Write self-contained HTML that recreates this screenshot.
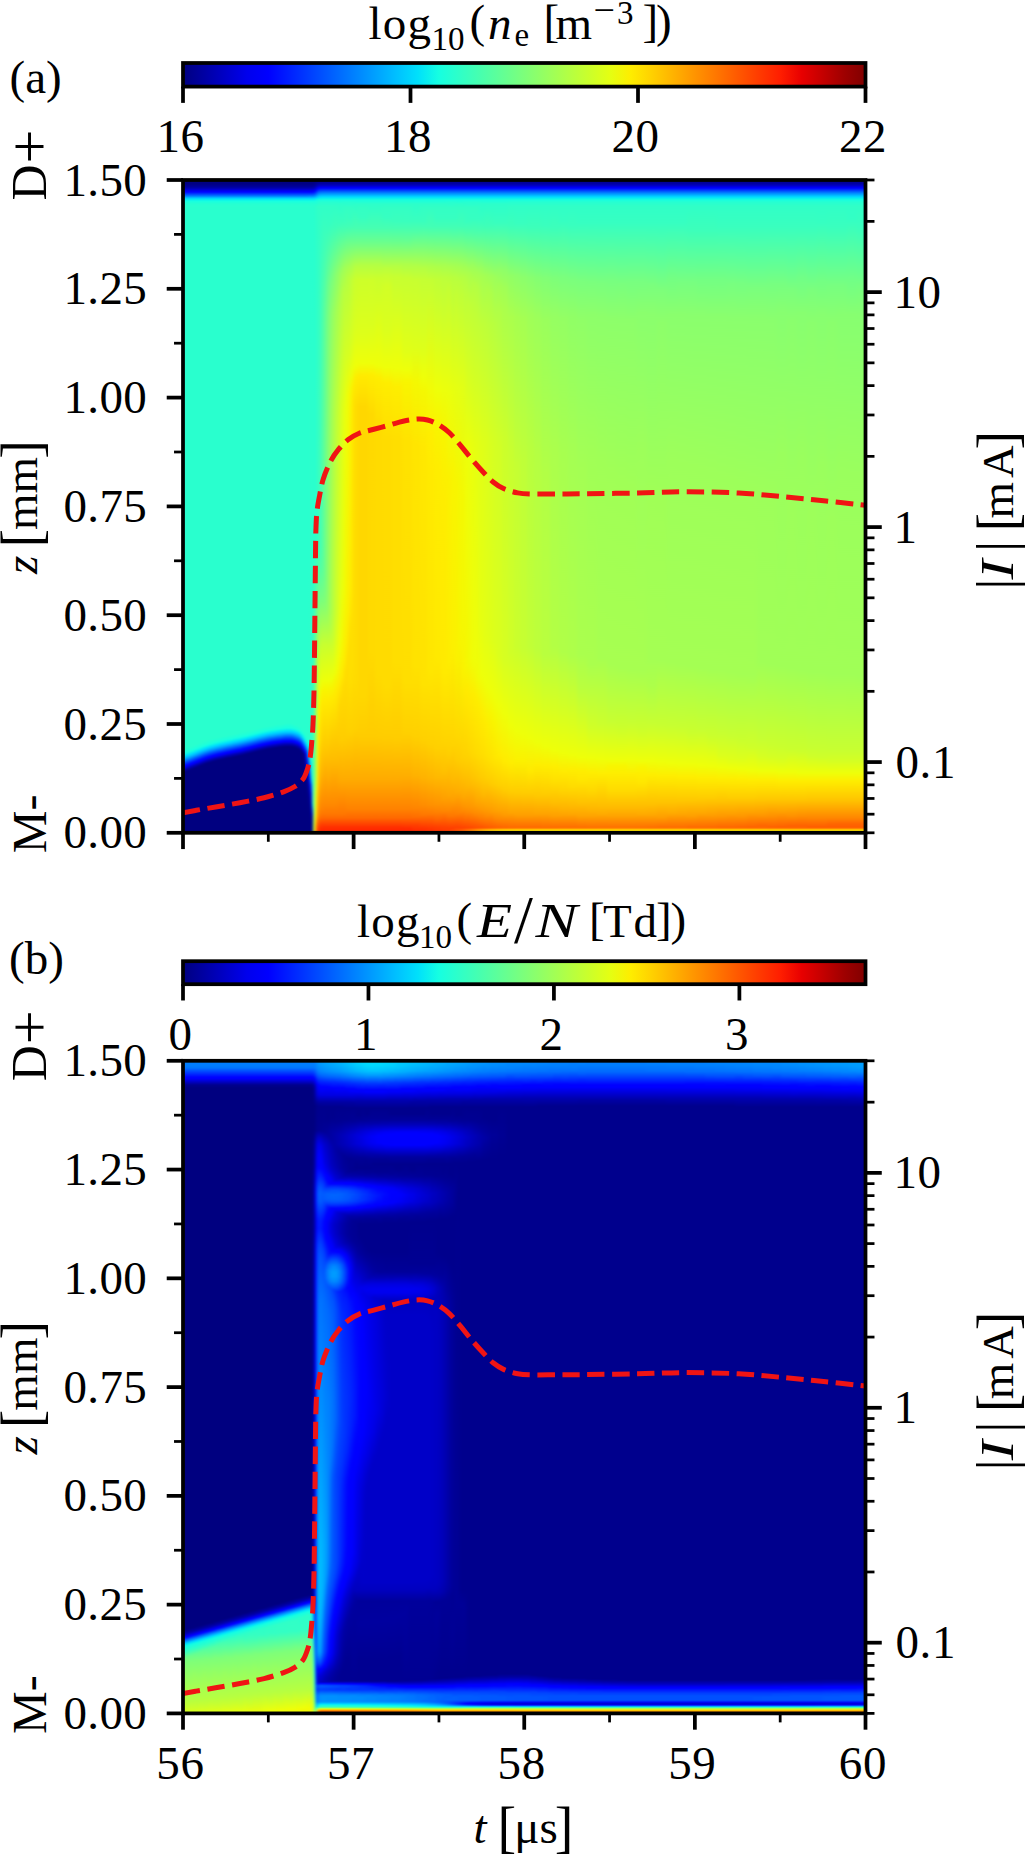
<!DOCTYPE html>
<html lang="en">
<head>
<meta charset="utf-8">
<title>Figure</title>
<style>html,body{margin:0;padding:0;background:#fff}#fig{position:relative;width:1025px;height:1855px;overflow:hidden;background:#fff}.hm{position:absolute;overflow:hidden}.in{position:absolute;left:-8px;right:-8px;top:0;bottom:0;filter:url(#hb)}.in i{position:absolute;top:0;bottom:0;display:block}svg{position:absolute;left:0;top:0;display:block}</style>
</head>
<body>
<div id="fig">
<div class="hm" style="left:183px;top:180px;width:683px;height:653px"><div class="in">
<i style="left:0px;width:10px;background:linear-gradient(#000080 0%,#000084 .61%,#00009f 1.07%,#0000c4 1.38%,#0000f6 1.68%,#0004ff 1.84%,#003cff 2.14%,#007cff 2.45%,#00c8ff 2.76%,#00e4f8 2.91%,#16ffe1 3.22%,#26ffd1 3.68%,#29ffce 4.13%,#29ffce 87.14%,#1cffdb 87.75%,#0cf4eb 88.06%,#00e4f8 88.21%,#00c4ff 88.51%,#0098ff 88.82%,#0018ff 89.59%,#0004ff 89.74%,#0000fa 89.89%,#0000a8 90.35%,#000084 90.66%,#000080 90.81%,#000080 100%)"></i>
<i style="left:9px;width:2px;background:linear-gradient(#000080 0%,#000084 .61%,#00009f 1.07%,#0000c4 1.38%,#0000f6 1.68%,#0004ff 1.84%,#003cff 2.14%,#007cff 2.45%,#00c8ff 2.76%,#00e4f8 2.91%,#16ffe1 3.22%,#26ffd1 3.68%,#29ffce 4.13%,#29ffce 87.14%,#19ffde 87.75%,#09f0ee 88.06%,#00d0ff 88.36%,#00a8ff 88.67%,#0058ff 89.13%,#0000ff 89.74%,#0000f1 89.89%,#00008d 90.51%,#000080 90.66%,#000080 100%)"></i>
<i style="left:10px;width:2px;background:linear-gradient(#000080 0%,#000084 .61%,#00009f 1.07%,#0000c4 1.38%,#0000f6 1.68%,#0004ff 1.84%,#003cff 2.14%,#007cff 2.45%,#00c8ff 2.76%,#00e4f8 2.91%,#16ffe1 3.22%,#26ffd1 3.68%,#29ffce 4.13%,#29ffce 86.98%,#23ffd4 87.44%,#16ffe1 87.75%,#00dcfe 88.21%,#00a0ff 88.67%,#0020ff 89.43%,#0000ff 89.74%,#00009b 90.35%,#000080 90.66%,#000080 100%)"></i>
<i style="left:11px;width:2px;background:linear-gradient(#000080 0%,#000084 .61%,#00009f 1.07%,#0000c4 1.38%,#0000f6 1.68%,#0004ff 1.84%,#003cff 2.14%,#007cff 2.45%,#00c8ff 2.76%,#00e4f8 2.91%,#16ffe1 3.22%,#26ffd1 3.68%,#29ffce 4.13%,#29ffce 86.98%,#1cffdb 87.6%,#0cf4eb 87.9%,#00e4f8 88.06%,#00c4ff 88.36%,#0004ff 89.59%,#0000fa 89.74%,#0000a8 90.2%,#000084 90.51%,#000080 90.66%,#000080 100%)"></i>
<i style="left:12px;width:2px;background:linear-gradient(#000080 0%,#000084 .61%,#00009f 1.07%,#0000c4 1.38%,#0000f6 1.68%,#0004ff 1.84%,#003cff 2.14%,#007cff 2.45%,#00c8ff 2.76%,#00e4f8 2.91%,#16ffe1 3.22%,#26ffd1 3.68%,#29ffce 4.13%,#29ffce 86.98%,#19ffde 87.6%,#09f0ee 87.9%,#00d0ff 88.21%,#00a8ff 88.51%,#0058ff 88.97%,#0000ff 89.59%,#0000f1 89.74%,#00008d 90.35%,#000080 90.51%,#000080 100%)"></i>
<i style="left:13px;width:2px;background:linear-gradient(#000080 0%,#000084 .61%,#00009f 1.07%,#0000c4 1.38%,#0000f6 1.68%,#0004ff 1.84%,#003cff 2.14%,#007cff 2.45%,#00c8ff 2.76%,#00e4f8 2.91%,#16ffe1 3.22%,#26ffd1 3.68%,#29ffce 4.13%,#29ffce 86.83%,#23ffd4 87.29%,#16ffe1 87.6%,#00dcfe 88.06%,#00a0ff 88.51%,#0020ff 89.28%,#0000ff 89.59%,#00009b 90.2%,#000080 90.51%,#000080 100%)"></i>
<i style="left:14px;width:2px;background:linear-gradient(#000080 0%,#000084 .61%,#00009f 1.07%,#0000c4 1.38%,#0000f6 1.68%,#0004ff 1.84%,#003cff 2.14%,#007cff 2.45%,#00c8ff 2.76%,#00e4f8 2.91%,#16ffe1 3.22%,#26ffd1 3.68%,#29ffce 4.13%,#29ffce 86.83%,#19ffde 87.44%,#0cf4eb 87.75%,#00e4f8 87.9%,#00c4ff 88.21%,#0098ff 88.51%,#0018ff 89.28%,#0004ff 89.43%,#0000fa 89.59%,#0000bf 89.89%,#000092 90.2%,#000080 90.51%,#000080 100%)"></i>
<i style="left:15px;width:2px;background:linear-gradient(#000080 0%,#000084 .61%,#00009f 1.07%,#0000c4 1.38%,#0000f6 1.68%,#0004ff 1.84%,#003cff 2.14%,#007cff 2.45%,#00c8ff 2.76%,#00e4f8 2.91%,#16ffe1 3.22%,#26ffd1 3.68%,#29ffce 4.13%,#29ffce 86.83%,#19ffde 87.44%,#00e0fb 87.9%,#00bcff 88.21%,#0010ff 89.28%,#0000ff 89.43%,#0000ed 89.59%,#00009f 90.05%,#000080 90.35%,#000080 100%)"></i>
<i style="left:16px;width:2px;background:linear-gradient(#000080 0%,#000084 .61%,#00009f 1.07%,#0000c4 1.38%,#0000f6 1.68%,#0004ff 1.84%,#003cff 2.14%,#007cff 2.45%,#00c8ff 2.76%,#00e4f8 2.91%,#16ffe1 3.22%,#26ffd1 3.68%,#29ffce 4.13%,#29ffce 86.68%,#23ffd4 87.14%,#16ffe1 87.44%,#02e8f4 87.75%,#00d8ff 87.9%,#00c8ff 88.06%,#0084ff 88.51%,#0034ff 88.97%,#0008ff 89.28%,#0000ff 89.43%,#0000ad 89.89%,#000089 90.2%,#000080 90.35%,#000080 100%)"></i>
<i style="left:17px;width:2px;background:linear-gradient(#000080 0%,#000084 .61%,#00009f 1.07%,#0000c4 1.38%,#0000f6 1.68%,#0004ff 1.84%,#003cff 2.14%,#007cff 2.45%,#00c8ff 2.76%,#00e4f8 2.91%,#16ffe1 3.22%,#26ffd1 3.68%,#29ffce 4.13%,#29ffce 86.68%,#19ffde 87.29%,#13fce4 87.44%,#00e4f8 87.75%,#00d4ff 87.9%,#00acff 88.21%,#005cff 88.67%,#0000ff 89.28%,#0000f6 89.43%,#0000bb 89.74%,#000080 90.2%,#000080 100%)"></i>
<i style="left:18px;width:2px;background:linear-gradient(#000080 0%,#000084 .61%,#00009f 1.07%,#0000c4 1.38%,#0000f6 1.68%,#0004ff 1.84%,#003cff 2.14%,#007cff 2.45%,#00c8ff 2.76%,#00e4f8 2.91%,#16ffe1 3.22%,#26ffd1 3.68%,#29ffce 4.13%,#29ffce 86.52%,#23ffd4 86.98%,#16ffe1 87.29%,#06ecf1 87.6%,#00dcfe 87.75%,#00ccff 87.9%,#00a4ff 88.21%,#006cff 88.51%,#000cff 89.13%,#0000ff 89.28%,#0000ed 89.43%,#0000b2 89.74%,#000089 90.05%,#000080 90.2%,#000080 100%)"></i>
<i style="left:19px;width:2px;background:linear-gradient(#000080 0%,#000084 .61%,#00009f 1.07%,#0000c4 1.38%,#0000f6 1.68%,#0004ff 1.84%,#003cff 2.14%,#007cff 2.45%,#00c8ff 2.76%,#00e4f8 2.91%,#16ffe1 3.22%,#26ffd1 3.68%,#29ffce 4.13%,#29ffce 86.52%,#1cffdb 87.14%,#0cf4eb 87.44%,#00d8ff 87.75%,#00b0ff 88.06%,#0048ff 88.67%,#0004ff 89.13%,#0000fa 89.28%,#0000a8 89.74%,#000084 90.05%,#000080 90.2%,#000080 100%)"></i>
<i style="left:20px;width:2px;background:linear-gradient(#000080 0%,#000084 .61%,#00009f 1.07%,#0000c4 1.38%,#0000f6 1.68%,#0004ff 1.84%,#003cff 2.14%,#007cff 2.45%,#00c8ff 2.76%,#00e4f8 2.91%,#16ffe1 3.22%,#26ffd1 3.68%,#29ffce 4.13%,#29ffce 86.52%,#19ffde 87.14%,#09f0ee 87.44%,#00d0ff 87.75%,#00a8ff 88.06%,#0058ff 88.51%,#0000ff 89.13%,#0000f1 89.28%,#0000b6 89.59%,#000080 90.05%,#000080 100%)"></i>
<i style="left:21px;width:2px;background:linear-gradient(#000080 0%,#000084 .61%,#00009f 1.07%,#0000c4 1.38%,#0000f6 1.68%,#0004ff 1.84%,#003cff 2.14%,#007cff 2.45%,#00c8ff 2.76%,#00e4f8 2.91%,#16ffe1 3.22%,#26ffd1 3.68%,#29ffce 4.13%,#29ffce 86.37%,#23ffd4 86.83%,#16ffe1 87.14%,#02e8f4 87.44%,#00d8ff 87.6%,#00c8ff 87.75%,#00a0ff 88.06%,#0068ff 88.36%,#0008ff 88.97%,#0000ff 89.13%,#0000ad 89.59%,#000089 89.89%,#000080 90.05%,#000080 100%)"></i>
<i style="left:22px;width:2px;background:linear-gradient(#000080 0%,#000084 .61%,#00009f 1.07%,#0000c4 1.38%,#0000f6 1.68%,#0004ff 1.84%,#003cff 2.14%,#007cff 2.45%,#00c8ff 2.76%,#00e4f8 2.91%,#16ffe1 3.22%,#26ffd1 3.68%,#29ffce 4.13%,#29ffce 86.37%,#19ffde 86.98%,#13fce4 87.14%,#00e4f8 87.44%,#00d4ff 87.6%,#00acff 87.9%,#0044ff 88.51%,#0000ff 88.97%,#0000f6 89.13%,#000092 89.74%,#000080 90.05%,#000080 100%)"></i>
<i style="left:23px;width:2px;background:linear-gradient(#000080 0%,#000084 .61%,#00009f 1.07%,#0000c4 1.38%,#0000f6 1.68%,#0004ff 1.84%,#003cff 2.14%,#007cff 2.45%,#00c8ff 2.76%,#00e4f8 2.91%,#16ffe1 3.22%,#26ffd1 3.68%,#29ffce 4.13%,#29ffce 86.22%,#23ffd4 86.68%,#16ffe1 86.98%,#06ecf1 87.29%,#00dcfe 87.44%,#00ccff 87.6%,#00a4ff 87.9%,#0024ff 88.67%,#0000ff 88.97%,#0000ed 89.13%,#0000b2 89.43%,#000089 89.74%,#000080 89.89%,#000080 100%)"></i>
<i style="left:24px;width:2px;background:linear-gradient(#000080 0%,#000084 .61%,#00009f 1.07%,#0000c4 1.38%,#0000f6 1.68%,#0004ff 1.84%,#003cff 2.14%,#007cff 2.45%,#00c8ff 2.76%,#00e4f8 2.91%,#16ffe1 3.22%,#26ffd1 3.68%,#29ffce 4.13%,#29ffce 86.22%,#1cffdb 86.83%,#0cf4eb 87.14%,#00d8ff 87.44%,#00b0ff 87.75%,#0004ff 88.82%,#0000ff 88.97%,#0000c4 89.28%,#000096 89.59%,#000084 89.74%,#000080 89.89%,#000080 100%)"></i>
<i style="left:25px;width:2px;background:linear-gradient(#000080 0%,#000084 .61%,#00009f 1.07%,#0000c4 1.38%,#0000f6 1.68%,#0004ff 1.84%,#003cff 2.14%,#007cff 2.45%,#00c8ff 2.76%,#00e4f8 2.91%,#16ffe1 3.22%,#26ffd1 3.68%,#29ffce 4.13%,#29ffce 86.22%,#19ffde 86.83%,#09f0ee 87.14%,#00d0ff 87.44%,#00a8ff 87.75%,#0058ff 88.21%,#0000ff 88.82%,#0000f1 88.97%,#00008d 89.59%,#000080 89.74%,#000080 100%)"></i>
<i style="left:26px;width:2px;background:linear-gradient(#000080 0%,#000084 .61%,#00009f 1.07%,#0000c4 1.38%,#0000f6 1.68%,#0004ff 1.84%,#003cff 2.14%,#007cff 2.45%,#00c8ff 2.76%,#00e4f8 2.91%,#16ffe1 3.22%,#26ffd1 3.68%,#29ffce 4.13%,#29ffce 86.06%,#23ffd4 86.52%,#16ffe1 86.83%,#00dcfe 87.29%,#00a0ff 87.75%,#0020ff 88.51%,#0000ff 88.82%,#00009b 89.43%,#000080 89.74%,#000080 100%)"></i>
<i style="left:27px;width:2px;background:linear-gradient(#000080 0%,#000084 .61%,#00009f 1.07%,#0000c4 1.38%,#0000f6 1.68%,#0004ff 1.84%,#003cff 2.14%,#007cff 2.45%,#00c8ff 2.76%,#00e4f8 2.91%,#16ffe1 3.22%,#26ffd1 3.68%,#29ffce 4.13%,#29ffce 86.06%,#19ffde 86.68%,#13fce4 86.83%,#00e4f8 87.14%,#00d4ff 87.29%,#0098ff 87.75%,#0060ff 88.06%,#0000ff 88.67%,#0000fa 88.82%,#0000bf 89.13%,#000092 89.43%,#000080 89.74%,#000080 100%)"></i>
<i style="left:28px;width:2px;background:linear-gradient(#000080 0%,#000084 .61%,#00009f 1.07%,#0000c4 1.38%,#0000f6 1.68%,#0004ff 1.84%,#003cff 2.14%,#007cff 2.45%,#00c8ff 2.76%,#00e4f8 2.91%,#16ffe1 3.22%,#26ffd1 3.68%,#29ffce 4.13%,#29ffce 85.91%,#19ffde 86.68%,#00e0fb 87.14%,#00bcff 87.44%,#003cff 88.21%,#0000ff 88.67%,#0000ed 88.82%,#00009f 89.28%,#000080 89.59%,#000080 100%)"></i>
<i style="left:29px;width:2px;background:linear-gradient(#000080 0%,#000084 .61%,#00009f 1.07%,#0000c4 1.38%,#0000f6 1.68%,#0004ff 1.84%,#003cff 2.14%,#007cff 2.45%,#00c8ff 2.76%,#00e4f8 2.91%,#16ffe1 3.22%,#26ffd1 3.68%,#29ffce 4.13%,#29ffce 85.91%,#23ffd4 86.37%,#16ffe1 86.68%,#02e8f4 86.98%,#00d8ff 87.14%,#00c8ff 87.29%,#0084ff 87.75%,#0034ff 88.21%,#0008ff 88.51%,#0000ff 88.67%,#0000ad 89.13%,#000084 89.43%,#000080 89.59%,#000080 100%)"></i>
<i style="left:30px;width:2px;background:linear-gradient(#000080 0%,#000084 .61%,#00009f 1.07%,#0000c4 1.38%,#0000f6 1.68%,#0004ff 1.84%,#003cff 2.14%,#007cff 2.45%,#00c8ff 2.76%,#00e4f8 2.91%,#16ffe1 3.22%,#26ffd1 3.68%,#29ffce 4.13%,#29ffce 85.91%,#19ffde 86.52%,#13fce4 86.68%,#00e4f8 86.98%,#00d4ff 87.14%,#00acff 87.44%,#005cff 87.9%,#0000ff 88.51%,#0000f6 88.67%,#0000bb 88.97%,#000080 89.43%,#000080 100%)"></i>
<i style="left:31px;width:2px;background:linear-gradient(#000080 0%,#000084 .61%,#00009f 1.07%,#0000c4 1.38%,#0000f6 1.68%,#0004ff 1.84%,#003cff 2.14%,#007cff 2.45%,#00c8ff 2.76%,#00e4f8 2.91%,#16ffe1 3.22%,#26ffd1 3.68%,#29ffce 4.13%,#29ffce 85.76%,#1fffd7 86.37%,#16ffe1 86.52%,#06ecf1 86.83%,#00dcfe 86.98%,#00ccff 87.14%,#00a4ff 87.44%,#0024ff 88.21%,#0000ff 88.51%,#0000ed 88.67%,#0000cd 88.82%,#00009f 89.13%,#000080 89.43%,#000080 100%)"></i>
<i style="left:32px;width:2px;background:linear-gradient(#000080 0%,#000084 .61%,#00009f 1.07%,#0000c4 1.38%,#0000f6 1.68%,#0004ff 1.84%,#003cff 2.14%,#007cff 2.45%,#00c8ff 2.76%,#00e4f8 2.91%,#16ffe1 3.22%,#26ffd1 3.68%,#29ffce 4.13%,#29ffce 85.76%,#23ffd4 86.22%,#16ffe1 86.52%,#02e8f4 86.83%,#00d8ff 86.98%,#00c8ff 87.14%,#009cff 87.44%,#001cff 88.21%,#0008ff 88.36%,#0000ff 88.51%,#0000c4 88.82%,#000096 89.13%,#000084 89.28%,#000080 89.43%,#000080 100%)"></i>
<i style="left:33px;width:2px;background:linear-gradient(#000080 0%,#000084 .61%,#00009f 1.07%,#0000c4 1.38%,#0000f6 1.68%,#0004ff 1.84%,#003cff 2.14%,#007cff 2.45%,#00c8ff 2.76%,#00e4f8 2.91%,#16ffe1 3.22%,#26ffd1 3.68%,#29ffce 4.13%,#29ffce 85.76%,#19ffde 86.37%,#13fce4 86.52%,#00e4f8 86.83%,#00d4ff 86.98%,#00acff 87.29%,#005cff 87.75%,#0000ff 88.36%,#0000f6 88.51%,#0000bb 88.82%,#000080 89.28%,#000080 100%)"></i>
<i style="left:34px;width:2px;background:linear-gradient(#000080 0%,#000084 .61%,#00009f 1.07%,#0000c4 1.38%,#0000f6 1.68%,#0004ff 1.84%,#003cff 2.14%,#007cff 2.45%,#00c8ff 2.76%,#00e4f8 2.91%,#16ffe1 3.22%,#26ffd1 3.68%,#29ffce 4.13%,#29ffce 85.6%,#19ffde 86.37%,#00e0fb 86.83%,#00a4ff 87.29%,#003cff 87.9%,#0000ff 88.36%,#0000ed 88.51%,#00009f 88.97%,#000080 89.28%,#000080 100%)"></i>
<i style="left:35px;width:2px;background:linear-gradient(#000080 0%,#000084 .61%,#00009f 1.07%,#0000c4 1.38%,#0000f6 1.68%,#0004ff 1.84%,#003cff 2.14%,#007cff 2.45%,#00c8ff 2.76%,#00e4f8 2.91%,#16ffe1 3.22%,#26ffd1 3.68%,#29ffce 4.13%,#29ffce 85.6%,#23ffd4 86.06%,#16ffe1 86.37%,#02e8f4 86.68%,#00d8ff 86.83%,#00c8ff 86.98%,#0008ff 88.21%,#0000ff 88.36%,#0000ad 88.82%,#000089 89.13%,#000080 89.28%,#000080 100%)"></i>
<i style="left:36px;width:2px;background:linear-gradient(#000080 0%,#000084 .61%,#00009f 1.07%,#0000c4 1.38%,#0000f6 1.68%,#0004ff 1.84%,#003cff 2.14%,#007cff 2.45%,#00c8ff 2.76%,#00e4f8 2.91%,#16ffe1 3.22%,#26ffd1 3.68%,#29ffce 4.13%,#29ffce 85.6%,#19ffde 86.22%,#0cf4eb 86.52%,#00e4f8 86.68%,#00c4ff 86.98%,#0098ff 87.29%,#0018ff 88.06%,#0004ff 88.21%,#0000fa 88.36%,#0000a8 88.82%,#000084 89.13%,#000080 89.28%,#000080 100%)"></i>
<i style="left:37px;width:2px;background:linear-gradient(#000080 0%,#000084 .61%,#00009f 1.07%,#0000c4 1.38%,#0000f6 1.68%,#0004ff 1.84%,#003cff 2.14%,#007cff 2.45%,#00c8ff 2.76%,#00e4f8 2.91%,#16ffe1 3.22%,#26ffd1 3.68%,#29ffce 4.13%,#29ffce 85.6%,#19ffde 86.22%,#09f0ee 86.52%,#00d0ff 86.83%,#00a8ff 87.14%,#0058ff 87.6%,#0000ff 88.21%,#0000f1 88.36%,#00008d 88.97%,#000080 89.13%,#000080 100%)"></i>
<i style="left:38px;width:2px;background:linear-gradient(#000080 0%,#000084 .61%,#00009f 1.07%,#0000c4 1.38%,#0000f6 1.68%,#0004ff 1.84%,#003cff 2.14%,#007cff 2.45%,#00c8ff 2.76%,#00e4f8 2.91%,#16ffe1 3.22%,#26ffd1 3.68%,#29ffce 4.13%,#29ffce 85.45%,#23ffd4 85.91%,#16ffe1 86.22%,#06ecf1 86.52%,#00dcfe 86.68%,#00ccff 86.83%,#00a4ff 87.14%,#006cff 87.44%,#000cff 88.06%,#0000ff 88.21%,#0000b2 88.67%,#000089 88.97%,#000080 89.13%,#000080 100%)"></i>
<i style="left:39px;width:2px;background:linear-gradient(#000080 0%,#000084 .61%,#00009f 1.07%,#0000c4 1.38%,#0000f6 1.68%,#0004ff 1.84%,#003cff 2.14%,#007cff 2.45%,#00c8ff 2.76%,#00e4f8 2.91%,#16ffe1 3.22%,#26ffd1 3.68%,#29ffce 4.13%,#29ffce 85.45%,#23ffd4 85.91%,#16ffe1 86.22%,#02e8f4 86.52%,#00d8ff 86.68%,#00c8ff 86.83%,#009cff 87.14%,#001cff 87.9%,#0008ff 88.06%,#0000ff 88.21%,#0000c4 88.51%,#000096 88.82%,#000084 88.97%,#000080 89.13%,#000080 100%)"></i>
<i style="left:40px;width:2px;background:linear-gradient(#000080 0%,#000084 .61%,#00009f 1.07%,#0000c4 1.38%,#0000f6 1.68%,#0004ff 1.84%,#003cff 2.14%,#007cff 2.45%,#00c8ff 2.76%,#00e4f8 2.91%,#16ffe1 3.22%,#26ffd1 3.68%,#29ffce 4.13%,#29ffce 85.45%,#19ffde 86.06%,#13fce4 86.22%,#00e4f8 86.52%,#00d4ff 86.68%,#00acff 86.98%,#0000ff 88.06%,#0000fa 88.21%,#0000bf 88.51%,#000092 88.82%,#000080 89.13%,#000080 100%)"></i>
<i style="left:41px;width:2px;background:linear-gradient(#000080 0%,#000084 .61%,#00009f 1.07%,#0000c4 1.38%,#0000f6 1.68%,#0004ff 1.84%,#003cff 2.14%,#007cff 2.45%,#00c8ff 2.76%,#00e4f8 2.91%,#16ffe1 3.22%,#26ffd1 3.68%,#29ffce 4.13%,#29ffce 85.45%,#19ffde 86.06%,#09f0ee 86.37%,#00d0ff 86.68%,#00a8ff 86.98%,#0058ff 87.44%,#0000ff 88.06%,#0000f1 88.21%,#00008d 88.82%,#000080 88.97%,#000080 100%)"></i>
<i style="left:42px;width:2px;background:linear-gradient(#000080 0%,#000084 .61%,#00009f 1.07%,#0000c4 1.38%,#0000f6 1.68%,#0004ff 1.84%,#003cff 2.14%,#007cff 2.45%,#00c8ff 2.76%,#00e4f8 2.91%,#16ffe1 3.22%,#26ffd1 3.68%,#29ffce 4.13%,#29ffce 85.3%,#23ffd4 85.76%,#16ffe1 86.06%,#06ecf1 86.37%,#00dcfe 86.52%,#00ccff 86.68%,#00a4ff 86.98%,#006cff 87.29%,#000cff 87.9%,#0000ff 88.06%,#0000ed 88.21%,#0000b2 88.51%,#000089 88.82%,#000080 88.97%,#000080 100%)"></i>
<i style="left:43px;width:2px;background:linear-gradient(#000080 0%,#000084 .61%,#00009f 1.07%,#0000c4 1.38%,#0000f6 1.68%,#0004ff 1.84%,#003cff 2.14%,#007cff 2.45%,#00c8ff 2.76%,#00e4f8 2.91%,#16ffe1 3.22%,#26ffd1 3.68%,#29ffce 4.13%,#29ffce 85.3%,#23ffd4 85.76%,#16ffe1 86.06%,#02e8f4 86.37%,#00d8ff 86.52%,#00c8ff 86.68%,#0084ff 87.14%,#0034ff 87.6%,#0008ff 87.9%,#0000ff 88.06%,#0000ad 88.51%,#000084 88.82%,#000080 88.97%,#000080 100%)"></i>
<i style="left:44px;width:2px;background:linear-gradient(#000080 0%,#000084 .61%,#00009f 1.07%,#0000c4 1.38%,#0000f6 1.68%,#0004ff 1.84%,#003cff 2.14%,#007cff 2.45%,#00c8ff 2.76%,#00e4f8 2.91%,#16ffe1 3.22%,#26ffd1 3.68%,#29ffce 4.13%,#29ffce 85.3%,#19ffde 85.91%,#0cf4eb 86.22%,#00e4f8 86.37%,#00c4ff 86.68%,#0098ff 86.98%,#0018ff 87.75%,#0004ff 87.9%,#0000fa 88.06%,#0000a8 88.51%,#000084 88.82%,#000080 88.97%,#000080 100%)"></i>
<i style="left:45px;width:2px;background:linear-gradient(#000080 0%,#000084 .61%,#00009f 1.07%,#0000c4 1.38%,#0000f6 1.68%,#0004ff 1.84%,#003cff 2.14%,#007cff 2.45%,#00c8ff 2.76%,#00e4f8 2.91%,#16ffe1 3.22%,#26ffd1 3.68%,#29ffce 4.13%,#29ffce 85.3%,#19ffde 85.91%,#13fce4 86.06%,#00e0fb 86.37%,#00d0ff 86.52%,#00a8ff 86.83%,#0000ff 87.9%,#0000f1 88.06%,#0000bb 88.36%,#000080 88.82%,#000080 100%)"></i>
<i style="left:46px;width:2px;background:linear-gradient(#000080 0%,#000084 .61%,#00009f 1.07%,#0000c4 1.38%,#0000f6 1.68%,#0004ff 1.84%,#003cff 2.14%,#007cff 2.45%,#00c8ff 2.76%,#00e4f8 2.91%,#16ffe1 3.22%,#26ffd1 3.68%,#29ffce 4.13%,#29ffce 85.15%,#1fffd7 85.76%,#16ffe1 85.91%,#00e0fb 86.37%,#00a4ff 86.83%,#0024ff 87.6%,#0000ff 87.9%,#0000ed 88.06%,#00009f 88.51%,#000080 88.82%,#000080 100%)"></i>
<i style="left:47px;width:2px;background:linear-gradient(#000080 0%,#000084 .61%,#00009f 1.07%,#0000c4 1.38%,#0000f6 1.68%,#0004ff 1.84%,#003cff 2.14%,#007cff 2.45%,#00c8ff 2.76%,#00e4f8 2.91%,#16ffe1 3.22%,#26ffd1 3.68%,#29ffce 4.13%,#29ffce 85.15%,#23ffd4 85.6%,#16ffe1 85.91%,#00dcfe 86.37%,#00a0ff 86.83%,#0020ff 87.6%,#0000ff 87.9%,#00009b 88.51%,#000080 88.82%,#000080 100%)"></i>
<i style="left:48px;width:2px;background:linear-gradient(#000080 0%,#000084 .61%,#00009f 1.07%,#0000c4 1.38%,#0000f6 1.68%,#0004ff 1.84%,#003cff 2.14%,#007cff 2.45%,#00c8ff 2.76%,#00e4f8 2.91%,#16ffe1 3.22%,#26ffd1 3.68%,#29ffce 4.13%,#29ffce 85.15%,#1cffdb 85.76%,#0cf4eb 86.06%,#00d8ff 86.37%,#00b0ff 86.68%,#0004ff 87.75%,#0000ff 87.9%,#0000c4 88.21%,#000096 88.51%,#000084 88.67%,#000080 88.82%,#000080 100%)"></i>
<i style="left:49px;width:2px;background:linear-gradient(#000080 0%,#000084 .61%,#00009f 1.07%,#0000c4 1.38%,#0000f6 1.68%,#0004ff 1.84%,#003cff 2.14%,#007cff 2.45%,#00c8ff 2.76%,#00e4f8 2.91%,#16ffe1 3.22%,#26ffd1 3.68%,#29ffce 4.13%,#29ffce 85.15%,#19ffde 85.76%,#13fce4 85.91%,#00e4f8 86.22%,#00d4ff 86.37%,#00acff 86.68%,#0044ff 87.29%,#0000ff 87.75%,#0000f6 87.9%,#000092 88.51%,#000080 88.82%,#000080 100%)"></i>
<i style="left:50px;width:2px;background:linear-gradient(#000080 0%,#000084 .61%,#00009f 1.07%,#0000c4 1.38%,#0000f6 1.68%,#0004ff 1.84%,#003cff 2.14%,#007cff 2.45%,#00c8ff 2.76%,#00e4f8 2.91%,#16ffe1 3.22%,#26ffd1 3.68%,#29ffce 4.13%,#29ffce 85.15%,#19ffde 85.76%,#09f0ee 86.06%,#00d0ff 86.37%,#00a8ff 86.68%,#0058ff 87.14%,#0000ff 87.75%,#0000f1 87.9%,#0000b6 88.21%,#000080 88.67%,#000080 100%)"></i>
<i style="left:51px;width:2px;background:linear-gradient(#000080 0%,#000084 .61%,#00009f 1.07%,#0000c4 1.38%,#0000f6 1.68%,#0004ff 1.84%,#003cff 2.14%,#007cff 2.45%,#00c8ff 2.76%,#00e4f8 2.91%,#16ffe1 3.22%,#26ffd1 3.68%,#29ffce 4.13%,#29ffce 84.99%,#23ffd4 85.45%,#16ffe1 85.76%,#06ecf1 86.06%,#00dcfe 86.22%,#00ccff 86.37%,#00a4ff 86.68%,#006cff 86.98%,#000cff 87.6%,#0000ff 87.75%,#0000ed 87.9%,#0000b2 88.21%,#000089 88.51%,#000080 88.67%,#000080 100%)"></i>
<i style="left:52px;width:3px;background:linear-gradient(#000080 0%,#000084 .61%,#00009f 1.07%,#0000c4 1.38%,#0000f6 1.68%,#0004ff 1.84%,#003cff 2.14%,#007cff 2.45%,#00c8ff 2.76%,#00e4f8 2.91%,#16ffe1 3.22%,#26ffd1 3.68%,#29ffce 4.13%,#29ffce 84.99%,#1cffdb 85.6%,#0cf4eb 85.91%,#00d8ff 86.22%,#00c6ff 86.37%,#0006ff 87.6%,#0000fc 87.75%,#0000ab 88.21%,#000086 88.51%,#000080 88.67%,#000080 100%)"></i>
<i style="left:54px;width:2px;background:linear-gradient(#000080 0%,#000084 .61%,#00009f 1.07%,#0000c4 1.38%,#0000f6 1.68%,#0004ff 1.84%,#003cff 2.14%,#007cff 2.45%,#00c8ff 2.76%,#00e4f8 2.91%,#16ffe1 3.22%,#26ffd1 3.68%,#29ffce 4.13%,#29ffce 84.99%,#19ffde 85.6%,#13fce4 85.76%,#00e4f8 86.06%,#00d4ff 86.22%,#00acff 86.52%,#005cff 86.98%,#0000ff 87.6%,#0000f6 87.75%,#0000bb 88.06%,#000080 88.51%,#000080 100%)"></i>
<i style="left:55px;width:2px;background:linear-gradient(#000080 0%,#000084 .61%,#00009f 1.07%,#0000c4 1.38%,#0000f6 1.68%,#0004ff 1.84%,#003cff 2.14%,#007cff 2.45%,#00c8ff 2.76%,#00e4f8 2.91%,#16ffe1 3.22%,#26ffd1 3.68%,#29ffce 4.13%,#29ffce 84.99%,#19ffde 85.6%,#09f0ee 85.91%,#00d0ff 86.22%,#00a8ff 86.52%,#0010ff 87.44%,#0000ff 87.6%,#0000f1 87.75%,#0000b6 88.06%,#000080 88.51%,#000080 100%)"></i>
<i style="left:56px;width:2px;background:linear-gradient(#000080 0%,#000084 .61%,#00009f 1.07%,#0000c4 1.38%,#0000f6 1.68%,#0004ff 1.84%,#003cff 2.14%,#007cff 2.45%,#00c8ff 2.76%,#00e4f8 2.91%,#16ffe1 3.22%,#26ffd1 3.68%,#29ffce 4.13%,#29ffce 84.84%,#23ffd4 85.3%,#16ffe1 85.6%,#06ecf1 85.91%,#00dcfe 86.06%,#00ccff 86.22%,#00a4ff 86.52%,#006cff 86.83%,#000cff 87.44%,#0000ff 87.6%,#0000b2 88.06%,#000089 88.36%,#000080 88.51%,#000080 100%)"></i>
<i style="left:57px;width:2px;background:linear-gradient(#000080 0%,#000084 .61%,#00009f 1.07%,#0000c4 1.38%,#0000f6 1.68%,#0004ff 1.84%,#003cff 2.14%,#007cff 2.45%,#00c8ff 2.76%,#00e4f8 2.91%,#16ffe1 3.22%,#26ffd1 3.68%,#29ffce 4.13%,#29ffce 84.84%,#23ffd4 85.3%,#16ffe1 85.6%,#02e8f4 85.91%,#00d8ff 86.06%,#00c8ff 86.22%,#0084ff 86.68%,#0034ff 87.14%,#0008ff 87.44%,#0000ff 87.6%,#0000ad 88.06%,#000089 88.36%,#000080 88.51%,#000080 100%)"></i>
<i style="left:58px;width:2px;background:linear-gradient(#000080 0%,#000084 .61%,#00009f 1.07%,#0000c4 1.38%,#0000f6 1.68%,#0004ff 1.84%,#003cff 2.14%,#007cff 2.45%,#00c8ff 2.76%,#00e4f8 2.91%,#16ffe1 3.22%,#26ffd1 3.68%,#29ffce 4.13%,#29ffce 84.84%,#1cffdb 85.45%,#0cf4eb 85.76%,#00e4f8 85.91%,#00c4ff 86.22%,#0004ff 87.44%,#0000fa 87.6%,#0000a8 88.06%,#000084 88.36%,#000080 88.51%,#000080 100%)"></i>
<i style="left:59px;width:3px;background:linear-gradient(#000080 0%,#000084 .61%,#00009f 1.07%,#0000c4 1.38%,#0000f6 1.68%,#0004ff 1.84%,#003cff 2.14%,#007cff 2.45%,#00c8ff 2.76%,#00e4f8 2.91%,#16ffe1 3.22%,#26ffd1 3.68%,#29ffce 4.13%,#29ffce 84.84%,#19ffde 85.45%,#00e2f9 85.91%,#00beff 86.22%,#0012ff 87.29%,#0000ff 87.44%,#0000f3 87.6%,#0000b8 87.9%,#000080 88.36%,#000080 100%)"></i>
<i style="left:61px;width:2px;background:linear-gradient(#000080 0%,#000084 .61%,#00009f 1.07%,#0000c4 1.38%,#0000f6 1.68%,#0004ff 1.84%,#003cff 2.14%,#007cff 2.45%,#00c8ff 2.76%,#00e4f8 2.91%,#16ffe1 3.22%,#26ffd1 3.68%,#29ffce 4.13%,#29ffce 84.69%,#23ffd4 85.15%,#16ffe1 85.45%,#06ecf1 85.76%,#00dcfe 85.91%,#00ccff 86.06%,#0088ff 86.52%,#0038ff 86.98%,#000cff 87.29%,#0000ff 87.44%,#00009b 88.06%,#000080 88.36%,#000080 100%)"></i>
<i style="left:62px;width:3px;background:linear-gradient(#000080 0%,#000084 .61%,#00009f 1.07%,#0000c4 1.38%,#0000f6 1.68%,#0004ff 1.84%,#003cff 2.14%,#007cff 2.45%,#00c8ff 2.76%,#00e4f8 2.91%,#16ffe1 3.22%,#26ffd1 3.68%,#29ffce 4.13%,#29ffce 84.69%,#1bffdc 85.3%,#0cf4eb 85.6%,#01e6f6 85.76%,#00c6ff 86.06%,#009aff 86.37%,#0032ff 86.98%,#0006ff 87.29%,#0000fc 87.44%,#0000ab 87.9%,#000084 88.21%,#000080 88.36%,#000080 100%)"></i>
<i style="left:64px;width:2px;background:linear-gradient(#000080 0%,#000084 .61%,#00009f 1.07%,#0000c4 1.38%,#0000f6 1.68%,#0004ff 1.84%,#003cff 2.14%,#007cff 2.45%,#00c8ff 2.76%,#00e4f8 2.91%,#16ffe1 3.22%,#26ffd1 3.68%,#29ffce 4.13%,#29ffce 84.69%,#19ffde 85.3%,#13fce4 85.45%,#00e4f8 85.76%,#00c0ff 86.06%,#0000ff 87.29%,#0000f6 87.44%,#0000bb 87.75%,#000080 88.21%,#000080 100%)"></i>
<i style="left:65px;width:2px;background:linear-gradient(#000080 0%,#000084 .61%,#00009f 1.07%,#0000c4 1.38%,#0000f6 1.68%,#0004ff 1.84%,#003cff 2.14%,#007cff 2.45%,#00c8ff 2.76%,#00e4f8 2.91%,#16ffe1 3.22%,#26ffd1 3.68%,#29ffce 4.13%,#29ffce 84.53%,#19ffde 85.3%,#00e0fb 85.76%,#00bcff 86.06%,#003cff 86.83%,#0000ff 87.29%,#0000ed 87.44%,#00009f 87.9%,#000080 88.21%,#000080 100%)"></i>
<i style="left:66px;width:2px;background:linear-gradient(#000080 0%,#000084 .61%,#00009f 1.07%,#0000c4 1.38%,#0000f6 1.68%,#0004ff 1.84%,#003cff 2.14%,#007cff 2.45%,#00c8ff 2.76%,#00e4f8 2.91%,#16ffe1 3.22%,#26ffd1 3.68%,#29ffce 4.13%,#29ffce 84.53%,#23ffd4 84.99%,#16ffe1 85.3%,#00dcfe 85.76%,#00a0ff 86.22%,#0020ff 86.98%,#0000ff 87.29%,#00009b 87.9%,#000080 88.21%,#000080 100%)"></i>
<i style="left:67px;width:2px;background:linear-gradient(#000080 0%,#000084 .61%,#00009f 1.07%,#0000c4 1.38%,#0000f6 1.68%,#0004ff 1.84%,#003cff 2.14%,#007cff 2.45%,#00c8ff 2.76%,#00e4f8 2.91%,#16ffe1 3.22%,#26ffd1 3.68%,#29ffce 4.13%,#29ffce 84.53%,#1cffdb 85.15%,#0cf4eb 85.45%,#00d8ff 85.76%,#009cff 86.22%,#0064ff 86.52%,#0004ff 87.14%,#0000ff 87.29%,#0000c4 87.6%,#000096 87.9%,#000084 88.06%,#000080 88.21%,#000080 100%)"></i>
<i style="left:68px;width:2px;background:linear-gradient(#000080 0%,#000084 .61%,#00009f 1.07%,#0000c4 1.38%,#0000f6 1.68%,#0004ff 1.84%,#003cff 2.14%,#007cff 2.45%,#00c8ff 2.76%,#00e4f8 2.91%,#16ffe1 3.22%,#26ffd1 3.68%,#29ffce 4.13%,#29ffce 84.53%,#19ffde 85.15%,#13fce4 85.3%,#00e4f8 85.6%,#00d4ff 85.76%,#00acff 86.06%,#0044ff 86.68%,#0000ff 87.14%,#0000f6 87.29%,#000092 87.9%,#000080 88.21%,#000080 100%)"></i>
<i style="left:69px;width:2px;background:linear-gradient(#000080 0%,#000084 .61%,#00009f 1.07%,#0000c4 1.38%,#0000f6 1.68%,#0004ff 1.84%,#003cff 2.14%,#007cff 2.45%,#00c8ff 2.76%,#00e4f8 2.91%,#16ffe1 3.22%,#26ffd1 3.68%,#29ffce 4.13%,#29ffce 84.53%,#19ffde 85.15%,#09f0ee 85.45%,#00d0ff 85.76%,#0090ff 86.22%,#0010ff 86.98%,#0000ff 87.14%,#0000f1 87.29%,#0000b6 87.6%,#000080 88.06%,#000080 100%)"></i>
<i style="left:70px;width:2px;background:linear-gradient(#000080 0%,#000084 .61%,#00009f 1.07%,#0000c4 1.38%,#0000f6 1.68%,#0004ff 1.84%,#003cff 2.14%,#007cff 2.45%,#00c8ff 2.76%,#00e4f8 2.91%,#16ffe1 3.22%,#26ffd1 3.68%,#29ffce 4.13%,#29ffce 84.38%,#23ffd4 84.84%,#16ffe1 85.15%,#06ecf1 85.45%,#00dcfe 85.6%,#00ccff 85.76%,#000cff 86.98%,#0000ff 87.14%,#0000b2 87.6%,#000089 87.9%,#000080 88.06%,#000080 100%)"></i>
<i style="left:71px;width:2px;background:linear-gradient(#000080 0%,#000084 .61%,#00009f 1.07%,#0000c4 1.38%,#0000f6 1.68%,#0004ff 1.84%,#003cff 2.14%,#007cff 2.45%,#00c8ff 2.76%,#00e4f8 2.91%,#16ffe1 3.22%,#26ffd1 3.68%,#29ffce 4.13%,#29ffce 84.38%,#23ffd4 84.84%,#16ffe1 85.15%,#02e8f4 85.45%,#00d8ff 85.6%,#00c8ff 85.76%,#009cff 86.06%,#001cff 86.83%,#0008ff 86.98%,#0000ff 87.14%,#0000c4 87.44%,#000096 87.75%,#000084 87.9%,#000080 88.06%,#000080 100%)"></i>
<i style="left:72px;width:2px;background:linear-gradient(#000080 0%,#000084 .61%,#00009f 1.07%,#0000c4 1.38%,#0000f6 1.68%,#0004ff 1.84%,#003cff 2.14%,#007cff 2.45%,#00c8ff 2.76%,#00e4f8 2.91%,#16ffe1 3.22%,#26ffd1 3.68%,#29ffce 4.13%,#29ffce 84.38%,#19ffde 84.99%,#13fce4 85.15%,#00e4f8 85.45%,#00d4ff 85.6%,#00acff 85.91%,#0000ff 86.98%,#0000fa 87.14%,#0000bf 87.44%,#000092 87.75%,#000080 88.06%,#000080 100%)"></i>
<i style="left:73px;width:2px;background:linear-gradient(#000080 0%,#000084 .61%,#00009f 1.07%,#0000c4 1.38%,#0000f6 1.68%,#0004ff 1.84%,#003cff 2.14%,#007cff 2.45%,#00c8ff 2.76%,#00e4f8 2.91%,#16ffe1 3.22%,#26ffd1 3.68%,#29ffce 4.13%,#29ffce 84.38%,#19ffde 84.99%,#09f0ee 85.3%,#00d0ff 85.6%,#00a8ff 85.91%,#0058ff 86.37%,#0000ff 86.98%,#0000f1 87.14%,#00008d 87.75%,#000080 87.9%,#000080 100%)"></i>
<i style="left:74px;width:2px;background:linear-gradient(#000080 0%,#000084 .61%,#00009f 1.07%,#0000c4 1.38%,#0000f6 1.68%,#0004ff 1.84%,#003cff 2.14%,#007cff 2.45%,#00c8ff 2.76%,#00e4f8 2.91%,#16ffe1 3.22%,#26ffd1 3.68%,#29ffce 4.13%,#29ffce 84.23%,#23ffd4 84.69%,#16ffe1 84.99%,#06ecf1 85.3%,#00dcfe 85.45%,#00ccff 85.6%,#00a4ff 85.91%,#006cff 86.22%,#000cff 86.83%,#0000ff 86.98%,#0000b2 87.44%,#000089 87.75%,#000080 87.9%,#000080 100%)"></i>
<i style="left:75px;width:2px;background:linear-gradient(#000080 0%,#000084 .61%,#00009f 1.07%,#0000c4 1.38%,#0000f6 1.68%,#0004ff 1.84%,#003cff 2.14%,#007cff 2.45%,#00c8ff 2.76%,#00e4f8 2.91%,#16ffe1 3.22%,#26ffd1 3.68%,#29ffce 4.13%,#29ffce 84.23%,#23ffd4 84.69%,#16ffe1 84.99%,#02e8f4 85.3%,#00d8ff 85.45%,#00c8ff 85.6%,#0084ff 86.06%,#001cff 86.68%,#0008ff 86.83%,#0000ff 86.98%,#0000c4 87.29%,#000096 87.6%,#000084 87.75%,#000080 87.9%,#000080 100%)"></i>
<i style="left:76px;width:2px;background:linear-gradient(#000080 0%,#000084 .61%,#00009f 1.07%,#0000c4 1.38%,#0000f6 1.68%,#0004ff 1.84%,#003cff 2.14%,#007cff 2.45%,#00c8ff 2.76%,#00e4f8 2.91%,#16ffe1 3.22%,#26ffd1 3.68%,#29ffce 4.13%,#29ffce 84.23%,#19ffde 84.84%,#13fce4 84.99%,#00e4f8 85.3%,#00d4ff 85.45%,#00acff 85.76%,#0000ff 86.83%,#0000fa 86.98%,#0000bf 87.29%,#000092 87.6%,#000080 87.9%,#000080 100%)"></i>
<i style="left:77px;width:2px;background:linear-gradient(#000080 0%,#000084 .61%,#00009f 1.07%,#0000c4 1.38%,#0000f6 1.68%,#0004ff 1.84%,#003cff 2.14%,#007cff 2.45%,#00c8ff 2.76%,#00e4f8 2.91%,#16ffe1 3.22%,#26ffd1 3.68%,#29ffce 4.13%,#29ffce 84.23%,#19ffde 84.84%,#09f0ee 85.15%,#00d0ff 85.45%,#00a8ff 85.76%,#0058ff 86.22%,#0000ff 86.83%,#0000f1 86.98%,#00008d 87.6%,#000080 87.75%,#000080 100%)"></i>
<i style="left:78px;width:2px;background:linear-gradient(#000080 0%,#000084 .61%,#00009f 1.07%,#0000c4 1.38%,#0000f6 1.68%,#0004ff 1.84%,#003cff 2.14%,#007cff 2.45%,#00c8ff 2.76%,#00e4f8 2.91%,#16ffe1 3.22%,#26ffd1 3.68%,#29ffce 4.13%,#29ffce 84.07%,#23ffd4 84.53%,#16ffe1 84.84%,#06ecf1 85.15%,#00dcfe 85.3%,#00ccff 85.45%,#00a4ff 85.76%,#006cff 86.06%,#000cff 86.68%,#0000ff 86.83%,#0000b2 87.29%,#000089 87.6%,#000080 87.75%,#000080 100%)"></i>
<i style="left:79px;width:2px;background:linear-gradient(#000080 0%,#000084 .61%,#00009f 1.07%,#0000c4 1.38%,#0000f6 1.68%,#0004ff 1.84%,#003cff 2.14%,#007cff 2.45%,#00c8ff 2.76%,#00e4f8 2.91%,#16ffe1 3.22%,#26ffd1 3.68%,#29ffce 4.13%,#29ffce 84.07%,#23ffd4 84.53%,#16ffe1 84.84%,#02e8f4 85.15%,#00d8ff 85.3%,#00c8ff 85.45%,#009cff 85.76%,#001cff 86.52%,#0008ff 86.68%,#0000ff 86.83%,#0000c4 87.14%,#000096 87.44%,#000084 87.6%,#000080 87.75%,#000080 100%)"></i>
<i style="left:80px;width:2px;background:linear-gradient(#000080 0%,#000084 .61%,#00009f 1.07%,#0000c4 1.38%,#0000f6 1.68%,#0004ff 1.84%,#003cff 2.14%,#007cff 2.45%,#00c8ff 2.76%,#00e4f8 2.91%,#16ffe1 3.22%,#26ffd1 3.68%,#29ffce 4.13%,#29ffce 84.07%,#19ffde 84.69%,#13fce4 84.84%,#00e4f8 85.15%,#00d4ff 85.3%,#00acff 85.6%,#0000ff 86.68%,#0000f6 86.83%,#000092 87.44%,#000080 87.75%,#000080 100%)"></i>
<i style="left:81px;width:2px;background:linear-gradient(#000080 0%,#000084 .61%,#00009f 1.07%,#0000c4 1.38%,#0000f6 1.68%,#0004ff 1.84%,#003cff 2.14%,#007cff 2.45%,#00c8ff 2.76%,#00e4f8 2.91%,#16ffe1 3.22%,#26ffd1 3.68%,#29ffce 4.13%,#29ffce 84.07%,#19ffde 84.69%,#09f0ee 84.99%,#00d0ff 85.3%,#00a8ff 85.6%,#0058ff 86.06%,#0000ff 86.68%,#0000f1 86.83%,#0000b6 87.14%,#000080 87.6%,#000080 100%)"></i>
<i style="left:82px;width:2px;background:linear-gradient(#000080 0%,#000084 .61%,#00009f 1.07%,#0000c4 1.38%,#0000f6 1.68%,#0004ff 1.84%,#003cff 2.14%,#007cff 2.45%,#00c8ff 2.76%,#00e4f8 2.91%,#16ffe1 3.22%,#26ffd1 3.68%,#29ffce 4.13%,#29ffce 83.92%,#23ffd4 84.38%,#16ffe1 84.69%,#06ecf1 84.99%,#00dcfe 85.15%,#00ccff 85.3%,#000cff 86.52%,#0000ff 86.68%,#0000b2 87.14%,#000089 87.44%,#000080 87.6%,#000080 100%)"></i>
<i style="left:83px;width:2px;background:linear-gradient(#000080 0%,#000084 .61%,#00009f 1.07%,#0000c4 1.38%,#0000f6 1.68%,#0004ff 1.84%,#003cff 2.14%,#007cff 2.45%,#00c8ff 2.76%,#00e4f8 2.91%,#16ffe1 3.22%,#26ffd1 3.68%,#29ffce 4.13%,#29ffce 83.92%,#23ffd4 84.38%,#16ffe1 84.69%,#02e8f4 84.99%,#00d8ff 85.15%,#00c8ff 85.3%,#009cff 85.6%,#001cff 86.37%,#0008ff 86.52%,#0000ff 86.68%,#0000c4 86.98%,#000096 87.29%,#000084 87.44%,#000080 87.6%,#000080 100%)"></i>
<i style="left:84px;width:2px;background:linear-gradient(#000080 0%,#000084 .61%,#00009f 1.07%,#0000c4 1.38%,#0000f6 1.68%,#0004ff 1.84%,#003cff 2.14%,#007cff 2.45%,#00c8ff 2.76%,#00e4f8 2.91%,#16ffe1 3.22%,#26ffd1 3.68%,#29ffce 4.13%,#29ffce 83.92%,#19ffde 84.53%,#13fce4 84.69%,#00e4f8 84.99%,#00d4ff 85.15%,#00acff 85.45%,#0000ff 86.52%,#0000fa 86.68%,#0000bf 86.98%,#000092 87.29%,#000080 87.6%,#000080 100%)"></i>
<i style="left:85px;width:2px;background:linear-gradient(#000080 0%,#000084 .61%,#00009f 1.07%,#0000c4 1.38%,#0000f6 1.68%,#0004ff 1.84%,#003cff 2.14%,#007cff 2.45%,#00c8ff 2.76%,#00e4f8 2.91%,#16ffe1 3.22%,#26ffd1 3.68%,#29ffce 4.13%,#29ffce 83.92%,#19ffde 84.53%,#09f0ee 84.84%,#00d0ff 85.15%,#00a8ff 85.45%,#0058ff 85.91%,#0000ff 86.52%,#0000f1 86.68%,#00008d 87.29%,#000080 87.44%,#000080 100%)"></i>
<i style="left:86px;width:2px;background:linear-gradient(#000080 0%,#000084 .61%,#00009f 1.07%,#0000c4 1.38%,#0000f6 1.68%,#0004ff 1.84%,#003cff 2.14%,#007cff 2.45%,#00c8ff 2.76%,#00e4f8 2.91%,#16ffe1 3.22%,#26ffd1 3.68%,#29ffce 4.13%,#29ffce 83.77%,#23ffd4 84.23%,#16ffe1 84.53%,#06ecf1 84.84%,#00dcfe 84.99%,#00ccff 85.15%,#00a4ff 85.45%,#006cff 85.76%,#000cff 86.37%,#0000ff 86.52%,#0000ed 86.68%,#0000b2 86.98%,#000089 87.29%,#000080 87.44%,#000080 100%)"></i>
<i style="left:87px;width:2px;background:linear-gradient(#000080 0%,#000084 .61%,#00009f 1.07%,#0000c4 1.38%,#0000f6 1.68%,#0004ff 1.84%,#003cff 2.14%,#007cff 2.45%,#00c8ff 2.76%,#00e4f8 2.91%,#16ffe1 3.22%,#26ffd1 3.68%,#29ffce 4.13%,#29ffce 83.77%,#23ffd4 84.23%,#16ffe1 84.53%,#02e8f4 84.84%,#00d8ff 84.99%,#00c8ff 85.15%,#0084ff 85.6%,#0034ff 86.06%,#0008ff 86.37%,#0000ff 86.52%,#0000ad 86.98%,#000089 87.29%,#000080 87.44%,#000080 100%)"></i>
<i style="left:88px;width:2px;background:linear-gradient(#000080 0%,#000084 .61%,#00009f 1.07%,#0000c4 1.38%,#0000f6 1.68%,#0004ff 1.84%,#003cff 2.14%,#007cff 2.45%,#00c8ff 2.76%,#00e4f8 2.91%,#16ffe1 3.22%,#26ffd1 3.68%,#29ffce 4.13%,#29ffce 83.77%,#19ffde 84.38%,#0cf4eb 84.69%,#00e4f8 84.84%,#00c4ff 85.15%,#0098ff 85.45%,#0018ff 86.22%,#0004ff 86.37%,#0000fa 86.52%,#0000a8 86.98%,#000084 87.29%,#000080 87.44%,#000080 100%)"></i>
<i style="left:89px;width:2px;background:linear-gradient(#000080 0%,#000084 .61%,#00009f 1.07%,#0000c4 1.38%,#0000f6 1.68%,#0004ff 1.84%,#003cff 2.14%,#007cff 2.45%,#00c8ff 2.76%,#00e4f8 2.91%,#16ffe1 3.22%,#26ffd1 3.68%,#29ffce 4.13%,#29ffce 83.77%,#19ffde 84.38%,#13fce4 84.53%,#00e4f8 84.84%,#00c0ff 85.15%,#0000ff 86.37%,#0000f6 86.52%,#0000bb 86.83%,#000080 87.29%,#000080 100%)"></i>
<i style="left:90px;width:2px;background:linear-gradient(#000080 0%,#000084 .61%,#00009f 1.07%,#0000c4 1.38%,#0000f6 1.68%,#0004ff 1.84%,#003cff 2.14%,#007cff 2.45%,#00c8ff 2.76%,#00e4f8 2.91%,#16ffe1 3.22%,#26ffd1 3.68%,#29ffce 4.13%,#29ffce 83.61%,#19ffde 84.38%,#00e0fb 84.84%,#00bcff 85.15%,#003cff 85.91%,#0000ff 86.37%,#0000ed 86.52%,#00009f 86.98%,#000080 87.29%,#000080 100%)"></i>
<i style="left:91px;width:2px;background:linear-gradient(#000080 0%,#000084 .61%,#00009f 1.07%,#0000c4 1.38%,#0000f6 1.68%,#0004ff 1.84%,#003cff 2.14%,#007cff 2.45%,#00c8ff 2.76%,#00e4f8 2.91%,#16ffe1 3.22%,#26ffd1 3.68%,#29ffce 4.13%,#29ffce 83.61%,#23ffd4 84.07%,#16ffe1 84.38%,#00dcfe 84.84%,#00a0ff 85.3%,#0020ff 86.06%,#0000ff 86.37%,#00009b 86.98%,#000080 87.29%,#000080 100%)"></i>
<i style="left:92px;width:2px;background:linear-gradient(#000080 0%,#000084 .61%,#00009f 1.07%,#0000c4 1.38%,#0000f6 1.68%,#0004ff 1.84%,#003cff 2.14%,#007cff 2.45%,#00c8ff 2.76%,#00e4f8 2.91%,#16ffe1 3.22%,#26ffd1 3.68%,#29ffce 4.13%,#29ffce 83.61%,#23ffd4 84.07%,#16ffe1 84.38%,#00d8ff 84.84%,#009cff 85.3%,#001cff 86.06%,#0008ff 86.22%,#0000ff 86.37%,#0000c4 86.68%,#000096 86.98%,#000084 87.14%,#000080 87.29%,#000080 100%)"></i>
<i style="left:93px;width:3px;background:linear-gradient(#000080 0%,#000084 .61%,#00009f 1.07%,#0000c4 1.38%,#0000f6 1.68%,#0004ff 1.84%,#003cff 2.14%,#007cff 2.45%,#00c8ff 2.76%,#00e4f8 2.91%,#16ffe1 3.22%,#26ffd1 3.68%,#29ffce 4.13%,#29ffce 83.61%,#19ffde 84.23%,#0af2ec 84.53%,#00e4f8 84.69%,#00c0ff 84.99%,#0002ff 86.22%,#0000f8 86.37%,#0000bd 86.68%,#000092 86.98%,#000082 87.14%,#000080 87.29%,#000080 100%)"></i>
<i style="left:95px;width:2px;background:linear-gradient(#000080 0%,#000084 .61%,#00009f 1.07%,#0000c4 1.38%,#0000f6 1.68%,#0004ff 1.84%,#003cff 2.14%,#007cff 2.45%,#00c8ff 2.76%,#00e4f8 2.91%,#16ffe1 3.22%,#26ffd1 3.68%,#29ffce 4.13%,#29ffce 83.61%,#19ffde 84.23%,#06ecf1 84.53%,#00d0ff 84.84%,#00a8ff 85.15%,#0070ff 85.45%,#0010ff 86.06%,#0000ff 86.22%,#0000f1 86.37%,#00009f 86.83%,#000080 87.14%,#000080 100%)"></i>
<i style="left:96px;width:3px;background:linear-gradient(#000080 0%,#000084 .61%,#00009f 1.07%,#0000c4 1.38%,#0000f6 1.68%,#0004ff 1.84%,#003cff 2.14%,#007cff 2.45%,#00c8ff 2.76%,#00e4f8 2.91%,#16ffe1 3.22%,#26ffd1 3.68%,#29ffce 4.13%,#29ffce 83.46%,#23ffd4 83.92%,#16ffe1 84.23%,#04eaf3 84.53%,#00dcfe 84.69%,#00caff 84.84%,#00a2ff 85.15%,#006aff 85.45%,#000aff 86.06%,#0000ff 86.22%,#0000b2 86.68%,#000089 86.98%,#000080 87.14%,#000080 100%)"></i>
<i style="left:98px;width:3px;background:linear-gradient(#000080 0%,#000084 .61%,#00009f 1.07%,#0000c4 1.38%,#0000f6 1.68%,#0004ff 1.84%,#003cff 2.14%,#007cff 2.45%,#00c8ff 2.76%,#00e4f8 2.91%,#16ffe1 3.22%,#26ffd1 3.68%,#29ffce 4.13%,#29ffce 83.46%,#1cffdb 84.07%,#0cf4eb 84.38%,#01e6f6 84.53%,#00c4ff 84.84%,#009aff 85.15%,#001aff 85.91%,#0006ff 86.06%,#0000fc 86.22%,#0000ab 86.68%,#000084 86.98%,#000080 87.14%,#000080 100%)"></i>
<i style="left:100px;width:3px;background:linear-gradient(#000080 0%,#000084 .61%,#00009f 1.07%,#0000c4 1.38%,#0000f6 1.68%,#0004ff 1.84%,#003cff 2.14%,#007cff 2.45%,#00c8ff 2.76%,#00e4f8 2.91%,#16ffe1 3.22%,#26ffd1 3.68%,#29ffce 4.13%,#29ffce 83.46%,#19ffde 84.07%,#13fce4 84.23%,#00e2f9 84.53%,#00d2ff 84.69%,#00aaff 84.99%,#0042ff 85.6%,#0000ff 86.06%,#0000f3 86.22%,#0000bd 86.52%,#000080 86.98%,#000080 100%)"></i>
<i style="left:102px;width:3px;background:linear-gradient(#000080 0%,#000084 .61%,#00009f 1.07%,#0000c4 1.38%,#0000f6 1.68%,#0004ff 1.84%,#003cff 2.14%,#007cff 2.45%,#00c8ff 2.76%,#00e4f8 2.91%,#16ffe1 3.22%,#26ffd1 3.68%,#29ffce 4.13%,#29ffce 83.31%,#17ffdf 84.07%,#00defc 84.53%,#00baff 84.84%,#000eff 85.91%,#0000ff 86.06%,#0000ed 86.22%,#0000b4 86.52%,#00008b 86.83%,#000080 86.98%,#000080 100%)"></i>
<i style="left:104px;width:3px;background:linear-gradient(#000080 0%,#000084 .61%,#00009f 1.07%,#0000c4 1.38%,#0000f6 1.68%,#0004ff 1.84%,#003cff 2.14%,#007cff 2.45%,#00c8ff 2.76%,#00e4f8 2.91%,#16ffe1 3.22%,#26ffd1 3.68%,#29ffce 4.13%,#29ffce 83.31%,#23ffd4 83.77%,#16ffe1 84.07%,#02e8f4 84.38%,#00c8ff 84.69%,#009eff 84.99%,#001eff 85.76%,#0000ff 86.06%,#0000c6 86.37%,#000098 86.68%,#000086 86.83%,#000080 86.98%,#000080 100%)"></i>
<i style="left:106px;width:3px;background:linear-gradient(#000080 0%,#000084 .61%,#00009f 1.07%,#0000c4 1.38%,#0000f6 1.68%,#0004ff 1.84%,#003cff 2.14%,#007cff 2.45%,#00c8ff 2.76%,#00e4f8 2.91%,#16ffe1 3.22%,#26ffd1 3.68%,#29ffce 4.13%,#29ffce 83.31%,#1bffdc 83.92%,#0af2ec 84.23%,#00d6ff 84.53%,#0098ff 84.99%,#0002ff 85.91%,#0000fa 86.06%,#0000a8 86.52%,#000084 86.83%,#000080 86.98%,#000080 100%)"></i>
<i style="left:108px;width:3px;background:linear-gradient(#000080 0%,#000084 .61%,#00009f 1.07%,#0000c4 1.38%,#0000f6 1.68%,#0004ff 1.84%,#003cff 2.14%,#007cff 2.45%,#00c8ff 2.76%,#00e4f8 2.91%,#16ffe1 3.22%,#26ffd1 3.68%,#29ffce 4.13%,#29ffce 83.31%,#19ffde 83.92%,#13fce4 84.07%,#00e2f9 84.38%,#00d2ff 84.53%,#00aaff 84.84%,#0042ff 85.45%,#0000ff 85.91%,#0000f3 86.06%,#0000bb 86.37%,#000080 86.83%,#000080 100%)"></i>
<i style="left:110px;width:8px;background:linear-gradient(#000080 0%,#000080 .46%,#00009f 1.07%,#0000c4 1.38%,#0000f6 1.68%,#0004ff 1.84%,#003cff 2.14%,#007cff 2.45%,#00c8ff 2.76%,#00e4f8 2.91%,#16ffe1 3.22%,#26ffd1 3.68%,#29ffce 4.13%,#29ffce 83.15%,#18ffdf 83.92%,#00e0fb 84.38%,#00bbff 84.69%,#003eff 85.45%,#0000ff 85.91%,#0000ee 86.06%,#0000a1 86.52%,#000080 86.83%,#000080 100%)"></i>
<i style="left:117px;width:2px;background:linear-gradient(#000080 0%,#000084 .61%,#00009f 1.07%,#0000c4 1.38%,#0000f6 1.68%,#0004ff 1.84%,#003cff 2.14%,#007cff 2.45%,#00c8ff 2.76%,#00e4f8 2.91%,#16ffe1 3.22%,#26ffd1 3.68%,#29ffce 4.13%,#29ffce 83.31%,#19ffde 83.92%,#13fce4 84.07%,#00e4f8 84.38%,#00d4ff 84.53%,#00acff 84.84%,#005cff 85.3%,#0000ff 85.91%,#0000f6 86.06%,#0000bb 86.37%,#000080 86.83%,#000080 100%)"></i>
<i style="left:118px;width:2px;background:linear-gradient(#000080 0%,#000084 .61%,#00009f 1.07%,#0000c4 1.38%,#0000f6 1.68%,#0004ff 1.84%,#003cff 2.14%,#007cff 2.45%,#00c8ff 2.76%,#00e4f8 2.91%,#16ffe1 3.22%,#26ffd1 3.68%,#29ffce 4.13%,#29ffce 83.31%,#1cffdb 83.92%,#0cf4eb 84.23%,#00d4ff 84.53%,#00c4ff 84.69%,#0004ff 85.91%,#0000fa 86.06%,#0000a8 86.52%,#000084 86.83%,#000080 86.98%,#000080 100%)"></i>
<i style="left:119px;width:2px;background:linear-gradient(#000080 0%,#000084 .61%,#00009f 1.07%,#0000c4 1.38%,#0000f6 1.68%,#0004ff 1.84%,#003cff 2.14%,#007cff 2.45%,#00c8ff 2.76%,#00e4f8 2.91%,#16ffe1 3.22%,#26ffd1 3.68%,#29ffce 4.13%,#29ffce 83.31%,#23ffd4 83.77%,#16ffe1 84.07%,#00dcfe 84.53%,#00a0ff 84.99%,#0068ff 85.3%,#0008ff 85.91%,#0000ff 86.06%,#00009b 86.68%,#000080 86.98%,#000080 100%)"></i>
<i style="left:120px;width:2px;background:linear-gradient(#000080 0%,#000084 .61%,#00009f 1.07%,#0000c4 1.38%,#0000f6 1.68%,#0004ff 1.84%,#003cff 2.14%,#007cff 2.45%,#00c8ff 2.76%,#00e4f8 2.91%,#16ffe1 3.22%,#26ffd1 3.68%,#29ffce 4.13%,#29ffce 83.46%,#19ffde 84.07%,#06ecf1 84.38%,#00d0ff 84.69%,#00a8ff 84.99%,#0010ff 85.91%,#0000ff 86.06%,#0000f1 86.22%,#00009f 86.68%,#000080 86.98%,#000080 100%)"></i>
<i style="left:121px;width:2px;background:linear-gradient(#000080 0%,#000084 .61%,#00009f 1.07%,#0000c4 1.38%,#0000f6 1.68%,#0004ff 1.84%,#003cff 2.14%,#007cff 2.45%,#00c8ff 2.76%,#00e4f8 2.91%,#16ffe1 3.22%,#26ffd1 3.68%,#29ffce 4.13%,#29ffce 83.46%,#19ffde 84.07%,#0cf4eb 84.38%,#00e4f8 84.53%,#00d4ff 84.69%,#0098ff 85.15%,#0018ff 85.91%,#0004ff 86.06%,#0000fa 86.22%,#0000bf 86.52%,#000092 86.83%,#000080 87.14%,#000080 100%)"></i>
<i style="left:122px;width:2px;background:linear-gradient(#000080 0%,#000084 .61%,#00009f 1.07%,#0000c4 1.38%,#0000f6 1.68%,#0004ff 1.84%,#003cff 2.14%,#007cff 2.45%,#00c8ff 2.76%,#00e4f8 2.91%,#16ffe1 3.22%,#26ffd1 3.68%,#29ffce 4.13%,#29ffce 83.46%,#23ffd4 83.92%,#16ffe1 84.23%,#00dcfe 84.69%,#00a0ff 85.15%,#0020ff 85.91%,#0000ff 86.22%,#00009b 86.83%,#000080 87.14%,#000080 100%)"></i>
<i style="left:123px;width:2px;background:linear-gradient(#000080 0%,#000084 .61%,#00009f 1.07%,#0000c4 1.38%,#0000f6 1.68%,#0004ff 1.84%,#003cff 2.14%,#007cff 2.45%,#00c8ff 2.76%,#00e4f8 2.91%,#16ffe1 3.22%,#26ffd1 3.68%,#29ffce 4.13%,#29ffce 83.61%,#19ffde 84.23%,#13fce4 84.38%,#00e0fb 84.69%,#00d0ff 84.84%,#00a8ff 85.15%,#0000ff 86.22%,#0000f1 86.37%,#0000bb 86.68%,#000080 87.14%,#000080 100%)"></i>
<i style="left:124px;width:2px;background:linear-gradient(#000080 0%,#000084 .61%,#00009f 1.07%,#0000c4 1.38%,#0000f6 1.68%,#0004ff 1.84%,#003cff 2.14%,#007cff 2.45%,#00c8ff 2.76%,#00e4f8 2.91%,#16ffe1 3.22%,#26ffd1 3.68%,#29ffce 4.13%,#29ffce 83.61%,#23ffd4 84.07%,#16ffe1 84.38%,#00dcfe 84.84%,#00a0ff 85.3%,#0068ff 85.6%,#0008ff 86.22%,#0000ff 86.37%,#00009b 86.98%,#000080 87.29%,#000080 100%)"></i>
<i style="left:125px;width:2px;background:linear-gradient(#000080 0%,#000084 .61%,#00009f 1.07%,#0000c4 1.38%,#0000f6 1.68%,#0004ff 1.84%,#003cff 2.14%,#007cff 2.45%,#00c8ff 2.76%,#00e4f8 2.91%,#16ffe1 3.22%,#26ffd1 3.68%,#29ffce 4.13%,#29ffce 83.77%,#23ffd4 84.23%,#16ffe1 84.53%,#00d8ff 84.99%,#009cff 85.45%,#001cff 86.22%,#0008ff 86.37%,#0000ff 86.52%,#0000c4 86.83%,#000096 87.14%,#000084 87.29%,#000080 87.44%,#000080 100%)"></i>
<i style="left:126px;width:2px;background:linear-gradient(#000080 0%,#000084 .61%,#00009f 1.07%,#0000c4 1.38%,#0000f6 1.68%,#0004ff 1.84%,#003cff 2.14%,#007cff 2.45%,#00c8ff 2.76%,#00e4f8 2.91%,#16ffe1 3.22%,#26ffd1 3.68%,#29ffce 4.13%,#29ffce 83.92%,#23ffd4 84.38%,#16ffe1 84.69%,#02e8f4 84.99%,#00d8ff 85.15%,#00c8ff 85.3%,#0008ff 86.52%,#0000ff 86.68%,#0000ad 87.14%,#000089 87.44%,#000080 87.6%,#000080 100%)"></i>
<i style="left:127px;width:2px;background:linear-gradient(#000080 0%,#000084 .61%,#00009f 1.07%,#0000c4 1.38%,#0000f6 1.68%,#0004ff 1.84%,#003cff 2.14%,#007cff 2.45%,#00c8ff 2.76%,#00e4f8 2.91%,#16ffe1 3.22%,#26ffd1 3.68%,#29ffce 4.13%,#29ffce 84.23%,#19ffde 84.84%,#00e0fb 85.3%,#00bcff 85.6%,#0010ff 86.68%,#0000ff 86.83%,#0000ed 86.98%,#00009f 87.44%,#000084 87.75%,#000080 100%)"></i>
<i style="left:128px;width:2px;background:linear-gradient(#000080 0%,#000084 .61%,#00009f 1.07%,#0000c4 1.38%,#0000f6 1.68%,#0004ff 1.84%,#003cff 2.14%,#007cff 2.45%,#00c8ff 2.76%,#00e4f8 2.91%,#16ffe1 3.22%,#26ffd1 3.68%,#29ffce 4.13%,#29ffce 84.38%,#23ffd4 84.84%,#16ffe1 85.15%,#00d8ff 85.6%,#009cff 86.06%,#001cff 86.83%,#0008ff 86.98%,#0000ff 87.14%,#0000c4 87.44%,#000096 87.75%,#000089 88.06%,#000080 89.59%,#000080 100%)"></i>
<i style="left:129px;width:2px;background:linear-gradient(#000080 0%,#000084 .61%,#00009f 1.07%,#0000c4 1.38%,#0000f6 1.68%,#0004ff 1.84%,#003cff 2.14%,#007cff 2.45%,#00c8ff 2.76%,#00e4f8 2.91%,#16ffe1 3.22%,#26ffd1 3.68%,#29ffce 4.13%,#29ffce 84.69%,#19ffde 85.3%,#13fce4 85.45%,#00e4f8 85.76%,#00d4ff 85.91%,#00acff 86.22%,#005cff 86.68%,#0000ff 87.29%,#0000f6 87.44%,#0000a4 87.9%,#00009b 88.06%,#00008d 88.82%,#000080 90.81%,#000080 100%)"></i>
<i style="left:130px;width:2px;background:linear-gradient(#000080 0%,#000084 .61%,#00009f 1.07%,#0000c4 1.38%,#0000f6 1.68%,#0004ff 1.84%,#003cff 2.14%,#007cff 2.45%,#00c8ff 2.76%,#00e4f8 2.91%,#16ffe1 3.22%,#26ffd1 3.68%,#29ffce 4.13%,#29ffce 84.99%,#19ffde 85.6%,#09f0ee 85.91%,#00d0ff 86.22%,#00a8ff 86.52%,#0010ff 87.44%,#0000ff 87.6%,#0000f1 87.75%,#0000d1 87.9%,#0000bb 88.21%,#00009b 89.28%,#00008d 90.05%,#000080 92.04%,#000080 100%)"></i>
<i style="left:131px;width:2px;background:linear-gradient(#000080 0%,#000084 .61%,#00009f 1.07%,#0000c4 1.38%,#0000f6 1.68%,#0004ff 1.84%,#003cff 2.14%,#007cff 2.45%,#00c8ff 2.76%,#00e4f8 2.91%,#16ffe1 3.22%,#26ffd1 3.68%,#29ffce 4.13%,#29ffce 85.3%,#19ffde 85.91%,#00e0fb 86.37%,#00bcff 86.68%,#003cff 87.44%,#0010ff 87.75%,#0000ff 88.06%,#0000ff 88.21%,#0000bb 89.43%,#000096 90.66%,#00008d 91.27%,#000080 93.26%,#000080 100%)"></i>
<i style="left:132px;width:2px;background:linear-gradient(#000080 0%,#000084 .61%,#00009f 1.07%,#0000c4 1.38%,#0000f6 1.68%,#0004ff 1.84%,#003cff 2.14%,#007cff 2.45%,#00c8ff 2.76%,#00e4f8 2.91%,#16ffe1 3.22%,#26ffd1 3.68%,#29ffce 4.13%,#29ffce 85.6%,#1cffdb 86.22%,#0cf4eb 86.52%,#00e4f8 86.68%,#00d4ff 86.83%,#00b0ff 87.14%,#0080ff 87.44%,#000cff 88.97%,#0000ff 89.28%,#0000ff 89.43%,#0000df 89.89%,#0000bb 90.66%,#000096 91.88%,#00008d 92.5%,#000080 94.49%,#000080 100%)"></i>
<i style="left:133px;width:2px;background:linear-gradient(#000080 0%,#000084 .61%,#00009f 1.07%,#0000c4 1.38%,#0000f6 1.68%,#0004ff 1.84%,#003cff 2.14%,#00c8ff 2.76%,#00e4f8 2.91%,#16ffe1 3.22%,#26ffd1 3.68%,#29ffce 4.13%,#29ffce 86.06%,#23ffd4 86.52%,#16ffe1 86.83%,#00dcfe 87.29%,#00c8ff 87.44%,#008cff 88.51%,#000cff 90.2%,#0000ff 90.51%,#0000ff 90.66%,#0000d6 91.27%,#0000bb 91.88%,#000096 93.11%,#00008d 93.72%,#000080 95.71%,#000080 100%)"></i>
<i style="left:134px;width:2px;background:linear-gradient(#000080 0%,#000084 .61%,#00009f 1.07%,#0000c4 1.38%,#0000f6 1.68%,#0004ff 1.84%,#003cff 2.14%,#00c8ff 2.76%,#00e4f8 2.91%,#16ffe1 3.22%,#26ffd1 3.68%,#29ffce 4.13%,#29ffce 86.83%,#19ffde 87.44%,#13fce4 87.6%,#02e8f4 87.9%,#00dcfe 88.21%,#00c4ff 88.82%,#00a0ff 89.43%,#000cff 91.42%,#0000ff 91.73%,#0000ff 91.88%,#0000bf 92.96%,#000096 94.33%,#000080 96.94%,#000080 100%)"></i>
<i style="left:135px;width:2px;background:linear-gradient(#000080 0%,#000084 .61%,#00009f 1.07%,#0000c4 1.38%,#0000f6 1.68%,#0004ff 1.84%,#003cff 2.14%,#00c8ff 2.76%,#00e4f8 2.91%,#16ffe1 3.22%,#26ffd1 3.68%,#29ffce 4.13%,#2cffca 75.65%,#2cffca 88.06%,#23ffd4 88.67%,#19ffde 88.82%,#13fce4 88.97%,#00e4f8 89.28%,#00d8ff 89.59%,#00b4ff 90.35%,#0060ff 91.58%,#000cff 92.65%,#0000ff 92.96%,#0000ff 93.11%,#0000df 93.57%,#0000bb 94.33%,#000096 95.56%,#000084 97.09%,#000080 100%)"></i>
<i style="left:136px;width:2px;background:linear-gradient(#000080 0%,#000084 .61%,#00009f 1.07%,#0000c4 1.38%,#0000f6 1.68%,#0004ff 1.84%,#0080ff 2.45%,#00c8ff 2.76%,#00e4f8 2.91%,#16ffe1 3.22%,#23ffd4 3.52%,#29ffce 4.13%,#30ffc7 82.08%,#30ffc7 90.66%,#2cffca 90.96%,#19ffde 91.42%,#13fce4 91.58%,#00e0fb 91.88%,#00b8ff 92.19%,#006cff 92.65%,#0004ff 94.03%,#0000ff 94.33%,#0000bb 95.56%,#00009b 96.63%,#000084 98.47%,#000084 100%)"></i>
<i style="left:137px;width:2px;background:linear-gradient(#000080 0%,#000084 .61%,#00009f 1.07%,#0000c4 1.38%,#0000fa 1.68%,#0004ff 1.84%,#0080ff 2.45%,#00c8ff 2.76%,#00e4f8 2.91%,#16ffe1 3.22%,#23ffd4 3.52%,#29ffce 3.98%,#29ffce 58.81%,#36ffc1 91.58%,#40ffb7 93.87%,#39ffbe 94.79%,#19ffde 95.41%,#00e0fb 95.71%,#00ccff 95.87%,#005cff 96.48%,#0000ff 97.09%,#0000c8 97.4%,#0000a4 97.7%,#00008d 98.77%,#00008d 100%)"></i>
<i style="left:138px;width:2px;background:linear-gradient(#000080 0%,#000080 .46%,#000096 .92%,#0000c8 1.38%,#0000fa 1.68%,#0008ff 1.84%,#0060ff 2.3%,#00c8ff 2.76%,#00e4f8 2.91%,#16ffe1 3.22%,#23ffd4 3.52%,#29ffce 3.98%,#29ffce 55.9%,#3cffba 71.82%,#46ffb1 91.27%,#70ff87 96.78%,#aaff4d 100%)"></i>
<i style="left:139px;width:2px;background:linear-gradient(#000080 0%,#000080 .31%,#00009b .92%,#0000bb 1.23%,#0000ff 1.68%,#0010ff 1.84%,#0048ff 2.14%,#00ccff 2.76%,#00e4f8 2.91%,#16ffe1 3.22%,#29ffce 3.83%,#29ffce 53.75%,#53ffa4 74.27%,#63ff94 90.81%,#70ff87 92.65%,#9dff5a 96.17%,#c1ff36 97.86%,#eeff09 99.39%,#fbf100 100%)"></i>
<i style="left:140px;width:2px;background:linear-gradient(#000080 0%,#00008d .61%,#0000a4 .92%,#0000c8 1.23%,#0000fa 1.53%,#0004ff 1.68%,#0038ff 1.99%,#00d0ff 2.76%,#02e8f4 2.91%,#0ff8e7 3.06%,#19ffde 3.22%,#2cffca 4.13%,#29ffce 50.84%,#33ffc4 57.73%,#73ff83 74.43%,#94ff63 91.12%,#caff2c 95.1%,#eeff09 96.94%,#ffea00 97.7%,#ffae00 99.23%,#ff9c00 100%)"></i>
<i style="left:141px;width:2px;background:linear-gradient(#000084 0%,#000096 .61%,#0000b2 .92%,#0000f6 1.38%,#0000ff 1.53%,#00d8ff 2.76%,#09f0ee 2.91%,#1cffdb 3.22%,#2cffca 3.98%,#30ffc7 54.82%,#5dff9a 64.93%,#94ff63 73.2%,#c7ff30 90.51%,#d1ff26 91.73%,#eeff09 93.57%,#ffea00 94.79%,#ffdb00 95.87%,#ffb600 97.55%,#ff7a00 98.93%,#ff5d00 100%)"></i>
<i style="left:142px;width:2px;background:linear-gradient(#000089 0%,#00008d .31%,#00009f .61%,#0000bf .92%,#0000f6 1.23%,#0000ff 1.38%,#00ccff 2.6%,#00e0fb 2.76%,#16ffe1 3.06%,#1fffd7 3.22%,#30ffc7 4.13%,#33ffc4 54.52%,#43ffb4 58.5%,#6aff8d 64.62%,#b4ff43 73.51%,#ceff29 78.71%,#eeff09 88.67%,#fbf100 91.27%,#ffa700 96.48%,#ff9100 97.55%,#ff4700 99.39%,#ff3b00 100%)"></i>
<i style="left:143px;width:2px;background:linear-gradient(#00008d 0%,#000096 .46%,#0000c8 .92%,#0000ff 1.23%,#000cff 1.38%,#0078ff 1.99%,#00d4ff 2.6%,#02e8f4 2.76%,#0ff8e7 2.91%,#19ffde 3.06%,#26ffd1 3.37%,#30ffc7 3.98%,#39ffbe 55.28%,#49ffad 58.81%,#73ff83 64.62%,#adff49 70.14%,#ceff29 74.43%,#eeff09 81.62%,#feed00 85.45%,#ffc800 92.04%,#ff8600 97.24%,#ff3f00 99.08%,#ff2900 100%)"></i>
<i style="left:144px;width:2px;background:linear-gradient(#00008d 0%,#000092 .31%,#0000a8 .61%,#0000cd .92%,#0000ff 1.23%,#0098ff 2.14%,#00c4ff 2.45%,#00d8ff 2.6%,#02e8f4 2.76%,#19ffde 3.06%,#26ffd1 3.37%,#30ffc7 3.98%,#33ffc4 6.74%,#39ffbe 50.69%,#40ffb7 56.05%,#4dffaa 58.81%,#7aff7d 64.78%,#caff2c 72.43%,#eeff09 78.56%,#feed00 81.62%,#ffdb00 86.52%,#ffb600 92.19%,#ff8200 96.94%,#ff6f00 97.7%,#ff3800 99.08%,#ff2200 100%)"></i>
<i style="left:145px;width:2px;background:linear-gradient(#00008d 0%,#00009b .46%,#0000a8 .61%,#0000cd .92%,#0000ed 1.07%,#0000ff 1.23%,#00b0ff 2.3%,#00d8ff 2.6%,#06ecf1 2.76%,#19ffde 3.06%,#26ffd1 3.37%,#30ffc7 3.98%,#3cffba 15.47%,#46ffb1 56.51%,#56ffa0 59.88%,#73ff83 63.71%,#caff2c 71.82%,#eeff09 77.49%,#f8f500 78.71%,#ffea00 80.86%,#ffd700 85.76%,#ffb600 91.27%,#ff8600 96.32%,#ff6c00 97.7%,#ff4300 98.62%,#ff1e00 100%)"></i>
<i style="left:146px;width:2px;background:linear-gradient(#00008d 0%,#00009b .46%,#0000a8 .61%,#0000cd .92%,#0000ed 1.07%,#0000ff 1.23%,#0050ff 1.68%,#00c8ff 2.45%,#00dcfe 2.6%,#06ecf1 2.76%,#19ffde 3.06%,#26ffd1 3.37%,#30ffc7 3.98%,#43ffb4 16.85%,#4dffaa 56.81%,#56ffa0 59.42%,#73ff83 63.55%,#c7ff30 71.21%,#eeff09 77.03%,#f8f500 78.25%,#ffea00 80.25%,#ffd300 85.76%,#ffb600 90.66%,#ff8200 96.48%,#ff6f00 97.55%,#ff2d00 99.23%,#ff1e00 100%)"></i>
<i style="left:147px;width:2px;background:linear-gradient(#00008d 0%,#00009b .46%,#0000a8 .61%,#0000cd .92%,#0000ed 1.07%,#0000ff 1.23%,#0084ff 1.99%,#00c8ff 2.45%,#00dcfe 2.6%,#06ecf1 2.76%,#19ffde 3.06%,#26ffd1 3.37%,#30ffc7 3.98%,#49ffad 17.3%,#56ffa0 58.04%,#63ff94 61.1%,#7dff7a 64.62%,#caff2c 71.52%,#eeff09 76.72%,#f8f500 78.1%,#ffea00 79.94%,#ffd300 85.45%,#ffb200 90.96%,#ff8600 96.02%,#ff7a00 96.94%,#ff6400 97.86%,#ff3b00 98.77%,#ff1e00 100%)"></i>
<i style="left:148px;width:2px;background:linear-gradient(#00008d 0%,#00009b .46%,#0000a8 .61%,#0000cd .92%,#0000ed 1.07%,#0000ff 1.23%,#0084ff 1.99%,#00c8ff 2.45%,#00dcfe 2.6%,#06ecf1 2.76%,#19ffde 3.06%,#26ffd1 3.37%,#30ffc7 3.98%,#53ffa4 19.91%,#60ff97 59.26%,#7dff7a 64.47%,#c4ff33 70.75%,#eeff09 76.72%,#f8f500 77.95%,#ffea00 79.79%,#ffcc00 86.68%,#ffb200 90.81%,#ff8600 96.02%,#ff7a00 96.94%,#ff6800 97.7%,#ff3000 99.08%,#ff1e00 100%)"></i>
<i style="left:149px;width:2px;background:linear-gradient(#00008d 0%,#00009b .46%,#0000a8 .61%,#0000cd .92%,#0000ed 1.07%,#0000ff 1.23%,#0084ff 1.99%,#00c8ff 2.45%,#00dcfe 2.6%,#06ecf1 2.76%,#19ffde 3.06%,#26ffd1 3.37%,#30ffc7 3.98%,#5aff9d 19.6%,#6aff8d 60.34%,#7dff7a 64.32%,#c7ff30 71.06%,#eeff09 76.72%,#f8f500 77.95%,#ffea00 79.79%,#ffc100 88.36%,#ff8900 95.56%,#ff7700 97.09%,#ff6800 97.7%,#ff3000 99.08%,#ff1e00 100%)"></i>
<i style="left:150px;width:2px;background:linear-gradient(#00008d 0%,#00009b .46%,#0000a8 .61%,#0000cd .92%,#0000ed 1.07%,#0000ff 1.23%,#0084ff 1.99%,#00c8ff 2.45%,#00dcfe 2.6%,#06ecf1 2.76%,#19ffde 3.06%,#26ffd1 3.37%,#30ffc7 3.98%,#63ff94 20.98%,#73ff83 61.26%,#87ff70 65.24%,#c7ff30 71.06%,#eeff09 76.72%,#f8f500 77.95%,#ffea00 79.79%,#ffc400 87.75%,#ff8900 95.56%,#ff7700 97.09%,#ff6800 97.7%,#ff3000 99.08%,#ff1e00 100%)"></i>
<i style="left:151px;width:2px;background:linear-gradient(#00008d 0%,#00009b .46%,#0000a8 .61%,#0000cd .92%,#0000ed 1.07%,#0000ff 1.23%,#0084ff 1.99%,#00c8ff 2.45%,#00dcfe 2.6%,#06ecf1 2.76%,#19ffde 3.06%,#26ffd1 3.37%,#30ffc7 3.98%,#36ffc1 7.2%,#60ff97 16.08%,#6dff8a 21.9%,#80ff77 62.94%,#8dff6a 65.7%,#caff2c 71.36%,#eeff09 76.57%,#f8f500 77.95%,#ffea00 79.79%,#ffc800 87.14%,#ff8900 95.56%,#ff7700 97.09%,#ff6800 97.7%,#ff3000 99.08%,#ff1e00 100%)"></i>
<i style="left:152px;width:2px;background:linear-gradient(#00008d 0%,#00009b .46%,#0000a8 .61%,#0000cd .92%,#0000ed 1.07%,#0000ff 1.23%,#0084ff 1.99%,#00c8ff 2.45%,#00dcfe 2.6%,#06ecf1 2.76%,#19ffde 3.06%,#26ffd1 3.37%,#30ffc7 3.98%,#36ffc1 7.04%,#66ff90 16.08%,#73ff83 20.83%,#8aff6d 63.55%,#97ff60 66.46%,#caff2c 71.36%,#eeff09 76.57%,#f8f500 77.95%,#ffea00 79.79%,#ffd300 85.15%,#ffae00 91.27%,#ff8900 95.56%,#ff7700 97.09%,#ff6800 97.7%,#ff3000 99.08%,#ff1e00 100%)"></i>
<i style="left:153px;width:2px;background:linear-gradient(#00008d 0%,#00009b .46%,#0000a8 .61%,#0000cd .92%,#0000ed 1.07%,#0000ff 1.23%,#0084ff 1.99%,#00c8ff 2.45%,#00dcfe 2.6%,#06ecf1 2.76%,#19ffde 3.06%,#26ffd1 3.37%,#30ffc7 3.98%,#36ffc1 6.89%,#6dff8a 16.08%,#7dff7a 21.75%,#8dff6a 58.35%,#97ff60 65.39%,#a7ff50 67.99%,#dbff1c 73.35%,#eeff09 76.57%,#ffea00 79.63%,#ffd000 85.76%,#ffae00 91.27%,#ff8900 95.56%,#ff7700 97.09%,#ff6800 97.7%,#ff3000 99.08%,#ff1e00 100%)"></i>
<i style="left:154px;width:2px;background:linear-gradient(#00008d 0%,#00009b .46%,#0000a8 .61%,#0000cd .92%,#0000ed 1.07%,#0000ff 1.23%,#0084ff 1.99%,#00c8ff 2.45%,#00dcfe 2.6%,#06ecf1 2.76%,#19ffde 3.06%,#26ffd1 3.37%,#30ffc7 3.98%,#36ffc1 6.74%,#70ff87 15.62%,#80ff77 20.21%,#8aff6d 27.26%,#9dff5a 65.24%,#aaff4d 67.99%,#d4ff23 72.43%,#eeff09 76.57%,#f8f500 77.79%,#ffea00 79.63%,#ffd300 84.99%,#ffab00 91.73%,#ff8900 95.56%,#ff7700 97.09%,#ff6800 97.7%,#ff3000 99.08%,#ff1e00 100%)"></i>
<i style="left:155px;width:2px;background:linear-gradient(#00008d 0%,#00009b .46%,#0000a8 .61%,#0000cd .92%,#0000ed 1.07%,#0000ff 1.23%,#0084ff 1.99%,#00c8ff 2.45%,#00dcfe 2.6%,#06ecf1 2.76%,#19ffde 3.06%,#26ffd1 3.37%,#30ffc7 3.98%,#39ffbe 7.2%,#77ff80 15.93%,#87ff70 20.37%,#94ff63 31.39%,#a4ff53 64.93%,#b1ff46 68.3%,#ceff29 71.52%,#eeff09 76.57%,#f8f500 77.79%,#ffea00 79.63%,#ffbd00 88.67%,#ff8900 95.56%,#ff7700 97.09%,#ff6800 97.7%,#ff3000 99.08%,#ff1e00 100%)"></i>
<i style="left:156px;width:2px;background:linear-gradient(#00008d 0%,#00009b .46%,#0000a8 .61%,#0000cd .92%,#0000ed 1.07%,#0000ff 1.23%,#0084ff 1.99%,#00c8ff 2.45%,#00dcfe 2.6%,#06ecf1 2.76%,#19ffde 3.06%,#26ffd1 3.37%,#30ffc7 3.98%,#36ffc1 6.58%,#77ff80 15.01%,#8dff6a 20.52%,#9dff5a 35.38%,#adff49 66.16%,#b7ff40 68.61%,#eeff09 76.42%,#f8f500 77.64%,#ffea00 79.48%,#ffbd00 88.67%,#ff8900 95.56%,#ff7700 97.09%,#ff6800 97.7%,#ff3000 99.08%,#ff1e00 100%)"></i>
<i style="left:157px;width:2px;background:linear-gradient(#00008d 0%,#00009b .46%,#0000a8 .61%,#0000cd .92%,#0000ed 1.07%,#0000ff 1.23%,#0084ff 1.99%,#00c8ff 2.45%,#00dcfe 2.6%,#06ecf1 2.76%,#19ffde 3.06%,#26ffd1 3.37%,#30ffc7 3.98%,#36ffc1 6.43%,#80ff77 15.77%,#94ff63 20.98%,#a4ff53 34.92%,#b4ff43 66%,#c4ff33 69.98%,#eeff09 76.26%,#ffea00 79.33%,#ffbd00 88.67%,#ff8900 95.56%,#ff7700 97.09%,#ff6800 97.7%,#ff3000 99.08%,#ff1e00 100%)"></i>
<i style="left:158px;width:2px;background:linear-gradient(#00008d 0%,#00009b .46%,#0000a8 .61%,#0000cd .92%,#0000ed 1.07%,#0000ff 1.23%,#0084ff 1.99%,#00c8ff 2.45%,#00dcfe 2.6%,#06ecf1 2.76%,#19ffde 3.06%,#26ffd1 3.37%,#30ffc7 3.98%,#3cffba 7.35%,#77ff80 13.63%,#97ff60 20.21%,#aaff4d 34.92%,#baff3c 65.85%,#c4ff33 69.07%,#eeff09 76.11%,#f8f500 77.34%,#ffea00 79.17%,#ffbd00 88.67%,#ff8900 95.56%,#ff7700 97.09%,#ff6800 97.7%,#ff3000 99.08%,#ff1e00 100%)"></i>
<i style="left:159px;width:3px;background:linear-gradient(#00008d 0%,#00009b .46%,#0000a8 .61%,#0000cd .92%,#0000ed 1.07%,#0000ff 1.23%,#0084ff 1.99%,#00c8ff 2.45%,#00dcfe 2.6%,#06ecf1 2.76%,#19ffde 3.06%,#26ffd1 3.37%,#30ffc7 3.98%,#3cffba 7.2%,#85ff72 14.7%,#9fff58 20.83%,#b4ff43 35.53%,#c4ff33 65.85%,#d1ff26 70.14%,#ecff0a 75.34%,#f6f601 76.57%,#ffea00 78.87%,#ffbd00 88.67%,#ff8900 95.56%,#ff7700 97.09%,#ff6800 97.7%,#ff3000 99.08%,#ff1e00 100%)"></i>
<i style="left:161px;width:3px;background:linear-gradient(#00008d 0%,#00009b .46%,#0000a8 .61%,#0000cd .92%,#0000ed 1.07%,#0000ff 1.23%,#0084ff 1.99%,#00c8ff 2.45%,#00dcfe 2.6%,#06ecf1 2.76%,#19ffde 3.06%,#26ffd1 3.37%,#30ffc7 3.98%,#3cffba 7.04%,#8cff6b 14.4%,#a5ff51 19.91%,#c1ff36 36.91%,#d1ff26 66.31%,#f0fe07 74.73%,#ffea00 78.1%,#ffbd00 88.67%,#ff8900 95.56%,#ff7700 97.09%,#ff6800 97.7%,#ff3000 99.08%,#ff1e00 100%)"></i>
<i style="left:163px;width:3px;background:linear-gradient(#00008d 0%,#00009b .46%,#0000a8 .61%,#0000cd .92%,#0000ed 1.07%,#0000ff 1.23%,#0084ff 1.99%,#00c8ff 2.45%,#00dcfe 2.6%,#06ecf1 2.76%,#19ffde 3.06%,#2cffca 3.68%,#39ffbe 6.58%,#92ff65 14.09%,#acff4b 19.14%,#caff2c 35.53%,#dbff1c 65.24%,#f0fe07 72.89%,#ffea00 77.34%,#ffd700 80.7%,#ffcc00 85.76%,#ffa700 92.19%,#ff7700 97.09%,#ff6800 97.7%,#ff3000 99.08%,#ff1e00 100%)"></i>
<i style="left:165px;width:3px;background:linear-gradient(#00008d 0%,#00009b .46%,#0000a8 .61%,#0000cd .92%,#0000ed 1.07%,#0000ff 1.23%,#0084ff 1.99%,#00c8ff 2.45%,#00dcfe 2.6%,#06ecf1 2.76%,#19ffde 3.06%,#2cffca 3.68%,#3cffba 6.89%,#9fff58 14.55%,#afff48 17.46%,#d4ff23 34.15%,#e1ff16 59.72%,#f0fe07 70.29%,#ffea00 76.26%,#ffd700 79.79%,#ffcc00 85.76%,#ffab00 91.73%,#ff7700 97.09%,#ff6800 97.7%,#ff3000 99.08%,#ff1e00 100%)"></i>
<i style="left:167px;width:3px;background:linear-gradient(#00008d 0%,#00009b .46%,#0000a8 .61%,#0000cd .92%,#0000ed 1.07%,#0000ff 1.23%,#0084ff 1.99%,#00c8ff 2.45%,#00dcfe 2.6%,#06ecf1 2.76%,#19ffde 3.06%,#26ffd1 3.37%,#30ffc7 3.98%,#36ffc1 5.97%,#46ffb1 7.66%,#9fff58 13.63%,#b5ff41 16.85%,#dfff17 34.92%,#ecff0a 62.63%,#f9f300 72.13%,#ffe800 75.8%,#ffdb00 77.49%,#ffcc00 85.76%,#ffab00 91.73%,#ff7700 97.09%,#ff6800 97.7%,#ff3000 99.08%,#ff1e00 100%)"></i>
<i style="left:169px;width:3px;background:linear-gradient(#00008d 0%,#00009b .46%,#0000a8 .61%,#0000cd .92%,#0000ed 1.07%,#0000ff 1.23%,#0084ff 1.99%,#00c8ff 2.45%,#00dcfe 2.6%,#06ecf1 2.76%,#19ffde 3.06%,#26ffd1 3.37%,#33ffc4 4.29%,#39ffbe 6.43%,#49ffad 7.81%,#a2ff55 13.48%,#bcff3b 17.15%,#e9ff0e 35.68%,#f3fa04 62.94%,#ffeb00 73.35%,#ffde00 75.34%,#ffcc00 85.76%,#ffab00 91.73%,#ff7700 97.09%,#ff6800 97.7%,#ff3000 99.08%,#ff1e00 100%)"></i>
<i style="left:171px;width:3px;background:linear-gradient(#00008d 0%,#00009b .46%,#0000a8 .61%,#0000cd .92%,#0000ed 1.07%,#0000ff 1.23%,#0084ff 1.99%,#00c8ff 2.45%,#00dcfe 2.6%,#06ecf1 2.76%,#19ffde 3.06%,#26ffd1 3.37%,#33ffc4 4.29%,#40ffb7 7.04%,#a2ff55 13.17%,#b5ff41 15.01%,#d6ff21 27.26%,#ecff0a 32.92%,#f9f300 65.54%,#ffeb00 70.75%,#ffde00 73.35%,#ffd000 84.69%,#ffab00 91.73%,#ff8200 96.32%,#ff6800 97.7%,#ff3000 99.08%,#ff1e00 100%)"></i>
<i style="left:173px;width:3px;background:linear-gradient(#00008d 0%,#00009b .46%,#0000a8 .61%,#0000cd .92%,#0000ed 1.07%,#0000ff 1.23%,#0084ff 1.99%,#00c8ff 2.45%,#00dcfe 2.6%,#06ecf1 2.76%,#19ffde 3.06%,#26ffd1 3.37%,#33ffc4 4.29%,#36ffc1 5.82%,#46ffb1 7.5%,#aaff4d 13.48%,#baff3c 15.16%,#d7ff1f 26.65%,#f3fa04 32.92%,#feed00 66.31%,#ffde00 70.9%,#ffde00 76.72%,#ffd000 84.69%,#ffab00 91.73%,#ff8200 96.32%,#ff6800 97.7%,#ff3000 99.08%,#ff1e00 100%)"></i>
<i style="left:175px;width:3px;background:linear-gradient(#00008d 0%,#00009b .46%,#0000a8 .61%,#0000cd .92%,#0000ed 1.07%,#0000ff 1.23%,#0084ff 1.99%,#00c8ff 2.45%,#00dcfe 2.6%,#06ecf1 2.76%,#19ffde 3.06%,#26ffd1 3.37%,#33ffc4 4.29%,#36ffc1 5.82%,#43ffb4 7.2%,#a9ff4e 13.17%,#beff39 15.16%,#dbff1c 26.8%,#eeff09 30.17%,#f6f601 32.01%,#fcef00 35.07%,#ffeb00 62.63%,#ffde00 68.15%,#ffde00 76.72%,#ffd000 84.69%,#ffab00 91.73%,#ff8200 96.32%,#ff6800 97.7%,#ff3000 99.08%,#ff1e00 100%)"></i>
<i style="left:177px;width:3px;background:linear-gradient(#00008d 0%,#00009b .46%,#0000a8 .61%,#0000cd .92%,#0000ed 1.07%,#0000ff 1.23%,#0084ff 1.99%,#00c8ff 2.45%,#00dcfe 2.6%,#06ecf1 2.76%,#19ffde 3.06%,#26ffd1 3.37%,#33ffc4 4.29%,#40ffb7 6.89%,#68ff8f 9.49%,#aaff4d 12.86%,#c7ff30 15.47%,#d9ff1e 24.35%,#ecff0a 28.94%,#fded00 31.55%,#ffe600 33.69%,#ffde00 74.58%,#ffd000 84.53%,#ffab00 91.73%,#ff8200 96.32%,#ff6800 97.7%,#ff3000 99.08%,#ff1e00 100%)"></i>
<i style="left:179px;width:5px;background:linear-gradient(#00008d 0%,#00009b .46%,#0000a8 .61%,#0000cd .92%,#0000ed 1.07%,#0000ff 1.23%,#0084ff 1.99%,#00c8ff 2.45%,#00dcfe 2.6%,#06ecf1 2.76%,#19ffde 3.06%,#2cffca 3.68%,#46ffb1 7.35%,#6aff8d 9.49%,#b7ff40 13.32%,#caff2c 15.16%,#dbff1c 23.12%,#eeff09 28.33%,#feec00 30.32%,#ffdc00 34.61%,#ffdb00 76.57%,#ffd000 84.07%,#ffab00 91.73%,#ff8200 96.32%,#ff6800 97.7%,#ff3000 99.08%,#ff1e00 100%)"></i>
<i style="left:183px;width:11px;background:linear-gradient(#00008d 0%,#00009b .46%,#0000a8 .61%,#0000cd .92%,#0000ed 1.07%,#0000ff 1.23%,#0084ff 1.99%,#00c8ff 2.45%,#00dcfe 2.6%,#06ecf1 2.76%,#19ffde 3.06%,#2cffca 3.68%,#33ffc4 4.29%,#36ffc1 5.67%,#46ffb1 7.35%,#6dff8a 9.65%,#b4ff43 13.02%,#cdff29 15.31%,#deff19 23.74%,#eeff09 28.02%,#ffea00 30.02%,#ffd700 34.76%,#ffd700 79.02%,#ffcc00 85.15%,#ffab00 91.73%,#ff8200 96.32%,#ff6800 97.7%,#ff3000 99.08%,#ff1e00 100%)"></i>
<i style="left:193px;width:8px;background:linear-gradient(#00008d 0%,#00009b .46%,#0000a8 .61%,#0000cd .92%,#0000ed 1.07%,#0000ff 1.23%,#0084ff 1.99%,#00c8ff 2.45%,#00dcfe 2.6%,#06ecf1 2.76%,#19ffde 3.06%,#2cffca 3.68%,#46ffb1 7.35%,#6dff8a 9.65%,#b4ff43 13.02%,#ceff29 15.31%,#dbff1c 22.51%,#eeff09 28.02%,#feed00 29.86%,#ffd900 35.83%,#ffda00 72.13%,#ffcc00 85.15%,#ffab00 91.73%,#ff8200 96.32%,#ff6800 97.7%,#ff3000 99.08%,#ff1e00 100%)"></i>
<i style="left:200px;width:8px;background:linear-gradient(#00008d 0%,#00009b .46%,#0000a8 .61%,#0000cd .92%,#0000ed 1.07%,#0000ff 1.23%,#0084ff 1.99%,#00c8ff 2.45%,#00dcfe 2.6%,#06ecf1 2.76%,#19ffde 3.06%,#2cffca 3.68%,#46ffb1 7.35%,#6dff8a 9.65%,#b1ff46 12.86%,#caff2c 15.01%,#eeff09 28.33%,#feed00 30.32%,#ffdb00 37.83%,#ffdb00 75.65%,#ffcc00 85.3%,#ffab00 91.73%,#ff8200 96.32%,#ff6800 97.7%,#ff3000 99.08%,#ff1e00 100%)"></i>
<i style="left:207px;width:11px;background:linear-gradient(#00008d 0%,#00009b .46%,#0000a8 .61%,#0000cd .92%,#0000ed 1.07%,#0000ff 1.23%,#0084ff 1.99%,#00c8ff 2.45%,#00dcfe 2.6%,#06ecf1 2.76%,#19ffde 3.06%,#2cffca 3.68%,#33ffc4 4.29%,#36ffc1 5.67%,#46ffb1 7.35%,#6aff8d 9.49%,#baff3d 13.48%,#c7ff30 14.7%,#d1ff26 16.23%,#dbff1c 23.12%,#eeff09 28.64%,#feed00 31.09%,#ffdc00 39.97%,#ffdb00 77.34%,#ffcc00 85.45%,#ffab00 91.73%,#ff8200 96.32%,#ff6800 97.7%,#ff3000 99.08%,#ff1e00 100%)"></i>
<i style="left:217px;width:11px;background:linear-gradient(#00008d 0%,#00009b .46%,#0000a8 .61%,#0000cd .92%,#0000ed 1.07%,#0000ff 1.23%,#0084ff 1.99%,#00c8ff 2.45%,#00dcfe 2.6%,#06ecf1 2.76%,#19ffde 3.06%,#2cffca 3.68%,#33ffc4 4.29%,#3affbd 6.28%,#46ffb1 7.35%,#66ff90 9.34%,#b4ff43 13.17%,#c7ff30 14.85%,#eeff09 28.79%,#fdee00 31.7%,#ffde00 39.97%,#ffde00 73.81%,#ffcc00 85.6%,#ffab00 91.73%,#ff8200 96.32%,#ff6800 97.7%,#ff3000 99.08%,#ff1e00 100%)"></i>
<i style="left:227px;width:11px;background:linear-gradient(#00008d 0%,#00009b .46%,#0000a8 .61%,#0000cd .92%,#0000ed 1.07%,#0000ff 1.23%,#0084ff 1.99%,#00c8ff 2.45%,#00dcfe 2.6%,#06ecf1 2.76%,#19ffde 3.06%,#2cffca 3.68%,#33ffc4 4.29%,#39ffbe 6.28%,#46ffb1 7.35%,#63ff94 9.19%,#adff4a 12.86%,#c7ff30 15.01%,#e1ff16 26.34%,#eeff09 29.1%,#f8f500 30.93%,#ffe200 39.97%,#ffde00 76.72%,#ffd000 84.69%,#ffae00 91.27%,#ff8200 96.32%,#ff6800 97.7%,#ff2d00 99.23%,#ff1e00 100%)"></i>
<i style="left:237px;width:9px;background:linear-gradient(#00008d 0%,#00009b .46%,#0000a8 .61%,#0000cd .92%,#0000ed 1.07%,#0000ff 1.23%,#0084ff 1.99%,#00c8ff 2.45%,#00dcfe 2.6%,#06ecf1 2.76%,#19ffde 3.06%,#2cffca 3.68%,#39ffbe 6.28%,#4dffaa 7.81%,#b1ff46 13.17%,#c7ff30 15.31%,#deff19 25.73%,#f4f802 30.93%,#ffe500 40.43%,#ffe200 74.27%,#ffd000 85.15%,#ffb200 91.12%,#ff8500 96.17%,#ff6e00 97.55%,#ff3f00 98.77%,#ff2200 100%)"></i>
<i style="left:245px;width:8px;background:linear-gradient(#00008d 0%,#00009b .46%,#0000a8 .61%,#0000cd .92%,#0000ed 1.07%,#0000ff 1.23%,#0084ff 1.99%,#00c8ff 2.45%,#00dcfe 2.6%,#06ecf1 2.76%,#19ffde 3.06%,#2cffca 3.68%,#33ffc4 4.29%,#39ffbe 6.28%,#44ffb3 7.2%,#b4ff43 13.48%,#c4ff33 15.16%,#deff19 26.19%,#eeff09 30.02%,#f4f802 32.16%,#ffe800 40.89%,#ffe200 77.03%,#ffd000 85.76%,#ffb200 91.58%,#ff8d00 95.71%,#ff7700 97.24%,#ff3500 99.23%,#ff2600 100%)"></i>
<i style="left:252px;width:8px;background:linear-gradient(#00008d 0%,#00009b .46%,#0000a8 .61%,#0000cd .92%,#0000ed 1.07%,#0000ff 1.23%,#0084ff 1.99%,#00c8ff 2.45%,#00dcfe 2.6%,#06ecf1 2.76%,#19ffde 3.06%,#2cffca 3.68%,#33ffc4 4.29%,#43ffb4 7.2%,#adff49 13.17%,#c4ff33 15.31%,#f1fc06 31.85%,#feee00 38.9%,#ffea00 44.72%,#ffe600 75.19%,#ffd000 86.37%,#ffb500 91.58%,#ff9000 95.71%,#ff7a00 97.09%,#ff3800 99.23%,#ff2b00 100%)"></i>
<i style="left:259px;width:8px;background:linear-gradient(#00008d 0%,#00009b .46%,#0000a8 .61%,#0000cd .92%,#0000ed 1.07%,#0000ff 1.23%,#0084ff 1.99%,#00c8ff 2.45%,#00dcfe 2.6%,#06ecf1 2.76%,#19ffde 3.06%,#2cffca 3.68%,#33ffc4 4.29%,#36ffc1 5.82%,#43ffb4 7.2%,#adff49 13.32%,#c0ff36 15.16%,#eeff09 32.01%,#f8f500 37.06%,#feed00 43.64%,#ffe900 73.05%,#ffd000 86.98%,#ffb900 91.42%,#ff9400 95.56%,#ff8200 96.78%,#ff6800 97.86%,#ff3f00 99.08%,#ff3000 100%)"></i>
<i style="left:266px;width:7px;background:linear-gradient(#00008d 0%,#00009b .46%,#0000a8 .61%,#0000cd .92%,#0000ed 1.07%,#0000ff 1.23%,#0084ff 1.99%,#00c8ff 2.45%,#00dcfe 2.6%,#06ecf1 2.76%,#19ffde 3.06%,#2cffca 3.68%,#33ffc4 4.29%,#36ffc1 5.82%,#43ffb4 7.2%,#a7ff50 13.02%,#bdff3a 15.01%,#ebff0c 31.85%,#f8f500 38.9%,#feed00 49%,#ffea00 75.34%,#ffd300 86.22%,#ffc100 90.51%,#ff9f00 94.79%,#ff8600 96.63%,#ff4200 99.08%,#ff3600 100%)"></i>
<i style="left:272px;width:5px;background:linear-gradient(#00008d 0%,#00009b .46%,#0000a8 .61%,#0000cd .92%,#0000ed 1.07%,#0000ff 1.23%,#0084ff 1.99%,#00c8ff 2.45%,#00dcfe 2.6%,#06ecf1 2.76%,#19ffde 3.06%,#26ffd1 3.37%,#33ffc4 4.29%,#36ffc1 5.82%,#43ffb4 7.2%,#aaff4d 13.32%,#baff3c 14.85%,#c4ff33 16.54%,#ebff0c 32.62%,#fbf100 45.94%,#feed00 73.81%,#ffd000 87.75%,#ffa700 94.18%,#ff8900 96.48%,#ff7700 97.4%,#ff3f00 99.23%,#ff3c00 100%)"></i>
<i style="left:276px;width:5px;background:linear-gradient(#00008d 0%,#00009b .46%,#0000a8 .61%,#0000cd .92%,#0000ed 1.07%,#0000ff 1.23%,#0084ff 1.99%,#00c8ff 2.45%,#00dcfe 2.6%,#06ecf1 2.76%,#19ffde 3.06%,#26ffd1 3.37%,#33ffc4 4.29%,#36ffc1 5.82%,#46ffb1 7.5%,#a6ff51 13.17%,#b9ff3d 15.01%,#e7ff0f 32.16%,#f8f500 43.95%,#fcf000 71.67%,#ffd300 86.52%,#ffb900 91.88%,#ff9f00 94.95%,#ff7700 97.4%,#ff3f00 99.23%,#ff4700 99.54%,#ff4100 100%)"></i>
<i style="left:280px;width:4px;background:linear-gradient(#00008d 0%,#00009b .46%,#0000a8 .61%,#0000cd .92%,#0000ed 1.07%,#0000ff 1.23%,#0084ff 1.99%,#00c8ff 2.45%,#00dcfe 2.6%,#06ecf1 2.76%,#19ffde 3.06%,#2cffca 3.68%,#33ffc4 4.29%,#36ffc1 5.82%,#46ffb1 7.5%,#a0ff56 12.86%,#b7ff40 14.85%,#c4ff33 17.61%,#e4ff13 31.39%,#f8f500 47.01%,#fbf100 73.51%,#ffd700 85.3%,#ffcc00 88.82%,#ffab00 93.87%,#ff7e00 97.09%,#ff4300 99.08%,#ff4e00 99.54%,#ff4900 100%)"></i>
<i style="left:283px;width:4px;background:linear-gradient(#00008d 0%,#00009b .46%,#0000a8 .61%,#0000cd .92%,#0000ed 1.07%,#0000ff 1.23%,#0084ff 1.99%,#00c8ff 2.45%,#00dcfe 2.6%,#06ecf1 2.76%,#19ffde 3.06%,#2cffca 3.68%,#33ffc4 4.29%,#40ffb7 7.04%,#a4ff53 13.17%,#baff3c 15.47%,#e4ff13 32.16%,#f4f802 44.72%,#f8f500 71.06%,#ffd700 85.6%,#ffcc00 88.97%,#ffae00 93.57%,#ff8200 96.94%,#ff4400 99.08%,#ff4300 99.23%,#ff5500 99.54%,#ff5200 100%)"></i>
<i style="left:286px;width:4px;background:linear-gradient(#00008d 0%,#00009b .46%,#0000a8 .61%,#0000cd .92%,#0000ed 1.07%,#0000ff 1.23%,#0084ff 1.99%,#00c8ff 2.45%,#00dcfe 2.6%,#06ecf1 2.76%,#19ffde 3.06%,#2cffca 3.68%,#33ffc4 4.29%,#40ffb7 7.04%,#9dff5a 12.86%,#b4ff43 14.85%,#c1ff36 17.61%,#e1ff16 31.55%,#f4f802 48.39%,#f4f802 67.69%,#fbf100 75.5%,#ffd000 88.51%,#ffbd00 91.73%,#ffa700 94.49%,#ff8900 96.63%,#ff4700 99.08%,#ff4500 99.23%,#ff5d00 99.54%,#ff5900 100%)"></i>
<i style="left:289px;width:3px;background:linear-gradient(#00008d 0%,#00009b .46%,#0000a8 .61%,#0000cd .92%,#0000ed 1.07%,#0000ff 1.23%,#0084ff 1.99%,#00c8ff 2.45%,#00dcfe 2.6%,#06ecf1 2.76%,#19ffde 3.06%,#26ffd1 3.37%,#33ffc4 4.29%,#39ffbe 6.43%,#49ffad 7.81%,#a0ff56 13.17%,#b4ff43 15.01%,#deff19 30.63%,#f1fc06 45.02%,#f8f500 74.73%,#ffea00 77.95%,#ffd300 87.9%,#ffc400 90.81%,#ffae00 93.87%,#ff9400 96.02%,#ff7300 97.7%,#ff4700 99.08%,#ff4700 99.23%,#ff6600 99.54%,#ff6200 100%)"></i>
<i style="left:291px;width:3px;background:linear-gradient(#00008d 0%,#00009b .46%,#0000a8 .61%,#0000cd .92%,#0000ed 1.07%,#0000ff 1.23%,#0084ff 1.99%,#00c8ff 2.45%,#00dcfe 2.6%,#06ecf1 2.76%,#19ffde 3.06%,#26ffd1 3.37%,#33ffc4 4.29%,#39ffbe 6.43%,#49ffad 7.81%,#a4ff53 13.48%,#b7ff40 15.62%,#c1ff36 18.53%,#eeff09 42.27%,#f4f802 73.35%,#ffea00 78.41%,#ffd000 88.97%,#ffb900 92.65%,#ff9800 95.87%,#ff8600 96.94%,#ff4a00 99.08%,#ff4a00 99.23%,#ff6d00 99.54%,#ff6d00 100%)"></i>
<i style="left:293px;width:3px;background:linear-gradient(#00008d 0%,#00009b .46%,#0000a8 .61%,#0000cd .92%,#0000ed 1.07%,#0000ff 1.23%,#0084ff 1.99%,#00c8ff 2.45%,#00dcfe 2.6%,#06ecf1 2.76%,#19ffde 3.06%,#26ffd1 3.37%,#33ffc4 4.29%,#36ffc1 5.97%,#43ffb4 7.35%,#aaff4d 14.24%,#c1ff36 18.99%,#ebff0c 40.28%,#f4f802 74.43%,#feed00 77.64%,#ffd700 87.44%,#ffb900 92.8%,#ff8d00 96.63%,#ff4a00 99.08%,#ff4a00 99.23%,#ff7500 99.54%,#ff7500 100%)"></i>
<i style="left:295px;width:3px;background:linear-gradient(#00008d 0%,#00009b .46%,#0000a8 .61%,#0000cd .92%,#0000ed 1.07%,#0000ff 1.23%,#0084ff 1.99%,#00c8ff 2.45%,#00dcfe 2.6%,#06ecf1 2.76%,#19ffde 3.06%,#26ffd1 3.37%,#33ffc4 4.29%,#36ffc1 5.97%,#43ffb4 7.35%,#9dff5a 13.17%,#adff49 14.7%,#c1ff36 19.6%,#ebff0c 42.27%,#f1fc06 73.2%,#ffea00 79.33%,#ffd700 87.75%,#ffc400 91.42%,#ff9800 96.02%,#ff7700 97.7%,#ff4c00 99.08%,#ff4e00 99.23%,#ff7c00 99.54%,#ff7e00 100%)"></i>
<i style="left:297px;width:3px;background:linear-gradient(#00008d 0%,#00009b .46%,#0000a8 .61%,#0000cd .92%,#0000ed 1.07%,#0000ff 1.23%,#0084ff 1.99%,#00c8ff 2.45%,#00dcfe 2.6%,#06ecf1 2.76%,#19ffde 3.06%,#26ffd1 3.37%,#33ffc4 4.29%,#36ffc1 5.97%,#4dffaa 8.12%,#9aff5d 13.02%,#b4ff43 15.77%,#beff39 18.68%,#e7ff0f 40.28%,#f1fc06 74.27%,#feed00 78.56%,#ffd700 88.21%,#ffbd00 92.65%,#ff8d00 96.78%,#ff4e00 99.08%,#ff5000 99.23%,#ff8400 99.54%,#ff8700 100%)"></i>
<i style="left:299px;width:3px;background:linear-gradient(#00008d 0%,#00009b .46%,#0000a8 .61%,#0000cd .92%,#0000ed 1.07%,#0000ff 1.23%,#0084ff 1.99%,#00c8ff 2.45%,#00dcfe 2.6%,#06ecf1 2.76%,#19ffde 3.06%,#26ffd1 3.37%,#33ffc4 4.29%,#36ffc1 5.97%,#4dffaa 8.12%,#a0ff56 13.63%,#b4ff43 16.08%,#c1ff36 20.67%,#e7ff0f 42.42%,#eeff09 73.2%,#feed00 79.17%,#ffdb00 87.44%,#ffc800 91.27%,#ff9f00 95.71%,#ff8600 97.24%,#ff5000 99.08%,#ff5200 99.23%,#ff8d00 99.54%,#ff9100 100%)"></i>
<i style="left:301px;width:3px;background:linear-gradient(#00008d 0%,#00009b .46%,#0000a8 .61%,#0000cd .92%,#0000ed 1.07%,#0000ff 1.23%,#0084ff 1.99%,#00c8ff 2.45%,#00dcfe 2.6%,#06ecf1 2.76%,#19ffde 3.06%,#26ffd1 3.37%,#33ffc4 4.29%,#36ffc1 5.97%,#46ffb1 7.66%,#a4ff53 14.09%,#b4ff43 16.39%,#beff39 19.75%,#e4ff13 40.43%,#f1fc06 75.8%,#feed00 79.63%,#ffdb00 87.9%,#ffc400 92.04%,#ffab00 94.95%,#ff8d00 96.94%,#ff5200 99.08%,#ff5500 99.23%,#ff9600 99.54%,#ff9a00 100%)"></i>
<i style="left:303px;width:3px;background:linear-gradient(#00008d 0%,#00009b .46%,#0000a8 .61%,#0000cd .92%,#0000ed 1.07%,#0000ff 1.23%,#0084ff 1.99%,#00c8ff 2.45%,#00dcfe 2.6%,#06ecf1 2.76%,#19ffde 3.06%,#26ffd1 3.37%,#30ffc7 3.98%,#36ffc1 5.97%,#46ffb1 7.66%,#a4ff53 14.24%,#b4ff43 16.69%,#c1ff36 21.75%,#e1ff16 39.05%,#e7ff0f 68.76%,#f1fc06 76.42%,#feed00 80.25%,#ffdb00 88.36%,#ffc800 91.73%,#ff9f00 95.87%,#ff8600 97.4%,#ff5400 99.08%,#ff5700 99.23%,#ff9e00 99.54%,#ffa500 99.69%,#ffa300 100%)"></i>
<i style="left:305px;width:4px;background:linear-gradient(#00008d 0%,#00009b .46%,#0000a8 .61%,#0000cd .92%,#0000ed 1.07%,#0000ff 1.23%,#0084ff 1.99%,#00c8ff 2.45%,#00dcfe 2.6%,#06ecf1 2.76%,#19ffde 3.06%,#2cffca 3.68%,#36ffc1 5.97%,#46ffb1 7.66%,#9aff5d 13.48%,#a7ff50 14.85%,#c1ff36 22.51%,#e1ff16 41.65%,#e5ff11 66.62%,#eeff09 75.8%,#feed00 81.32%,#ffde00 87.75%,#ffcc00 91.42%,#ffb600 94.18%,#ff9800 96.48%,#ff7a00 97.86%,#ff5500 99.08%,#ff5a00 99.23%,#ffa700 99.54%,#ffae00 100%)"></i>
<i style="left:308px;width:4px;background:linear-gradient(#00008d 0%,#00009b .46%,#0000a8 .61%,#0000cd .92%,#0000ed 1.07%,#0000ff 1.23%,#0084ff 1.99%,#00c8ff 2.45%,#00dcfe 2.6%,#06ecf1 2.76%,#19ffde 3.06%,#2cffca 3.68%,#3cffba 6.89%,#a4ff53 14.7%,#beff39 21.9%,#deff19 40.58%,#e4ff13 70.44%,#eeff09 76.72%,#feed00 82.39%,#ffde00 88.36%,#ffcc00 91.73%,#ffb900 94.03%,#ff9800 96.63%,#ff8200 97.7%,#ff5900 99.08%,#ff5d00 99.23%,#ffb100 99.54%,#ffb900 99.69%,#ffb900 100%)"></i>
<i style="left:311px;width:4px;background:linear-gradient(#00008d 0%,#00009b .46%,#0000a8 .61%,#0000cd .92%,#0000ed 1.07%,#0000ff 1.23%,#0084ff 1.99%,#00c8ff 2.45%,#00dcfe 2.6%,#06ecf1 2.76%,#19ffde 3.06%,#2cffca 3.68%,#40ffb7 7.2%,#a0ff56 14.55%,#adff49 16.69%,#beff39 22.66%,#dbff1c 39.82%,#e1ff16 68.91%,#eeff09 77.49%,#feed00 83.46%,#ffe200 88.06%,#ffd000 91.58%,#ffa300 96.02%,#ff8c00 97.4%,#ff5c00 99.08%,#ff6000 99.23%,#ffb900 99.54%,#ffc200 99.69%,#ffc300 100%)"></i>
<i style="left:314px;width:5px;background:linear-gradient(#00008d 0%,#00009b .46%,#0000a8 .61%,#0000cd .92%,#0000ed 1.07%,#0000ff 1.23%,#0084ff 1.99%,#00c8ff 2.45%,#00dcfe 2.6%,#06ecf1 2.76%,#19ffde 3.06%,#2cffca 3.68%,#3cffba 6.89%,#9fff58 14.7%,#adff49 17.3%,#baff3c 22.21%,#d8ff1f 40.74%,#dfff17 70.6%,#eeff09 78.25%,#f8f500 81.78%,#ffe200 88.67%,#ffcb00 92.5%,#ff9a00 96.78%,#ff5f00 99.08%,#ff6400 99.23%,#ffc100 99.54%,#ffcc00 99.69%,#ffcc00 100%)"></i>
<i style="left:318px;width:5px;background:linear-gradient(#00008d 0%,#00009b .46%,#0000a8 .61%,#0000cd .92%,#0000ed 1.07%,#0000ff 1.23%,#0084ff 1.99%,#00c8ff 2.45%,#00dcfe 2.6%,#06ecf1 2.76%,#19ffde 3.06%,#2cffca 3.68%,#39ffbe 6.58%,#9dff5a 14.85%,#b7ff40 21.9%,#d4ff23 39.97%,#dcff1b 70.75%,#eeff09 79.33%,#f8f500 83.15%,#ffe600 88.51%,#ffce00 92.5%,#ff9f00 96.63%,#ff8a00 97.7%,#ff6200 99.08%,#ff6800 99.23%,#ffc800 99.54%,#ffd300 99.69%,#ffd400 100%)"></i>
<i style="left:322px;width:6px;background:linear-gradient(#00008d 0%,#00009b .46%,#0000a8 .61%,#0000cd .92%,#0000ed 1.07%,#0000ff 1.23%,#0084ff 1.99%,#00c8ff 2.45%,#00dcfe 2.6%,#06ecf1 2.76%,#19ffde 3.06%,#2cffca 3.68%,#39ffbe 6.58%,#91ff66 13.78%,#a2ff54 16.08%,#b1ff46 20.37%,#d2ff25 41.04%,#daff1d 72.89%,#eeff09 80.4%,#ffeb00 88.06%,#ffd000 92.65%,#ffa200 96.63%,#ff8900 97.86%,#ff6600 99.08%,#ff6c00 99.23%,#ffce00 99.54%,#ffd900 99.69%,#ffdb00 100%)"></i>
<i style="left:327px;width:7px;background:linear-gradient(#00008d 0%,#00009b .46%,#0000a8 .61%,#0000cd .92%,#0000ed 1.07%,#0000ff 1.23%,#0084ff 1.99%,#00c8ff 2.45%,#00dcfe 2.6%,#06ecf1 2.76%,#19ffde 3.06%,#2cffca 3.68%,#39ffbe 6.58%,#8eff69 13.78%,#a1ff56 16.54%,#abff4c 19.6%,#cbff2b 39.36%,#d6ff21 73.51%,#eeff09 81.78%,#ffeb00 88.97%,#ffcc00 93.42%,#ff9b00 97.24%,#ff6900 99.08%,#ff6f00 99.23%,#ffd300 99.54%,#ffde00 99.69%,#ffe000 100%)"></i>
<i style="left:333px;width:7px;background:linear-gradient(#00008d 0%,#00009b .46%,#0000a8 .61%,#0000cd .92%,#0000ed 1.07%,#0000ff 1.23%,#0084ff 1.99%,#00c8ff 2.45%,#00dcfe 2.6%,#06ecf1 2.76%,#19ffde 3.06%,#26ffd1 3.37%,#30ffc7 3.98%,#3cffba 7.04%,#91ff65 14.7%,#abff4c 20.98%,#c8ff2f 41.65%,#d0ff27 72.28%,#eeff09 83.46%,#feed00 89.28%,#ffcc00 93.72%,#ffa300 96.94%,#ff6c00 99.08%,#ff7100 99.23%,#ffd600 99.54%,#ffe200 99.69%,#ffe200 100%)"></i>
<i style="left:339px;width:7px;background:linear-gradient(#00008d 0%,#00009b .46%,#0000a8 .61%,#0000cd .92%,#0000ed 1.07%,#0000ff 1.23%,#0084ff 1.99%,#00c8ff 2.45%,#00dcfe 2.6%,#06ecf1 2.76%,#19ffde 3.06%,#26ffd1 3.37%,#30ffc7 3.98%,#39ffbe 6.74%,#8eff69 14.7%,#a7ff4f 20.98%,#c5ff32 44.26%,#caff2c 71.36%,#eeff09 84.38%,#fbf100 88.82%,#ffcb00 93.87%,#ff9f00 97.24%,#ff6c00 99.08%,#ff7300 99.23%,#ffd700 99.54%,#ffe200 99.69%,#ffe600 100%)"></i>
<i style="left:345px;width:8px;background:linear-gradient(#00008d 0%,#00009b .46%,#0000a8 .61%,#0000cd .92%,#0000ed 1.07%,#0000ff 1.23%,#0084ff 1.99%,#00c8ff 2.45%,#00dcfe 2.6%,#06ecf1 2.76%,#19ffde 3.06%,#26ffd1 3.37%,#30ffc7 3.98%,#39ffbe 6.74%,#8bff6c 14.85%,#a5ff52 21.29%,#bfff38 42.88%,#c6ff31 71.67%,#eeff09 84.84%,#fbf100 88.97%,#ffcc00 93.87%,#ff9f00 97.24%,#ff6c00 99.08%,#ff7300 99.23%,#ffd700 99.54%,#ffe400 99.69%,#ffe600 100%)"></i>
<i style="left:352px;width:8px;background:linear-gradient(#00008d 0%,#00009b .46%,#0000a8 .61%,#0000cd .92%,#0000ed 1.07%,#0000ff 1.23%,#0084ff 1.99%,#00c8ff 2.45%,#00dcfe 2.6%,#06ecf1 2.76%,#19ffde 3.06%,#26ffd1 3.37%,#30ffc7 3.98%,#3cffba 7.2%,#88ff6f 15.01%,#9fff58 20.67%,#b8ff3e 40.89%,#c1ff36 71.36%,#eeff09 85.45%,#ffea00 90.35%,#ffcc00 93.87%,#ff9f00 97.24%,#ff6c00 99.08%,#ff7300 99.23%,#ffd900 99.54%,#ffe600 99.69%,#ffe600 100%)"></i>
<i style="left:359px;width:8px;background:linear-gradient(#00008d 0%,#00009b .46%,#0000a8 .61%,#0000cd .92%,#0000ed 1.07%,#0000ff 1.23%,#0084ff 1.99%,#00c8ff 2.45%,#00dcfe 2.6%,#06ecf1 2.76%,#19ffde 3.06%,#26ffd1 3.37%,#30ffc7 3.98%,#3cffba 7.2%,#84ff72 15.01%,#9dff5a 21.13%,#b5ff42 42.27%,#bdff3a 71.82%,#eeff09 86.06%,#feed00 89.59%,#ffc800 94.33%,#ffa300 97.09%,#ff6c00 99.08%,#ff7300 99.23%,#ffdb00 99.54%,#ffe600 99.69%,#ffe600 100%)"></i>
<i style="left:366px;width:10px;background:linear-gradient(#00008d 0%,#00009b .46%,#0000a8 .61%,#0000cd .92%,#0000ed 1.07%,#0000ff 1.23%,#0084ff 1.99%,#00c8ff 2.45%,#00dcfe 2.6%,#06ecf1 2.76%,#19ffde 3.06%,#26ffd1 3.37%,#30ffc7 3.98%,#39ffbe 6.89%,#81ff76 15.01%,#9aff5c 21.59%,#b2ff45 45.02%,#b9ff3e 72.59%,#eeff09 86.68%,#feed00 89.74%,#ffcc00 94.03%,#ffa300 97.09%,#ff6f00 99.08%,#ff7300 99.23%,#ffdb00 99.54%,#ffe600 99.69%,#ffe600 100%)"></i>
<i style="left:375px;width:10px;background:linear-gradient(#00008d 0%,#00009b .46%,#0000a8 .61%,#0000cd .92%,#0000ed 1.07%,#0000ff 1.23%,#0084ff 1.99%,#00c8ff 2.45%,#00dcfe 2.6%,#06ecf1 2.76%,#19ffde 3.06%,#26ffd1 3.37%,#30ffc7 3.98%,#3cffba 7.35%,#7dff79 15.01%,#95ff62 20.83%,#abff4c 41.35%,#b3ff44 71.52%,#eeff09 87.29%,#feed00 89.89%,#ffde00 92.19%,#ffbd00 95.41%,#ff9f00 97.4%,#ff6f00 99.08%,#ff7400 99.23%,#ffdb00 99.54%,#ffe600 99.69%,#ffe600 100%)"></i>
<i style="left:384px;width:10px;background:linear-gradient(#00008d 0%,#00009b .46%,#0000a8 .61%,#0000cd .92%,#0000ed 1.07%,#0000ff 1.23%,#0084ff 1.99%,#00c8ff 2.45%,#00dcfe 2.6%,#06ecf1 2.76%,#19ffde 3.06%,#26ffd1 3.37%,#30ffc7 3.98%,#36ffc1 6.43%,#7aff7d 14.85%,#94ff63 21.29%,#a7ff4f 41.96%,#b0ff47 72.28%,#eeff09 87.75%,#ffea00 90.66%,#ffd300 93.57%,#ffb200 96.32%,#ffa300 97.24%,#ff6f00 99.08%,#ff7700 99.23%,#ffdb00 99.54%,#ffe600 99.69%,#ffe600 100%)"></i>
<i style="left:393px;width:10px;background:linear-gradient(#00008d 0%,#00009b .46%,#0000a8 .61%,#0000cd .92%,#0000ed 1.07%,#0000ff 1.23%,#0084ff 1.99%,#00c8ff 2.45%,#00dcfe 2.6%,#06ecf1 2.76%,#19ffde 3.06%,#26ffd1 3.37%,#30ffc7 3.98%,#39ffbe 7.04%,#7aff7d 15.16%,#90ff66 20.83%,#a4ff53 40.89%,#aeff49 72.89%,#eeff09 88.06%,#feed00 90.35%,#ffdb00 92.96%,#ffb900 95.87%,#ffa700 97.09%,#ff6f00 99.08%,#ff7700 99.23%,#ffdb00 99.54%,#ffe600 99.69%,#ffe600 100%)"></i>
<i style="left:402px;width:11px;background:linear-gradient(#00008d 0%,#00009b .46%,#0000a8 .61%,#0000cd .92%,#0000ed 1.07%,#0000ff 1.23%,#0084ff 1.99%,#00c8ff 2.45%,#00dcfe 2.6%,#06ecf1 2.76%,#19ffde 3.06%,#26ffd1 3.37%,#30ffc7 3.98%,#36ffc1 6.58%,#7aff7d 15.47%,#90ff67 21.44%,#a4ff53 44.72%,#aaff4d 72.59%,#b9ff3e 77.64%,#eeff09 88.36%,#feed00 90.51%,#ffe600 91.88%,#ffc100 95.41%,#ffa300 97.4%,#ff7100 99.08%,#ff7700 99.23%,#ffdb00 99.54%,#ffe600 99.69%,#ffe600 100%)"></i>
<i style="left:412px;width:11px;background:linear-gradient(#00008d 0%,#00009b .46%,#0000a8 .61%,#0000cd .92%,#0000ed 1.07%,#0000ff 1.23%,#0084ff 1.99%,#00c8ff 2.45%,#00dcfe 2.6%,#06ecf1 2.76%,#19ffde 3.06%,#26ffd1 3.37%,#30ffc7 3.98%,#36ffc1 6.58%,#7aff7d 15.62%,#8dff6a 20.67%,#a0ff56 41.35%,#aaff4d 74.12%,#d0ff27 83.77%,#eeff09 88.51%,#feed00 90.81%,#ffd700 93.57%,#ffb600 96.32%,#ffa300 97.4%,#ff7300 99.08%,#ff7800 99.23%,#ffdb00 99.54%,#ffe600 99.69%,#ffe600 100%)"></i>
<i style="left:422px;width:11px;background:linear-gradient(#00008d 0%,#00009b .46%,#0000a8 .61%,#0000cd .92%,#0000ed 1.07%,#0000ff 1.23%,#0084ff 1.99%,#00c8ff 2.45%,#00dcfe 2.6%,#06ecf1 2.76%,#19ffde 3.06%,#26ffd1 3.37%,#30ffc7 3.98%,#36ffc1 6.58%,#7aff7d 15.77%,#8dff6a 20.98%,#a0ff56 43.34%,#a7ff50 73.2%,#cbff2c 83.31%,#eeff09 88.67%,#feed00 90.96%,#ffbd00 95.87%,#ffab00 97.09%,#ff7300 99.08%,#ff7a00 99.23%,#ffdb00 99.54%,#ffe600 99.69%,#ffe600 100%)"></i>
<i style="left:432px;width:11px;background:linear-gradient(#00008d 0%,#00009b .46%,#0000a8 .61%,#0000cd .92%,#0000ed 1.07%,#0000ff 1.23%,#0084ff 1.99%,#00c8ff 2.45%,#00dcfe 2.6%,#06ecf1 2.76%,#19ffde 3.06%,#26ffd1 3.37%,#30ffc7 3.98%,#36ffc1 6.58%,#77ff80 15.31%,#8dff6a 21.29%,#a0ff56 44.87%,#a7ff50 74.27%,#c7ff30 83%,#eeff09 88.82%,#f8f500 89.74%,#feed00 90.96%,#ffdb00 93.42%,#ffb900 96.17%,#ffa300 97.4%,#ff7300 99.08%,#ff7a00 99.23%,#ffdb00 99.54%,#ffe600 99.69%,#ffe600 100%)"></i>
<i style="left:442px;width:11px;background:linear-gradient(#00008d 0%,#00009b .46%,#0000a8 .61%,#0000cd .92%,#0000ed 1.07%,#0000ff 1.23%,#0084ff 1.99%,#00c8ff 2.45%,#00dcfe 2.6%,#06ecf1 2.76%,#19ffde 3.06%,#26ffd1 3.37%,#30ffc7 3.98%,#36ffc1 6.58%,#7aff7d 15.93%,#8dff6a 21.44%,#a0ff56 46.09%,#a7ff50 74.73%,#caff2c 83.77%,#eeff09 88.82%,#f8f500 89.74%,#feed00 90.96%,#ffdb00 93.42%,#ffb900 96.17%,#ffa300 97.4%,#ff7300 99.08%,#ff7a00 99.23%,#ffdb00 99.54%,#ffe600 99.69%,#ffe600 100%)"></i>
<i style="left:452px;width:11px;background:linear-gradient(#00008d 0%,#00009b .46%,#0000a8 .61%,#0000cd .92%,#0000ed 1.07%,#0000ff 1.23%,#0084ff 1.99%,#00c8ff 2.45%,#00dcfe 2.6%,#06ecf1 2.76%,#19ffde 3.06%,#26ffd1 3.37%,#30ffc7 3.98%,#36ffc1 6.58%,#77ff80 15.47%,#8dff6a 21.59%,#a0ff56 47.01%,#a7ff50 75.04%,#c7ff30 83.15%,#eeff09 88.82%,#feed00 90.96%,#ffdb00 93.42%,#ffb900 96.17%,#ffa300 97.4%,#ff7300 99.08%,#ff7a00 99.23%,#ffdb00 99.54%,#ffe600 99.69%,#ffe600 100%)"></i>
<i style="left:462px;width:11px;background:linear-gradient(#00008d 0%,#00009b .46%,#0000a8 .61%,#0000cd .92%,#0000ed 1.07%,#0000ff 1.23%,#0084ff 1.99%,#00c8ff 2.45%,#00dcfe 2.6%,#06ecf1 2.76%,#19ffde 3.06%,#26ffd1 3.37%,#30ffc7 3.98%,#36ffc1 6.58%,#77ff80 15.47%,#8aff6d 20.37%,#9dff5a 41.5%,#a7ff50 75.19%,#caff2c 83.92%,#eeff09 88.97%,#f8f500 89.89%,#feed00 91.12%,#ffe600 92.34%,#ffbd00 95.87%,#ffab00 97.09%,#ff7300 99.08%,#ff7900 99.23%,#ffdb00 99.54%,#ffe600 99.69%,#ffe600 100%)"></i>
<i style="left:472px;width:11px;background:linear-gradient(#00008d 0%,#00009b .46%,#0000a8 .61%,#0000cd .92%,#0000ed 1.07%,#0000ff 1.23%,#0084ff 1.99%,#00c8ff 2.45%,#00dcfe 2.6%,#06ecf1 2.76%,#19ffde 3.06%,#26ffd1 3.37%,#30ffc7 3.98%,#36ffc1 6.58%,#7aff7d 16.08%,#8aff6d 20.52%,#a0ff56 48.7%,#a4ff53 73.35%,#adff49 77.49%,#c7ff30 83.31%,#eeff09 88.97%,#feed00 91.12%,#ffc100 95.56%,#ffa700 97.24%,#ff7200 99.08%,#ff7700 99.23%,#ffdb00 99.54%,#ffe600 99.69%,#ffe600 100%)"></i>
<i style="left:482px;width:11px;background:linear-gradient(#00008d 0%,#00009b .46%,#0000a8 .61%,#0000cd .92%,#0000ed 1.07%,#0000ff 1.23%,#0084ff 1.99%,#00c8ff 2.45%,#00dcfe 2.6%,#06ecf1 2.76%,#19ffde 3.06%,#26ffd1 3.37%,#30ffc7 3.98%,#36ffc1 6.58%,#7dff7a 16.85%,#8dff6a 21.9%,#a0ff56 49.46%,#a4ff53 73.66%,#c7ff30 83.46%,#eeff09 89.13%,#feed00 91.27%,#ffc400 95.25%,#ff9f00 97.55%,#ff6f00 99.08%,#ff7700 99.23%,#ffdb00 99.54%,#ffe600 99.69%,#ffe600 100%)"></i>
<i style="left:492px;width:11px;background:linear-gradient(#00008d 0%,#00009b .46%,#0000a8 .61%,#0000cd .92%,#0000ed 1.07%,#0000ff 1.23%,#0084ff 1.99%,#00c8ff 2.45%,#00dcfe 2.6%,#06ecf1 2.76%,#19ffde 3.06%,#26ffd1 3.37%,#30ffc7 3.98%,#36ffc1 6.58%,#73ff83 15.01%,#8aff6d 20.67%,#9dff5a 43.03%,#a4ff53 73.97%,#c7ff30 83.61%,#eeff09 89.28%,#feed00 91.27%,#ffc400 95.25%,#ffab00 96.94%,#ff6f00 99.08%,#ff7700 99.23%,#ffdb00 99.54%,#ffe600 99.69%,#ffe600 100%)"></i>
<i style="left:502px;width:11px;background:linear-gradient(#00008d 0%,#00009b .46%,#0000a8 .61%,#0000cd .92%,#0000ed 1.07%,#0000ff 1.23%,#0084ff 1.99%,#00c8ff 2.45%,#00dcfe 2.6%,#06ecf1 2.76%,#19ffde 3.06%,#26ffd1 3.37%,#30ffc7 3.98%,#36ffc1 6.58%,#77ff80 15.62%,#8aff6d 20.67%,#9dff5a 43.49%,#a4ff53 74.27%,#c7ff30 83.77%,#eeff09 89.43%,#feed00 91.42%,#ffc800 94.95%,#ffa600 97.09%,#ff6f00 99.08%,#ff7700 99.23%,#ffdb00 99.54%,#ffe600 99.69%,#ffe600 100%)"></i>
<i style="left:512px;width:11px;background:linear-gradient(#00008d 0%,#00009b .46%,#0000a8 .61%,#0000cd .92%,#0000ed 1.07%,#0000ff 1.23%,#0084ff 1.99%,#00c8ff 2.45%,#00dcfe 2.6%,#06ecf1 2.76%,#19ffde 3.06%,#26ffd1 3.37%,#30ffc7 3.98%,#3cffba 7.66%,#77ff80 15.62%,#8aff6d 20.83%,#9dff5a 43.95%,#a4ff53 74.43%,#caff2c 84.69%,#eeff09 89.43%,#feed00 91.42%,#ffc800 94.95%,#ff9f00 97.4%,#ff6c00 99.08%,#ff7300 99.23%,#ffdb00 99.54%,#ffe600 99.69%,#ffe600 100%)"></i>
<i style="left:522px;width:11px;background:linear-gradient(#00008d 0%,#00009b .46%,#0000a8 .61%,#0000cd .92%,#0000ed 1.07%,#0000ff 1.23%,#0084ff 1.99%,#00c8ff 2.45%,#00dcfe 2.6%,#06ecf1 2.76%,#19ffde 3.06%,#26ffd1 3.37%,#30ffc7 3.98%,#3cffba 7.66%,#73ff83 15.16%,#8aff6d 20.83%,#9dff5a 44.41%,#a4ff53 74.73%,#c7ff30 84.23%,#eeff09 89.59%,#feed00 91.58%,#ffcc00 94.64%,#ffa700 96.94%,#ff6c00 99.08%,#ff7300 99.23%,#ffdb00 99.54%,#ffe600 99.69%,#ffe600 100%)"></i>
<i style="left:532px;width:11px;background:linear-gradient(#00008d 0%,#00009b .46%,#0000a8 .61%,#0000cd .92%,#0000ed 1.07%,#0000ff 1.23%,#0084ff 1.99%,#00c8ff 2.45%,#00dcfe 2.6%,#06ecf1 2.76%,#19ffde 3.06%,#26ffd1 3.37%,#30ffc7 3.98%,#3cffba 7.66%,#73ff83 15.16%,#8aff6d 20.98%,#9dff5a 44.87%,#a4ff53 75.04%,#caff2c 85.15%,#eeff09 89.74%,#feed00 91.58%,#ffcc00 94.64%,#ff9f00 97.24%,#ff6b00 99.08%,#ff7300 99.23%,#ffdb00 99.54%,#ffe600 99.69%,#ffe600 100%)"></i>
<i style="left:542px;width:11px;background:linear-gradient(#00008d 0%,#00009b .46%,#0000a8 .61%,#0000cd .92%,#0000ed 1.07%,#0000ff 1.23%,#0084ff 1.99%,#00c8ff 2.45%,#00dcfe 2.6%,#06ecf1 2.76%,#19ffde 3.06%,#26ffd1 3.37%,#30ffc7 3.98%,#39ffbe 7.2%,#73ff83 15.16%,#8aff6d 20.98%,#9dff5a 45.48%,#a4ff53 75.19%,#c7ff30 84.69%,#dbff1c 88.06%,#eeff09 89.89%,#feed00 91.73%,#ffc400 95.1%,#ff9900 97.4%,#ff6800 99.08%,#ff7000 99.23%,#ffdb00 99.54%,#ffe600 99.69%,#ffe600 100%)"></i>
<i style="left:552px;width:11px;background:linear-gradient(#00008d 0%,#00009b .46%,#0000a8 .61%,#0000cd .92%,#0000ed 1.07%,#0000ff 1.23%,#0084ff 1.99%,#00c8ff 2.45%,#00dcfe 2.6%,#06ecf1 2.76%,#19ffde 3.06%,#26ffd1 3.37%,#30ffc7 3.98%,#39ffbe 7.2%,#77ff80 15.77%,#8aff6d 21.13%,#9dff5a 45.94%,#a4ff53 75.5%,#c7ff30 84.99%,#deff19 88.67%,#eeff09 90.05%,#feed00 91.73%,#ffcc00 94.64%,#ff9f00 97.09%,#ff6800 99.08%,#ff6f00 99.23%,#ffdb00 99.54%,#ffe600 99.69%,#ffe600 100%)"></i>
<i style="left:562px;width:11px;background:linear-gradient(#00008d 0%,#00009b .46%,#0000a8 .61%,#0000cd .92%,#0000ed 1.07%,#0000ff 1.23%,#0084ff 1.99%,#00c8ff 2.45%,#00dcfe 2.6%,#06ecf1 2.76%,#19ffde 3.06%,#26ffd1 3.37%,#30ffc7 3.98%,#39ffbe 7.2%,#76ff81 15.77%,#8aff6d 21.13%,#9dff5a 46.55%,#a4ff53 75.65%,#caff2c 85.91%,#dbff1c 88.51%,#eeff09 90.2%,#feee00 91.73%,#ffcc00 94.64%,#ff9700 97.4%,#ff6600 99.08%,#ff6f00 99.23%,#ffdb00 99.54%,#ffe600 99.69%,#ffe600 100%)"></i>
<i style="left:572px;width:11px;background:linear-gradient(#00008d 0%,#00009b .46%,#0000a8 .61%,#0000cd .92%,#0000ed 1.07%,#0000ff 1.23%,#0084ff 1.99%,#00c8ff 2.45%,#00dcfe 2.6%,#06ecf1 2.76%,#19ffde 3.06%,#26ffd1 3.37%,#30ffc7 3.98%,#39ffbe 7.2%,#7aff7d 16.54%,#8aff6d 21.29%,#9dff5a 47.17%,#a4ff53 75.8%,#ceff29 86.83%,#eeff09 90.35%,#feed00 91.88%,#ffcc00 94.64%,#ff9f00 96.94%,#ff6400 99.08%,#ff6d00 99.23%,#ffdb00 99.54%,#ffe600 99.69%,#ffe600 100%)"></i>
<i style="left:582px;width:11px;background:linear-gradient(#00008d 0%,#00009b .46%,#0000a8 .61%,#0000cd .92%,#0000ed 1.07%,#0000ff 1.23%,#0084ff 1.99%,#00c8ff 2.45%,#00dcfe 2.6%,#06ecf1 2.76%,#19ffde 3.06%,#26ffd1 3.37%,#30ffc7 3.98%,#39ffbe 7.2%,#7aff7d 16.54%,#8aff6d 21.29%,#9dff5a 47.78%,#a0ff56 73.97%,#c7ff30 85.76%,#d5ff22 88.21%,#eeff09 90.51%,#feed00 91.88%,#ffc800 94.79%,#ff9800 97.24%,#ff6400 98.93%,#ff6c00 99.23%,#ffdb00 99.54%,#ffe600 99.69%,#ffe600 100%)"></i>
<i style="left:592px;width:11px;background:linear-gradient(#00008d 0%,#00009b .46%,#0000a8 .61%,#0000cd .92%,#0000ed 1.07%,#0000ff 1.23%,#0084ff 1.99%,#00c8ff 2.45%,#00dcfe 2.6%,#06ecf1 2.76%,#19ffde 3.06%,#26ffd1 3.37%,#30ffc7 3.98%,#39ffbe 7.2%,#77ff80 15.93%,#8aff6d 21.44%,#9dff5a 48.39%,#a0ff56 74.27%,#caff2c 86.68%,#d4ff23 88.36%,#eeff09 90.51%,#feed00 91.88%,#ffc800 94.79%,#ff9100 97.4%,#ff6200 99.08%,#ff6c00 99.23%,#ffd700 99.54%,#ffe600 99.69%,#ffe600 100%)"></i>
<i style="left:602px;width:11px;background:linear-gradient(#00008d 0%,#00009b .46%,#0000a8 .61%,#0000cd .92%,#0000ed 1.07%,#0000ff 1.23%,#0084ff 1.99%,#00c8ff 2.45%,#00dcfe 2.6%,#06ecf1 2.76%,#19ffde 3.06%,#26ffd1 3.37%,#30ffc7 3.98%,#39ffbe 7.2%,#77ff80 15.93%,#87ff70 20.21%,#9aff5d 42.11%,#a0ff56 74.58%,#caff2c 86.98%,#d4ff23 88.51%,#eeff09 90.66%,#feed00 92.04%,#ffc800 94.79%,#ff9f00 96.78%,#ff6000 99.08%,#ff6a00 99.23%,#ffd700 99.54%,#ffe600 99.69%,#ffe600 100%)"></i>
<i style="left:612px;width:11px;background:linear-gradient(#00008d 0%,#00009b .46%,#0000a8 .61%,#0000cd .92%,#0000ed 1.07%,#0000ff 1.23%,#0084ff 1.99%,#00c8ff 2.45%,#00dcfe 2.6%,#06ecf1 2.76%,#19ffde 3.06%,#26ffd1 3.37%,#30ffc7 3.98%,#39ffbe 7.2%,#7aff7d 16.69%,#8aff6d 21.59%,#9dff5a 49.62%,#a0ff56 74.89%,#caff2c 87.29%,#eeff09 90.66%,#feed00 92.04%,#ffc800 94.79%,#ff9100 97.4%,#ff6000 98.93%,#ff6800 99.23%,#ffd700 99.54%,#ffe600 99.69%,#ffe600 100%)"></i>
<i style="left:622px;width:11px;background:linear-gradient(#00008d 0%,#00009b .46%,#0000a8 .61%,#0000cd .92%,#0000ed 1.07%,#0000ff 1.23%,#0084ff 1.99%,#00c8ff 2.45%,#00dcfe 2.6%,#06ecf1 2.76%,#19ffde 3.06%,#26ffd1 3.37%,#30ffc7 3.98%,#39ffbe 7.2%,#70ff87 14.85%,#87ff70 20.37%,#9aff5d 43.03%,#a0ff56 75.04%,#caff2c 87.44%,#eeff09 90.81%,#feed00 92.04%,#ffc800 94.79%,#ff8e00 97.4%,#ff6000 98.93%,#ff6800 99.23%,#ffd700 99.54%,#ffe600 99.69%,#ffe600 100%)"></i>
<i style="left:632px;width:11px;background:linear-gradient(#00008d 0%,#00009b .46%,#0000a8 .61%,#0000cd .92%,#0000ed 1.07%,#0000ff 1.23%,#0084ff 1.99%,#00c8ff 2.45%,#00dcfe 2.6%,#06ecf1 2.76%,#19ffde 3.06%,#26ffd1 3.37%,#30ffc7 3.98%,#39ffbe 7.2%,#7aff7d 16.69%,#8aff6d 21.75%,#9dff5a 50.84%,#a0ff56 75.34%,#c7ff30 86.98%,#ceff29 88.21%,#eeff09 90.81%,#feed00 92.04%,#ffc400 94.95%,#ff8600 97.7%,#ff5d00 99.08%,#ff6800 99.23%,#ffd700 99.54%,#ffe600 99.69%,#ffe600 100%)"></i>
<i style="left:642px;width:11px;background:linear-gradient(#00008d 0%,#00009b .46%,#0000a8 .61%,#0000cd .92%,#0000ed 1.07%,#0000ff 1.23%,#0084ff 1.99%,#00c8ff 2.45%,#00dcfe 2.6%,#06ecf1 2.76%,#19ffde 3.06%,#26ffd1 3.37%,#30ffc7 3.98%,#36ffc1 6.58%,#73ff83 15.47%,#87ff70 20.52%,#9aff5d 43.8%,#a0ff56 75.5%,#c7ff30 87.14%,#ceff29 88.36%,#eeff09 90.81%,#feed00 92.04%,#ffc400 94.95%,#ff8600 97.7%,#ff5d00 99.08%,#ff6800 99.23%,#ffd700 99.54%,#ffe600 99.69%,#ffe600 100%)"></i>
<i style="left:652px;width:11px;background:linear-gradient(#00008d 0%,#00009b .46%,#0000a8 .61%,#0000cd .92%,#0000ed 1.07%,#0000ff 1.23%,#0084ff 1.99%,#00c8ff 2.45%,#00dcfe 2.6%,#06ecf1 2.76%,#19ffde 3.06%,#26ffd1 3.37%,#30ffc7 3.98%,#39ffbe 7.2%,#77ff80 16.08%,#8aff6d 21.9%,#9dff5a 51.91%,#a0ff56 75.65%,#c7ff30 87.29%,#d4ff23 88.97%,#eeff09 90.81%,#feed00 92.04%,#ffc400 94.95%,#ff8600 97.7%,#ff6500 98.62%,#ff5d00 99.08%,#ff6800 99.23%,#ffd700 99.54%,#ffe600 99.69%,#ffe600 100%)"></i>
<i style="left:662px;width:11px;background:linear-gradient(#00008d 0%,#00009b .46%,#0000a8 .61%,#0000cd .92%,#0000ed 1.07%,#0000ff 1.23%,#0084ff 1.99%,#00c8ff 2.45%,#00dcfe 2.6%,#06ecf1 2.76%,#19ffde 3.06%,#26ffd1 3.37%,#30ffc7 3.98%,#39ffbe 7.2%,#77ff80 16.08%,#87ff70 20.67%,#9aff5d 44.72%,#a0ff56 75.65%,#c7ff30 87.29%,#d4ff23 88.97%,#eeff09 90.81%,#feed00 92.04%,#ffc400 94.95%,#ff8600 97.7%,#ff6400 98.62%,#ff5d00 99.08%,#ff6800 99.23%,#ffd700 99.54%,#ffe600 99.69%,#ffe600 100%)"></i>
<i style="left:672px;width:11px;background:linear-gradient(#00008d 0%,#00009b .46%,#0000a8 .61%,#0000cd .92%,#0000ed 1.07%,#0000ff 1.23%,#0084ff 1.99%,#00c8ff 2.45%,#00dcfe 2.6%,#06ecf1 2.76%,#19ffde 3.06%,#26ffd1 3.37%,#30ffc7 3.98%,#33ffc4 5.97%,#70ff87 15.01%,#87ff70 20.67%,#9aff5d 45.18%,#a0ff56 75.8%,#c7ff30 87.29%,#d4ff23 88.97%,#eeff09 90.81%,#feed00 92.04%,#ffc400 94.95%,#ff8600 97.7%,#ff6400 98.62%,#ff5d00 99.08%,#ff6800 99.23%,#ffd700 99.54%,#ffe600 99.69%,#ffe600 100%)"></i>
<i style="left:682px;width:18px;background:linear-gradient(#00008d 0%,#00009b .46%,#0000a8 .61%,#0000cd .92%,#0000ed 1.07%,#0000ff 1.23%,#0084ff 1.99%,#00c8ff 2.45%,#00dcfe 2.6%,#06ecf1 2.76%,#19ffde 3.06%,#26ffd1 3.37%,#30ffc7 3.98%,#39ffbe 7.2%,#77ff80 16.23%,#87ff70 20.83%,#9aff5d 45.48%,#a0ff56 75.96%,#c7ff30 87.29%,#d4ff23 88.97%,#eeff09 90.81%,#feed00 92.04%,#ffc400 94.95%,#ff8600 97.7%,#ff6400 98.62%,#ff5d00 99.08%,#ff6800 99.23%,#ffd700 99.54%,#ffe600 99.69%,#ffe600 100%)"></i>
</div></div>
<div class="hm" style="left:183px;top:1060px;width:683px;height:654px"><div class="in">
<i style="left:0px;width:10px;background:linear-gradient(#0080ff 0%,#007cff .92%,#0074ff 1.22%,#0004ff 2.6%,#0000ff 2.75%,#0000f6 2.91%,#00008d 3.82%,#000080 4.28%,#000080 87.16%,#00008d 87.46%,#0000a8 87.77%,#0000bb 87.92%,#0000f1 88.23%,#0000ff 88.38%,#0070ff 88.84%,#00d0ff 89.3%,#02e8f4 89.45%,#16ffe1 89.76%,#3cffba 90.67%,#70ff87 91.44%,#7aff7d 91.74%,#97ff60 94.19%,#b7ff40 98.17%,#dbff1c 100%)"></i>
<i style="left:9px;width:2px;background:linear-gradient(#0080ff 0%,#007cff .92%,#0074ff 1.22%,#0004ff 2.6%,#0000ff 2.75%,#0000f6 2.91%,#00008d 3.82%,#000080 4.28%,#000080 87.16%,#0000ad 87.77%,#0000da 88.07%,#0000fa 88.23%,#0008ff 88.38%,#009cff 88.99%,#00d8ff 89.3%,#06ecf1 89.45%,#19ffde 89.76%,#40ffb7 90.67%,#73ff83 91.44%,#7aff7d 91.74%,#97ff60 94.19%,#b4ff43 97.86%,#dbff1c 100%)"></i>
<i style="left:10px;width:2px;background:linear-gradient(#0080ff 0%,#007cff .92%,#0074ff 1.22%,#0004ff 2.6%,#0000ff 2.75%,#0000f6 2.91%,#00008d 3.82%,#000080 4.28%,#000080 87.16%,#0000b2 87.77%,#0000ff 88.23%,#0014ff 88.38%,#0084ff 88.84%,#00c4ff 89.14%,#00e0fb 89.3%,#13fce4 89.6%,#39ffbe 90.52%,#73ff83 91.44%,#7dff7a 91.9%,#b4ff43 97.86%,#dbff1c 100%)"></i>
<i style="left:11px;width:2px;background:linear-gradient(#0080ff 0%,#007cff .92%,#0074ff 1.22%,#0004ff 2.6%,#0000ff 2.75%,#0000f6 2.91%,#00008d 3.82%,#000080 4.28%,#000080 87%,#00008d 87.31%,#0000a8 87.61%,#0000ff 88.23%,#001cff 88.38%,#006cff 88.69%,#00ccff 89.14%,#00e4f8 89.3%,#16ffe1 89.6%,#33ffc4 90.37%,#6dff8a 91.28%,#7dff7a 91.9%,#9aff5d 94.5%,#b1ff46 97.55%,#dbff1c 100%)"></i>
<i style="left:12px;width:2px;background:linear-gradient(#0080ff 0%,#007cff .92%,#0074ff 1.22%,#0004ff 2.6%,#0000ff 2.75%,#0000f6 2.91%,#00008d 3.82%,#000080 4.28%,#000080 87%,#00009b 87.46%,#0000bf 87.77%,#0000f6 88.07%,#0004ff 88.23%,#0074ff 88.69%,#00d4ff 89.14%,#06ecf1 89.3%,#16ffe1 89.6%,#36ffc1 90.37%,#70ff87 91.28%,#7dff7a 91.9%,#baff3c 98.32%,#deff19 100%)"></i>
<i style="left:13px;width:2px;background:linear-gradient(#0080ff 0%,#007cff .92%,#0074ff 1.22%,#0004ff 2.6%,#0000ff 2.75%,#0000f6 2.91%,#00008d 3.82%,#000080 4.28%,#000080 87%,#00009f 87.46%,#0000df 87.92%,#0000ff 88.07%,#000cff 88.23%,#005cff 88.53%,#00c0ff 88.99%,#00dcfe 89.14%,#13fce4 89.45%,#30ffc7 90.21%,#6aff8d 91.13%,#7dff7a 91.9%,#baff3c 98.32%,#deff19 100%)"></i>
<i style="left:14px;width:2px;background:linear-gradient(#0080ff 0%,#007cff .92%,#0074ff 1.22%,#0004ff 2.6%,#0000ff 2.75%,#0000f6 2.91%,#00008d 3.82%,#000080 4.28%,#000080 86.85%,#0000a4 87.46%,#0000ff 88.07%,#0018ff 88.23%,#0088ff 88.69%,#00c8ff 88.99%,#00e0fb 89.14%,#0cf4eb 89.3%,#13fce4 89.45%,#43ffb4 90.52%,#6dff8a 91.13%,#80ff77 92.05%,#b7ff40 98.01%,#deff19 100%)"></i>
<i style="left:15px;width:2px;background:linear-gradient(#0080ff 0%,#007cff .92%,#0074ff 1.22%,#0004ff 2.6%,#0000ff 2.75%,#0000f6 2.91%,#00008d 3.82%,#000080 4.28%,#000080 86.85%,#00008d 87.16%,#0000a8 87.46%,#0000bb 87.61%,#0000f1 87.92%,#0000ff 88.07%,#0070ff 88.53%,#00d0ff 88.99%,#02e8f4 89.14%,#16ffe1 89.45%,#2cffca 90.06%,#6dff8a 91.13%,#80ff77 92.05%,#b7ff40 98.01%,#deff19 100%)"></i>
<i style="left:16px;width:2px;background:linear-gradient(#0080ff 0%,#007cff .92%,#0074ff 1.22%,#0004ff 2.6%,#0000ff 2.75%,#0000f6 2.91%,#00008d 3.82%,#000080 4.28%,#000080 86.85%,#0000ad 87.46%,#0000da 87.77%,#0000fa 87.92%,#0008ff 88.07%,#0078ff 88.53%,#00d8ff 88.99%,#06ecf1 89.14%,#19ffde 89.45%,#30ffc7 90.06%,#6dff8a 91.13%,#80ff77 92.05%,#b7ff40 98.01%,#deff19 100%)"></i>
<i style="left:17px;width:2px;background:linear-gradient(#0080ff 0%,#007cff .92%,#0074ff 1.22%,#0004ff 2.6%,#0000ff 2.75%,#0000f6 2.91%,#00008d 3.82%,#000080 4.28%,#000080 86.85%,#0000b2 87.46%,#0000ff 87.92%,#0014ff 88.07%,#0060ff 88.38%,#00c4ff 88.84%,#00e0fb 88.99%,#13fce4 89.3%,#39ffbe 90.21%,#6aff8d 90.98%,#80ff77 92.05%,#b7ff40 98.01%,#deff19 100%)"></i>
<i style="left:18px;width:2px;background:linear-gradient(#0080ff 0%,#007cff .92%,#0074ff 1.22%,#0004ff 2.6%,#0000ff 2.75%,#0000f6 2.91%,#00008d 3.82%,#000080 4.28%,#000080 86.7%,#0000a4 87.31%,#0000ff 87.92%,#001cff 88.07%,#008cff 88.53%,#00ccff 88.84%,#00e4f8 88.99%,#16ffe1 89.3%,#33ffc4 90.06%,#63ff94 90.83%,#7aff7d 91.59%,#97ff60 94.04%,#b7ff40 98.01%,#deff19 100%)"></i>
<i style="left:19px;width:2px;background:linear-gradient(#0080ff 0%,#007cff .92%,#0074ff 1.22%,#0004ff 2.6%,#0000ff 2.75%,#0000f6 2.91%,#00008d 3.82%,#000080 4.28%,#000080 86.7%,#000084 86.85%,#0000a8 87.31%,#0000d6 87.61%,#0000f6 87.77%,#0004ff 87.92%,#0074ff 88.38%,#00d4ff 88.84%,#02e8f4 88.99%,#0ff8e7 89.14%,#16ffe1 89.3%,#36ffc1 90.06%,#66ff90 90.83%,#7aff7d 91.59%,#97ff60 94.04%,#b4ff43 97.71%,#deff19 100%)"></i>
<i style="left:20px;width:2px;background:linear-gradient(#0080ff 0%,#007cff .92%,#0074ff 1.22%,#0004ff 2.6%,#0000ff 2.75%,#0000f6 2.91%,#00008d 3.82%,#000080 4.28%,#000080 86.7%,#00009f 87.16%,#0000c4 87.46%,#0000fa 87.77%,#000cff 87.92%,#00c0ff 88.69%,#00dcfe 88.84%,#13fce4 89.14%,#30ffc7 89.91%,#66ff90 90.83%,#7dff7a 91.74%,#b4ff43 97.71%,#deff19 100%)"></i>
<i style="left:21px;width:2px;background:linear-gradient(#0080ff 0%,#007cff .92%,#0074ff 1.22%,#0004ff 2.6%,#0000ff 2.75%,#0000f6 2.91%,#00008d 3.82%,#000080 4.28%,#000080 86.54%,#0000a4 87.16%,#0000ff 87.77%,#0018ff 87.92%,#0088ff 88.38%,#00c8ff 88.69%,#00e0fb 88.84%,#13fce4 89.14%,#33ffc4 89.91%,#66ff90 90.83%,#7dff7a 91.74%,#9aff5d 94.34%,#b1ff46 97.4%,#c4ff33 98.78%,#e1ff16 100%)"></i>
<i style="left:22px;width:2px;background:linear-gradient(#0080ff 0%,#007cff .92%,#0074ff 1.22%,#0004ff 2.6%,#0000ff 2.75%,#0000f6 2.91%,#00008d 3.82%,#000080 4.28%,#000080 86.54%,#00008d 86.85%,#0000a8 87.16%,#0000bb 87.31%,#0000f1 87.61%,#0000ff 87.77%,#0020ff 87.92%,#0070ff 88.23%,#00d0ff 88.69%,#02e8f4 88.84%,#16ffe1 89.14%,#2cffca 89.76%,#63ff94 90.67%,#7dff7a 91.74%,#baff3c 98.17%,#e1ff16 100%)"></i>
<i style="left:23px;width:2px;background:linear-gradient(#0080ff 0%,#007cff .92%,#0074ff 1.22%,#0004ff 2.6%,#0000ff 2.75%,#0000f6 2.91%,#00008d 3.82%,#000080 4.28%,#000080 86.54%,#0000ad 87.16%,#0000f6 87.61%,#0008ff 87.77%,#0078ff 88.23%,#00d8ff 88.69%,#06ecf1 88.84%,#19ffde 89.14%,#36ffc1 89.91%,#63ff94 90.67%,#7dff7a 91.74%,#baff3c 98.17%,#e1ff16 100%)"></i>
<i style="left:24px;width:2px;background:linear-gradient(#0080ff 0%,#007cff .92%,#0074ff 1.22%,#0004ff 2.6%,#0000ff 2.75%,#0000f6 2.91%,#00008d 3.82%,#000080 4.28%,#000080 86.54%,#00009f 87%,#0000c8 87.31%,#0000ff 87.61%,#0010ff 87.77%,#0060ff 88.07%,#00c4ff 88.53%,#00dcfe 88.69%,#13fce4 88.99%,#39ffbe 89.91%,#60ff97 90.52%,#80ff77 91.9%,#b7ff40 97.86%,#e1ff16 100%)"></i>
<i style="left:25px;width:2px;background:linear-gradient(#0080ff 0%,#007cff .92%,#0074ff 1.22%,#0004ff 2.6%,#0000ff 2.75%,#0000f6 2.91%,#00008d 3.82%,#000080 4.28%,#000080 86.39%,#0000a4 87%,#0000ff 87.61%,#001cff 87.77%,#008cff 88.23%,#00ccff 88.53%,#00e4f8 88.69%,#16ffe1 88.99%,#33ffc4 89.76%,#60ff97 90.52%,#80ff77 91.9%,#b7ff40 97.86%,#e1ff16 100%)"></i>
<i style="left:26px;width:2px;background:linear-gradient(#0080ff 0%,#007cff .92%,#0074ff 1.22%,#0004ff 2.6%,#0000ff 2.75%,#0000f6 2.91%,#00008d 3.82%,#000080 4.28%,#000080 86.39%,#000084 86.54%,#0000a8 87%,#0000d6 87.31%,#0000f6 87.46%,#0004ff 87.61%,#0074ff 88.07%,#00d4ff 88.53%,#02e8f4 88.69%,#0ff8e7 88.84%,#16ffe1 88.99%,#36ffc1 89.76%,#5dff9a 90.37%,#80ff77 91.9%,#b7ff40 97.86%,#e1ff16 100%)"></i>
<i style="left:27px;width:2px;background:linear-gradient(#0080ff 0%,#007cff .92%,#0074ff 1.22%,#0004ff 2.6%,#0000ff 2.75%,#0000f6 2.91%,#00008d 3.82%,#000080 4.28%,#000080 86.39%,#00009f 86.85%,#0000c4 87.16%,#0000fa 87.46%,#000cff 87.61%,#007cff 88.07%,#00dcfe 88.53%,#13fce4 88.84%,#30ffc7 89.6%,#5dff9a 90.37%,#80ff77 91.9%,#b7ff40 97.86%,#e1ff16 100%)"></i>
<i style="left:28px;width:2px;background:linear-gradient(#0080ff 0%,#007cff .92%,#0074ff 1.22%,#0004ff 2.6%,#0000ff 2.75%,#0000f6 2.91%,#00008d 3.82%,#000080 4.28%,#000080 86.24%,#000089 86.54%,#0000a4 86.85%,#0000ff 87.46%,#0018ff 87.61%,#0064ff 87.92%,#00c8ff 88.38%,#00e0fb 88.53%,#13fce4 88.84%,#5dff9a 90.37%,#7aff7d 91.44%,#97ff60 93.88%,#b7ff40 97.86%,#e1ff16 100%)"></i>
<i style="left:29px;width:2px;background:linear-gradient(#0080ff 0%,#007cff .92%,#0074ff 1.22%,#0004ff 2.6%,#0000ff 2.75%,#0000f6 2.91%,#00008d 3.82%,#000080 4.28%,#000080 86.24%,#00008d 86.54%,#0000a8 86.85%,#0000d1 87.16%,#0000f1 87.31%,#0000ff 87.46%,#0090ff 88.07%,#00d0ff 88.38%,#02e8f4 88.53%,#16ffe1 88.84%,#2cffca 89.45%,#5aff9d 90.21%,#7aff7d 91.44%,#97ff60 93.88%,#b4ff43 97.55%,#c1ff36 98.47%,#e4ff13 100%)"></i>
<i style="left:30px;width:2px;background:linear-gradient(#0080ff 0%,#007cff .92%,#0074ff 1.22%,#0004ff 2.6%,#0000ff 2.75%,#0000f6 2.91%,#00008d 3.82%,#000080 4.28%,#000080 86.24%,#0000ad 86.85%,#0000f6 87.31%,#0008ff 87.46%,#0078ff 87.92%,#00d8ff 88.38%,#06ecf1 88.53%,#19ffde 88.84%,#36ffc1 89.6%,#5aff9d 90.21%,#7dff7a 91.59%,#b4ff43 97.55%,#c1ff36 98.47%,#e4ff13 100%)"></i>
<i style="left:31px;width:2px;background:linear-gradient(#0080ff 0%,#007cff .92%,#0074ff 1.22%,#0004ff 2.6%,#0000ff 2.75%,#0000f6 2.91%,#00008d 3.82%,#000080 4.28%,#000080 86.24%,#00009f 86.7%,#0000c8 87%,#0000ff 87.31%,#0010ff 87.46%,#0080ff 87.92%,#00c0ff 88.23%,#00dcfe 88.38%,#13fce4 88.69%,#39ffbe 89.6%,#56ffa0 90.06%,#7dff7a 91.59%,#9aff5d 94.19%,#b1ff46 97.25%,#c4ff33 98.62%,#e4ff13 100%)"></i>
<i style="left:32px;width:2px;background:linear-gradient(#0080ff 0%,#007cff .92%,#0074ff 1.22%,#0004ff 2.6%,#0000ff 2.75%,#0000f6 2.91%,#00008d 3.82%,#000080 4.28%,#000080 86.09%,#0000a4 86.7%,#0000ff 87.31%,#001cff 87.46%,#0068ff 87.77%,#00ccff 88.23%,#00e4f8 88.38%,#16ffe1 88.69%,#33ffc4 89.45%,#56ffa0 90.06%,#7dff7a 91.59%,#baff3c 98.01%,#e4ff13 100%)"></i>
<i style="left:33px;width:2px;background:linear-gradient(#0080ff 0%,#007cff .92%,#0074ff 1.22%,#0004ff 2.6%,#0000ff 2.75%,#0000f6 2.91%,#00008d 3.82%,#000080 4.28%,#000080 86.09%,#00008d 86.39%,#0000a8 86.7%,#0000f1 87.16%,#0000ff 87.31%,#0074ff 87.77%,#00d4ff 88.23%,#02e8f4 88.38%,#0ff8e7 88.53%,#16ffe1 88.69%,#56ffa0 90.06%,#7dff7a 91.59%,#baff3c 98.01%,#e4ff13 100%)"></i>
<i style="left:34px;width:2px;background:linear-gradient(#0080ff 0%,#007cff .92%,#0074ff 1.22%,#0004ff 2.6%,#0000ff 2.75%,#0000f6 2.91%,#00008d 3.82%,#000080 4.28%,#000080 86.09%,#0000ad 86.7%,#0000fa 87.16%,#000cff 87.31%,#007cff 87.77%,#00d8ff 88.23%,#06ecf1 88.38%,#19ffde 88.69%,#30ffc7 89.3%,#53ffa4 89.91%,#80ff77 91.74%,#b7ff40 97.71%,#e4ff13 100%)"></i>
<i style="left:35px;width:2px;background:linear-gradient(#0080ff 0%,#007cff .92%,#0074ff 1.22%,#0004ff 2.6%,#0000ff 2.75%,#0000f6 2.91%,#00008d 3.82%,#000080 4.28%,#000080 86.09%,#0000b6 86.7%,#0000ff 87.16%,#0014ff 87.31%,#0064ff 87.61%,#00a8ff 87.92%,#00e0fb 88.23%,#13fce4 88.53%,#53ffa4 89.91%,#80ff77 91.74%,#b7ff40 97.71%,#e4ff13 100%)"></i>
<i style="left:36px;width:2px;background:linear-gradient(#0080ff 0%,#007cff .92%,#0074ff 1.22%,#0004ff 2.6%,#0000ff 2.75%,#0000f6 2.91%,#00008d 3.82%,#000080 4.28%,#000080 85.93%,#00008d 86.24%,#0000a8 86.54%,#0000ff 87.16%,#0090ff 87.77%,#00d0ff 88.07%,#02e8f4 88.23%,#16ffe1 88.53%,#2cffca 89.14%,#50ffa7 89.76%,#80ff77 91.74%,#b7ff40 97.71%,#e4ff13 100%)"></i>
<i style="left:37px;width:2px;background:linear-gradient(#0080ff 0%,#007cff .92%,#0074ff 1.22%,#0004ff 2.6%,#0000ff 2.75%,#0000f6 2.91%,#00008d 3.82%,#000080 4.28%,#000080 85.93%,#000084 86.09%,#0000ad 86.54%,#0000bf 86.7%,#0000f6 87%,#0008ff 87.16%,#0078ff 87.61%,#00d4ff 88.07%,#06ecf1 88.23%,#16ffe1 88.53%,#56ffa0 89.91%,#80ff77 91.74%,#b7ff40 97.71%,#e4ff13 100%)"></i>
<i style="left:38px;width:2px;background:linear-gradient(#0080ff 0%,#007cff .92%,#0074ff 1.22%,#0004ff 2.6%,#0000ff 2.75%,#0000f6 2.91%,#00008d 3.82%,#000080 4.28%,#000080 85.93%,#00009f 86.39%,#0000c8 86.7%,#0000ff 87%,#0010ff 87.16%,#0080ff 87.61%,#00c0ff 87.92%,#00dcfe 88.07%,#13fce4 88.38%,#29ffce 88.99%,#53ffa4 89.76%,#7aff7d 91.28%,#97ff60 93.73%,#b7ff40 97.71%,#e7ff0f 100%)"></i>
<i style="left:39px;width:2px;background:linear-gradient(#0080ff 0%,#007cff .92%,#0074ff 1.22%,#0004ff 2.6%,#0000ff 2.75%,#0000f6 2.91%,#00008d 3.82%,#000080 4.28%,#000080 85.78%,#0000a4 86.39%,#0000ff 87%,#001cff 87.16%,#00acff 87.77%,#00e4f8 88.07%,#16ffe1 88.38%,#33ffc4 89.14%,#53ffa4 89.76%,#7aff7d 91.28%,#97ff60 93.73%,#b4ff43 97.4%,#c1ff36 98.32%,#e7ff0f 100%)"></i>
<i style="left:40px;width:2px;background:linear-gradient(#0080ff 0%,#007cff .92%,#0074ff 1.22%,#0004ff 2.6%,#0000ff 2.75%,#0000f6 2.91%,#00008d 3.82%,#000080 4.28%,#000080 85.78%,#00008d 86.09%,#0000a8 86.39%,#0000f1 86.85%,#0000ff 87%,#0094ff 87.61%,#00d0ff 87.92%,#02e8f4 88.07%,#0ff8e7 88.23%,#16ffe1 88.38%,#50ffa7 89.6%,#7dff7a 91.44%,#b4ff43 97.4%,#c1ff36 98.32%,#e7ff0f 100%)"></i>
<i style="left:41px;width:2px;background:linear-gradient(#0080ff 0%,#007cff .92%,#0074ff 1.22%,#0004ff 2.6%,#0000ff 2.75%,#0000f6 2.91%,#00008d 3.82%,#000080 4.28%,#000080 85.78%,#0000ad 86.39%,#0000fa 86.85%,#000cff 87%,#007cff 87.46%,#00d8ff 87.92%,#06ecf1 88.07%,#19ffde 88.38%,#50ffa7 89.6%,#7dff7a 91.44%,#9aff5d 94.04%,#b1ff46 97.09%,#c4ff33 98.47%,#e7ff0f 100%)"></i>
<i style="left:42px;width:2px;background:linear-gradient(#0080ff 0%,#007cff .92%,#0074ff 1.22%,#0004ff 2.6%,#0000ff 2.75%,#0000f6 2.91%,#00008d 3.82%,#000080 4.28%,#000080 85.78%,#0000b6 86.39%,#0000ff 86.85%,#0014ff 87%,#0064ff 87.31%,#00c4ff 87.77%,#00e0fb 87.92%,#13fce4 88.23%,#4dffaa 89.45%,#7dff7a 91.44%,#baff3c 97.86%,#e7ff0f 100%)"></i>
<i style="left:43px;width:2px;background:linear-gradient(#0080ff 0%,#007cff .92%,#0074ff 1.22%,#0004ff 2.6%,#0000ff 2.75%,#0000f6 2.91%,#00008d 3.82%,#000080 4.28%,#000080 85.63%,#00008d 85.93%,#0000a8 86.24%,#0000ff 86.85%,#00b0ff 87.61%,#00e4f8 87.92%,#16ffe1 88.23%,#4dffaa 89.45%,#7dff7a 91.44%,#baff3c 97.86%,#e7ff0f 100%)"></i>
<i style="left:44px;width:2px;background:linear-gradient(#0080ff 0%,#007cff .92%,#0074ff 1.22%,#0004ff 2.6%,#0000ff 2.75%,#0000f6 2.91%,#00008d 3.82%,#000080 4.28%,#000080 85.63%,#000084 85.78%,#0000ad 86.24%,#0000bf 86.39%,#0000f6 86.7%,#0004ff 86.85%,#0078ff 87.31%,#00d4ff 87.77%,#06ecf1 87.92%,#16ffe1 88.23%,#49ffad 89.3%,#80ff77 91.59%,#b7ff40 97.55%,#c7ff30 98.62%,#e7ff0f 100%)"></i>
<i style="left:45px;width:2px;background:linear-gradient(#0080ff 0%,#007cff .92%,#0074ff 1.22%,#0004ff 2.6%,#0000ff 2.75%,#0000f6 2.91%,#00008d 3.82%,#000080 4.28%,#000080 85.63%,#00009f 86.09%,#0000c8 86.39%,#0000ff 86.7%,#0010ff 86.85%,#0080ff 87.31%,#00c0ff 87.61%,#00dcfe 87.77%,#13fce4 88.07%,#49ffad 89.3%,#80ff77 91.59%,#b7ff40 97.55%,#c7ff30 98.62%,#e7ff0f 100%)"></i>
<i style="left:46px;width:2px;background:linear-gradient(#0080ff 0%,#007cff .92%,#0074ff 1.22%,#0004ff 2.6%,#0000ff 2.75%,#0000f6 2.91%,#00008d 3.82%,#000080 4.28%,#000080 85.47%,#0000a4 86.09%,#0000ff 86.7%,#0018ff 86.85%,#0068ff 87.16%,#00c8ff 87.61%,#00e4f8 87.77%,#13fce4 88.07%,#46ffb1 89.14%,#80ff77 91.59%,#b7ff40 97.55%,#e7ff0f 100%)"></i>
<i style="left:47px;width:2px;background:linear-gradient(#0080ff 0%,#007cff .92%,#0074ff 1.22%,#0004ff 2.6%,#0000ff 2.75%,#0000f6 2.91%,#00008d 3.82%,#000080 4.28%,#000080 85.47%,#00008d 85.78%,#0000a8 86.09%,#0000f1 86.54%,#0000ff 86.7%,#0070ff 87.16%,#00d0ff 87.61%,#02e8f4 87.77%,#0ff8e7 87.92%,#16ffe1 88.07%,#46ffb1 89.14%,#80ff77 91.59%,#b7ff40 97.55%,#e7ff0f 100%)"></i>
<i style="left:48px;width:2px;background:linear-gradient(#0080ff 0%,#007cff .92%,#0074ff 1.22%,#0004ff 2.6%,#0000ff 2.75%,#0000f6 2.91%,#00008d 3.82%,#000080 4.28%,#000080 85.47%,#0000ad 86.09%,#0000fa 86.54%,#000cff 86.7%,#007cff 87.16%,#00d8ff 87.61%,#06ecf1 87.77%,#19ffde 88.07%,#46ffb1 89.14%,#7aff7d 91.13%,#97ff60 93.58%,#b7ff40 97.55%,#ebff0c 100%)"></i>
<i style="left:49px;width:2px;background:linear-gradient(#0080ff 0%,#007cff .92%,#0074ff 1.22%,#0004ff 2.6%,#0000ff 2.75%,#0000f6 2.91%,#00008d 3.82%,#000080 4.28%,#000080 85.47%,#0000b6 86.09%,#0000ff 86.54%,#0014ff 86.7%,#0084ff 87.16%,#00c4ff 87.46%,#00e0fb 87.61%,#13fce4 87.92%,#43ffb4 88.99%,#7aff7d 91.13%,#97ff60 93.58%,#b4ff43 97.25%,#c1ff36 98.17%,#ebff0c 100%)"></i>
<i style="left:50px;width:2px;background:linear-gradient(#0080ff 0%,#007cff .92%,#0074ff 1.22%,#0004ff 2.6%,#0000ff 2.75%,#0000f6 2.91%,#00008d 3.82%,#000080 4.28%,#000080 85.32%,#00008d 85.63%,#0000a8 85.93%,#0000ff 86.54%,#00b0ff 87.31%,#00e4f8 87.61%,#16ffe1 87.92%,#43ffb4 88.99%,#7dff7a 91.28%,#b4ff43 97.25%,#c1ff36 98.17%,#ebff0c 100%)"></i>
<i style="left:51px;width:2px;background:linear-gradient(#0080ff 0%,#007cff .92%,#0074ff 1.22%,#0004ff 2.6%,#0000ff 2.75%,#0000f6 2.91%,#00008d 3.82%,#000080 4.28%,#000080 85.32%,#00009b 85.78%,#0000bf 86.09%,#0000f6 86.39%,#0004ff 86.54%,#0098ff 87.16%,#00d4ff 87.46%,#06ecf1 87.61%,#16ffe1 87.92%,#40ffb7 88.84%,#7dff7a 91.28%,#9aff5d 93.88%,#b1ff46 96.94%,#c4ff33 98.32%,#ebff0c 100%)"></i>
<i style="left:52px;width:2px;background:linear-gradient(#0080ff 0%,#007cff .92%,#0074ff 1.22%,#0004ff 2.6%,#0000ff 2.75%,#0000f6 2.91%,#00008d 3.82%,#000080 4.28%,#000080 85.32%,#00009f 85.78%,#0000df 86.24%,#0000ff 86.39%,#0010ff 86.54%,#0080ff 87%,#00c0ff 87.31%,#00dcfe 87.46%,#13fce4 87.77%,#40ffb7 88.84%,#7dff7a 91.28%,#baff3c 97.71%,#ebff0c 100%)"></i>
<i style="left:53px;width:2px;background:linear-gradient(#0080ff 0%,#007cff .92%,#0074ff 1.22%,#0004ff 2.6%,#0000ff 2.75%,#0000f6 2.91%,#00008d 3.82%,#000080 4.28%,#000080 85.17%,#0000a4 85.78%,#0000ff 86.39%,#0018ff 86.54%,#0068ff 86.85%,#00c8ff 87.31%,#00e4f8 87.46%,#13fce4 87.77%,#3cffba 88.69%,#7dff7a 91.28%,#baff3c 97.71%,#ebff0c 100%)"></i>
<i style="left:54px;width:2px;background:linear-gradient(#0080ff 0%,#007cff .92%,#0074ff 1.22%,#0004ff 2.6%,#0000ff 2.75%,#0000f6 2.91%,#00008d 3.82%,#000080 4.28%,#000080 85.17%,#00008d 85.47%,#0000a8 85.78%,#0000bb 85.93%,#0000f1 86.24%,#0000ff 86.39%,#0070ff 86.85%,#00d0ff 87.31%,#02e8f4 87.46%,#0ff8e7 87.61%,#16ffe1 87.77%,#3cffba 88.69%,#80ff77 91.44%,#b7ff40 97.4%,#c7ff30 98.47%,#ebff0c 100%)"></i>
<i style="left:55px;width:2px;background:linear-gradient(#0080ff 0%,#007cff .92%,#0074ff 1.22%,#0004ff 2.6%,#0000ff 2.75%,#0000f6 2.91%,#00008d 3.82%,#000080 4.28%,#000080 85.17%,#0000ad 85.78%,#0000fa 86.24%,#0008ff 86.39%,#007cff 86.85%,#00d8ff 87.31%,#06ecf1 87.46%,#19ffde 87.77%,#39ffbe 88.53%,#80ff77 91.44%,#b7ff40 97.4%,#c7ff30 98.47%,#ebff0c 100%)"></i>
<i style="left:56px;width:2px;background:linear-gradient(#0080ff 0%,#007cff .92%,#0074ff 1.22%,#0004ff 2.6%,#0000ff 2.75%,#0000f6 2.91%,#00008d 3.82%,#000080 4.28%,#000080 85.17%,#0000b2 85.78%,#0000ff 86.24%,#0014ff 86.39%,#0084ff 86.85%,#00c4ff 87.16%,#00e0fb 87.31%,#13fce4 87.61%,#39ffbe 88.53%,#80ff77 91.44%,#b7ff40 97.4%,#ebff0c 100%)"></i>
<i style="left:57px;width:2px;background:linear-gradient(#0080ff 0%,#007cff .92%,#0074ff 1.22%,#0004ff 2.6%,#0000ff 2.75%,#0000f6 2.91%,#00008d 3.82%,#000080 4.28%,#000080 85.02%,#00008d 85.32%,#0000a8 85.63%,#0000ff 86.24%,#006cff 86.7%,#00ccff 87.16%,#00e4f8 87.31%,#16ffe1 87.61%,#36ffc1 88.38%,#80ff77 91.44%,#b7ff40 97.4%,#ebff0c 100%)"></i>
<i style="left:58px;width:2px;background:linear-gradient(#0080ff 0%,#007cff .92%,#0074ff 1.22%,#0004ff 2.6%,#0000ff 2.75%,#0000f6 2.91%,#00008d 3.82%,#000080 4.28%,#000080 85.02%,#00009b 85.47%,#0000bf 85.78%,#0000f6 86.09%,#0004ff 86.24%,#0074ff 86.7%,#00d4ff 87.16%,#06ecf1 87.31%,#16ffe1 87.61%,#36ffc1 88.38%,#7aff7d 90.98%,#97ff60 93.43%,#b7ff40 97.4%,#ebff0c 100%)"></i>
<i style="left:59px;width:2px;background:linear-gradient(#0080ff 0%,#007cff .92%,#0074ff 1.22%,#0004ff 2.6%,#0000ff 2.75%,#0000f6 2.91%,#00008d 3.82%,#000080 4.28%,#000080 85.02%,#00009f 85.47%,#0000df 85.93%,#0000ff 86.09%,#0010ff 86.24%,#0080ff 86.7%,#00c0ff 87%,#00dcfe 87.16%,#13fce4 87.46%,#36ffc1 88.38%,#7aff7d 90.98%,#97ff60 93.43%,#b4ff43 97.09%,#c1ff36 98.01%,#eeff09 100%)"></i>
<i style="left:60px;width:2px;background:linear-gradient(#0080ff 0%,#007cff .92%,#0074ff 1.22%,#0004ff 2.6%,#0000ff 2.75%,#0000f6 2.91%,#00008d 3.82%,#000080 4.28%,#000080 84.86%,#0000a4 85.47%,#0000ff 86.09%,#0018ff 86.24%,#0088ff 86.7%,#00c8ff 87%,#00e4f8 87.16%,#13fce4 87.46%,#33ffc4 88.23%,#7dff7a 91.13%,#b4ff43 97.09%,#c1ff36 98.01%,#eeff09 100%)"></i>
<i style="left:61px;width:2px;background:linear-gradient(#0080ff 0%,#007cff .92%,#0074ff 1.22%,#0004ff 2.6%,#0000ff 2.75%,#0000f6 2.91%,#00008d 3.82%,#000080 4.28%,#000080 84.86%,#00008d 85.17%,#0000a8 85.47%,#0000bb 85.63%,#0000f1 85.93%,#0000ff 86.09%,#0070ff 86.54%,#00d0ff 87%,#02e8f4 87.16%,#16ffe1 87.46%,#30ffc7 88.07%,#7dff7a 91.13%,#baff3c 97.55%,#eeff09 100%)"></i>
<i style="left:62px;width:2px;background:linear-gradient(#0080ff 0%,#007cff .92%,#0074ff 1.22%,#0004ff 2.6%,#0000ff 2.75%,#0000f6 2.91%,#00008d 3.82%,#000080 4.28%,#000080 84.86%,#0000ad 85.47%,#0000da 85.78%,#0000fa 85.93%,#0008ff 86.09%,#009cff 86.7%,#00d8ff 87%,#06ecf1 87.16%,#19ffde 87.46%,#36ffc1 88.23%,#7dff7a 91.13%,#baff3c 97.55%,#eeff09 100%)"></i>
<i style="left:63px;width:2px;background:linear-gradient(#0080ff 0%,#007cff .92%,#0074ff 1.22%,#0004ff 2.6%,#0000ff 2.75%,#0000f6 2.91%,#00008d 3.82%,#000080 4.28%,#000080 84.86%,#0000b2 85.47%,#0000ff 85.93%,#0014ff 86.09%,#0084ff 86.54%,#00c4ff 86.85%,#00e0fb 87%,#13fce4 87.31%,#33ffc4 88.07%,#7dff7a 91.13%,#baff3c 97.55%,#eeff09 100%)"></i>
<i style="left:64px;width:2px;background:linear-gradient(#0080ff 0%,#007cff .92%,#0074ff 1.22%,#0004ff 2.6%,#0000ff 2.75%,#0000f6 2.91%,#00008d 3.82%,#000080 4.28%,#000080 84.71%,#00008d 85.02%,#0000a8 85.32%,#0000ff 85.93%,#001cff 86.09%,#006cff 86.39%,#00ccff 86.85%,#00e4f8 87%,#16ffe1 87.31%,#33ffc4 88.07%,#80ff77 91.28%,#b7ff40 97.25%,#c7ff30 98.32%,#eeff09 100%)"></i>
<i style="left:65px;width:2px;background:linear-gradient(#0080ff 0%,#007cff .92%,#0074ff 1.22%,#0004ff 2.6%,#0000ff 2.75%,#0000f6 2.91%,#00008d 3.82%,#000080 4.28%,#000080 84.71%,#00009b 85.17%,#0000bf 85.47%,#0000f6 85.78%,#0004ff 85.93%,#0074ff 86.39%,#00d4ff 86.85%,#06ecf1 87%,#16ffe1 87.31%,#30ffc7 87.92%,#80ff77 91.28%,#b7ff40 97.25%,#c7ff30 98.32%,#eeff09 100%)"></i>
<i style="left:66px;width:2px;background:linear-gradient(#0080ff 0%,#007cff .92%,#0074ff 1.22%,#0004ff 2.6%,#0000ff 2.75%,#0000f6 2.91%,#00008d 3.82%,#000080 4.28%,#000080 84.71%,#00009f 85.17%,#0000df 85.63%,#0000ff 85.78%,#000cff 85.93%,#005cff 86.24%,#00c0ff 86.7%,#00dcfe 86.85%,#13fce4 87.16%,#30ffc7 87.92%,#80ff77 91.28%,#b7ff40 97.25%,#caff2c 98.47%,#eeff09 100%)"></i>
<i style="left:67px;width:2px;background:linear-gradient(#0080ff 0%,#007cff .92%,#0074ff 1.22%,#0004ff 2.6%,#0000ff 2.75%,#0000f6 2.91%,#00008d 3.82%,#000080 4.28%,#000080 84.56%,#0000a4 85.17%,#0000ff 85.78%,#0018ff 85.93%,#0088ff 86.39%,#00c8ff 86.7%,#00e0fb 86.85%,#0cf4eb 87%,#13fce4 87.16%,#33ffc4 87.92%,#80ff77 91.28%,#b7ff40 97.25%,#caff2c 98.47%,#eeff09 100%)"></i>
<i style="left:68px;width:2px;background:linear-gradient(#0080ff 0%,#007cff .92%,#0074ff 1.22%,#0004ff 2.6%,#0000ff 2.75%,#0000f6 2.91%,#00008d 3.82%,#000080 4.28%,#000080 84.56%,#00008d 84.86%,#0000a8 85.17%,#0000bb 85.32%,#0000f1 85.63%,#0000ff 85.78%,#0070ff 86.24%,#00d0ff 86.7%,#02e8f4 86.85%,#16ffe1 87.16%,#33ffc4 87.92%,#40ffb7 88.69%,#7aff7d 90.83%,#97ff60 93.27%,#b7ff40 97.25%,#eeff09 100%)"></i>
<i style="left:69px;width:2px;background:linear-gradient(#0080ff 0%,#007cff .92%,#0074ff 1.22%,#0004ff 2.6%,#0000ff 2.75%,#0000f6 2.91%,#00008d 3.82%,#000080 4.28%,#000080 84.56%,#0000ad 85.17%,#0000da 85.47%,#0000fa 85.63%,#0008ff 85.78%,#0078ff 86.24%,#00d8ff 86.7%,#06ecf1 86.85%,#19ffde 87.16%,#30ffc7 87.77%,#3cffba 88.53%,#7aff7d 90.83%,#97ff60 93.27%,#b4ff43 96.94%,#eeff09 100%)"></i>
<i style="left:70px;width:2px;background:linear-gradient(#0080ff 0%,#007cff .92%,#0074ff 1.22%,#0004ff 2.6%,#0000ff 2.75%,#0000f6 2.91%,#00008d 3.82%,#000080 4.28%,#000080 84.56%,#0000b2 85.17%,#0000ff 85.63%,#0014ff 85.78%,#0060ff 86.09%,#00c4ff 86.54%,#00e0fb 86.7%,#13fce4 87%,#2cffca 87.61%,#3cffba 88.53%,#7dff7a 90.98%,#b4ff43 96.94%,#eeff09 100%)"></i>
<i style="left:71px;width:2px;background:linear-gradient(#0080ff 0%,#007cff .92%,#0074ff 1.22%,#0004ff 2.6%,#0000ff 2.75%,#0000f6 2.91%,#00008d 3.82%,#000080 4.28%,#000080 84.4%,#0000a4 85.02%,#0000ff 85.63%,#001cff 85.78%,#008cff 86.24%,#00ccff 86.54%,#00e4f8 86.7%,#16ffe1 87%,#2cffca 87.61%,#39ffbe 88.38%,#7dff7a 90.98%,#9aff5d 93.58%,#b1ff46 96.64%,#c4ff33 98.01%,#eeff09 100%)"></i>
<i style="left:72px;width:2px;background:linear-gradient(#0080ff 0%,#007cff .92%,#0074ff 1.22%,#0004ff 2.6%,#0000ff 2.75%,#0000f6 2.91%,#00008d 3.82%,#000080 4.28%,#000080 84.4%,#000084 84.56%,#0000a8 85.02%,#0000d6 85.32%,#0000f6 85.47%,#0004ff 85.63%,#0074ff 86.09%,#00d4ff 86.54%,#02e8f4 86.7%,#0ff8e7 86.85%,#16ffe1 87%,#30ffc7 87.61%,#39ffbe 88.38%,#7dff7a 90.98%,#baff3c 97.4%,#f1fc06 100%)"></i>
<i style="left:73px;width:2px;background:linear-gradient(#0080ff 0%,#007cff .92%,#0074ff 1.22%,#0004ff 2.6%,#0000ff 2.75%,#0000f6 2.91%,#00008d 3.82%,#000080 4.28%,#000080 84.4%,#00009f 84.86%,#0000c4 85.17%,#0000fa 85.47%,#000cff 85.63%,#00c0ff 86.39%,#00dcfe 86.54%,#13fce4 86.85%,#30ffc7 87.61%,#46ffb1 88.84%,#7dff7a 90.98%,#baff3c 97.4%,#f1fc06 100%)"></i>
<i style="left:74px;width:2px;background:linear-gradient(#0080ff 0%,#007cff .92%,#0074ff 1.22%,#0004ff 2.6%,#0000ff 2.75%,#0000f6 2.91%,#00008d 3.82%,#000080 4.28%,#000080 84.25%,#0000a4 84.86%,#0000ff 85.47%,#0018ff 85.63%,#0088ff 86.09%,#00c8ff 86.39%,#00e0fb 86.54%,#13fce4 86.85%,#2cffca 87.46%,#43ffb4 88.69%,#80ff77 91.13%,#b7ff40 97.09%,#c7ff30 98.17%,#f1fc06 100%)"></i>
<i style="left:75px;width:2px;background:linear-gradient(#0080ff 0%,#007cff .92%,#0074ff 1.22%,#0004ff 2.6%,#0000ff 2.75%,#0000f6 2.91%,#00008d 3.82%,#000080 4.28%,#000080 84.25%,#00008d 84.56%,#0000a8 84.86%,#0000bb 85.02%,#0000f1 85.32%,#0000ff 85.47%,#0020ff 85.63%,#0070ff 85.93%,#00d0ff 86.39%,#02e8f4 86.54%,#16ffe1 86.85%,#2cffca 87.46%,#43ffb4 88.69%,#80ff77 91.13%,#b7ff40 97.09%,#c7ff30 98.17%,#f1fc06 100%)"></i>
<i style="left:76px;width:2px;background:linear-gradient(#0080ff 0%,#007cff .92%,#0074ff 1.22%,#0004ff 2.6%,#0000ff 2.75%,#0000f6 2.91%,#00008d 3.82%,#000080 4.28%,#000080 84.25%,#0000ad 84.86%,#0000f6 85.32%,#0008ff 85.47%,#0078ff 85.93%,#00d8ff 86.39%,#06ecf1 86.54%,#19ffde 86.85%,#30ffc7 87.46%,#40ffb7 88.53%,#80ff77 91.13%,#b7ff40 97.09%,#caff2c 98.32%,#f1fc06 100%)"></i>
<i style="left:77px;width:2px;background:linear-gradient(#0080ff 0%,#007cff .92%,#0074ff 1.22%,#0004ff 2.6%,#0000ff 2.75%,#0000f6 2.91%,#00008d 3.82%,#000080 4.28%,#000080 84.25%,#00009f 84.71%,#0000c8 85.02%,#0000ff 85.32%,#0010ff 85.47%,#0060ff 85.78%,#00c4ff 86.24%,#00dcfe 86.39%,#13fce4 86.7%,#2cffca 87.31%,#40ffb7 88.53%,#80ff77 91.13%,#b7ff40 97.09%,#caff2c 98.32%,#f1fc06 100%)"></i>
<i style="left:78px;width:2px;background:linear-gradient(#0080ff 0%,#007cff .92%,#0074ff 1.22%,#0004ff 2.6%,#0000ff 2.75%,#0000f6 2.91%,#00008d 3.82%,#000080 4.28%,#000080 84.1%,#0000a4 84.71%,#0000ff 85.32%,#001cff 85.47%,#008cff 85.93%,#00ccff 86.24%,#00e4f8 86.39%,#16ffe1 86.7%,#2cffca 87.31%,#40ffb7 88.53%,#7aff7d 90.67%,#97ff60 93.12%,#b7ff40 97.09%,#f1fc06 100%)"></i>
<i style="left:79px;width:2px;background:linear-gradient(#0080ff 0%,#007cff .92%,#0074ff 1.22%,#0004ff 2.6%,#0000ff 2.75%,#0000f6 2.91%,#00008d 3.82%,#000080 4.28%,#000080 84.1%,#000084 84.25%,#0000a8 84.71%,#0000d6 85.02%,#0000f6 85.17%,#0004ff 85.32%,#0074ff 85.78%,#00d4ff 86.24%,#02e8f4 86.39%,#0ff8e7 86.54%,#16ffe1 86.7%,#30ffc7 87.31%,#3cffba 88.38%,#7aff7d 90.67%,#97ff60 93.12%,#b4ff43 96.79%,#f1fc06 100%)"></i>
<i style="left:80px;width:2px;background:linear-gradient(#0080ff 0%,#007cff .92%,#0074ff 1.22%,#0004ff 2.6%,#0000ff 2.75%,#0000f6 2.91%,#00008d 3.82%,#000080 4.28%,#000080 84.1%,#00009f 84.56%,#0000c4 84.86%,#0000fa 85.17%,#000cff 85.32%,#007cff 85.78%,#00dcfe 86.24%,#13fce4 86.54%,#30ffc7 87.31%,#3cffba 88.38%,#7dff7a 90.83%,#b4ff43 96.79%,#f1fc06 100%)"></i>
<i style="left:81px;width:2px;background:linear-gradient(#0080ff 0%,#007cff .92%,#0074ff 1.22%,#0004ff 2.6%,#0000ff 2.75%,#0000f6 2.91%,#00008d 3.82%,#000080 4.28%,#000080 83.94%,#000089 84.25%,#0000a4 84.56%,#0000ff 85.17%,#0018ff 85.32%,#0064ff 85.63%,#00c8ff 86.09%,#00e0fb 86.24%,#13fce4 86.54%,#2cffca 87.16%,#39ffbe 88.23%,#7dff7a 90.83%,#9aff5d 93.43%,#b1ff46 96.48%,#c4ff33 97.86%,#f1fc06 100%)"></i>
<i style="left:82px;width:2px;background:linear-gradient(#0080ff 0%,#007cff .92%,#0074ff 1.22%,#0004ff 2.6%,#0000ff 2.75%,#0000f6 2.91%,#00008d 3.82%,#000080 4.28%,#000080 83.94%,#00008d 84.25%,#0000a8 84.56%,#0000d1 84.86%,#0000f1 85.02%,#0000ff 85.17%,#0090ff 85.78%,#00d0ff 86.09%,#02e8f4 86.24%,#16ffe1 86.54%,#2cffca 87.16%,#39ffbe 88.23%,#7dff7a 90.83%,#baff3c 97.25%,#f1fc06 100%)"></i>
<i style="left:83px;width:2px;background:linear-gradient(#0080ff 0%,#007cff .92%,#0074ff 1.22%,#0004ff 2.6%,#0000ff 2.75%,#0000f6 2.91%,#00008d 3.82%,#000080 4.28%,#000080 83.94%,#0000ad 84.56%,#0000f6 85.02%,#0008ff 85.17%,#0078ff 85.63%,#00d8ff 86.09%,#06ecf1 86.24%,#19ffde 86.54%,#30ffc7 87.16%,#36ffc1 87.92%,#7dff7a 90.83%,#baff3c 97.25%,#f1fc06 100%)"></i>
<i style="left:84px;width:2px;background:linear-gradient(#0080ff 0%,#007cff .92%,#0074ff 1.22%,#0004ff 2.6%,#0000ff 2.75%,#0000f6 2.91%,#00008d 3.82%,#000080 4.28%,#000080 83.94%,#00009f 84.4%,#0000c8 84.71%,#0000ff 85.02%,#0010ff 85.17%,#0080ff 85.63%,#00c0ff 85.93%,#00dcfe 86.09%,#13fce4 86.39%,#30ffc7 87.16%,#36ffc1 87.92%,#80ff77 90.98%,#b7ff40 96.94%,#f1fc06 100%)"></i>
<i style="left:85px;width:2px;background:linear-gradient(#0080ff 0%,#007cff .92%,#0074ff 1.22%,#0004ff 2.6%,#0000ff 2.75%,#0000f6 2.91%,#00008d 3.82%,#000080 4.28%,#000080 83.79%,#0000a4 84.4%,#0000ff 85.02%,#001cff 85.17%,#0068ff 85.47%,#00ccff 85.93%,#00e4f8 86.09%,#16ffe1 86.39%,#2cffca 87%,#36ffc1 87.92%,#80ff77 90.98%,#b7ff40 96.94%,#f1fc06 100%)"></i>
<i style="left:86px;width:2px;background:linear-gradient(#0080ff 0%,#007cff .92%,#0074ff 1.22%,#0004ff 2.6%,#0000ff 2.75%,#0000f6 2.91%,#00008d 3.82%,#000080 4.28%,#000080 83.79%,#00008d 84.1%,#0000a8 84.4%,#0000f1 84.86%,#0000ff 85.02%,#0074ff 85.47%,#00d4ff 85.93%,#02e8f4 86.09%,#0ff8e7 86.24%,#16ffe1 86.39%,#30ffc7 87%,#33ffc4 87.77%,#80ff77 90.98%,#b7ff40 96.94%,#f1fc06 100%)"></i>
<i style="left:87px;width:2px;background:linear-gradient(#0080ff 0%,#007cff .92%,#0074ff 1.22%,#0004ff 2.6%,#0000ff 2.75%,#0000f6 2.91%,#00008d 3.82%,#000080 4.28%,#000080 83.79%,#0000ad 84.4%,#0000fa 84.86%,#000cff 85.02%,#007cff 85.47%,#00d8ff 85.93%,#06ecf1 86.09%,#19ffde 86.39%,#30ffc7 87%,#33ffc4 87.77%,#80ff77 90.98%,#b7ff40 96.94%,#caff2c 98.17%,#eeff09 99.69%,#f4f802 100%)"></i>
<i style="left:88px;width:2px;background:linear-gradient(#0080ff 0%,#007cff .92%,#0074ff 1.22%,#0004ff 2.6%,#0000ff 2.75%,#0000f6 2.91%,#00008d 3.82%,#000080 4.28%,#000080 83.79%,#0000b6 84.4%,#0000ff 84.86%,#0014ff 85.02%,#0064ff 85.32%,#00c4ff 85.78%,#00e0fb 85.93%,#13fce4 86.24%,#2cffca 86.85%,#36ffc1 87.92%,#7aff7d 90.52%,#97ff60 92.97%,#b7ff40 96.94%,#eeff09 99.69%,#f4f802 100%)"></i>
<i style="left:89px;width:2px;background:linear-gradient(#0080ff 0%,#007cff .92%,#0074ff 1.22%,#0004ff 2.6%,#0000ff 2.75%,#0000f6 2.91%,#00008d 3.82%,#000080 4.28%,#000080 83.64%,#00008d 83.94%,#0000a8 84.25%,#0000ff 84.86%,#0090ff 85.47%,#00d0ff 85.78%,#02e8f4 85.93%,#16ffe1 86.24%,#2cffca 86.85%,#36ffc1 87.92%,#7aff7d 90.52%,#97ff60 92.97%,#b4ff43 96.64%,#eeff09 99.69%,#f4f802 100%)"></i>
<i style="left:90px;width:2px;background:linear-gradient(#0080ff 0%,#007cff .92%,#0074ff 1.22%,#0004ff 2.6%,#0000ff 2.75%,#0000f6 2.91%,#00008d 3.82%,#000080 4.28%,#000080 83.64%,#000084 83.79%,#0000ad 84.25%,#0000bf 84.4%,#0000f6 84.71%,#0008ff 84.86%,#0078ff 85.32%,#00d4ff 85.78%,#06ecf1 85.93%,#16ffe1 86.24%,#30ffc7 86.85%,#33ffc4 87.77%,#7dff7a 90.67%,#b4ff43 96.64%,#eeff09 99.69%,#f4f802 100%)"></i>
<i style="left:91px;width:2px;background:linear-gradient(#0080ff 0%,#007cff .92%,#0074ff 1.22%,#0004ff 2.6%,#0000ff 2.75%,#0000f6 2.91%,#00008d 3.82%,#000080 4.28%,#000080 83.64%,#00009f 84.1%,#0000c8 84.4%,#0000ff 84.71%,#0010ff 84.86%,#0080ff 85.32%,#00dcfe 85.78%,#13fce4 86.09%,#19ffde 86.24%,#30ffc7 86.85%,#39ffbe 88.07%,#7dff7a 90.67%,#baff3c 97.09%,#eeff09 99.69%,#f4f802 100%)"></i>
<i style="left:92px;width:2px;background:linear-gradient(#0080ff 0%,#007cff .92%,#0074ff 1.22%,#0004ff 2.6%,#0000ff 2.75%,#0000f6 2.91%,#00008d 3.82%,#000080 4.28%,#000080 83.49%,#0000a4 84.1%,#0000ff 84.71%,#001cff 84.86%,#00acff 85.47%,#00e4f8 85.78%,#16ffe1 86.09%,#30ffc7 86.85%,#39ffbe 88.07%,#7dff7a 90.67%,#baff3c 97.09%,#eeff09 99.54%,#f4f802 100%)"></i>
<i style="left:93px;width:2px;background:linear-gradient(#0080ff 0%,#007cff .92%,#0074ff 1.22%,#0004ff 2.6%,#0000ff 2.75%,#0000f6 2.91%,#00008d 3.82%,#000080 4.28%,#000080 83.49%,#00008d 83.79%,#0000a8 84.1%,#0000f1 84.56%,#0000ff 84.71%,#0094ff 85.32%,#00d0ff 85.63%,#02e8f4 85.78%,#0ff8e7 85.93%,#16ffe1 86.09%,#30ffc7 86.7%,#33ffc4 87.61%,#7dff7a 90.67%,#baff3c 97.09%,#eeff09 99.54%,#f4f802 100%)"></i>
<i style="left:94px;width:2px;background:linear-gradient(#0080ff 0%,#007cff .92%,#0074ff 1.22%,#0004ff 2.6%,#0000ff 2.75%,#0000f6 2.91%,#00008d 3.82%,#000080 4.28%,#000080 83.49%,#0000ad 84.1%,#0000fa 84.56%,#000cff 84.71%,#007cff 85.17%,#00d8ff 85.63%,#06ecf1 85.78%,#19ffde 86.09%,#30ffc7 86.7%,#33ffc4 87.61%,#80ff77 90.83%,#b7ff40 96.79%,#c7ff30 97.86%,#eeff09 99.54%,#f4f802 100%)"></i>
<i style="left:95px;width:2px;background:linear-gradient(#0080ff 0%,#007cff .92%,#0074ff 1.22%,#0004ff 2.6%,#0000ff 2.75%,#0000f6 2.91%,#00008d 3.82%,#000080 4.28%,#000080 83.49%,#0000b6 84.1%,#0000ff 84.56%,#0014ff 84.71%,#0064ff 85.02%,#00e0fb 85.63%,#13fce4 85.93%,#19ffde 86.09%,#2cffca 86.54%,#33ffc4 87.61%,#80ff77 90.83%,#b7ff40 96.79%,#c7ff30 97.86%,#eeff09 99.54%,#f4f802 100%)"></i>
<i style="left:96px;width:2px;background:linear-gradient(#0080ff 0%,#007cff .92%,#0074ff 1.22%,#0004ff 2.6%,#0000ff 2.75%,#0000f6 2.91%,#00008d 3.82%,#000080 4.28%,#000080 83.33%,#00008d 83.64%,#0000a8 83.94%,#0000ff 84.56%,#00b0ff 85.32%,#00e4f8 85.63%,#16ffe1 85.93%,#2cffca 86.54%,#33ffc4 87.61%,#80ff77 90.83%,#b7ff40 96.79%,#caff2c 98.01%,#eeff09 99.54%,#f4f802 100%)"></i>
<i style="left:97px;width:2px;background:linear-gradient(#0080ff 0%,#007cff .92%,#0074ff 1.22%,#0004ff 2.6%,#0000ff 2.75%,#0000f6 2.91%,#00008d 3.82%,#000080 4.28%,#000080 83.33%,#000084 83.49%,#0000ad 83.94%,#0000bf 84.1%,#0000f6 84.4%,#0004ff 84.56%,#0078ff 85.02%,#00d4ff 85.47%,#06ecf1 85.63%,#16ffe1 85.93%,#30ffc7 86.54%,#33ffc4 87.61%,#80ff77 90.83%,#b7ff40 96.79%,#caff2c 98.01%,#eeff09 99.54%,#f4f802 100%)"></i>
<i style="left:98px;width:2px;background:linear-gradient(#0080ff 0%,#007cff .92%,#0074ff 1.22%,#0004ff 2.6%,#0000ff 2.75%,#0000f6 2.91%,#00008d 3.82%,#000080 4.28%,#000080 83.33%,#00009f 83.79%,#0000c8 84.1%,#0000ff 84.4%,#0010ff 84.56%,#0080ff 85.02%,#00dcfe 85.47%,#13fce4 85.78%,#19ffde 85.93%,#30ffc7 86.54%,#30ffc7 87.31%,#40ffb7 88.23%,#7aff7d 90.37%,#97ff60 92.81%,#b7ff40 96.79%,#eeff09 99.54%,#f4f802 100%)"></i>
<i style="left:99px;width:2px;background:linear-gradient(#0080ff 0%,#007cff .92%,#0074ff 1.22%,#0004ff 2.6%,#0000ff 2.75%,#0000f6 2.91%,#00008d 3.82%,#000080 4.28%,#000080 83.18%,#0000a4 83.79%,#0000ff 84.4%,#0018ff 84.56%,#0068ff 84.86%,#00c8ff 85.32%,#00e4f8 85.47%,#0cf4eb 85.63%,#1cffdb 85.93%,#30ffc7 86.54%,#33ffc4 87.61%,#73ff83 90.06%,#83ff73 90.98%,#b4ff43 96.48%,#eeff09 99.54%,#f4f802 100%)"></i>
<i style="left:100px;width:2px;background:linear-gradient(#0080ff 0%,#007cff .92%,#0074ff 1.22%,#0004ff 2.6%,#0000ff 2.75%,#0000f6 2.91%,#00008d 3.82%,#000080 4.28%,#000080 83.18%,#00008d 83.49%,#0000a8 83.79%,#0000f1 84.25%,#0000ff 84.4%,#0070ff 84.86%,#00d0ff 85.32%,#02e8f4 85.47%,#0ff8e7 85.63%,#16ffe1 85.78%,#30ffc7 86.39%,#33ffc4 87.61%,#7dff7a 90.52%,#b4ff43 96.48%,#eeff09 99.54%,#f4f802 100%)"></i>
<i style="left:101px;width:2px;background:linear-gradient(#0080ff 0%,#007cff .92%,#0074ff 1.22%,#0004ff 2.6%,#0000ff 2.75%,#0000f6 2.91%,#00008d 3.82%,#000080 4.28%,#000080 83.18%,#0000ad 83.79%,#0000fa 84.25%,#000cff 84.4%,#007cff 84.86%,#00d8ff 85.32%,#06ecf1 85.47%,#19ffde 85.78%,#30ffc7 86.39%,#36ffc1 87.77%,#7dff7a 90.52%,#9aff5d 93.12%,#b1ff46 96.18%,#c4ff33 97.55%,#eeff09 99.54%,#f4f802 100%)"></i>
<i style="left:102px;width:2px;background:linear-gradient(#0080ff 0%,#007cff .92%,#0074ff 1.22%,#0004ff 2.6%,#0000ff 2.75%,#0000f6 2.91%,#00008d 3.82%,#000080 4.28%,#000080 83.18%,#0000b6 83.79%,#0000ff 84.25%,#0014ff 84.4%,#0084ff 84.86%,#00e0fb 85.32%,#13fce4 85.63%,#19ffde 85.78%,#30ffc7 86.39%,#36ffc1 87.77%,#7dff7a 90.52%,#baff3c 96.94%,#f1fc06 99.54%,#f4f802 100%)"></i>
<i style="left:103px;width:2px;background:linear-gradient(#0080ff 0%,#007cff .92%,#0074ff 1.22%,#0004ff 2.6%,#0000ff 2.75%,#0000f6 2.91%,#00008d 3.82%,#000080 4.28%,#000080 83.03%,#00008d 83.33%,#0000a8 83.64%,#0000ff 84.25%,#00b0ff 85.02%,#00e4f8 85.32%,#16ffe1 85.63%,#30ffc7 86.39%,#36ffc1 87.61%,#7dff7a 90.52%,#baff3c 96.94%,#f1fc06 99.54%,#f4f802 100%)"></i>
<i style="left:104px;width:2px;background:linear-gradient(#0080ff 0%,#007cff .92%,#0074ff 1.22%,#0004ff 2.6%,#0000ff 2.75%,#0000f6 2.91%,#00008d 3.82%,#000080 4.28%,#000080 83.03%,#00009b 83.49%,#0000bf 83.79%,#0000f6 84.1%,#0004ff 84.25%,#0098ff 84.86%,#00d4ff 85.17%,#06ecf1 85.32%,#16ffe1 85.63%,#30ffc7 86.24%,#33ffc4 87.46%,#80ff77 90.67%,#b7ff40 96.64%,#c7ff30 97.71%,#eeff09 99.39%,#f8f500 100%)"></i>
<i style="left:105px;width:2px;background:linear-gradient(#0080ff 0%,#007cff .92%,#0074ff 1.22%,#0004ff 2.6%,#0000ff 2.75%,#0000f6 2.91%,#00008d 3.82%,#000080 4.28%,#000080 83.03%,#00009f 83.49%,#0000df 83.94%,#0000ff 84.1%,#0010ff 84.25%,#0080ff 84.71%,#00dcfe 85.17%,#13fce4 85.47%,#19ffde 85.63%,#30ffc7 86.24%,#33ffc4 87.46%,#80ff77 90.67%,#b7ff40 96.64%,#c7ff30 97.71%,#eeff09 99.39%,#f8f500 100%)"></i>
<i style="left:106px;width:2px;background:linear-gradient(#0080ff 0%,#007cff .92%,#0074ff 1.22%,#0004ff 2.6%,#0000ff 2.75%,#0000f6 2.91%,#00008d 3.82%,#000080 4.28%,#000080 82.87%,#0000a4 83.49%,#0000ff 84.1%,#0018ff 84.25%,#0068ff 84.56%,#00c8ff 85.02%,#00e4f8 85.17%,#0cf4eb 85.32%,#1cffdb 85.63%,#30ffc7 86.24%,#33ffc4 87.46%,#80ff77 90.67%,#b7ff40 96.64%,#caff2c 97.86%,#eeff09 99.39%,#f8f500 100%)"></i>
<i style="left:107px;width:2px;background:linear-gradient(#0080ff 0%,#007cff .92%,#0074ff 1.22%,#0004ff 2.6%,#0000ff 2.75%,#0000f6 2.91%,#00008d 3.82%,#000080 4.28%,#000080 82.87%,#00008d 83.18%,#0000a8 83.49%,#0000bb 83.64%,#0000f1 83.94%,#0000ff 84.1%,#0070ff 84.56%,#00d0ff 85.02%,#02e8f4 85.17%,#0ff8e7 85.32%,#16ffe1 85.47%,#30ffc7 86.09%,#33ffc4 87.46%,#80ff77 90.67%,#b7ff40 96.64%,#caff2c 97.86%,#eeff09 99.39%,#f8f500 100%)"></i>
<i style="left:108px;width:2px;background:linear-gradient(#0080ff 0%,#007cff .92%,#0074ff 1.22%,#0004ff 2.6%,#0000ff 2.75%,#0000f6 2.91%,#00008d 3.82%,#000080 4.28%,#000080 82.87%,#0000ad 83.49%,#0000fa 83.94%,#0008ff 84.1%,#007cff 84.56%,#00d8ff 85.02%,#06ecf1 85.17%,#19ffde 85.47%,#30ffc7 86.09%,#33ffc4 87.46%,#7aff7d 90.21%,#97ff60 92.66%,#b7ff40 96.64%,#eeff09 99.39%,#f8f500 100%)"></i>
<i style="left:109px;width:2px;background:linear-gradient(#0080ff 0%,#007cff .92%,#0074ff 1.22%,#0004ff 2.6%,#0000ff 2.75%,#0000f6 2.91%,#00008d 3.82%,#000080 4.28%,#000080 82.87%,#0000b2 83.49%,#0000ff 83.94%,#0014ff 84.1%,#0084ff 84.56%,#00e0fb 85.02%,#13fce4 85.32%,#19ffde 85.47%,#30ffc7 86.09%,#33ffc4 87.46%,#73ff83 89.91%,#83ff73 90.83%,#b4ff43 96.33%,#eeff09 99.39%,#f8f500 100%)"></i>
<i style="left:110px;width:2px;background:linear-gradient(#0080ff 0%,#007cff .92%,#0074ff 1.22%,#0004ff 2.6%,#0000ff 2.75%,#0000f6 2.91%,#00008d 3.82%,#000080 4.28%,#000080 82.72%,#00008d 83.03%,#0000a8 83.33%,#0000ff 83.94%,#001cff 84.1%,#006cff 84.4%,#00ccff 84.86%,#00e4f8 85.02%,#16ffe1 85.32%,#30ffc7 86.09%,#33ffc4 87.46%,#7dff7a 90.37%,#b4ff43 96.33%,#eeff09 99.39%,#f8f500 100%)"></i>
<i style="left:111px;width:2px;background:linear-gradient(#0080ff 0%,#007cff .92%,#0074ff 1.22%,#0004ff 2.6%,#0000ff 2.75%,#0000f6 2.91%,#00008d 3.82%,#000080 4.28%,#000080 82.72%,#00009b 83.18%,#0000bf 83.49%,#0000f6 83.79%,#0004ff 83.94%,#0074ff 84.4%,#00d4ff 84.86%,#06ecf1 85.02%,#16ffe1 85.32%,#30ffc7 85.93%,#33ffc4 87.46%,#7dff7a 90.37%,#baff3c 96.79%,#eeff09 99.39%,#f8f500 100%)"></i>
<i style="left:112px;width:2px;background:linear-gradient(#0080ff 0%,#007cff .92%,#0074ff 1.22%,#0004ff 2.6%,#0000ff 2.75%,#0000f6 2.91%,#00008d 3.82%,#000080 4.28%,#000080 82.72%,#00009f 83.18%,#0000df 83.64%,#0000ff 83.79%,#0010ff 83.94%,#0080ff 84.4%,#00dcfe 84.86%,#13fce4 85.17%,#19ffde 85.32%,#30ffc7 85.93%,#36ffc1 87.61%,#7dff7a 90.37%,#baff3c 96.79%,#eeff09 99.24%,#f8f500 100%)"></i>
<i style="left:113px;width:2px;background:linear-gradient(#0080ff 0%,#007cff .92%,#0074ff 1.22%,#0004ff 2.6%,#0000ff 2.75%,#0000f6 2.91%,#00008d 3.82%,#000080 4.28%,#000080 82.57%,#0000a4 83.18%,#0000ff 83.79%,#0018ff 83.94%,#0088ff 84.4%,#00e4f8 84.86%,#0cf4eb 85.02%,#1cffdb 85.32%,#30ffc7 85.93%,#33ffc4 87.31%,#7dff7a 90.37%,#baff3c 96.79%,#eeff09 99.24%,#f8f500 100%)"></i>
<i style="left:114px;width:2px;background:linear-gradient(#0080ff 0%,#007cff .92%,#0074ff 1.22%,#0004ff 2.6%,#0000ff 2.75%,#0000f6 2.91%,#00008d 3.82%,#000080 4.28%,#000080 82.57%,#00008d 82.87%,#0000a8 83.18%,#0000bb 83.33%,#0000f1 83.64%,#0000ff 83.79%,#0070ff 84.25%,#00d0ff 84.71%,#02e8f4 84.86%,#16ffe1 85.17%,#30ffc7 85.93%,#33ffc4 87.31%,#80ff77 90.52%,#b7ff40 96.48%,#c7ff30 97.55%,#eeff09 99.24%,#f8f500 100%)"></i>
<i style="left:115px;width:2px;background:linear-gradient(#0080ff 0%,#007cff .92%,#0074ff 1.22%,#0004ff 2.6%,#0000ff 2.75%,#0000f6 2.91%,#00008d 3.82%,#000080 4.28%,#000080 82.57%,#0000ad 83.18%,#0000da 83.49%,#0000fa 83.64%,#0008ff 83.79%,#009cff 84.4%,#00d8ff 84.71%,#06ecf1 84.86%,#19ffde 85.17%,#30ffc7 85.78%,#33ffc4 87.31%,#80ff77 90.52%,#b7ff40 96.48%,#c7ff30 97.55%,#eeff09 99.24%,#f8f500 100%)"></i>
<i style="left:116px;width:2px;background:linear-gradient(#0080ff 0%,#007cff .92%,#0074ff 1.22%,#0004ff 2.6%,#0000ff 2.75%,#0000f6 2.91%,#00008d 3.82%,#000080 4.28%,#000080 82.57%,#0000b2 83.18%,#0000ff 83.64%,#0014ff 83.79%,#0084ff 84.25%,#00e0fb 84.71%,#13fce4 85.02%,#19ffde 85.17%,#30ffc7 85.78%,#33ffc4 87.31%,#80ff77 90.52%,#b7ff40 96.48%,#caff2c 97.71%,#eeff09 99.24%,#f8f500 100%)"></i>
<i style="left:117px;width:2px;background:linear-gradient(#0080ff 0%,#007cff .92%,#0074ff 1.22%,#0004ff 2.6%,#0000ff 2.75%,#0000f6 2.91%,#00008d 3.82%,#000080 4.28%,#000080 82.42%,#00008d 82.72%,#0000a8 83.03%,#0000ff 83.64%,#001cff 83.79%,#006cff 84.1%,#00ccff 84.56%,#00e4f8 84.71%,#16ffe1 85.02%,#30ffc7 85.78%,#33ffc4 87.31%,#80ff77 90.52%,#b7ff40 96.48%,#caff2c 97.71%,#eeff09 99.24%,#f8f500 100%)"></i>
<i style="left:118px;width:2px;background:linear-gradient(#0080ff 0%,#007cff .92%,#0074ff 1.22%,#0004ff 2.6%,#0000ff 2.75%,#0000f6 2.91%,#00008d 3.82%,#000080 4.28%,#000080 82.42%,#00009b 82.87%,#0000bf 83.18%,#0000f6 83.49%,#0004ff 83.64%,#0074ff 84.1%,#00d4ff 84.56%,#06ecf1 84.71%,#16ffe1 85.02%,#30ffc7 85.78%,#33ffc4 87.31%,#7aff7d 90.06%,#97ff60 92.51%,#b7ff40 96.48%,#eeff09 99.24%,#f8f500 100%)"></i>
<i style="left:119px;width:2px;background:linear-gradient(#0080ff 0%,#007cff .92%,#0074ff 1.22%,#0004ff 2.6%,#0000ff 2.75%,#0000f6 2.91%,#00008d 3.82%,#000080 4.28%,#000080 82.42%,#00009f 82.87%,#0000c4 83.18%,#0000ff 83.49%,#000cff 83.64%,#005cff 83.94%,#00dcfe 84.56%,#13fce4 84.86%,#19ffde 85.02%,#30ffc7 85.78%,#33ffc4 87.31%,#73ff83 89.76%,#83ff73 90.67%,#b4ff43 96.18%,#eeff09 99.24%,#f8f500 100%)"></i>
<i style="left:120px;width:2px;background:linear-gradient(#0080ff 0%,#007cff .92%,#0074ff 1.22%,#0004ff 2.6%,#0000ff 2.75%,#0000f6 2.91%,#00008d 3.82%,#000080 4.28%,#000080 82.26%,#0000a4 82.87%,#0000ff 83.49%,#0018ff 83.64%,#0088ff 84.1%,#00c8ff 84.4%,#00e0fb 84.56%,#0cf4eb 84.71%,#19ffde 85.02%,#30ffc7 85.63%,#33ffc4 87.31%,#7dff7a 90.21%,#b4ff43 96.18%,#eeff09 99.24%,#f8f500 100%)"></i>
<i style="left:121px;width:2px;background:linear-gradient(#0080ff 0%,#007cff .92%,#0074ff 1.22%,#0004ff 2.6%,#0000ff 2.75%,#0000f6 2.91%,#00008d 3.82%,#000080 4.28%,#000080 82.26%,#00008d 82.57%,#0000a8 82.87%,#0000bb 83.03%,#0000f1 83.33%,#0000ff 83.49%,#0070ff 83.94%,#00d0ff 84.4%,#02e8f4 84.56%,#16ffe1 84.86%,#30ffc7 85.63%,#33ffc4 87.31%,#7dff7a 90.21%,#9aff5d 92.81%,#b1ff46 95.87%,#c4ff33 97.25%,#eeff09 99.24%,#f8f500 100%)"></i>
<i style="left:122px;width:2px;background:linear-gradient(#0080ff 0%,#007cff .92%,#0074ff 1.22%,#0004ff 2.6%,#0000ff 2.75%,#0000f6 2.91%,#00008d 3.82%,#000080 4.28%,#000080 82.26%,#0000ad 82.87%,#0000da 83.18%,#0000fa 83.33%,#0008ff 83.49%,#0078ff 83.94%,#00d8ff 84.4%,#06ecf1 84.56%,#19ffde 84.86%,#30ffc7 85.63%,#36ffc1 87.46%,#7dff7a 90.21%,#baff3c 96.64%,#f1fc06 99.24%,#f8f500 100%)"></i>
<i style="left:123px;width:2px;background:linear-gradient(#0080ff 0%,#007cff .92%,#0074ff 1.22%,#0004ff 2.6%,#0000ff 2.75%,#0000f6 2.91%,#00008d 3.82%,#000080 4.28%,#000080 82.26%,#0000b2 82.87%,#0000ff 83.33%,#0014ff 83.49%,#0060ff 83.79%,#00e0fb 84.4%,#13fce4 84.71%,#19ffde 84.86%,#2cffca 85.32%,#33ffc4 87.16%,#7dff7a 90.21%,#baff3c 96.64%,#f1fc06 99.24%,#f8f500 100%)"></i>
<i style="left:124px;width:2px;background:linear-gradient(#0080ff 0%,#007cff .92%,#0074ff 1.22%,#0004ff 2.6%,#0000ff 2.75%,#0000f6 2.91%,#00008d 3.82%,#000080 4.28%,#000080 82.11%,#0000a4 82.72%,#0000ff 83.33%,#001cff 83.49%,#008cff 83.94%,#00ccff 84.25%,#00e4f8 84.4%,#16ffe1 84.71%,#2cffca 85.32%,#33ffc4 87.16%,#80ff77 90.37%,#b7ff40 96.33%,#c7ff30 97.4%,#eeff09 99.08%,#f8f500 100%)"></i>
<i style="left:125px;width:2px;background:linear-gradient(#0080ff 0%,#007cff .92%,#0074ff 1.22%,#0004ff 2.6%,#0000ff 2.75%,#0000f6 2.91%,#00008d 3.82%,#000080 4.28%,#000080 82.11%,#000084 82.26%,#0000a8 82.72%,#0000d6 83.03%,#0000f6 83.18%,#0004ff 83.33%,#0074ff 83.79%,#00d4ff 84.25%,#02e8f4 84.4%,#0ff8e7 84.56%,#16ffe1 84.71%,#2cffca 85.32%,#33ffc4 87.16%,#80ff77 90.37%,#b7ff40 96.33%,#c7ff30 97.4%,#eeff09 99.08%,#f8f500 100%)"></i>
<i style="left:126px;width:2px;background:linear-gradient(#0080ff 0%,#007cff .92%,#0074ff 1.22%,#0004ff 2.6%,#0000ff 2.75%,#0000f6 2.91%,#00008d 3.82%,#000080 4.28%,#000080 82.11%,#00009f 82.57%,#0000c4 82.87%,#0000fa 83.18%,#000cff 83.33%,#007cff 83.79%,#00dcfe 84.25%,#13fce4 84.56%,#19ffde 84.71%,#2cffca 85.32%,#33ffc4 87.16%,#80ff77 90.37%,#b7ff40 96.33%,#caff2c 97.55%,#eeff09 99.08%,#f8f500 100%)"></i>
<i style="left:127px;width:2px;background:linear-gradient(#0080ff 0%,#007cff .92%,#0074ff 1.22%,#0004ff 2.6%,#0000ff 2.75%,#0000f6 2.91%,#00008d 3.82%,#000080 4.28%,#000080 81.96%,#0000a4 82.57%,#0000ff 83.18%,#0018ff 83.33%,#0088ff 83.79%,#00c8ff 84.1%,#09f0ee 84.4%,#19ffde 84.71%,#2cffca 85.17%,#33ffc4 87.16%,#80ff77 90.37%,#b7ff40 96.33%,#caff2c 97.55%,#eeff09 99.08%,#f4f802 99.39%,#f8f500 100%)"></i>
<i style="left:128px;width:2px;background:linear-gradient(#0080ff 0%,#007cff .92%,#0074ff 1.22%,#0004ff 2.6%,#0000ff 2.75%,#0000f6 2.91%,#00008d 3.82%,#000080 4.28%,#000080 81.96%,#00008d 82.26%,#0000a8 82.57%,#0000bb 82.72%,#0000f1 83.03%,#0000ff 83.18%,#0020ff 83.33%,#0070ff 83.64%,#00d0ff 84.1%,#02e8f4 84.25%,#16ffe1 84.56%,#2cffca 85.17%,#33ffc4 87.16%,#7aff7d 89.91%,#97ff60 92.35%,#b7ff40 96.33%,#ebff0c 98.78%,#f8f500 100%)"></i>
<i style="left:129px;width:2px;background:linear-gradient(#0080ff 0%,#007cff .92%,#0074ff 1.22%,#0004ff 2.6%,#0000ff 2.75%,#0000f6 2.91%,#00008d 3.82%,#000080 4.28%,#000080 81.96%,#0000ad 82.57%,#0000f6 83.03%,#0008ff 83.18%,#0078ff 83.64%,#00d8ff 84.1%,#06ecf1 84.25%,#19ffde 84.56%,#2cffca 85.17%,#33ffc4 87.16%,#73ff83 89.6%,#83ff73 90.52%,#b4ff43 96.02%,#c1ff36 96.94%,#eeff09 98.93%,#f8f500 100%)"></i>
<i style="left:130px;width:2px;background:linear-gradient(#0080ff 0%,#007cff .92%,#0074ff 1.22%,#0004ff 2.6%,#0000ff 2.75%,#0000f6 2.91%,#00008d 3.82%,#000080 4.28%,#000080 81.96%,#00009f 82.42%,#0000c8 82.72%,#0000ff 83.03%,#0010ff 83.18%,#0060ff 83.49%,#00c4ff 83.94%,#00dcfe 84.1%,#09f0ee 84.25%,#19ffde 84.56%,#2cffca 85.02%,#33ffc4 87.16%,#7dff7a 90.06%,#b4ff43 96.02%,#c1ff36 96.94%,#eeff09 98.93%,#f8f500 100%)"></i>
<i style="left:131px;width:2px;background:linear-gradient(#0080ff 0%,#007cff .92%,#0074ff 1.22%,#0004ff 2.6%,#0000ff 2.75%,#0000f6 2.91%,#00008d 3.82%,#000080 4.28%,#000080 81.8%,#0000a4 82.42%,#0000ff 83.03%,#001cff 83.18%,#008cff 83.64%,#00ccff 83.94%,#00e4f8 84.1%,#16ffe1 84.4%,#2cffca 85.02%,#33ffc4 87.16%,#7dff7a 90.06%,#9aff5d 92.66%,#b4ff43 96.02%,#c4ff33 97.09%,#eeff09 98.93%,#f8f500 100%)"></i>
<i style="left:132px;width:2px;background:linear-gradient(#0080ff 0%,#007cff .92%,#0074ff 1.22%,#0004ff 2.6%,#0000ff 2.75%,#0000f6 2.91%,#00008d 3.82%,#000080 4.28%,#000080 81.8%,#000084 81.96%,#0000a8 82.42%,#0000d6 82.72%,#0000f6 82.87%,#0004ff 83.03%,#0074ff 83.49%,#00d4ff 83.94%,#02e8f4 84.1%,#0ff8e7 84.25%,#16ffe1 84.4%,#2cffca 85.02%,#36ffc1 87.31%,#7dff7a 90.06%,#baff3c 96.48%,#f1fc06 99.08%,#f8f500 100%)"></i>
<i style="left:133px;width:2px;background:linear-gradient(#0080ff 0%,#007cff .92%,#0074ff 1.22%,#0004ff 2.6%,#0000ff 2.75%,#0000f6 2.91%,#00008d 3.82%,#000080 4.28%,#000080 81.8%,#00009f 82.26%,#0000c4 82.57%,#0000fa 82.87%,#000cff 83.03%,#007cff 83.49%,#00d8ff 83.94%,#06ecf1 84.1%,#19ffde 84.4%,#2cffca 85.02%,#36ffc1 87.31%,#7dff7a 90.06%,#baff3c 96.48%,#f1fc06 99.08%,#f8f500 100%)"></i>
<i style="left:134px;width:2px;background:linear-gradient(#0080ff 0%,#007cff .92%,#0074ff 1.22%,#0004ff 2.6%,#0000ff 2.75%,#0000f6 2.91%,#00008d 3.82%,#000080 4.28%,#000080 81.65%,#000089 81.96%,#0000a4 82.26%,#0000ff 82.87%,#0014ff 83.03%,#0064ff 83.33%,#00e0fb 83.94%,#13fce4 84.25%,#19ffde 84.4%,#2cffca 84.86%,#33ffc4 87.16%,#7dff7a 90.06%,#baff3c 96.48%,#f1fc06 99.08%,#f8f500 100%)"></i>
<i style="left:135px;width:2px;background:linear-gradient(#0080ff 0%,#007cff .92%,#0074ff 1.22%,#0004ff 2.6%,#0000ff 2.75%,#0000f6 2.91%,#00008d 3.82%,#000080 4.28%,#000080 81.65%,#00008d 81.96%,#0000a8 82.26%,#0000ff 82.87%,#006cff 83.33%,#00ccff 83.79%,#00e4f8 83.94%,#13fce4 84.25%,#19ffde 84.4%,#29ffce 84.86%,#30ffc7 87%,#7aff7d 89.91%,#94ff63 92.05%,#b4ff43 96.02%,#c4ff33 97.09%,#f1fc06 99.08%,#f8f500 100%)"></i>
<i style="left:136px;width:2px;background:linear-gradient(#0080ff 0%,#007cff .92%,#0074ff 1.22%,#0004ff 2.6%,#0000ff 2.75%,#0000f6 2.91%,#000092 3.82%,#000080 4.28%,#000080 81.65%,#000084 81.8%,#0000a8 82.26%,#0000f1 82.72%,#0000ff 82.87%,#0070ff 83.33%,#00ccff 83.79%,#06ecf1 84.1%,#19ffde 84.56%,#23ffd4 84.86%,#29ffce 86.85%,#7dff7a 90.37%,#b4ff43 96.18%,#ebff0c 98.78%,#f4f802 100%)"></i>
<i style="left:137px;width:2px;background:linear-gradient(#0080ff 0%,#007cff .92%,#0074ff 1.22%,#0048ff 1.83%,#0004ff 2.6%,#0000ff 2.75%,#0000e8 3.06%,#000092 3.82%,#000080 4.43%,#000089 81.8%,#0000a8 82.26%,#0000ff 82.87%,#0080ff 83.49%,#00c8ff 83.94%,#00e4f8 84.4%,#0cf4eb 84.86%,#19ffde 87%,#6dff8a 90.21%,#adff49 96.18%,#ebff0c 99.08%,#f1fc06 100%)"></i>
<i style="left:138px;width:2px;background:linear-gradient(#0080ff 0%,#007cff .92%,#0074ff 1.22%,#0000ff 2.75%,#0000ed 3.06%,#0000a8 3.67%,#000092 3.98%,#000089 4.28%,#000080 6.27%,#000080 11.31%,#000089 12.54%,#000089 15.9%,#000096 19.72%,#00008d 26.61%,#000096 30.12%,#00009f 82.11%,#0000b2 82.42%,#0000f1 82.87%,#0000ff 83.03%,#004cff 83.49%,#0074ff 83.79%,#0094ff 84.25%,#00acff 84.86%,#00c4ff 86.85%,#00dcfe 87.61%,#06ecf1 88.07%,#19ffde 88.69%,#43ffb4 90.21%,#97ff60 96.18%,#d7ff1f 98.93%,#e1ff16 100%)"></i>
<i style="left:139px;width:2px;background:linear-gradient(#0080ff 0%,#007cff .92%,#0074ff 1.22%,#0044ff 1.99%,#0004ff 2.75%,#0000ff 2.91%,#0000a4 3.98%,#00009b 4.28%,#000096 5.35%,#000080 7.03%,#000080 10.55%,#00009b 13.15%,#00009f 16.21%,#0000bb 19.72%,#0000bb 21.87%,#0000a8 24.46%,#0000a8 26.15%,#0000b6 28.44%,#0000bf 35.02%,#0000d6 83.03%,#0000ff 83.49%,#0000ff 83.64%,#0020ff 84.25%,#0030ff 84.86%,#004cff 86.7%,#0060ff 87.46%,#00b8ff 89.91%,#00d8ff 91.13%,#00e4f8 91.59%,#16ffe1 92.66%,#70ff87 97.25%,#97ff60 98.47%,#b4ff43 100%)"></i>
<i style="left:140px;width:2px;background:linear-gradient(#0084ff 0%,#007cff 1.22%,#0048ff 2.14%,#0000ff 3.06%,#0000ff 3.21%,#0000c4 3.98%,#0000b2 5.2%,#000084 7.03%,#000089 10.86%,#0000a8 12.08%,#0000b6 13%,#0000c4 15.9%,#0000ff 20.34%,#0000fa 21.87%,#0000e3 23.39%,#0000d6 25.54%,#0000f1 28.44%,#0000ff 32.42%,#0000ff 51.38%,#0020ff 79.82%,#0018ff 89.76%,#005cff 92.81%,#00b8ff 96.33%,#00dcfe 97.4%,#16ffe1 98.32%,#43ffb4 100%)"></i>
<i style="left:141px;width:2px;background:linear-gradient(#008cff 0%,#0084ff 1.22%,#0078ff 1.53%,#0050ff 2.29%,#0000ff 3.36%,#0000ff 3.52%,#0000da 4.28%,#0000d1 5.05%,#0000c4 5.5%,#00009f 6.27%,#000089 7.03%,#00008d 10.7%,#0000c4 12.23%,#0000d1 12.84%,#0000df 13.76%,#0000f1 16.36%,#0000ff 16.97%,#0004ff 18.04%,#0020ff 19.27%,#002cff 20.18%,#002cff 21.41%,#0000ff 24.16%,#0000ff 26.15%,#0020ff 29.05%,#0034ff 35.02%,#0078ff 80.12%,#0078ff 85.63%,#006cff 89.91%,#0060ff 90.83%,#003cff 91.74%,#0000ff 92.81%,#0000fa 93.12%,#0000ed 93.27%,#0000ff 94.5%,#0000ff 95.26%,#0000ff 95.41%,#0020ff 95.72%,#0010ff 96.33%,#0048ff 97.25%,#0048ff 98.01%,#0050ff 98.17%,#0094ff 98.62%,#00b8ff 98.93%,#16ffe1 99.08%,#60ff97 99.24%,#9aff5d 99.39%,#baff3c 99.54%,#d1ff26 100%)"></i>
<i style="left:142px;width:2px;background:linear-gradient(#0090ff 0%,#0090ff .76%,#007cff 1.68%,#0054ff 2.45%,#0000ff 3.67%,#0000ff 3.98%,#0000ed 4.43%,#0000df 5.2%,#00009f 6.42%,#00008d 7.03%,#000092 10.86%,#0000bf 11.77%,#0000e3 12.84%,#0000ff 15.14%,#0000ff 16.36%,#0018ff 17.74%,#0048ff 19.57%,#0054ff 20.64%,#0048ff 22.02%,#0014ff 24.62%,#0014ff 25.84%,#0040ff 28.9%,#0060ff 37%,#0078ff 53.36%,#00acff 79.66%,#00acff 85.32%,#0098ff 90.37%,#0088ff 90.98%,#0048ff 92.2%,#0000ff 93.12%,#0000fa 93.43%,#0000d6 94.19%,#0000c8 94.8%,#0000c8 95.11%,#0000e8 95.26%,#0008ff 95.41%,#0030ff 95.57%,#0040ff 95.72%,#0030ff 96.33%,#0064ff 96.94%,#0074ff 97.25%,#0074ff 98.01%,#0080ff 98.17%,#00d0ff 98.62%,#00e4f8 98.78%,#13fce4 98.93%,#5dff9a 99.08%,#b7ff40 99.24%,#fbf100 99.39%,#ffc100 99.54%,#ffa300 100%)"></i>
<i style="left:143px;width:2px;background:linear-gradient(#0094ff 0%,#0094ff .76%,#007cff 1.83%,#0004ff 3.82%,#0000ff 4.28%,#0000df 5.35%,#00009b 6.57%,#00008d 7.19%,#000092 10.7%,#0000d6 12.23%,#0000ed 13%,#0000ff 14.37%,#0000ff 16.06%,#0004ff 16.51%,#0054ff 19.57%,#0060ff 20.49%,#005cff 21.56%,#002cff 23.7%,#001cff 24.77%,#001cff 25.84%,#0044ff 28.29%,#0054ff 29.97%,#0070ff 37.16%,#00bcff 77.83%,#00bcff 85.32%,#00a8ff 90.21%,#0094ff 90.98%,#005cff 92.05%,#0000ff 93.27%,#0000ff 93.43%,#0000da 94.19%,#0000cd 94.65%,#0000cd 95.11%,#0000ed 95.26%,#0014ff 95.41%,#003cff 95.57%,#0050ff 95.72%,#0050ff 95.87%,#003cff 96.18%,#0048ff 96.48%,#0080ff 97.09%,#0088ff 97.4%,#0088ff 98.01%,#0094ff 98.17%,#00ccff 98.47%,#06ecf1 98.62%,#16ffe1 98.78%,#2cffca 98.93%,#7aff7d 99.08%,#dbff1c 99.24%,#ffc100 99.39%,#ff8d00 99.54%,#ff6f00 100%)"></i>
<i style="left:144px;width:2px;background:linear-gradient(#0098ff 0%,#0094ff .92%,#0084ff 1.68%,#0070ff 2.14%,#0028ff 3.21%,#0000ff 3.98%,#0000ff 4.28%,#0000e3 5.35%,#0000a4 6.42%,#00008d 7.19%,#000092 10.7%,#0000c8 11.93%,#0000e8 12.84%,#0000ff 14.37%,#0000ff 16.06%,#0004ff 16.51%,#0048ff 18.96%,#0060ff 20.18%,#0060ff 21.41%,#0024ff 24.16%,#001cff 24.77%,#001cff 25.84%,#0048ff 28.44%,#0054ff 29.66%,#0074ff 37%,#00c0ff 77.83%,#00c0ff 83.64%,#00a4ff 90.37%,#0090ff 90.98%,#0050ff 92.2%,#0004ff 93.12%,#0000ff 93.43%,#0000df 94.04%,#0000cd 94.65%,#0000cd 95.11%,#0000f1 95.26%,#0014ff 95.41%,#0040ff 95.57%,#0054ff 95.72%,#0054ff 95.87%,#0040ff 96.18%,#0044ff 96.33%,#004cff 96.48%,#007cff 96.94%,#008cff 97.25%,#0090ff 98.01%,#0098ff 98.17%,#00d4ff 98.47%,#0cf4eb 98.62%,#1cffdb 98.78%,#36ffc1 98.93%,#83ff73 99.08%,#e7ff0f 99.24%,#ffae00 99.39%,#ff7a00 99.54%,#ff5900 100%)"></i>
<i style="left:145px;width:2px;background:linear-gradient(#0098ff 0%,#0098ff .76%,#008cff 1.53%,#0058ff 2.6%,#0034ff 3.06%,#0008ff 3.82%,#0000ff 4.13%,#0000fa 4.59%,#0000e3 5.35%,#000096 6.73%,#00008d 7.19%,#000092 10.55%,#00009b 11.01%,#0000cd 12.08%,#0000ed 13.15%,#0000ff 14.83%,#0000ff 16.21%,#0004ff 16.67%,#0054ff 19.57%,#0060ff 20.49%,#005cff 21.56%,#0020ff 24.31%,#0018ff 25.69%,#0040ff 28.13%,#0054ff 29.97%,#0074ff 36.85%,#00bcff 76.3%,#00bcff 83.18%,#00b0ff 86.7%,#0098ff 90.52%,#0088ff 90.98%,#0040ff 92.35%,#0000ff 93.12%,#0000fa 93.43%,#0000d6 94.19%,#0000c8 94.8%,#0000c8 95.11%,#0000f1 95.26%,#0014ff 95.41%,#0040ff 95.57%,#0054ff 95.72%,#0044ff 96.33%,#007cff 96.94%,#0090ff 97.25%,#0090ff 98.01%,#009cff 98.17%,#00d8ff 98.47%,#0ff8e7 98.62%,#39ffbe 98.93%,#87ff70 99.08%,#eeff09 99.24%,#ffab00 99.39%,#ff7300 99.54%,#ff5500 100%)"></i>
<i style="left:146px;width:2px;background:linear-gradient(#009cff 0%,#0098ff .92%,#0088ff 1.68%,#0074ff 2.14%,#002cff 3.21%,#0000ff 4.13%,#0000ff 4.43%,#0000e3 5.35%,#0000a4 6.42%,#00008d 7.19%,#00008d 9.33%,#000096 10.86%,#0000c4 11.93%,#0000e8 13.15%,#0000ff 15.29%,#0000ff 16.36%,#0000ff 16.67%,#0050ff 19.57%,#005cff 20.34%,#0054ff 21.87%,#001cff 24.31%,#0014ff 25.69%,#0020ff 26.76%,#003cff 28.13%,#0054ff 30.43%,#0074ff 37.31%,#00b8ff 75.99%,#00b8ff 81.8%,#00b0ff 84.56%,#008cff 90.37%,#0074ff 91.13%,#0034ff 92.35%,#0004ff 92.97%,#0000ff 93.12%,#0000ff 93.27%,#0000d1 94.19%,#0000c4 94.8%,#0000c4 95.11%,#0000f1 95.26%,#0014ff 95.41%,#0040ff 95.57%,#0054ff 95.72%,#0044ff 96.33%,#0070ff 96.79%,#0090ff 97.25%,#0090ff 98.01%,#009cff 98.17%,#00d8ff 98.47%,#0ff8e7 98.62%,#39ffbe 98.93%,#8aff6d 99.08%,#eeff09 99.24%,#ffa700 99.39%,#ff7300 99.54%,#ff5200 100%)"></i>
<i style="left:147px;width:2px;background:linear-gradient(#009cff 0%,#009cff .76%,#0084ff 1.83%,#0064ff 2.45%,#002cff 3.21%,#0000ff 4.13%,#0000ff 4.43%,#0000e3 5.35%,#0000a4 6.42%,#00008d 7.19%,#00008d 9.33%,#000096 10.86%,#0000c4 12.08%,#0000df 13.15%,#0000ff 15.9%,#0000ff 16.67%,#004cff 19.57%,#0058ff 20.34%,#0054ff 21.56%,#0020ff 23.85%,#0010ff 24.92%,#0010ff 25.99%,#0044ff 29.05%,#0058ff 31.5%,#0070ff 36.54%,#00b0ff 73.39%,#00b4ff 80.43%,#00a0ff 85.17%,#006cff 90.52%,#0030ff 92.05%,#0008ff 92.66%,#0000ff 92.97%,#0000cd 94.04%,#0000bb 95.11%,#0000f1 95.26%,#0014ff 95.41%,#0040ff 95.57%,#0054ff 95.72%,#0054ff 95.87%,#0040ff 96.18%,#0044ff 96.33%,#0070ff 96.79%,#0090ff 97.25%,#0094ff 98.01%,#009cff 98.17%,#00dcfe 98.47%,#0ff8e7 98.62%,#39ffbe 98.93%,#8aff6d 99.08%,#eeff09 99.24%,#ffa700 99.39%,#ff6f00 99.54%,#ff5200 100%)"></i>
<i style="left:148px;width:2px;background:linear-gradient(#009cff 0%,#009cff .92%,#008cff 1.68%,#005cff 2.6%,#0024ff 3.36%,#0000ff 4.13%,#0000ff 4.43%,#0000e3 5.35%,#0000a4 6.42%,#00008d 7.19%,#000096 10.86%,#0000d6 13.15%,#0000ed 15.75%,#0000ff 16.67%,#0000ff 17.28%,#0034ff 18.81%,#005cff 20.64%,#0058ff 21.25%,#0008ff 24.77%,#0004ff 25.84%,#0044ff 29.51%,#006cff 36.09%,#0090ff 54.59%,#0098ff 64.07%,#00b0ff 76.76%,#00acff 80.58%,#00a0ff 83.03%,#0064ff 87.92%,#0058ff 90.06%,#004cff 90.83%,#0018ff 92.2%,#0000ff 92.66%,#0000ff 92.81%,#0000d6 93.58%,#0000bb 94.5%,#0000bb 95.11%,#0000ed 95.26%,#0014ff 95.41%,#003cff 95.57%,#0054ff 95.72%,#0054ff 95.87%,#0040ff 96.18%,#0044ff 96.33%,#005cff 96.64%,#0070ff 96.79%,#0090ff 97.25%,#0094ff 98.01%,#009cff 98.17%,#00dcfe 98.47%,#0ff8e7 98.62%,#39ffbe 98.93%,#8aff6d 99.08%,#eeff09 99.24%,#ffa700 99.39%,#ff6f00 99.54%,#ff5200 100%)"></i>
<i style="left:149px;width:2px;background:linear-gradient(#00a0ff 0%,#00a0ff .61%,#0088ff 1.83%,#0070ff 2.29%,#0024ff 3.36%,#0004ff 3.98%,#0000ff 4.28%,#0000e3 5.35%,#0000a4 6.42%,#00008d 7.19%,#000096 10.86%,#0000c8 12.69%,#0000da 14.07%,#0000e3 15.75%,#0000ff 17.13%,#0004ff 17.74%,#002cff 18.81%,#005cff 20.49%,#005cff 21.1%,#0000ff 24.62%,#0000ff 26.3%,#0008ff 27.06%,#0034ff 28.9%,#004cff 30.89%,#006cff 36.7%,#00a8ff 74.01%,#00a8ff 79.36%,#009cff 81.5%,#0064ff 85.93%,#0044ff 90.67%,#0000ff 92.66%,#0000d1 93.58%,#0000b6 94.65%,#0000bb 95.11%,#0000ed 95.26%,#0014ff 95.41%,#003cff 95.57%,#0050ff 95.72%,#0050ff 95.87%,#0040ff 96.18%,#0044ff 96.33%,#004cff 96.48%,#007cff 96.94%,#0090ff 97.25%,#0094ff 98.01%,#009cff 98.17%,#00dcfe 98.47%,#0ff8e7 98.62%,#39ffbe 98.93%,#8aff6d 99.08%,#eeff09 99.24%,#ffa700 99.39%,#ff6f00 99.54%,#ff5200 100%)"></i>
<i style="left:150px;width:2px;background:linear-gradient(#00a0ff 0%,#00a0ff .76%,#0094ff 1.53%,#0068ff 2.45%,#001cff 3.52%,#0000ff 4.13%,#0000ff 4.28%,#0000e3 5.35%,#0000a4 6.42%,#00008d 7.19%,#00008d 9.17%,#00009b 11.16%,#0000c8 12.84%,#0000e3 16.21%,#0000ff 17.43%,#0008ff 18.2%,#0030ff 19.42%,#005cff 20.34%,#005cff 21.25%,#0038ff 22.02%,#0000ff 24.01%,#0000ff 26.91%,#0000ff 27.22%,#0038ff 29.82%,#0048ff 31.19%,#0064ff 32.11%,#0068ff 32.57%,#0064ff 33.33%,#0058ff 33.79%,#0068ff 36.24%,#0074ff 40.83%,#00a4ff 75.23%,#009cff 79.82%,#0064ff 84.25%,#003cff 90.52%,#0028ff 91.28%,#0004ff 92.2%,#0000ff 92.66%,#0000d1 93.43%,#0000bb 94.19%,#0000b2 94.8%,#0000bb 95.11%,#0000ed 95.26%,#0010ff 95.41%,#003cff 95.57%,#0050ff 95.72%,#0050ff 95.87%,#0040ff 96.18%,#0044ff 96.33%,#004cff 96.48%,#007cff 96.94%,#0090ff 97.25%,#0094ff 98.01%,#009cff 98.17%,#00dcfe 98.47%,#0ff8e7 98.62%,#39ffbe 98.93%,#8aff6d 99.08%,#eeff09 99.24%,#ffa700 99.39%,#ff6f00 99.54%,#ff5200 100%)"></i>
<i style="left:151px;width:2px;background:linear-gradient(#00a4ff 0%,#00a0ff .92%,#0090ff 1.68%,#0060ff 2.6%,#0030ff 3.21%,#0000ff 4.13%,#0000ff 4.28%,#0000e3 5.35%,#0000a4 6.42%,#00008d 7.19%,#00008d 9.02%,#00009b 11.16%,#0000bf 12.54%,#0000d1 14.07%,#0000da 15.75%,#0000ff 17.58%,#0000ff 18.2%,#000cff 18.65%,#0020ff 19.27%,#004cff 19.88%,#0060ff 20.64%,#0058ff 21.41%,#004cff 21.71%,#0024ff 22.32%,#0000ff 23.7%,#0000ff 27.37%,#0038ff 30.58%,#0060ff 31.5%,#0074ff 32.57%,#006cff 33.49%,#0058ff 34.25%,#006cff 38.07%,#0078ff 44.34%,#009cff 73.24%,#0098ff 78.75%,#0068ff 82.26%,#0030ff 90.21%,#0000ff 92.05%,#0000ff 92.35%,#0000d1 93.27%,#0000b6 94.19%,#0000ad 94.95%,#0000bb 95.11%,#0000ed 95.26%,#0010ff 95.41%,#0038ff 95.57%,#0050ff 95.72%,#0040ff 96.33%,#007cff 96.94%,#0090ff 97.25%,#0090ff 98.01%,#009cff 98.17%,#00d8ff 98.47%,#0ff8e7 98.62%,#39ffbe 98.93%,#8aff6d 99.08%,#eeff09 99.24%,#ffa700 99.39%,#ff6f00 99.54%,#ff5200 100%)"></i>
<i style="left:152px;width:2px;background:linear-gradient(#00a4ff 0%,#00a4ff .61%,#008cff 1.83%,#0060ff 2.6%,#0028ff 3.36%,#0000ff 4.13%,#0000ff 4.28%,#0000e3 5.35%,#0000a4 6.42%,#00008d 7.19%,#00008d 9.02%,#00009b 11.16%,#0000bf 12.84%,#0000df 16.51%,#0000ff 17.74%,#0000ff 18.35%,#0014ff 19.11%,#0044ff 19.72%,#0060ff 20.49%,#0060ff 21.1%,#0054ff 21.56%,#0044ff 21.87%,#0014ff 22.48%,#0000ff 23.39%,#0000ff 24.31%,#0000f6 24.92%,#0000ff 27.68%,#0024ff 30.12%,#0064ff 31.35%,#007cff 32.26%,#007cff 33.18%,#0058ff 34.4%,#0058ff 34.71%,#0068ff 37.46%,#0084ff 53.06%,#0088ff 65.6%,#0094ff 72.17%,#0094ff 77.06%,#008cff 78.44%,#0064ff 81.35%,#004cff 85.17%,#0030ff 87.61%,#0020ff 90.06%,#0000ff 91.59%,#0000ff 92.05%,#0000c4 93.43%,#0000ad 94.5%,#0000ad 94.95%,#0000bb 95.11%,#0000ed 95.26%,#0010ff 95.41%,#0038ff 95.57%,#0050ff 95.72%,#0040ff 96.33%,#007cff 96.94%,#0090ff 97.25%,#0090ff 98.01%,#009cff 98.17%,#00d8ff 98.47%,#0ff8e7 98.62%,#39ffbe 98.93%,#8aff6d 99.08%,#eeff09 99.24%,#ffa700 99.39%,#ff6f00 99.54%,#ff5200 100%)"></i>
<i style="left:153px;width:2px;background:linear-gradient(#00a4ff 0%,#00a4ff .76%,#008cff 1.83%,#0060ff 2.6%,#0028ff 3.36%,#0000ff 4.13%,#0000ff 4.28%,#0000e3 5.35%,#0000a4 6.42%,#00008d 7.19%,#00008d 9.02%,#00009f 11.47%,#0000bb 12.84%,#0000d1 16.06%,#0000df 16.82%,#0000ff 17.89%,#0000ff 18.65%,#0008ff 18.96%,#0044ff 19.72%,#0060ff 20.49%,#0060ff 21.1%,#0054ff 21.56%,#0044ff 21.87%,#0014ff 22.48%,#0000ff 23.09%,#0000ff 24.16%,#0000f1 24.92%,#0000f1 26.3%,#0000ff 27.06%,#0000ff 28.13%,#0018ff 29.82%,#006cff 31.35%,#0084ff 32.26%,#0080ff 33.49%,#006cff 34.1%,#0054ff 34.56%,#0054ff 34.71%,#0068ff 38.23%,#0080ff 51.99%,#0088ff 69.11%,#0084ff 77.52%,#0060ff 80.58%,#004cff 83.94%,#0020ff 87.61%,#0000ff 91.74%,#0000c8 93.12%,#0000a8 94.5%,#0000a8 94.95%,#0000b6 95.11%,#0000e8 95.26%,#0010ff 95.41%,#0038ff 95.57%,#004cff 95.72%,#004cff 95.87%,#003cff 96.18%,#0040ff 96.33%,#007cff 96.94%,#0090ff 97.25%,#0090ff 98.01%,#009cff 98.17%,#00d8ff 98.47%,#0ff8e7 98.62%,#39ffbe 98.93%,#8aff6d 99.08%,#eeff09 99.24%,#ffa700 99.39%,#ff6f00 99.54%,#ff5200 100%)"></i>
<i style="left:154px;width:2px;background:linear-gradient(#00a4ff 0%,#00a4ff .92%,#0094ff 1.68%,#006cff 2.45%,#0028ff 3.36%,#0000ff 4.13%,#0000ff 4.28%,#0000e3 5.35%,#0000a4 6.42%,#00008d 7.19%,#00008d 9.02%,#00009f 10.86%,#00009f 11.62%,#0000bb 13.3%,#0000cd 16.21%,#0000e3 17.28%,#0000ff 18.04%,#0000ff 18.81%,#0004ff 18.96%,#0044ff 19.72%,#0060ff 20.49%,#0060ff 21.1%,#0054ff 21.56%,#0044ff 21.87%,#0008ff 22.63%,#0000ff 22.94%,#0000ff 23.85%,#0000e8 25.08%,#0000e8 26.15%,#0000ff 27.52%,#0000ff 28.44%,#0010ff 29.66%,#006cff 31.19%,#008cff 32.26%,#008cff 33.18%,#0078ff 33.94%,#0054ff 34.71%,#0068ff 39.45%,#0080ff 53.67%,#0080ff 62.54%,#0078ff 65.44%,#007cff 75.99%,#0044ff 83.64%,#0008ff 88.69%,#0000ff 91.28%,#0000b2 93.73%,#0000a4 94.65%,#0000a4 94.95%,#0000b6 95.11%,#0000e8 95.26%,#000cff 95.41%,#0038ff 95.57%,#004cff 95.72%,#004cff 95.87%,#003cff 96.18%,#0040ff 96.33%,#007cff 96.94%,#0090ff 97.25%,#0090ff 98.01%,#009cff 98.17%,#00d8ff 98.47%,#0ff8e7 98.62%,#39ffbe 98.93%,#8aff6d 99.08%,#eeff09 99.24%,#ffa700 99.39%,#ff6f00 99.54%,#ff5200 100%)"></i>
<i style="left:155px;width:2px;background:linear-gradient(#00a8ff 0%,#00a8ff .61%,#0094ff 1.68%,#006cff 2.45%,#0020ff 3.52%,#0000ff 4.28%,#0000e3 5.35%,#0000a4 6.42%,#00008d 7.19%,#000092 9.63%,#00009f 10.7%,#0000a4 12.08%,#0000b6 13.3%,#0000c4 15.9%,#0000d1 16.82%,#0000ff 18.35%,#0000ff 18.81%,#0004ff 18.96%,#003cff 19.57%,#005cff 20.18%,#0064ff 20.8%,#005cff 21.41%,#003cff 22.02%,#0004ff 22.63%,#0000ff 22.78%,#0000ff 23.55%,#0000df 25.23%,#0000e3 26.45%,#0000ff 27.83%,#0000ff 28.75%,#0008ff 29.51%,#0050ff 30.58%,#0078ff 31.35%,#0094ff 32.42%,#0094ff 33.03%,#0084ff 33.79%,#0050ff 34.86%,#0064ff 38.69%,#007cff 52.75%,#007cff 61.47%,#0070ff 63.46%,#006cff 76.76%,#0048ff 82.11%,#0000ff 88.07%,#0000ff 90.83%,#0000e3 92.05%,#0000b2 93.58%,#0000a4 94.5%,#0000a4 94.95%,#0000b6 95.11%,#0000e8 95.26%,#000cff 95.41%,#0034ff 95.57%,#004cff 95.72%,#004cff 95.87%,#003cff 96.18%,#0040ff 96.33%,#007cff 96.94%,#0090ff 97.25%,#0090ff 98.01%,#009cff 98.17%,#00d8ff 98.47%,#0ff8e7 98.62%,#39ffbe 98.93%,#8aff6d 99.08%,#eeff09 99.24%,#ffa700 99.39%,#ff7300 99.54%,#ff5200 100%)"></i>
<i style="left:156px;width:2px;background:linear-gradient(#00a8ff 0%,#00a4ff 1.07%,#0090ff 1.83%,#0064ff 2.6%,#0020ff 3.52%,#0000ff 4.28%,#0000e3 5.35%,#0000a4 6.42%,#00008d 7.19%,#00008d 8.87%,#0000a4 11.16%,#0000a4 12.23%,#0000b2 13.15%,#0000bf 15.9%,#0000c8 16.67%,#0000ff 18.5%,#0000ff 18.81%,#0004ff 18.96%,#0030ff 19.42%,#0050ff 19.88%,#0064ff 20.64%,#0060ff 21.25%,#0050ff 21.71%,#0030ff 22.17%,#0004ff 22.63%,#0000ff 22.78%,#0000ff 23.24%,#0000da 25.08%,#0000da 26.3%,#0000ff 28.29%,#0000ff 29.2%,#0014ff 29.66%,#005cff 30.73%,#007cff 31.35%,#0098ff 32.42%,#0098ff 33.03%,#0088ff 33.79%,#004cff 35.02%,#0060ff 38.23%,#0078ff 52.14%,#0078ff 60.4%,#0064ff 63.76%,#0064ff 75.23%,#0050ff 80.28%,#0000ff 86.85%,#0000ff 89.76%,#0000f6 90.83%,#0000df 91.9%,#0000ad 93.58%,#00009f 94.65%,#00009f 94.95%,#0000b6 95.11%,#0000e8 95.26%,#000cff 95.41%,#0034ff 95.57%,#004cff 95.72%,#004cff 95.87%,#003cff 96.18%,#0040ff 96.33%,#007cff 96.94%,#0090ff 97.25%,#0090ff 98.01%,#009cff 98.17%,#00d8ff 98.47%,#0ff8e7 98.62%,#39ffbe 98.93%,#8aff6d 99.08%,#eeff09 99.24%,#ffa700 99.39%,#ff7300 99.54%,#ff5200 100%)"></i>
<i style="left:157px;width:2px;background:linear-gradient(#00a8ff 0%,#00a4ff 1.07%,#0090ff 1.83%,#0064ff 2.6%,#0034ff 3.21%,#0000ff 4.28%,#0000e3 5.35%,#0000a4 6.42%,#00008d 7.19%,#00008d 8.87%,#0000a4 11.01%,#0000a4 12.39%,#0000b2 13.46%,#0000bb 15.9%,#0000c8 16.97%,#0000ff 18.81%,#0004ff 18.96%,#0030ff 19.42%,#0050ff 19.88%,#0064ff 20.64%,#0060ff 21.25%,#0050ff 21.71%,#0030ff 22.17%,#0004ff 22.63%,#0000ff 22.78%,#0000fa 23.24%,#0000e3 24.01%,#0000d1 25.38%,#0000da 26.91%,#0000ff 28.59%,#0000ff 29.2%,#000cff 29.51%,#0054ff 30.58%,#0084ff 31.5%,#009cff 32.57%,#0098ff 33.18%,#0084ff 33.94%,#0044ff 35.17%,#0058ff 37%,#0060ff 39.6%,#0074ff 51.68%,#0074ff 58.87%,#0058ff 64.22%,#0058ff 77.68%,#0048ff 80.43%,#0000ff 85.93%,#0000ff 88.23%,#0000ed 90.83%,#0000d1 92.2%,#0000ad 93.43%,#00009f 94.34%,#00009f 94.95%,#0000b6 95.11%,#0000e8 95.26%,#000cff 95.41%,#0034ff 95.57%,#0048ff 95.72%,#004cff 95.87%,#0040ff 96.02%,#0040ff 96.33%,#007cff 96.94%,#0090ff 97.25%,#0090ff 98.01%,#009cff 98.17%,#00d8ff 98.47%,#0ff8e7 98.62%,#39ffbe 98.93%,#8aff6d 99.08%,#eeff09 99.24%,#ffa700 99.39%,#ff7300 99.54%,#ff5200 100%)"></i>
<i style="left:158px;width:2px;background:linear-gradient(#00a8ff 0%,#00a8ff .92%,#0098ff 1.68%,#0078ff 2.29%,#0034ff 3.21%,#0000ff 4.28%,#0000e3 5.35%,#0000a4 6.42%,#00008d 7.19%,#00008d 8.87%,#0000a8 11.47%,#0000a8 13.15%,#0000bb 16.36%,#0000d1 17.58%,#0000ed 18.5%,#0000ff 18.81%,#0004ff 18.96%,#0030ff 19.42%,#0050ff 19.88%,#0064ff 20.64%,#0060ff 21.25%,#0050ff 21.71%,#0030ff 22.17%,#0004ff 22.63%,#0000ff 22.78%,#0000da 24.16%,#0000cd 25.08%,#0000d6 27.06%,#0000ff 29.2%,#000cff 29.51%,#004cff 30.43%,#0078ff 31.19%,#008cff 31.65%,#009cff 32.42%,#009cff 33.03%,#008cff 33.79%,#0068ff 34.56%,#0040ff 35.17%,#0054ff 37%,#005cff 39.3%,#0070ff 51.38%,#0070ff 57.49%,#0068ff 60.09%,#0050ff 63.61%,#0050ff 78.29%,#0044ff 79.97%,#0000ff 85.02%,#0000ff 87%,#0000e3 90.67%,#0000c8 92.2%,#0000a8 93.43%,#00009b 94.65%,#00009b 94.95%,#0000b6 95.11%,#0000e3 95.26%,#000cff 95.41%,#0034ff 95.57%,#0048ff 95.72%,#003cff 96.33%,#007cff 96.94%,#0090ff 97.25%,#0090ff 98.01%,#009cff 98.17%,#00d8ff 98.47%,#0ff8e7 98.62%,#39ffbe 98.93%,#8aff6d 99.08%,#eeff09 99.24%,#ffa700 99.39%,#ff7300 99.54%,#ff5200 100%)"></i>
<i style="left:159px;width:2px;background:linear-gradient(#00acff 0%,#00acff .61%,#0098ff 1.68%,#0070ff 2.45%,#002cff 3.36%,#0000ff 4.28%,#0000e3 5.35%,#0000a4 6.42%,#00008d 7.19%,#00008d 8.87%,#0000a8 11.16%,#0000a8 13.61%,#0000b6 16.21%,#0000cd 17.58%,#0000e8 18.5%,#0000ff 18.81%,#0004ff 18.96%,#0030ff 19.42%,#0050ff 19.88%,#0064ff 20.64%,#0060ff 21.25%,#0050ff 21.71%,#0030ff 22.17%,#0004ff 22.63%,#0000ff 22.78%,#0000e8 23.24%,#0000c8 25.08%,#0000cd 26.76%,#0000ed 28.59%,#0000ff 29.2%,#000cff 29.51%,#004cff 30.43%,#0078ff 31.19%,#008cff 31.65%,#009cff 32.42%,#009cff 33.03%,#008cff 33.79%,#0068ff 34.56%,#0038ff 35.32%,#004cff 36.7%,#0054ff 37.92%,#006cff 51.53%,#006cff 56.12%,#0048ff 64.83%,#0050ff 72.48%,#004cff 77.98%,#0044ff 79.2%,#0000ff 84.1%,#0000ff 86.09%,#0000e8 88.07%,#0000da 90.52%,#0000c4 92.05%,#0000a4 93.43%,#00009b 94.34%,#00009b 94.95%,#0000b6 95.11%,#0000e3 95.26%,#0008ff 95.41%,#0034ff 95.57%,#0048ff 95.72%,#003cff 96.33%,#007cff 96.94%,#0090ff 97.25%,#0090ff 98.01%,#009cff 98.17%,#00d8ff 98.47%,#0ff8e7 98.62%,#39ffbe 98.93%,#8aff6d 99.08%,#eeff09 99.24%,#ffa700 99.39%,#ff7300 99.54%,#ff5200 100%)"></i>
<i style="left:160px;width:2px;background:linear-gradient(#00acff 0%,#00acff .76%,#0094ff 1.83%,#005cff 2.75%,#002cff 3.36%,#0000ff 4.28%,#0000ff 4.59%,#0000e3 5.35%,#0000a4 6.42%,#00008d 7.19%,#000092 9.48%,#0000ad 11.62%,#0000a4 13.46%,#0000b2 16.06%,#0000bf 17.13%,#0000da 18.35%,#0000ff 18.81%,#0004ff 18.96%,#0030ff 19.42%,#0050ff 19.88%,#0064ff 20.64%,#0060ff 21.25%,#0050ff 21.71%,#0030ff 22.17%,#0004ff 22.63%,#0000ff 22.78%,#0000e8 23.09%,#0000df 23.39%,#0000c4 25.23%,#0000c8 26.61%,#0000df 28.29%,#0000ed 28.75%,#0000ff 29.05%,#0000ff 29.2%,#000cff 29.51%,#0054ff 30.58%,#0084ff 31.5%,#009cff 32.57%,#0098ff 33.18%,#0084ff 33.94%,#0054ff 34.86%,#0034ff 35.32%,#0048ff 37%,#0050ff 38.53%,#0068ff 54.43%,#0044ff 63.61%,#004cff 73.7%,#0048ff 77.68%,#003cff 79.2%,#0000ff 83.33%,#0000ff 85.32%,#0000da 88.38%,#0000d1 90.52%,#00009f 93.58%,#000096 94.8%,#000096 94.95%,#0000b6 95.11%,#0000e3 95.26%,#0008ff 95.41%,#0030ff 95.57%,#0048ff 95.72%,#0048ff 95.87%,#0038ff 96.18%,#003cff 96.33%,#007cff 96.94%,#0090ff 97.25%,#0090ff 98.01%,#009cff 98.17%,#00d8ff 98.47%,#0ff8e7 98.62%,#39ffbe 98.93%,#8aff6d 99.08%,#eeff09 99.24%,#ffa700 99.39%,#ff7300 99.54%,#ff5200 100%)"></i>
<i style="left:161px;width:2px;background:linear-gradient(#00acff 0%,#00acff .76%,#0094ff 1.83%,#0068ff 2.6%,#002cff 3.36%,#0000ff 4.28%,#0000ff 4.59%,#0000e3 5.35%,#0000a4 6.42%,#00008d 7.19%,#000092 9.48%,#0000ad 11.31%,#0000ad 12.84%,#0000a4 14.07%,#0000b2 16.51%,#0000d1 18.2%,#0000ff 18.81%,#0004ff 18.96%,#0030ff 19.42%,#0050ff 19.88%,#0064ff 20.64%,#0060ff 21.25%,#0050ff 21.71%,#0030ff 22.17%,#0004ff 22.63%,#0000ff 22.78%,#0000df 23.24%,#0000d6 23.55%,#0000bf 25.38%,#0000c4 26.61%,#0000df 28.59%,#0000ff 29.05%,#0000ff 29.36%,#005cff 30.73%,#007cff 31.35%,#0098ff 32.42%,#0098ff 33.03%,#0088ff 33.79%,#005cff 34.71%,#002cff 35.47%,#0048ff 37.92%,#0060ff 54.89%,#0040ff 63.3%,#0044ff 77.22%,#0038ff 78.75%,#0000ff 82.57%,#0000ff 84.56%,#0000d6 87.77%,#0000c4 90.98%,#00009f 93.27%,#000096 94.34%,#000096 94.95%,#0000b6 95.11%,#0000e3 95.26%,#0008ff 95.41%,#0030ff 95.57%,#0044ff 95.72%,#0048ff 95.87%,#0038ff 96.18%,#003cff 96.33%,#0088ff 97.09%,#0090ff 97.4%,#0090ff 98.01%,#009cff 98.17%,#00d8ff 98.47%,#0ff8e7 98.62%,#39ffbe 98.93%,#8aff6d 99.08%,#eeff09 99.24%,#ffa700 99.39%,#ff7300 99.54%,#ff5200 100%)"></i>
<i style="left:162px;width:2px;background:linear-gradient(#00b0ff 0%,#00acff .92%,#009cff 1.68%,#0068ff 2.6%,#0024ff 3.52%,#0000ff 4.28%,#0000ff 4.59%,#0000e3 5.35%,#0000a4 6.42%,#00008d 7.19%,#000092 9.33%,#0000ad 11.16%,#0000ad 13%,#00009f 13.76%,#0000a8 15.9%,#0000bb 17.28%,#0000d1 18.2%,#0000ff 18.81%,#0004ff 18.96%,#0030ff 19.42%,#0050ff 19.88%,#0064ff 20.64%,#0060ff 21.25%,#0050ff 21.71%,#0030ff 22.17%,#0004ff 22.63%,#0000ff 22.78%,#0000da 23.24%,#0000d1 23.55%,#0000bb 25.69%,#0000c4 27.06%,#0000d6 28.29%,#0000df 28.59%,#0000fa 29.05%,#0000ff 29.36%,#0050ff 30.58%,#0078ff 31.35%,#0094ff 32.42%,#0094ff 33.03%,#0084ff 33.79%,#0050ff 34.86%,#0028ff 35.47%,#003cff 37.16%,#0044ff 38.84%,#0058ff 50.61%,#0058ff 55.2%,#003cff 63.46%,#0040ff 76.45%,#0030ff 78.75%,#0000ff 81.96%,#0000ff 83.94%,#0000d6 86.85%,#0000bf 90.67%,#000096 94.04%,#000096 94.95%,#0000b2 95.11%,#0000e3 95.26%,#0008ff 95.41%,#0030ff 95.57%,#0044ff 95.72%,#0048ff 95.87%,#0038ff 96.18%,#003cff 96.33%,#0088ff 97.09%,#0090ff 97.4%,#0090ff 98.01%,#009cff 98.17%,#00d8ff 98.47%,#0ff8e7 98.62%,#39ffbe 98.93%,#8aff6d 99.08%,#eeff09 99.24%,#ffa700 99.39%,#ff7300 99.54%,#ff5200 100%)"></i>
<i style="left:163px;width:2px;background:linear-gradient(#00b0ff 0%,#00b0ff .61%,#009cff 1.68%,#0074ff 2.45%,#0024ff 3.52%,#0004ff 4.13%,#0000ff 4.43%,#0000e3 5.35%,#0000a4 6.42%,#00008d 7.19%,#000092 9.33%,#0000b2 11.47%,#0000b2 12.69%,#00009f 13.91%,#0000a8 16.36%,#0000cd 18.2%,#0000ff 18.81%,#0004ff 18.96%,#003cff 19.57%,#005cff 20.18%,#0064ff 20.64%,#005cff 21.41%,#003cff 22.02%,#0004ff 22.63%,#0000ff 22.78%,#0000d1 23.39%,#0000bb 24.92%,#0000bb 26.61%,#0000d1 28.29%,#0000fa 29.05%,#0000ff 29.36%,#006cff 31.19%,#008cff 32.26%,#008cff 33.18%,#0078ff 33.94%,#0054ff 34.71%,#0024ff 35.47%,#003cff 38.23%,#0050ff 49.85%,#0050ff 55.35%,#0038ff 63.61%,#0038ff 76.61%,#002cff 78.29%,#0000ff 81.35%,#0000ff 83.18%,#0000c4 87.92%,#0000bb 90.21%,#00009b 93.12%,#000092 94.65%,#000092 94.95%,#0000b2 95.11%,#0000e3 95.26%,#0008ff 95.41%,#0030ff 95.57%,#0044ff 95.72%,#0038ff 96.18%,#003cff 96.33%,#006cff 96.79%,#008cff 97.25%,#0090ff 98.01%,#009cff 98.17%,#00d8ff 98.47%,#0ff8e7 98.62%,#36ffc1 98.93%,#8aff6d 99.08%,#eeff09 99.24%,#ffa700 99.39%,#ff7300 99.54%,#ff5200 100%)"></i>
<i style="left:164px;width:2px;background:linear-gradient(#00b0ff 0%,#00b0ff .76%,#0098ff 1.83%,#0014ff 3.82%,#0000ff 4.43%,#0000e3 5.35%,#0000a4 6.42%,#00008d 7.19%,#000092 9.33%,#0000b2 11.31%,#0000b2 12.84%,#00009f 13.91%,#0000a8 16.67%,#0000c4 18.04%,#0000ff 18.81%,#0004ff 18.96%,#0044ff 19.72%,#005cff 20.18%,#0060ff 20.49%,#005cff 21.41%,#0044ff 21.87%,#0004ff 22.63%,#0000ff 22.78%,#0000cd 23.39%,#0000b6 24.92%,#0000b6 26.61%,#0000cd 28.29%,#0000ff 29.2%,#0000ff 29.36%,#006cff 31.35%,#0084ff 32.26%,#0084ff 33.18%,#007cff 33.64%,#006cff 34.1%,#0020ff 35.47%,#0038ff 39.14%,#004cff 54.13%,#0034ff 63.61%,#0030ff 76.76%,#0024ff 78.29%,#0000ff 80.73%,#0000ff 82.57%,#0000bb 88.07%,#0000b2 90.52%,#000092 94.19%,#000092 94.95%,#0000b2 95.11%,#0000e3 95.26%,#0008ff 95.41%,#002cff 95.57%,#0044ff 95.72%,#0038ff 96.18%,#003cff 96.33%,#006cff 96.79%,#008cff 97.25%,#0090ff 98.01%,#009cff 98.17%,#00d8ff 98.47%,#0ff8e7 98.62%,#36ffc1 98.93%,#87ff70 99.08%,#eeff09 99.24%,#ffa700 99.39%,#ff7300 99.54%,#ff5200 100%)"></i>
<i style="left:165px;width:2px;background:linear-gradient(#00b0ff 0%,#00b0ff .92%,#0098ff 1.83%,#006cff 2.6%,#0030ff 3.36%,#0000ff 4.28%,#0000ff 4.43%,#0000e3 5.35%,#0000a4 6.42%,#00008d 7.19%,#000092 9.33%,#0000b6 11.62%,#0000b2 13%,#00009b 14.22%,#0000a4 16.51%,#0000bf 18.04%,#0000ff 18.81%,#0004ff 18.96%,#0044ff 19.72%,#0060ff 20.49%,#0060ff 21.1%,#0054ff 21.56%,#0044ff 21.87%,#0004ff 22.63%,#0000ff 22.78%,#0000cd 23.39%,#0000b2 25.08%,#0000b2 26.61%,#0000c4 27.98%,#0000d1 28.44%,#0000fa 29.2%,#0000ff 29.51%,#0064ff 31.35%,#007cff 32.26%,#007cff 33.18%,#0064ff 34.1%,#001cff 35.47%,#002cff 37.16%,#0034ff 39.76%,#0044ff 50.46%,#0044ff 55.5%,#002cff 66.67%,#002cff 75.38%,#001cff 78.29%,#0000ff 80.28%,#0000ff 81.96%,#0000b6 87.77%,#0000a8 90.98%,#000092 93.88%,#000092 94.95%,#0000b2 95.11%,#0000e3 95.26%,#0004ff 95.41%,#002cff 95.57%,#0044ff 95.72%,#0038ff 96.18%,#003cff 96.33%,#006cff 96.79%,#008cff 97.25%,#0090ff 98.01%,#009cff 98.17%,#00d8ff 98.47%,#0ff8e7 98.62%,#36ffc1 98.93%,#87ff70 99.08%,#eeff09 99.24%,#ffa700 99.39%,#ff7300 99.54%,#ff5200 100%)"></i>
<i style="left:166px;width:2px;background:linear-gradient(#00b4ff 0%,#00b4ff .61%,#00a0ff 1.68%,#006cff 2.6%,#0030ff 3.36%,#0000ff 4.28%,#0000ff 4.43%,#0000e3 5.35%,#0000a4 6.42%,#00008d 7.19%,#000092 9.33%,#0000b6 11.31%,#0000b6 12.84%,#00009b 14.22%,#00009f 16.36%,#0000a8 17.13%,#0000bf 18.04%,#0000ff 18.81%,#0004ff 18.96%,#0044ff 19.72%,#0060ff 20.49%,#0060ff 21.1%,#0054ff 21.56%,#0044ff 21.87%,#0004ff 22.63%,#0000ff 22.78%,#0000d6 23.24%,#0000c4 23.55%,#0000ad 25.08%,#0000ad 26.45%,#0000bf 27.98%,#0000cd 28.44%,#0000ff 29.36%,#0000ff 29.51%,#0060ff 31.5%,#0074ff 32.57%,#006cff 33.49%,#0060ff 33.94%,#001cff 35.32%,#0030ff 39.91%,#0040ff 55.5%,#0038ff 60.86%,#0028ff 64.53%,#0024ff 75.69%,#001cff 77.52%,#0000ff 79.82%,#0000ff 81.35%,#0000b2 87.46%,#0000a4 90.98%,#000092 93.43%,#000092 94.95%,#0000b2 95.11%,#0000df 95.26%,#0004ff 95.41%,#002cff 95.57%,#0040ff 95.72%,#003cff 96.33%,#0078ff 96.94%,#008cff 97.25%,#0090ff 98.01%,#009cff 98.17%,#00d8ff 98.47%,#0ff8e7 98.62%,#36ffc1 98.93%,#87ff70 99.08%,#eeff09 99.24%,#ffa700 99.39%,#ff7300 99.54%,#ff5200 100%)"></i>
<i style="left:167px;width:2px;background:linear-gradient(#00b4ff 0%,#00b4ff .76%,#009cff 1.83%,#0078ff 2.45%,#0028ff 3.52%,#0000ff 4.28%,#0000ff 4.43%,#0000e3 5.35%,#0000a4 6.42%,#00008d 7.19%,#00008d 8.56%,#000096 9.63%,#0000bb 11.62%,#0000b6 13%,#000096 14.53%,#00009f 16.51%,#0000b6 17.89%,#0000ff 18.81%,#0004ff 18.96%,#004cff 19.88%,#0060ff 20.64%,#0054ff 21.56%,#0038ff 22.02%,#0004ff 22.63%,#0000ff 22.78%,#0000bf 23.55%,#0000a8 25.38%,#0000a8 26.3%,#0000bb 27.98%,#0000c8 28.44%,#0000fa 29.36%,#0000ff 29.66%,#0050ff 31.35%,#0068ff 32.57%,#0064ff 33.33%,#0050ff 34.1%,#0018ff 35.32%,#002cff 39.6%,#003cff 56.12%,#0034ff 61.01%,#0020ff 65.9%,#001cff 76.15%,#0014ff 77.68%,#0000ff 79.2%,#0000ff 80.89%,#0000da 83.33%,#0000ad 87.31%,#000092 93.27%,#000092 94.95%,#0000b2 95.11%,#0000df 95.26%,#0004ff 95.41%,#002cff 95.57%,#0040ff 95.72%,#003cff 96.33%,#0078ff 96.94%,#008cff 97.25%,#0090ff 98.01%,#009cff 98.17%,#00b4ff 98.32%,#00d8ff 98.47%,#0cf4eb 98.62%,#1fffd7 98.78%,#36ffc1 98.93%,#87ff70 99.08%,#eeff09 99.24%,#ffab00 99.39%,#ff7300 99.54%,#ff5200 100%)"></i>
<i style="left:168px;width:2px;background:linear-gradient(#00b8ff 0%,#00b4ff .92%,#00a4ff 1.68%,#0064ff 2.75%,#0028ff 3.52%,#0000ff 4.28%,#0000ff 4.43%,#0000e3 5.35%,#0000a4 6.42%,#00008d 7.19%,#000092 9.17%,#0000bb 11.47%,#0000b6 13.15%,#000096 14.68%,#00009b 16.36%,#0000ad 17.74%,#0000c8 18.2%,#0000ff 18.81%,#0004ff 18.96%,#0038ff 19.57%,#005cff 20.34%,#0058ff 21.41%,#0038ff 22.02%,#0004ff 22.63%,#0000ff 22.78%,#0000bf 23.55%,#0000a8 24.92%,#0000a8 26.76%,#0000b6 27.98%,#0000da 28.9%,#0000f6 29.36%,#0000ff 29.82%,#0044ff 31.35%,#0058ff 32.26%,#0054ff 33.49%,#0044ff 34.1%,#0014ff 35.17%,#0028ff 38.84%,#0038ff 50.92%,#0038ff 57.03%,#0030ff 61.01%,#001cff 64.37%,#0018ff 74.92%,#0010ff 77.22%,#0000ff 78.75%,#0000ff 80.43%,#0000df 82.42%,#0000a8 87.16%,#000092 92.81%,#000092 94.95%,#0000b2 95.11%,#0000df 95.26%,#0004ff 95.41%,#002cff 95.57%,#0040ff 95.72%,#003cff 96.33%,#0078ff 96.94%,#008cff 97.25%,#0090ff 98.01%,#009cff 98.17%,#00b4ff 98.32%,#00d8ff 98.47%,#0cf4eb 98.62%,#1fffd7 98.78%,#36ffc1 98.93%,#87ff70 99.08%,#eeff09 99.24%,#ffab00 99.39%,#ff7300 99.54%,#ff5200 100%)"></i>
<i style="left:169px;width:2px;background:linear-gradient(#00b8ff 0%,#00b8ff .76%,#00a4ff 1.68%,#0070ff 2.6%,#0020ff 3.67%,#0000ff 4.28%,#0000ff 4.43%,#0000e3 5.35%,#0000a4 6.42%,#00008d 7.34%,#000092 9.17%,#0000b2 10.7%,#0000bf 11.77%,#0000bb 12.84%,#000096 14.68%,#000096 16.06%,#00009f 17.13%,#0000ad 17.74%,#0000c8 18.2%,#0000ff 18.81%,#0000ff 18.96%,#0040ff 19.72%,#005cff 20.49%,#005cff 21.1%,#0050ff 21.56%,#0040ff 21.87%,#0000ff 22.63%,#0000ff 22.78%,#0000c8 23.39%,#0000b6 23.7%,#0000a4 25.08%,#0000a4 26.61%,#0000b6 28.13%,#0000e3 29.2%,#0000ff 29.66%,#0000ff 29.82%,#0004ff 30.12%,#0034ff 31.19%,#004cff 32.26%,#0048ff 33.49%,#0034ff 34.25%,#0010ff 35.17%,#0020ff 37%,#0028ff 40.37%,#0034ff 49.85%,#0034ff 57.95%,#0014ff 65.44%,#0014ff 72.94%,#000cff 76.76%,#0000ff 78.13%,#0000ff 80.12%,#0000d6 82.57%,#0000a4 87%,#000092 92.51%,#000092 94.95%,#0000b2 95.11%,#0000df 95.26%,#0004ff 95.41%,#002cff 95.57%,#0040ff 95.72%,#003cff 96.33%,#0078ff 96.94%,#008cff 97.25%,#0090ff 98.01%,#009cff 98.17%,#00b4ff 98.32%,#00d8ff 98.47%,#0cf4eb 98.62%,#1fffd7 98.78%,#36ffc1 98.93%,#87ff70 99.08%,#eeff09 99.24%,#ffab00 99.39%,#ff7300 99.54%,#ff5200 100%)"></i>
<i style="left:170px;width:2px;background:linear-gradient(#00b8ff 0%,#00b8ff .76%,#00a0ff 1.83%,#007cff 2.45%,#0034ff 3.36%,#0000ff 4.43%,#0000e3 5.35%,#0000a4 6.42%,#00008d 7.34%,#000092 9.17%,#0000bf 11.47%,#0000bf 12.69%,#000096 14.68%,#00009b 16.97%,#0000a4 17.58%,#0000c8 18.2%,#0000ff 18.81%,#0000ff 18.96%,#0040ff 19.72%,#0050ff 20.03%,#005cff 20.64%,#0050ff 21.56%,#0040ff 21.87%,#0000ff 22.63%,#0000ff 22.78%,#0000c8 23.39%,#0000b6 23.7%,#0000a8 24.31%,#00009f 25.38%,#00009f 26.45%,#0000ad 27.83%,#0000c4 28.59%,#0000ff 29.82%,#0000ff 29.97%,#0008ff 30.43%,#0034ff 31.65%,#0040ff 32.72%,#0034ff 33.79%,#000cff 35.02%,#001cff 36.7%,#0024ff 39.45%,#0034ff 55.96%,#002cff 59.94%,#0010ff 64.37%,#000cff 74.46%,#0000ff 77.37%,#0000ff 79.66%,#0000d1 82.42%,#0000a4 86.39%,#000092 91.74%,#000092 94.95%,#0000b2 95.11%,#0000df 95.26%,#0004ff 95.41%,#0028ff 95.57%,#0040ff 95.72%,#003cff 96.33%,#0078ff 96.94%,#008cff 97.25%,#0090ff 98.01%,#009cff 98.17%,#00b4ff 98.32%,#00d8ff 98.47%,#0cf4eb 98.62%,#1fffd7 98.78%,#36ffc1 98.93%,#87ff70 99.08%,#ebff0c 99.24%,#ffab00 99.39%,#ff7300 99.54%,#ff5200 100%)"></i>
<i style="left:171px;width:2px;background:linear-gradient(#00bcff 0%,#00bcff .61%,#00a8ff 1.68%,#007cff 2.45%,#0034ff 3.36%,#0000ff 4.43%,#0000e3 5.35%,#0000a4 6.42%,#00008d 7.34%,#000092 9.17%,#0000bb 11.01%,#0000c4 11.77%,#0000bb 13.15%,#000092 14.98%,#00009b 17.13%,#0000a4 17.58%,#0000c8 18.2%,#0000ff 18.81%,#0000ff 18.96%,#0048ff 19.88%,#0058ff 20.34%,#0054ff 21.41%,#0034ff 22.02%,#0000ff 22.63%,#0000ff 22.78%,#0000c8 23.39%,#0000ad 23.85%,#00009f 24.92%,#00009f 26.91%,#0000ad 27.98%,#0000c4 28.75%,#0000ff 30.12%,#0000ff 30.43%,#002cff 31.96%,#0030ff 32.42%,#002cff 33.49%,#0004ff 34.86%,#0018ff 36.54%,#0020ff 38.38%,#0030ff 50.76%,#0030ff 56.88%,#0028ff 59.79%,#000cff 63.91%,#0000ff 79.2%,#0000cd 82.26%,#0000a4 85.93%,#000092 91.59%,#000092 94.95%,#0000b2 95.11%,#0000df 95.26%,#0000ff 95.41%,#0028ff 95.57%,#003cff 95.72%,#0040ff 95.87%,#0034ff 96.18%,#0048ff 96.48%,#0078ff 96.94%,#008cff 97.25%,#0090ff 98.01%,#0098ff 98.17%,#00d8ff 98.47%,#0cf4eb 98.62%,#1fffd7 98.78%,#36ffc1 98.93%,#87ff70 99.08%,#ebff0c 99.24%,#ffab00 99.39%,#ff7300 99.54%,#ff5500 100%)"></i>
<i style="left:172px;width:2px;background:linear-gradient(#00bcff 0%,#00bcff .76%,#00a8ff 1.68%,#0074ff 2.6%,#002cff 3.52%,#0000ff 4.43%,#0000e3 5.35%,#0000a4 6.42%,#00008d 7.34%,#000092 9.17%,#0000c4 11.47%,#0000c4 12.69%,#000092 14.98%,#000096 16.82%,#00009b 17.28%,#0000b2 17.89%,#0000ff 18.81%,#0000ff 18.96%,#0034ff 19.57%,#004cff 20.03%,#0058ff 20.49%,#0058ff 21.1%,#004cff 21.56%,#0034ff 22.02%,#0000ff 22.63%,#0000ff 22.78%,#0000b2 23.7%,#0000a4 24.16%,#00009b 25.23%,#00009b 26.61%,#0000a4 27.68%,#0000bf 28.75%,#0000ff 30.28%,#0000ff 30.43%,#0000ff 30.73%,#0020ff 32.11%,#0020ff 33.33%,#0000ff 34.86%,#0010ff 35.93%,#001cff 37.61%,#0030ff 52.91%,#0024ff 59.63%,#0004ff 64.98%,#0000ff 78.75%,#0000d1 81.5%,#0000a4 85.47%,#000092 91.59%,#000092 94.95%,#0000b2 95.11%,#0000df 95.26%,#0000ff 95.41%,#0028ff 95.57%,#003cff 95.72%,#0040ff 95.87%,#0034ff 96.18%,#0048ff 96.48%,#0078ff 96.94%,#008cff 97.25%,#0090ff 98.01%,#0098ff 98.17%,#00d8ff 98.47%,#0cf4eb 98.62%,#1fffd7 98.78%,#36ffc1 98.93%,#87ff70 99.08%,#ebff0c 99.24%,#ffab00 99.39%,#ff7300 99.54%,#ff5500 100%)"></i>
<i style="left:173px;width:2px;background:linear-gradient(#00c0ff 0%,#00bcff .92%,#00a4ff 1.83%,#0080ff 2.45%,#0024ff 3.67%,#0000ff 4.43%,#0000e3 5.35%,#0000a4 6.42%,#00008d 7.34%,#000092 9.02%,#0000a8 10.24%,#0000bf 11.01%,#0000c8 11.77%,#0000bf 13.15%,#0000a8 13.91%,#000092 15.14%,#000096 17.13%,#0000b2 17.89%,#0000ff 18.81%,#0000ff 18.96%,#003cff 19.72%,#004cff 20.03%,#0058ff 20.95%,#004cff 21.56%,#003cff 21.87%,#0000ff 22.63%,#0000ff 22.78%,#0000b2 23.7%,#0000a4 24.01%,#00009b 24.77%,#00009b 27.06%,#0000a4 27.83%,#0000c4 29.05%,#0000fa 30.43%,#0000ff 30.73%,#0014ff 32.57%,#0000ff 34.86%,#0014ff 36.7%,#001cff 38.69%,#002cff 51.38%,#0024ff 58.41%,#0000ff 64.37%,#0000ff 78.29%,#0000c4 82.11%,#00009f 85.47%,#000092 91.59%,#000092 94.95%,#0000b2 95.11%,#0000df 95.26%,#0000ff 95.41%,#0028ff 95.57%,#003cff 95.72%,#0040ff 95.87%,#0034ff 96.18%,#0048ff 96.48%,#0078ff 96.94%,#008cff 97.25%,#0090ff 98.01%,#0098ff 98.17%,#00d8ff 98.47%,#0cf4eb 98.62%,#1fffd7 98.78%,#36ffc1 98.93%,#87ff70 99.08%,#ebff0c 99.24%,#ffab00 99.39%,#ff7300 99.54%,#ff5500 100%)"></i>
<i style="left:174px;width:2px;background:linear-gradient(#00c0ff 0%,#00c0ff .76%,#00acff 1.68%,#0080ff 2.45%,#0038ff 3.36%,#0000ff 4.43%,#0000ff 4.74%,#0000e3 5.35%,#0000a4 6.42%,#00008d 7.34%,#000092 9.02%,#0000c8 11.47%,#0000c8 12.69%,#000092 15.14%,#000092 16.67%,#000096 17.13%,#0000b2 17.89%,#0000ff 18.81%,#0000ff 18.96%,#0030ff 19.57%,#0048ff 20.03%,#0054ff 20.49%,#0054ff 21.1%,#0048ff 21.56%,#0030ff 22.02%,#0000ff 22.63%,#0000ff 22.78%,#0000bb 23.55%,#0000a4 24.01%,#000096 25.23%,#000096 26.61%,#0000a4 27.98%,#0000ff 31.19%,#0000ff 35.47%,#0018ff 37.92%,#0028ff 50%,#0028ff 55.96%,#0018ff 60.09%,#0000ff 63.15%,#0000ff 77.68%,#0000f1 79.05%,#0000bb 82.42%,#00009f 85.02%,#000092 91.59%,#000092 94.95%,#0000b2 95.11%,#0000df 95.26%,#0000ff 95.41%,#0024ff 95.57%,#003cff 95.72%,#0034ff 96.18%,#0038ff 96.33%,#0084ff 97.09%,#0090ff 97.4%,#0090ff 98.01%,#0098ff 98.17%,#00d8ff 98.47%,#0cf4eb 98.62%,#1fffd7 98.78%,#36ffc1 98.93%,#87ff70 99.08%,#ebff0c 99.24%,#ffab00 99.39%,#ff7300 99.54%,#ff5500 100%)"></i>
<i style="left:175px;width:2px;background:linear-gradient(#00c0ff 0%,#00c0ff .92%,#00a8ff 1.83%,#0078ff 2.6%,#0038ff 3.36%,#0000ff 4.43%,#0000ff 4.59%,#0000ff 4.74%,#0000e3 5.35%,#0000a4 6.42%,#00008d 7.34%,#000092 9.02%,#00009b 9.63%,#0000c4 11.01%,#0000cd 11.77%,#0000c4 13.15%,#00009b 14.53%,#000092 15.14%,#000092 16.82%,#0000a8 17.74%,#0000d1 18.35%,#0000ff 18.81%,#0000ff 18.96%,#0024ff 19.42%,#0048ff 20.03%,#0054ff 20.64%,#0048ff 21.56%,#0024ff 22.17%,#0008ff 22.48%,#0000ff 22.78%,#0000d1 23.24%,#0000a8 23.85%,#00009b 24.31%,#000096 24.92%,#000096 26.91%,#0000a4 28.13%,#0000ed 30.73%,#0000ff 31.65%,#0000ff 35.78%,#0010ff 37%,#0018ff 39.45%,#0028ff 52.45%,#0020ff 57.19%,#0000ff 62.39%,#0000ff 76.91%,#0000f1 78.59%,#0000bb 81.96%,#0000a4 84.1%,#000092 91.59%,#000092 94.95%,#0000da 95.26%,#0000ff 95.41%,#0024ff 95.57%,#0038ff 95.72%,#0038ff 96.33%,#0078ff 96.94%,#008cff 97.25%,#008cff 98.01%,#0098ff 98.17%,#00d4ff 98.47%,#0cf4eb 98.62%,#1cffdb 98.78%,#36ffc1 98.93%,#87ff70 99.08%,#ebff0c 99.24%,#ffab00 99.39%,#ff7300 99.54%,#ff5500 100%)"></i>
<i style="left:176px;width:2px;background:linear-gradient(#00c4ff 0%,#00c4ff .61%,#00b0ff 1.68%,#0084ff 2.45%,#0030ff 3.52%,#0000ff 4.43%,#0000ff 4.59%,#0000ff 4.74%,#0000e3 5.35%,#0000a4 6.42%,#00008d 7.34%,#000096 9.33%,#0000cd 11.47%,#0000c8 13%,#00009f 14.37%,#000092 15.14%,#000092 16.97%,#0000a8 17.74%,#0000d1 18.35%,#0000ff 18.81%,#0000ff 18.96%,#0040ff 19.88%,#0050ff 20.49%,#0050ff 21.1%,#0040ff 21.71%,#0008ff 22.48%,#0000ff 22.78%,#0000d1 23.24%,#0000a8 23.85%,#000096 24.62%,#00009b 27.68%,#0000a8 28.59%,#0000e8 31.04%,#0000f6 31.96%,#0000f1 34.1%,#0000ff 34.86%,#0000ff 36.09%,#000cff 37%,#0014ff 38.99%,#0024ff 51.53%,#0020ff 55.96%,#000cff 60.55%,#0000ff 61.77%,#0000ff 75.23%,#0000f1 78.13%,#0000b2 82.26%,#00009f 84.25%,#000092 94.95%,#0000ff 95.41%,#0024ff 95.57%,#0038ff 95.72%,#0038ff 96.33%,#0084ff 97.09%,#008cff 97.25%,#008cff 98.01%,#0098ff 98.17%,#00d4ff 98.47%,#0cf4eb 98.62%,#1cffdb 98.78%,#36ffc1 98.93%,#87ff70 99.08%,#ebff0c 99.24%,#ffab00 99.39%,#ff7300 99.54%,#ff5500 100%)"></i>
<i style="left:177px;width:2px;background:linear-gradient(#00c4ff 0%,#00c4ff .76%,#00b0ff 1.68%,#0084ff 2.45%,#0028ff 3.67%,#0000ff 4.43%,#0000ff 4.59%,#0000ff 4.74%,#0000e3 5.35%,#00009f 6.57%,#00008d 7.34%,#000096 9.33%,#0000c4 10.86%,#0000d1 11.77%,#0000cd 12.84%,#0000a4 14.22%,#000092 15.14%,#000092 16.97%,#0000a8 17.74%,#0000c4 18.2%,#0000fa 18.81%,#0000ff 18.96%,#002cff 19.57%,#0044ff 20.03%,#0050ff 20.64%,#0044ff 21.56%,#002cff 22.02%,#0000ff 22.63%,#0000fa 22.78%,#0000c4 23.39%,#0000a8 23.85%,#000096 24.46%,#000092 25.54%,#000096 27.52%,#0000a8 28.75%,#0000e3 31.5%,#0000e8 33.79%,#0000ff 35.32%,#0010ff 38.53%,#0020ff 51.07%,#001cff 55.96%,#0000ff 61.16%,#0000fa 75.38%,#0000e8 78.44%,#0000ad 82.26%,#00009f 83.79%,#000092 94.95%,#0000ff 95.41%,#0024ff 95.57%,#0038ff 95.72%,#0038ff 96.33%,#0084ff 97.09%,#008cff 97.25%,#008cff 98.01%,#0098ff 98.17%,#00d4ff 98.47%,#0cf4eb 98.62%,#1cffdb 98.78%,#36ffc1 98.93%,#87ff70 99.08%,#ebff0c 99.24%,#ffab00 99.39%,#ff7700 99.54%,#ff5500 100%)"></i>
<i style="left:178px;width:2px;background:linear-gradient(#00c8ff 0%,#00c4ff .92%,#00acff 1.83%,#007cff 2.6%,#0028ff 3.67%,#0000ff 4.43%,#0000ff 4.59%,#0000ff 4.74%,#0000e3 5.35%,#00009f 6.57%,#00008d 7.34%,#000096 9.33%,#0000d1 11.47%,#0000cd 13%,#000092 15.14%,#000092 16.97%,#0000a8 17.74%,#0000c4 18.2%,#0000fa 18.81%,#0000ff 18.96%,#0004ff 19.11%,#0020ff 19.42%,#003cff 19.88%,#004cff 20.49%,#0048ff 21.41%,#0034ff 21.87%,#0004ff 22.48%,#0000ff 22.63%,#0000fa 22.78%,#0000c4 23.39%,#0000a8 23.85%,#000096 24.46%,#000092 25.08%,#000096 27.68%,#0000da 31.65%,#0000df 33.18%,#0000ff 35.63%,#000cff 38.23%,#001cff 50.61%,#001cff 54.43%,#0000ff 60.55%,#0000f6 75.54%,#0000e8 77.98%,#0000ad 81.96%,#00009f 83.49%,#000092 94.95%,#0000ff 95.41%,#0038ff 95.72%,#0038ff 96.33%,#0084ff 97.09%,#008cff 97.25%,#008cff 98.01%,#0098ff 98.17%,#00d4ff 98.47%,#0cf4eb 98.62%,#1cffdb 98.78%,#36ffc1 98.93%,#87ff70 99.08%,#ebff0c 99.24%,#ffab00 99.39%,#ff7700 99.54%,#ff5500 100%)"></i>
<i style="left:179px;width:2px;background:linear-gradient(#00c8ff 0%,#00c8ff .76%,#00b4ff 1.68%,#0088ff 2.45%,#003cff 3.36%,#0000ff 4.43%,#0000ff 4.59%,#0000ff 4.74%,#0000e3 5.35%,#00009f 6.57%,#00008d 7.34%,#000096 9.33%,#0000d1 11.31%,#0000d6 11.77%,#0000d1 12.84%,#000096 14.83%,#00008d 16.51%,#000092 16.97%,#0000a8 17.74%,#0000c4 18.2%,#0000fa 18.81%,#0000ff 18.96%,#0040ff 20.03%,#004cff 20.64%,#0040ff 21.56%,#0000ff 22.63%,#0000fa 22.78%,#0000c4 23.39%,#0000a8 23.85%,#000092 24.77%,#000092 27.22%,#00009b 28.29%,#0000c8 31.04%,#0000df 33.49%,#0000ff 35.78%,#0018ff 50.31%,#0018ff 54.43%,#0000ff 59.63%,#0000f1 75.38%,#0000df 78.29%,#0000c4 80.12%,#0000bf 81.04%,#0000a8 81.96%,#00009f 83.03%,#000092 94.95%,#0000ad 95.11%,#0000ff 95.41%,#0020ff 95.57%,#0034ff 95.72%,#0038ff 96.33%,#0084ff 97.09%,#008cff 97.25%,#008cff 98.01%,#0098ff 98.17%,#00d4ff 98.47%,#0cf4eb 98.62%,#1cffdb 98.78%,#36ffc1 98.93%,#87ff70 99.08%,#ebff0c 99.24%,#ffab00 99.39%,#ff7700 99.54%,#ff5500 100%)"></i>
<i style="left:180px;width:2px;background:linear-gradient(#00ccff 0%,#00c8ff .92%,#00b4ff 1.68%,#0088ff 2.45%,#0034ff 3.52%,#0000ff 4.43%,#0000ff 4.59%,#0000fa 4.89%,#0000ad 6.27%,#00008d 7.34%,#000092 9.02%,#0000d6 11.47%,#0000d6 12.69%,#000092 15.14%,#00008d 16.51%,#000092 16.97%,#0000a8 17.74%,#0000c4 18.2%,#0000ff 18.96%,#0038ff 19.88%,#0048ff 20.49%,#0048ff 21.1%,#0038ff 21.71%,#0000ff 22.63%,#0000c4 23.39%,#0000a8 23.85%,#000092 24.62%,#000096 27.98%,#0000ff 36.09%,#0014ff 50%,#0014ff 54.43%,#0000ff 58.72%,#0000ff 62.39%,#0000f1 65.6%,#0000ed 75.38%,#0000e3 77.37%,#0000c4 79.82%,#0000bf 81.04%,#00009f 82.57%,#000092 94.95%,#0000ad 95.11%,#0000ff 95.41%,#0020ff 95.57%,#0034ff 95.72%,#0038ff 96.33%,#0084ff 97.09%,#008cff 97.4%,#008cff 98.01%,#0098ff 98.17%,#00d4ff 98.47%,#0cf4eb 98.62%,#1cffdb 98.78%,#36ffc1 98.93%,#87ff70 99.08%,#ebff0c 99.24%,#ffab00 99.39%,#ff7700 99.54%,#ff5500 100%)"></i>
<i style="left:181px;width:2px;background:linear-gradient(#00ccff 0%,#00ccff .76%,#00b8ff 1.68%,#0080ff 2.6%,#0034ff 3.52%,#0000ff 4.59%,#0000fa 4.89%,#0000ad 6.27%,#00008d 7.34%,#00008d 8.41%,#00009b 9.48%,#0000d6 11.31%,#0000da 11.77%,#0000d6 12.84%,#00009b 14.68%,#00008d 15.75%,#00008d 16.51%,#000092 16.97%,#0000a8 17.74%,#0000cd 18.35%,#0000ff 18.96%,#0000ff 19.11%,#0024ff 19.57%,#003cff 20.03%,#0048ff 20.64%,#003cff 21.56%,#0024ff 22.02%,#0000ff 22.48%,#0000ff 22.63%,#0000cd 23.24%,#0000a8 23.85%,#000092 24.62%,#000096 28.29%,#0000ff 36.39%,#0010ff 49.69%,#0010ff 54.43%,#0000ff 58.72%,#0000ff 61.77%,#0000f1 63.76%,#0000ed 66.36%,#0000e8 75.23%,#0000df 77.37%,#0000c8 79.2%,#0000bf 81.04%,#00009f 82.42%,#000092 94.95%,#0000ad 95.11%,#0000ff 95.41%,#0020ff 95.57%,#0034ff 95.72%,#0038ff 96.33%,#0084ff 97.09%,#008cff 97.4%,#008cff 98.01%,#0098ff 98.17%,#00d4ff 98.47%,#0cf4eb 98.62%,#1cffdb 98.78%,#33ffc4 98.93%,#87ff70 99.08%,#ebff0c 99.24%,#ffab00 99.39%,#ff7700 99.54%,#ff5500 100%)"></i>
<i style="left:182px;width:2px;background:linear-gradient(#00ccff 0%,#00ccff .76%,#00b8ff 1.68%,#008cff 2.45%,#002cff 3.67%,#0000ff 4.59%,#0000fa 4.89%,#0000ad 6.27%,#00008d 7.34%,#00008d 8.41%,#00009b 9.48%,#0000cd 10.86%,#0000da 11.47%,#0000da 12.69%,#0000cd 13.3%,#00009b 14.68%,#00008d 15.75%,#00008d 16.51%,#00009b 17.43%,#0000a8 17.74%,#0000cd 18.35%,#0000ff 18.96%,#0000ff 19.11%,#0034ff 19.88%,#0044ff 20.49%,#0044ff 21.1%,#0034ff 21.71%,#0000ff 22.48%,#0000ff 22.63%,#0000cd 23.24%,#00009b 24.16%,#00008d 25.23%,#000092 27.83%,#00009f 29.51%,#0000d1 32.72%,#0000ff 36.7%,#000cff 49.39%,#000cff 54.59%,#0000ff 57.03%,#0000ff 61.16%,#0000ed 64.07%,#0000df 76.61%,#0000c8 78.75%,#0000bf 81.04%,#00009b 82.72%,#00009f 86.24%,#000092 91.59%,#000092 94.95%,#0000ad 95.11%,#0000ff 95.41%,#0030ff 95.72%,#0038ff 95.87%,#0038ff 96.33%,#0084ff 97.09%,#008cff 97.4%,#008cff 98.01%,#0098ff 98.17%,#00d4ff 98.47%,#0cf4eb 98.62%,#1cffdb 98.78%,#33ffc4 98.93%,#83ff73 99.08%,#ebff0c 99.24%,#ffab00 99.39%,#ff7700 99.54%,#ff5500 100%)"></i>
<i style="left:183px;width:3px;background:linear-gradient(#00d0ff 0%,#00d0ff .61%,#00baff 1.68%,#008cff 2.45%,#004cff 3.21%,#0024ff 3.82%,#0000ff 4.59%,#0000fa 4.89%,#0000ad 6.27%,#00008d 7.34%,#00008d 8.41%,#000096 9.17%,#0000da 11.31%,#0000df 11.77%,#0000da 12.84%,#000096 14.98%,#00008d 16.51%,#00009b 17.43%,#0000b6 18.04%,#0000ff 18.96%,#0000ff 19.11%,#0036ff 20.03%,#0040ff 20.49%,#0040ff 21.1%,#0030ff 21.71%,#0000ff 22.48%,#0000ff 22.63%,#0000b6 23.55%,#00009b 24.16%,#00008d 25.08%,#00008d 26.76%,#00009d 29.51%,#0000ed 35.02%,#0000ff 37.46%,#0006ff 49.08%,#0000ff 59.94%,#0000e6 64.83%,#0000d8 76.61%,#0000ca 77.98%,#0000bf 81.04%,#00009b 82.72%,#00009f 86.24%,#000092 91.59%,#000092 94.95%,#0000ad 95.11%,#0000ff 95.41%,#0030ff 95.72%,#0030ff 96.18%,#0038ff 96.33%,#0078ff 96.94%,#008cff 97.4%,#008cff 98.01%,#0098ff 98.17%,#00d4ff 98.47%,#0af2ec 98.62%,#1cffdb 98.78%,#33ffc4 98.93%,#83ff73 99.08%,#ebff0c 99.24%,#ffac00 99.39%,#ff7700 99.54%,#ff5500 100%)"></i>
<i style="left:185px;width:3px;background:linear-gradient(#00d2ff 0%,#00d2ff .61%,#00bcff 1.68%,#0084ff 2.6%,#0038ff 3.52%,#0000ff 4.59%,#0000fa 4.89%,#0000ad 6.27%,#00008d 7.34%,#00008d 8.41%,#000096 9.17%,#0000d1 10.86%,#0000e3 11.77%,#0000da 13%,#000096 14.98%,#00008d 16.51%,#00009f 17.58%,#0000bf 18.2%,#0000ff 18.96%,#0000ff 19.11%,#0032ff 20.03%,#003cff 20.64%,#0032ff 21.56%,#0006ff 22.32%,#0000ff 22.63%,#0000d6 23.09%,#0000ad 23.7%,#000096 24.31%,#00008d 25.08%,#00008d 27.22%,#00009b 29.66%,#0000d4 33.94%,#0000ed 34.86%,#0000ea 35.78%,#0000ff 38.07%,#0000ff 58.41%,#0000dd 65.29%,#0000d8 72.78%,#0000c8 77.52%,#0000c8 79.82%,#0000bf 81.04%,#00009b 82.72%,#00009f 86.24%,#000092 91.59%,#000092 94.95%,#0000ad 95.11%,#0000ff 95.41%,#002cff 95.72%,#0038ff 96.33%,#0080ff 97.09%,#008cff 97.4%,#008cff 98.01%,#0098ff 98.17%,#00b0ff 98.32%,#00d4ff 98.47%,#09f0ee 98.62%,#1cffdb 98.78%,#33ffc4 98.93%,#83ff73 99.08%,#e9ff0e 99.24%,#ffae00 99.39%,#ff7700 99.54%,#ff5500 100%)"></i>
<i style="left:187px;width:3px;background:linear-gradient(#00d4ff 0%,#00d4ff .76%,#00b8ff 1.83%,#009cff 2.29%,#0044ff 3.36%,#0000ff 4.59%,#0000f3 5.05%,#0000ad 6.27%,#00008d 7.34%,#000096 9.17%,#0000ad 9.94%,#0000da 11.01%,#0000e8 11.77%,#0000df 13%,#0000ad 14.22%,#000096 14.98%,#00008d 16.51%,#00009f 17.58%,#0000c8 18.35%,#0000fa 18.96%,#0000ff 19.11%,#0020ff 19.72%,#0036ff 20.49%,#0032ff 21.41%,#0000ff 22.48%,#0000fa 22.63%,#0000c8 23.24%,#00009f 24.01%,#00008d 25.08%,#00008d 27.68%,#000096 29.51%,#0000cd 33.79%,#0000ed 34.86%,#0000e6 35.78%,#0000f8 37.61%,#0000ff 42.2%,#0000ff 56.88%,#0000d4 65.9%,#0000c8 79.82%,#0000bf 81.04%,#00009b 82.72%,#00009f 86.24%,#000092 91.59%,#000092 94.95%,#0000ad 95.11%,#0000ff 95.41%,#002aff 95.72%,#0038ff 96.33%,#0080ff 97.09%,#008cff 97.4%,#008cff 98.01%,#0094ff 98.17%,#00d4ff 98.47%,#09f0ee 98.62%,#1cffdb 98.78%,#33ffc4 98.93%,#83ff73 99.08%,#e7ff0f 99.24%,#ffae00 99.39%,#ff7700 99.54%,#ff5900 100%)"></i>
<i style="left:189px;width:3px;background:linear-gradient(#00d8ff 0%,#00d4ff .92%,#00c0ff 1.68%,#0088ff 2.6%,#0050ff 3.21%,#0028ff 3.82%,#0000ff 4.59%,#0000ff 4.74%,#0000ff 4.89%,#0000ad 6.27%,#00008d 7.34%,#00008d 8.26%,#00009b 9.33%,#0000dd 11.01%,#0000ed 11.93%,#0000e6 12.84%,#00009b 14.83%,#000092 15.29%,#00008d 16.51%,#000096 17.28%,#0000a4 17.74%,#0000d1 18.5%,#0000ff 19.11%,#0000ff 19.27%,#0028ff 20.03%,#0032ff 20.49%,#0030ff 21.25%,#001cff 21.87%,#0000ff 22.32%,#0000ff 22.48%,#0000d1 23.09%,#0000a4 23.85%,#000096 24.31%,#00008d 25.08%,#00008d 28.29%,#000096 29.82%,#0000c4 33.64%,#0000e8 34.56%,#0000ef 35.17%,#0000e3 35.93%,#0000f3 37.92%,#0000ff 48.32%,#0000fc 56.12%,#0000ef 59.94%,#0000d4 63.46%,#0000ca 67.28%,#0000c8 79.82%,#0000bf 81.04%,#00009b 82.72%,#00009f 86.09%,#000092 91.59%,#000092 94.95%,#0000ad 95.11%,#0000ff 95.41%,#0028ff 95.72%,#0038ff 96.33%,#0080ff 97.09%,#008aff 97.4%,#008aff 98.01%,#0094ff 98.17%,#00d2ff 98.47%,#09f0ee 98.62%,#1bffdc 98.78%,#33ffc4 98.93%,#83ff73 99.08%,#e7ff0f 99.24%,#ffae00 99.39%,#ff7700 99.54%,#ff5900 100%)"></i>
<i style="left:191px;width:3px;background:linear-gradient(#00d8ff 0%,#00d8ff .76%,#00bcff 1.83%,#0094ff 2.45%,#0028ff 3.82%,#0000ff 4.59%,#0000ff 4.74%,#0000ff 4.89%,#0000ad 6.27%,#00008d 7.34%,#00008d 8.26%,#00009b 9.33%,#0000da 10.86%,#0000ed 11.47%,#0000f1 12.08%,#0000ed 12.69%,#0000da 13.3%,#00009b 14.83%,#000092 15.29%,#00008d 16.51%,#000096 17.28%,#0000a4 17.74%,#0000bb 18.2%,#0000ff 19.11%,#0000ff 19.27%,#0024ff 20.03%,#002eff 20.64%,#0028ff 21.41%,#0000ff 22.32%,#0000ff 22.48%,#0000bb 23.39%,#0000a4 23.85%,#000096 24.31%,#00008d 25.08%,#00008d 28.75%,#000096 30.12%,#0000bb 33.33%,#0000e8 34.56%,#0000f1 35.17%,#0000e1 36.24%,#0000ef 38.23%,#0000fc 50.46%,#0000f3 57.19%,#0000c8 65.14%,#0000c8 79.82%,#0000bf 81.04%,#00009b 82.72%,#00009f 86.09%,#000092 91.59%,#000092 94.95%,#0000ad 95.11%,#0000fc 95.41%,#0024ff 95.72%,#0038ff 96.33%,#0080ff 97.09%,#0088ff 97.25%,#0088ff 98.01%,#0094ff 98.17%,#00d0ff 98.47%,#09f0ee 98.62%,#19ffde 98.78%,#33ffc4 98.93%,#83ff73 99.08%,#e7ff0f 99.24%,#ffae00 99.39%,#ff7a00 99.54%,#ff5900 100%)"></i>
<i style="left:193px;width:3px;background:linear-gradient(#00d8ff 0%,#00d8ff .76%,#00c4ff 1.68%,#00a0ff 2.29%,#003cff 3.52%,#0000ff 4.59%,#0000ff 4.74%,#0000ff 4.89%,#0000ad 6.27%,#00008d 7.34%,#00008d 8.26%,#00009d 9.33%,#0000b2 9.94%,#0000e3 11.01%,#0000f3 11.77%,#0000ed 12.84%,#0000d1 13.61%,#0000b2 14.22%,#000096 15.14%,#00008d 16.51%,#000096 17.28%,#0000a4 17.74%,#0000c4 18.35%,#0000ff 19.11%,#0000ff 19.27%,#001aff 19.88%,#0028ff 20.49%,#0026ff 21.25%,#001aff 21.71%,#0002ff 22.17%,#0000ff 22.48%,#0000c4 23.24%,#0000a4 23.85%,#000096 24.31%,#00008d 25.08%,#00008d 29.05%,#0000a4 31.8%,#0000b6 33.33%,#0000df 34.25%,#0000f1 35.02%,#0000df 36.39%,#0000ea 38.23%,#0000f8 51.68%,#0000ef 57.19%,#0000e1 60.24%,#0000c8 63.3%,#0000c8 79.82%,#0000bf 81.04%,#00009b 82.72%,#00009f 86.09%,#000092 91.59%,#000092 94.95%,#0000ab 95.11%,#0000fa 95.41%,#0020ff 95.72%,#0038ff 96.33%,#0080ff 97.09%,#0088ff 97.25%,#0088ff 98.01%,#0094ff 98.17%,#00d0ff 98.47%,#09f0ee 98.62%,#19ffde 98.78%,#33ffc4 98.93%,#83ff73 99.08%,#e7ff0f 99.24%,#ffae00 99.39%,#ff7a00 99.54%,#ff5900 100%)"></i>
<i style="left:195px;width:3px;background:linear-gradient(#00daff 0%,#00d8ff .92%,#00c4ff 1.68%,#00a0ff 2.29%,#003cff 3.52%,#0000ff 4.59%,#0000ff 4.74%,#0000ff 4.89%,#0000ad 6.27%,#00008d 7.34%,#000096 9.02%,#0000ad 9.79%,#0000ed 11.16%,#0000f6 11.62%,#0000f6 12.54%,#0000ed 13%,#0000ad 14.37%,#000096 15.14%,#00008d 16.51%,#000096 17.28%,#0000a8 17.89%,#0000ff 19.27%,#0000ff 19.42%,#0016ff 19.88%,#0024ff 20.64%,#0022ff 21.25%,#0000ff 22.32%,#0000a8 23.7%,#000096 24.31%,#00008d 25.08%,#00008d 29.36%,#00009d 31.5%,#0000b2 33.18%,#0000df 34.25%,#0000f1 35.02%,#0000ed 35.63%,#0000da 36.39%,#0000e8 39.3%,#0000f3 51.99%,#0000ea 57.03%,#0000c8 62.39%,#0000c8 79.82%,#0000bf 81.04%,#00009b 82.72%,#00009f 86.09%,#000092 91.59%,#000092 94.95%,#0000a8 95.11%,#0000f6 95.41%,#0008ff 95.57%,#001cff 95.72%,#0026ff 95.87%,#002cff 96.18%,#0080ff 97.09%,#0088ff 97.4%,#0088ff 98.01%,#0094ff 98.17%,#00d0ff 98.47%,#09f0ee 98.62%,#19ffde 98.78%,#30ffc7 98.93%,#82ff75 99.08%,#e7ff0f 99.24%,#ffae00 99.39%,#ff7a00 99.54%,#ff5900 100%)"></i>
<i style="left:197px;width:3px;background:linear-gradient(#00dcfe 0%,#00d8ff .92%,#00c4ff 1.68%,#00a0ff 2.29%,#003cff 3.52%,#0000ff 4.59%,#0000ff 4.74%,#0000ff 4.89%,#0000ad 6.27%,#00008d 7.34%,#000096 9.02%,#0000ad 9.79%,#0000e3 10.86%,#0000fa 11.77%,#0000f6 12.69%,#0000e3 13.3%,#0000ad 14.37%,#000096 15.14%,#00008d 15.9%,#000092 16.97%,#0000a8 17.89%,#0000ff 19.27%,#0020ff 20.64%,#001aff 21.41%,#0000ff 22.32%,#0000a8 23.7%,#000096 24.31%,#00008d 25.08%,#00008d 29.36%,#00009f 32.11%,#0000a8 32.87%,#0000df 34.25%,#0000f1 35.02%,#0000ed 35.63%,#0000d6 36.24%,#0000e3 38.69%,#0000ef 53.36%,#0000e6 56.88%,#0000c8 61.62%,#0000c8 79.82%,#0000bf 81.04%,#00009b 82.72%,#00009f 86.09%,#000092 91.59%,#000092 94.95%,#0000a8 95.11%,#0000f3 95.41%,#0006ff 95.57%,#001aff 95.72%,#0024ff 95.87%,#002cff 96.18%,#007eff 97.09%,#0088ff 97.4%,#0088ff 98.01%,#0094ff 98.17%,#00acff 98.32%,#00d0ff 98.47%,#06ecf1 98.62%,#19ffde 98.78%,#30ffc7 98.93%,#80ff77 99.08%,#e7ff0f 99.24%,#ffb200 99.39%,#ff7a00 99.54%,#ff5900 100%)"></i>
<i style="left:199px;width:3px;background:linear-gradient(#00d8ff 0%,#00d8ff .76%,#00c4ff 1.68%,#00a0ff 2.29%,#003cff 3.52%,#0000ff 4.59%,#0000ff 4.74%,#0000ff 4.89%,#0000ad 6.27%,#00008d 7.34%,#000096 9.02%,#0000a8 9.63%,#0000ed 11.01%,#0000fc 11.77%,#0000f6 12.84%,#0000df 13.46%,#0000a8 14.53%,#000096 15.14%,#00008d 15.9%,#000092 17.13%,#0000a8 17.89%,#0000c8 18.5%,#0000ff 19.27%,#0000ff 19.42%,#0016ff 20.18%,#001cff 20.8%,#0016ff 21.41%,#0000ff 22.02%,#0000ff 22.32%,#0000c8 23.09%,#0000a8 23.7%,#000092 24.46%,#00008d 25.08%,#00008d 29.36%,#00009f 32.42%,#0000b6 33.33%,#0000df 34.25%,#0000f1 35.02%,#0000ed 35.63%,#0000d1 36.39%,#0000df 38.38%,#0000ea 53.67%,#0000e1 56.73%,#0000c8 61.01%,#0000c8 79.82%,#0000bf 81.04%,#00009b 82.72%,#00009f 85.93%,#000092 91.44%,#000092 94.95%,#0000a8 95.11%,#0000f1 95.41%,#0002ff 95.57%,#0020ff 95.87%,#0034ff 96.33%,#0074ff 96.94%,#0088ff 97.4%,#0088ff 98.01%,#0092ff 98.17%,#00d0ff 98.47%,#06ecf1 98.62%,#19ffde 98.78%,#30ffc7 98.93%,#80ff77 99.08%,#e4ff13 99.24%,#ffb200 99.39%,#ff7a00 99.54%,#ff5d00 100%)"></i>
<i style="left:201px;width:3px;background:linear-gradient(#00d8ff 0%,#00d8ff .76%,#00c4ff 1.68%,#00a0ff 2.29%,#003cff 3.52%,#0000ff 4.59%,#0000ff 4.74%,#0000ff 4.89%,#0000ad 6.27%,#00008d 7.34%,#000096 9.02%,#0000a8 9.63%,#0000e8 10.86%,#0000ff 11.62%,#0000ff 12.54%,#0000f8 12.84%,#0000e8 13.3%,#0000a8 14.53%,#000096 15.14%,#00008d 15.9%,#000092 17.13%,#00009d 17.58%,#0000ad 18.04%,#0000ff 19.42%,#0018ff 20.8%,#0000ff 22.17%,#0000ad 23.55%,#000092 24.46%,#00008d 25.08%,#00008d 29.36%,#00009b 32.26%,#0000b6 33.33%,#0000df 34.25%,#0000f1 35.02%,#0000ed 35.63%,#0000cf 36.54%,#0000dd 39.91%,#0000e6 53.67%,#0000c8 60.09%,#0000c8 79.82%,#0000bf 81.04%,#00009b 82.72%,#00009f 85.93%,#000092 91.44%,#000092 94.95%,#0000a8 95.11%,#0000ed 95.41%,#0000ff 95.57%,#001eff 95.87%,#0034ff 96.33%,#0074ff 96.94%,#0084ff 97.25%,#0086ff 98.01%,#0090ff 98.17%,#00ceff 98.47%,#06ecf1 98.62%,#17ffdf 98.78%,#30ffc7 98.93%,#80ff77 99.08%,#e4ff13 99.24%,#ffb200 99.39%,#ff7a00 99.54%,#ff5d00 100%)"></i>
<i style="left:203px;width:3px;background:linear-gradient(#00d8ff 0%,#00d8ff .76%,#00c4ff 1.68%,#0094ff 2.45%,#0028ff 3.82%,#0000ff 4.59%,#0000ff 4.74%,#0000ff 4.89%,#0000ad 6.27%,#00008d 7.34%,#000096 9.02%,#0000a8 9.63%,#0000f6 11.16%,#0000ff 11.47%,#0000ff 11.93%,#0000ff 12.69%,#0000da 13.61%,#0000a8 14.53%,#000096 15.14%,#00008d 15.9%,#000092 17.13%,#00009f 17.74%,#0000bd 18.35%,#0000f8 19.27%,#0000ff 19.57%,#0014ff 20.64%,#0000ff 22.17%,#0000bd 23.24%,#00009f 23.85%,#00008d 25.08%,#00008d 29.36%,#00009b 32.42%,#0000b6 33.33%,#0000df 34.25%,#0000f1 35.02%,#0000ed 35.63%,#0000cd 36.54%,#0000d8 39.91%,#0000e1 53.52%,#0000c8 59.02%,#0000c8 79.82%,#0000bf 81.04%,#00009b 82.72%,#00009f 85.93%,#000092 91.44%,#000092 94.95%,#0000a8 95.11%,#0000ea 95.41%,#0000ff 95.57%,#0010ff 95.72%,#0034ff 96.33%,#007cff 97.09%,#0084ff 97.25%,#0084ff 98.01%,#0090ff 98.17%,#00ccff 98.47%,#06ecf1 98.62%,#16ffe1 98.78%,#30ffc7 98.93%,#80ff77 99.08%,#e4ff13 99.24%,#ffb200 99.39%,#ff7c00 99.54%,#ff5d00 100%)"></i>
<i style="left:205px;width:3px;background:linear-gradient(#00d8ff 0%,#00d8ff .76%,#00bcff 1.83%,#0094ff 2.45%,#0028ff 3.82%,#0000ff 4.59%,#0000ff 4.74%,#0000ff 4.89%,#0000ad 6.27%,#00008d 7.34%,#000096 9.02%,#0000b2 9.79%,#0000f1 11.01%,#0000ff 11.62%,#0000ff 12.69%,#0000e3 13.46%,#0000a4 14.68%,#000096 15.14%,#00008d 15.9%,#000092 17.13%,#00009f 17.74%,#0000bb 18.35%,#0000ff 19.42%,#0000ff 19.57%,#0010ff 20.49%,#0010ff 21.1%,#0000ff 22.17%,#0000bb 23.24%,#00009f 23.85%,#00008d 25.08%,#00008d 29.36%,#00009b 32.42%,#0000b6 33.33%,#0000df 34.25%,#0000f1 35.02%,#0000ed 35.63%,#0000c8 36.7%,#0000d1 38.23%,#0000dd 50.76%,#0000da 54.28%,#0000c8 58.1%,#0000c8 79.82%,#0000bf 81.04%,#00009b 82.72%,#00009f 85.78%,#000092 91.44%,#000092 94.95%,#0000ff 95.57%,#0034ff 96.33%,#007cff 97.09%,#0084ff 97.25%,#0084ff 98.01%,#0090ff 98.17%,#00ccff 98.47%,#06ecf1 98.62%,#16ffe1 98.78%,#30ffc7 98.93%,#80ff77 99.08%,#e4ff13 99.24%,#ffb200 99.39%,#ff7e00 99.54%,#ff5d00 100%)"></i>
<i style="left:207px;width:3px;background:linear-gradient(#00d8ff 0%,#00d4ff .92%,#00c0ff 1.68%,#0088ff 2.6%,#0050ff 3.21%,#0028ff 3.82%,#0000ff 4.59%,#0000ff 4.74%,#0000ff 4.89%,#0000ad 6.27%,#00008d 7.34%,#000096 9.02%,#0000b2 9.79%,#0000fa 11.16%,#0000ff 11.62%,#0000ff 12.84%,#0000a4 14.68%,#000096 15.14%,#00008d 15.9%,#000092 17.13%,#0000a4 17.89%,#0000ff 19.57%,#000cff 20.49%,#0000ff 22.02%,#0000a4 23.7%,#000096 24.16%,#00008d 25.08%,#00008d 29.36%,#00009b 32.42%,#0000b6 33.33%,#0000df 34.25%,#0000f1 35.02%,#0000ed 35.63%,#0000c4 36.7%,#0000cd 38.07%,#0000d8 51.22%,#0000d6 54.13%,#0000c8 57.03%,#0000c8 79.82%,#0000bf 81.04%,#00009b 82.72%,#00009f 85.78%,#000092 91.44%,#000092 94.95%,#0000ff 95.57%,#0034ff 96.33%,#007cff 97.09%,#0084ff 97.4%,#0084ff 98.01%,#0090ff 98.17%,#00ccff 98.47%,#06ecf1 98.62%,#16ffe1 98.78%,#2cffca 98.93%,#7fff78 99.08%,#e4ff13 99.24%,#ffb200 99.39%,#ff7e00 99.54%,#ff5d00 100%)"></i>
<i style="left:209px;width:3px;background:linear-gradient(#00d6ff 0%,#00d4ff .76%,#00c0ff 1.68%,#0086ff 2.6%,#0030ff 3.67%,#0000ff 4.59%,#0000ff 4.74%,#0000ff 4.89%,#0000ad 6.27%,#00008d 7.34%,#000096 9.02%,#0000b2 9.79%,#0000f6 11.01%,#0000ff 11.47%,#0000ff 12.84%,#0000f6 13.15%,#0000a4 14.68%,#000096 15.14%,#00008d 15.9%,#000092 17.13%,#0000a4 17.89%,#0000ff 19.57%,#0008ff 20.49%,#0000ff 22.02%,#0000a4 23.7%,#000096 24.16%,#00008d 24.92%,#00008d 29.36%,#000096 31.96%,#00009f 32.57%,#0000b6 33.33%,#0000df 34.25%,#0000f1 35.02%,#0000ed 35.63%,#0000bf 36.85%,#0000c8 38.07%,#0000d4 51.68%,#0000c8 56.12%,#0000c8 79.82%,#0000bf 81.04%,#00009b 82.72%,#00009f 85.78%,#000092 91.44%,#000092 94.95%,#0000ff 95.57%,#0034ff 96.33%,#007cff 97.09%,#0084ff 97.4%,#0084ff 98.01%,#0090ff 98.17%,#00a8ff 98.32%,#00ccff 98.47%,#02e8f4 98.62%,#16ffe1 98.78%,#2cffca 98.93%,#7dff7a 99.08%,#e4ff13 99.24%,#ffb600 99.39%,#ff7e00 99.54%,#ff5d00 100%)"></i>
<i style="left:211px;width:4px;background:linear-gradient(#00d4ff 0%,#00d4ff .76%,#00b8ff 1.83%,#0090ff 2.45%,#0044ff 3.36%,#0000ff 4.59%,#0000f3 5.05%,#0000b3 6.12%,#00008d 7.34%,#000096 9.02%,#0000b2 9.79%,#0000f6 11.01%,#0000ff 11.47%,#0000ff 12.84%,#0000e8 13.46%,#0000a4 14.68%,#000096 15.14%,#00008d 15.9%,#000092 17.13%,#0000a8 18.04%,#0000f6 19.42%,#0000ff 19.72%,#0006ff 20.64%,#0000fd 22.02%,#0000a8 23.55%,#000096 24.16%,#00008d 24.92%,#00008d 29.36%,#000096 31.96%,#00009b 32.42%,#0000ad 33.03%,#0000df 34.25%,#0000f1 35.02%,#0000ed 35.63%,#0000bf 36.85%,#0000c8 38.99%,#0000ce 51.99%,#0000c8 54.89%,#0000c8 79.82%,#0000bf 81.04%,#00009b 82.72%,#00009f 85.63%,#000092 91.44%,#000092 94.95%,#0000a4 95.11%,#0000fd 95.57%,#0003ff 95.72%,#0026ff 96.18%,#0064ff 96.79%,#007aff 97.09%,#0084ff 97.4%,#0084ff 98.01%,#008cff 98.17%,#00cbff 98.47%,#02e8f4 98.62%,#15fee2 98.78%,#2cffca 98.93%,#7dff7a 99.08%,#e1ff16 99.24%,#ffb600 99.39%,#ff7e00 99.54%,#ff6000 100%)"></i>
<i style="left:214px;width:6px;background:linear-gradient(#00d2ff 0%,#00cfff .92%,#00bcff 1.68%,#0084ff 2.6%,#0038ff 3.52%,#0000ff 4.59%,#0000fa 4.89%,#0000b2 6.12%,#00008d 7.34%,#00008d 8.26%,#00009b 9.17%,#0000bb 9.94%,#0000f1 10.86%,#0000ff 11.31%,#0000fe 13%,#00009f 14.83%,#00008d 15.9%,#000096 17.43%,#0000ae 18.2%,#0000f8 19.57%,#0000ff 20.03%,#0000fd 21.87%,#0000ae 23.39%,#000096 24.16%,#00008d 24.92%,#00008d 29.36%,#000096 31.96%,#00009f 32.57%,#0000b6 33.33%,#0000df 34.25%,#0000f1 35.02%,#0000ed 35.63%,#0000bf 36.85%,#0000c8 38.99%,#0000c8 79.82%,#0000bf 81.04%,#00009b 82.72%,#00009f 85.47%,#000092 91.28%,#000092 94.95%,#0000a4 95.11%,#0000f8 95.57%,#0000ff 95.72%,#0024ff 96.18%,#0070ff 96.94%,#0080ff 97.25%,#0080ff 98.01%,#008cff 98.17%,#00c8ff 98.47%,#02e8f4 98.62%,#13fce4 98.78%,#2cffcb 98.93%,#7dff7a 99.08%,#e1ff16 99.24%,#ffb600 99.39%,#ff8100 99.54%,#ff6000 100%)"></i>
<i style="left:219px;width:4px;background:linear-gradient(#00d0ff 0%,#00ccff .92%,#00b2ff 1.83%,#008cff 2.45%,#0040ff 3.36%,#0000ff 4.59%,#0000fa 4.89%,#0000b2 6.12%,#00008d 7.34%,#00008d 8.26%,#00009b 9.17%,#0000bb 9.94%,#0000f9 11.01%,#0000ff 11.31%,#0000ff 13%,#00009f 14.83%,#00008d 15.9%,#00008d 16.67%,#0000a1 17.89%,#0000b2 18.35%,#0000f1 19.57%,#0000ff 20.18%,#0000fc 21.71%,#0000a1 23.7%,#00008d 24.92%,#00008d 29.36%,#000096 31.96%,#00009b 32.42%,#0000ad 33.03%,#0000df 34.25%,#0000f1 35.02%,#0000ed 35.63%,#0000bf 36.85%,#0000c8 38.99%,#0000c8 79.82%,#0000bf 81.04%,#00009b 82.72%,#00009f 85.32%,#000092 91.28%,#000092 94.95%,#0000a4 95.11%,#0000f3 95.57%,#0000ff 95.72%,#0078ff 97.09%,#0080ff 97.4%,#0080ff 98.01%,#008cff 98.17%,#00e4f8 98.62%,#13fce4 98.78%,#29ffce 98.93%,#7aff7d 99.08%,#e1ff16 99.24%,#ffb800 99.39%,#ff8200 99.54%,#ff6000 100%)"></i>
<i style="left:222px;width:4px;background:linear-gradient(#00ccff 0%,#00c4ff 1.22%,#00b0ff 1.83%,#007fff 2.6%,#0036ff 3.52%,#0000ff 4.59%,#0000fa 4.89%,#0000b2 6.12%,#00008d 7.34%,#00008d 8.26%,#00009b 9.17%,#0000bb 9.94%,#0000fa 11.01%,#0000ff 11.31%,#0000ff 13%,#00009f 14.83%,#00008d 15.9%,#00008d 16.67%,#00009b 17.74%,#0000f7 19.88%,#0000ff 20.64%,#0000f7 21.71%,#0000a4 23.55%,#000092 24.31%,#00008d 24.92%,#00008d 29.36%,#000096 31.96%,#00009b 32.42%,#0000ad 33.03%,#0000df 34.25%,#0000f1 35.02%,#0000ed 35.63%,#0000bf 36.85%,#0000c8 38.99%,#0000c8 79.82%,#0000bf 81.04%,#00009b 82.72%,#00009f 85.02%,#000092 91.13%,#000092 94.95%,#0000bb 95.26%,#0000f0 95.57%,#0000ff 95.72%,#0006ff 95.87%,#0054ff 96.64%,#0078ff 97.09%,#0080ff 97.4%,#0080ff 98.01%,#0088ff 98.17%,#00e4f8 98.62%,#11fbe5 98.78%,#29ffce 98.93%,#7aff7d 99.08%,#deff19 99.24%,#ffb900 99.39%,#ff8200 99.54%,#ff6300 100%)"></i>
<i style="left:225px;width:4px;background:linear-gradient(#00caff 0%,#00c7ff .92%,#00aeff 1.83%,#0088ff 2.45%,#0034ff 3.52%,#0000ff 4.43%,#0000ff 4.59%,#0000f1 5.05%,#0000b2 6.12%,#00008d 7.34%,#00008d 8.26%,#00009b 9.17%,#0000bb 9.94%,#0000fa 11.01%,#0000ff 11.31%,#0000ff 13%,#00009f 14.83%,#00008d 15.9%,#00008d 16.67%,#00009b 17.74%,#0000a8 18.2%,#0000e8 19.57%,#0000fc 20.49%,#0000f6 21.56%,#0000e2 22.17%,#0000a8 23.39%,#000092 24.31%,#00008d 24.92%,#00008d 29.36%,#000096 31.96%,#00009b 32.42%,#0000ad 33.03%,#0000df 34.25%,#0000f1 35.02%,#0000ed 35.63%,#0000bf 36.85%,#0000c8 38.99%,#0000c8 79.82%,#0000bf 81.04%,#00009b 82.72%,#00009f 84.86%,#000092 91.13%,#000092 94.8%,#0000a4 95.11%,#0000ff 95.72%,#0004ff 95.87%,#0054ff 96.64%,#006cff 96.94%,#007cff 97.25%,#007cff 98.01%,#0088ff 98.17%,#00e4f8 98.62%,#0ff8e7 98.78%,#29ffce 98.93%,#7aff7d 99.08%,#deff19 99.24%,#ffb900 99.39%,#ff8400 99.54%,#ff6400 100%)"></i>
<i style="left:228px;width:4px;background:linear-gradient(#00c8ff 0%,#00c4ff .92%,#00acff 1.83%,#007cff 2.6%,#003cff 3.36%,#0000ff 4.43%,#0000ff 4.59%,#0000ff 4.74%,#0000b2 6.12%,#00008d 7.34%,#00008d 8.26%,#00009b 9.17%,#0000bb 9.94%,#0000fa 11.01%,#0000ff 11.31%,#0000ff 13%,#00009f 14.83%,#00008d 15.9%,#000096 17.58%,#0000ad 18.35%,#0000e3 19.57%,#0000f7 20.64%,#0000ed 21.71%,#0000ad 23.24%,#000096 24.01%,#00008d 24.92%,#00008d 29.36%,#000096 31.96%,#00009b 32.42%,#0000ad 33.03%,#0000df 34.25%,#0000f1 35.02%,#0000ed 35.63%,#0000bf 36.85%,#0000c8 38.99%,#0000c8 79.82%,#0000bf 81.04%,#00009b 82.72%,#00009f 84.56%,#000092 94.8%,#000096 94.95%,#0000bb 95.26%,#0000ff 95.72%,#0003ff 95.87%,#006cff 96.94%,#007bff 97.25%,#007cff 98.01%,#0088ff 98.17%,#00a0ff 98.32%,#00e0fb 98.62%,#0ff8e7 98.78%,#27ffd0 98.93%,#79ff7e 99.08%,#deff19 99.24%,#ffbb00 99.39%,#ff8600 99.54%,#ff6400 100%)"></i>
<i style="left:231px;width:4px;background:linear-gradient(#00c4ff 0%,#00c4ff .76%,#00b0ff 1.68%,#0084ff 2.45%,#0028ff 3.67%,#0000ff 4.43%,#0000ff 4.59%,#0000ff 4.74%,#0000b2 6.12%,#00008d 7.34%,#00008d 8.26%,#00009b 9.17%,#0000bb 9.94%,#0000fa 11.01%,#0000ff 11.31%,#0000ff 13%,#00009f 14.83%,#00008d 15.9%,#000096 17.58%,#0000b2 18.5%,#0000e3 19.72%,#0000f1 20.64%,#0000e8 21.71%,#0000b2 23.09%,#000096 24.01%,#00008d 24.92%,#00008d 29.36%,#000096 31.96%,#00009b 32.42%,#0000ad 33.03%,#0000df 34.25%,#0000f1 35.02%,#0000ed 35.63%,#0000bf 36.85%,#0000c8 38.99%,#0000c8 79.82%,#0000bf 81.04%,#00009b 82.72%,#00009f 83.94%,#000092 94.8%,#000096 94.95%,#0000bb 95.26%,#0000ff 95.72%,#0000ff 95.87%,#0060ff 96.79%,#0074ff 97.09%,#007bff 98.01%,#0084ff 98.17%,#00e0fb 98.62%,#0df6ea 98.78%,#26ffd1 98.93%,#77ff80 99.08%,#dcff1b 99.24%,#ffbd00 99.39%,#ff8600 99.54%,#ff6700 100%)"></i>
<i style="left:234px;width:5px;background:linear-gradient(#00c2ff 0%,#00c0ff .76%,#00aeff 1.68%,#0078ff 2.6%,#0030ff 3.52%,#0000ff 4.43%,#0000ff 4.74%,#0000a4 6.42%,#00008d 7.34%,#00008d 8.26%,#00009b 9.17%,#0000bb 9.94%,#0000fa 11.01%,#0000ff 11.31%,#0000ff 13%,#00009f 14.83%,#00008d 15.9%,#00008d 16.82%,#00009c 17.89%,#0000d9 19.57%,#0000ea 20.49%,#0000e6 21.56%,#00009f 23.55%,#00008d 24.77%,#000092 31.19%,#00009b 32.42%,#0000b6 33.33%,#0000e3 34.4%,#0000f1 35.17%,#0000e8 35.78%,#0000bf 36.85%,#0000c8 38.99%,#0000c8 79.82%,#0000bf 81.04%,#00009b 82.72%,#000092 94.8%,#0000a8 95.11%,#0000ff 95.72%,#0000ff 95.87%,#0050ff 96.64%,#0068ff 96.94%,#0076ff 97.25%,#0078ff 98.01%,#0082ff 98.17%,#00dcfe 98.62%,#0bf4eb 98.78%,#24ffd2 98.93%,#76ff81 99.08%,#dbff1c 99.24%,#ffbe00 99.39%,#ff8900 99.54%,#ff6800 100%)"></i>
<i style="left:238px;width:4px;background:linear-gradient(#00c0ff 0%,#00c0ff .61%,#00abff 1.68%,#0080ff 2.45%,#0038ff 3.36%,#0000ff 4.43%,#0000fd 4.74%,#0000d6 5.5%,#0000b6 5.96%,#0000a4 6.42%,#00008d 7.34%,#00008d 8.26%,#00009b 9.17%,#0000bb 9.94%,#0000fa 11.01%,#0000ff 11.31%,#0000ff 13%,#00009f 14.83%,#00008d 15.9%,#00008d 16.82%,#00009b 17.89%,#0000d9 19.72%,#0000e5 20.49%,#0000e5 21.1%,#0000d9 21.87%,#00009b 23.7%,#00008d 24.77%,#000092 31.19%,#00009b 32.42%,#0000ed 34.86%,#0000ed 35.47%,#0000bf 36.85%,#0000c8 38.99%,#0000c8 79.82%,#0000bf 81.04%,#00009b 82.72%,#000092 94.8%,#0000aa 95.11%,#0000ff 95.72%,#0000ff 95.87%,#0050ff 96.64%,#0067ff 96.94%,#0074ff 97.25%,#0076ff 98.01%,#0080ff 98.17%,#00d8ff 98.62%,#09f0ee 98.78%,#23ffd4 98.93%,#73ff83 99.08%,#d7ff1f 99.24%,#ffc100 99.39%,#ff8a00 99.54%,#ff6c00 100%)"></i>
<i style="left:241px;width:5px;background:linear-gradient(#00bcff 0%,#00bcff .76%,#00a8ff 1.68%,#0073ff 2.6%,#002cff 3.52%,#0000ff 4.43%,#0000ed 5.05%,#0000a8 6.27%,#00008d 7.34%,#00008d 8.26%,#00009b 9.17%,#0000bb 9.94%,#0000fa 11.01%,#0000ff 11.31%,#0000ff 13%,#00009f 14.83%,#00008d 15.9%,#000096 17.74%,#0000d4 19.72%,#0000de 20.64%,#0000d7 21.71%,#000096 23.85%,#00008d 24.77%,#000092 31.19%,#00009b 32.42%,#0000bb 33.49%,#0000d6 34.1%,#0000ed 35.02%,#0000e8 35.63%,#0000bf 36.85%,#0000c8 38.99%,#0000c8 79.66%,#0000bf 81.04%,#00009b 82.72%,#000092 94.8%,#0000ad 95.11%,#0000fc 95.72%,#0000ff 95.87%,#0040ff 96.48%,#006cff 97.09%,#0073ff 98.01%,#007cff 98.17%,#00d6ff 98.62%,#06eef0 98.78%,#20ffd7 98.93%,#72ff85 99.08%,#d7ff20 99.24%,#ffc300 99.39%,#ff8d00 99.54%,#ff6d00 100%)"></i>
<i style="left:245px;width:4px;background:linear-gradient(#00bbff 0%,#00b8ff .92%,#00a7ff 1.68%,#007cff 2.45%,#0034ff 3.36%,#0000ff 4.43%,#0000fa 4.74%,#0000a8 6.27%,#00008d 7.34%,#00008d 8.26%,#00009b 9.17%,#0000bb 9.94%,#0000f1 10.86%,#0000ff 11.31%,#0000ff 13%,#00009f 14.83%,#00008d 15.9%,#000096 17.74%,#0000ca 19.57%,#0000d7 20.34%,#0000d3 21.56%,#00009f 23.39%,#00008d 24.77%,#000092 31.19%,#00009b 32.42%,#0000aa 33.03%,#0000df 34.4%,#0000eb 35.17%,#0000df 35.93%,#0000bf 36.85%,#0000c8 38.99%,#0000c8 79.66%,#0000bf 81.04%,#00009b 82.72%,#000092 94.8%,#0000ad 95.11%,#0000fc 95.72%,#0000ff 95.87%,#0030ff 96.33%,#0063ff 96.94%,#006fff 97.25%,#0070ff 98.01%,#0078ff 98.17%,#00d0ff 98.62%,#03eaf3 98.78%,#1effd8 98.93%,#70ff87 99.08%,#d4ff23 99.24%,#ffc400 99.39%,#ff9100 99.54%,#ff6f00 100%)"></i>
<i style="left:248px;width:4px;background:linear-gradient(#00b8ff 0%,#00b8ff .76%,#00a4ff 1.68%,#0070ff 2.6%,#0034ff 3.36%,#000aff 4.13%,#0000ff 4.43%,#0000fa 4.74%,#0000a8 6.27%,#00008d 7.34%,#00008d 8.26%,#00009b 9.17%,#0000bb 9.94%,#0000f1 10.86%,#0000ff 11.31%,#0000ff 13%,#00009f 14.83%,#00008d 15.9%,#000092 17.43%,#00009b 18.04%,#0000c5 19.57%,#0000d3 20.64%,#0000ce 21.56%,#00009b 23.55%,#00008d 24.77%,#000092 31.19%,#00009f 32.72%,#0000d1 34.1%,#0000e7 35.02%,#0000df 35.78%,#0000bf 36.7%,#0000c8 39.14%,#0000c8 79.66%,#0000bf 81.04%,#00009b 82.72%,#000092 94.65%,#000093 94.8%,#00009f 94.95%,#0000ff 95.72%,#0000ff 95.87%,#004cff 96.64%,#0068ff 97.09%,#006fff 97.4%,#006cff 98.01%,#0076ff 98.17%,#00ccff 98.62%,#02e7f5 98.78%,#1cffdb 98.93%,#6fff88 99.08%,#d3ff24 99.24%,#ffc800 99.39%,#ff9200 99.54%,#ff7200 100%)"></i>
<i style="left:251px;width:4px;background:linear-gradient(#00b8ff 0%,#00b4ff .92%,#00a3ff 1.68%,#0078ff 2.45%,#0020ff 3.67%,#0000ff 4.28%,#0000ff 4.43%,#0000fa 4.74%,#0000ad 6.12%,#00008d 7.34%,#000096 9.02%,#0000b2 9.79%,#0000e8 10.7%,#0000ff 11.31%,#0000ff 12.84%,#0000e8 13.46%,#0000a4 14.68%,#000096 15.14%,#00008d 15.9%,#000092 17.58%,#0000c7 19.88%,#0000cd 20.8%,#0000c7 21.71%,#00009f 23.24%,#00008d 24.62%,#000092 31.19%,#00009f 32.72%,#0000da 34.56%,#0000e2 35.02%,#0000da 35.78%,#0000bf 36.7%,#0000c8 39.45%,#0000c8 79.51%,#0000c4 80.58%,#00009b 82.72%,#000092 94.65%,#000096 94.8%,#0000b2 95.11%,#0000ff 95.72%,#0000ff 95.87%,#003cff 96.48%,#005fff 96.94%,#006bff 97.25%,#006bff 98.01%,#0072ff 98.17%,#00e3f9 98.78%,#1affdd 98.93%,#6dff8a 99.08%,#d1ff26 99.24%,#ffc900 99.39%,#ff9400 99.54%,#ff7300 100%)"></i>
<i style="left:254px;width:3px;background:linear-gradient(#00b4ff 0%,#00b4ff .76%,#009cff 1.83%,#0078ff 2.45%,#0028ff 3.52%,#0000ff 4.28%,#0000ff 4.43%,#0000fa 4.74%,#0000ad 6.12%,#00008d 7.19%,#00008d 8.26%,#000096 9.02%,#0000b2 9.79%,#0000f6 11.01%,#0000ff 11.47%,#0000ff 12.84%,#0000f6 13.15%,#0000a4 14.68%,#000096 15.14%,#00008d 15.9%,#000092 17.58%,#0000bb 19.42%,#0000c8 20.49%,#0000c6 21.41%,#0000bb 22.17%,#00009b 23.39%,#00008d 24.62%,#000092 31.19%,#00009b 32.57%,#0000d1 34.4%,#0000dd 35.17%,#0000d8 35.63%,#0000bf 36.54%,#0000c8 40.06%,#0000c8 79.36%,#0000bf 80.89%,#00009b 82.57%,#000092 94.65%,#0000a4 94.95%,#0000ff 95.72%,#0000ff 95.87%,#003cff 96.48%,#0064ff 97.09%,#0068ff 98.01%,#0070ff 98.17%,#0084ff 98.32%,#00e0fb 98.78%,#19ffde 98.93%,#6dff8a 99.08%,#d1ff26 99.24%,#ffcc00 99.39%,#ff9600 99.54%,#ff7300 100%)"></i>
<i style="left:256px;width:4px;background:linear-gradient(#00b4ff 0%,#00b4ff .61%,#00a0ff 1.68%,#006cff 2.6%,#0030ff 3.36%,#0000ff 4.28%,#0000ff 4.43%,#0000ff 4.59%,#0000e3 5.2%,#0000ad 6.12%,#00008d 7.19%,#00008d 8.26%,#000096 9.02%,#0000b2 9.79%,#0000ed 10.86%,#0000ff 11.31%,#0000ff 12.84%,#0000a4 14.68%,#000096 15.14%,#00008d 15.9%,#000092 17.58%,#0000c2 20.34%,#0000bc 21.87%,#00009b 23.39%,#00008d 24.62%,#000092 31.19%,#00009f 32.87%,#0000c7 34.25%,#0000d4 35.02%,#0000ce 35.78%,#0000be 36.39%,#0000c7 41.74%,#0000c7 78.59%,#0000bf 80.89%,#000099 82.87%,#000092 94.65%,#0000a5 94.95%,#0000ff 95.72%,#0000ff 95.87%,#003cff 96.48%,#005cff 96.94%,#0067ff 97.25%,#006bff 98.17%,#009bff 98.47%,#00dcfe 98.78%,#19ffde 98.93%,#6dff8a 99.08%,#ceff29 99.24%,#ffcc00 99.39%,#ff9800 99.54%,#ff7700 100%)"></i>
<i style="left:259px;width:3px;background:linear-gradient(#00b2ff 0%,#00acff 1.07%,#0098ff 1.83%,#0060ff 2.75%,#0030ff 3.36%,#0000ff 4.28%,#0000ff 4.43%,#0000ff 4.59%,#0000e3 5.2%,#0000ad 6.12%,#00008d 7.19%,#00008d 8.26%,#000096 9.02%,#0000b2 9.79%,#0000f1 11.01%,#0000ff 11.62%,#0000ff 12.69%,#0000e3 13.46%,#0000a4 14.68%,#000096 15.14%,#00008d 15.9%,#000092 17.74%,#0000b6 19.57%,#0000bf 20.49%,#0000bb 21.71%,#00009b 23.24%,#00008d 24.62%,#000092 31.19%,#00009f 33.03%,#0000ca 34.86%,#0000ca 35.47%,#0000bb 36.39%,#0000c4 38.07%,#0000c4 80.12%,#0000bb 81.19%,#000096 82.87%,#00009b 85.47%,#00008f 94.65%,#0000b6 95.11%,#0000ff 95.72%,#0000ff 95.87%,#0048ff 96.64%,#005aff 96.94%,#0066ff 97.4%,#0068ff 98.17%,#007aff 98.32%,#00d8ff 98.78%,#16ffe1 98.93%,#6aff8d 99.08%,#ceff29 99.24%,#ffce00 99.39%,#ff9800 99.54%,#ff7700 100%)"></i>
<i style="left:261px;width:3px;background:linear-gradient(#00b0ff 0%,#00acff 1.07%,#0090ff 1.99%,#0014ff 3.82%,#0000ff 4.43%,#0000ff 4.59%,#0000da 5.35%,#0000ad 6.12%,#00008d 7.19%,#00008d 8.26%,#000096 9.02%,#0000a8 9.63%,#0000f6 11.16%,#0000ff 11.47%,#0000ff 11.93%,#0000ff 12.69%,#0000da 13.61%,#0000a8 14.53%,#000096 15.14%,#00008d 15.9%,#000092 17.74%,#0000bb 20.34%,#0000b8 21.56%,#00008d 24.46%,#00008d 29.51%,#00009b 32.72%,#0000c1 34.71%,#0000bb 36.7%,#0000c4 39.14%,#0000c4 79.66%,#0000bb 81.04%,#000096 82.87%,#00009b 85.02%,#00008f 94.5%,#000092 94.65%,#0000a8 94.95%,#0000ff 95.72%,#0000ff 95.87%,#0020ff 96.18%,#0050ff 96.79%,#0060ff 97.09%,#0064ff 98.17%,#008eff 98.47%,#00d4ff 98.78%,#16ffe1 98.93%,#6aff8d 99.08%,#ceff29 99.24%,#ffd000 99.39%,#ff9c00 99.54%,#ff8900 99.69%,#ff7700 100%)"></i>
<i style="left:263px;width:3px;background:linear-gradient(#00b0ff 0%,#00b0ff .61%,#009cff 1.68%,#0068ff 2.6%,#0024ff 3.52%,#0000ff 4.28%,#0000ff 4.59%,#0000ad 6.12%,#00008d 7.19%,#00008d 8.26%,#000096 9.02%,#0000a8 9.63%,#0000e8 10.86%,#0000ff 11.62%,#0000ff 12.54%,#0000f8 12.84%,#0000e8 13.3%,#0000a8 14.53%,#000096 15.14%,#00008d 15.9%,#000092 17.74%,#0000b6 20.18%,#0000b6 21.41%,#000096 23.39%,#00008d 24.46%,#00008d 29.51%,#00009b 32.87%,#0000bd 35.17%,#0000b6 36.09%,#0000bf 37.92%,#0000c1 42.97%,#0000bf 80.28%,#0000b2 81.5%,#000096 82.87%,#00009b 84.56%,#00008d 94.5%,#000092 94.65%,#0000ab 94.95%,#0000ff 95.72%,#0000ff 95.87%,#0020ff 96.18%,#0050ff 96.79%,#0060ff 97.09%,#0060ff 98.17%,#0086ff 98.47%,#00d2ff 98.78%,#16ffe1 98.93%,#6aff8d 99.08%,#ceff29 99.24%,#ffd000 99.39%,#ff9c00 99.54%,#ff7900 100%)"></i>
<i style="left:265px;width:3px;background:linear-gradient(#00acff 0%,#00acff .76%,#00a0ff 1.53%,#0094ff 1.83%,#0068ff 2.6%,#0024ff 3.52%,#0000ff 4.28%,#0000ff 4.59%,#0000ad 6.12%,#00008d 7.19%,#00008d 8.26%,#000096 9.02%,#0000a8 9.63%,#0000ed 11.01%,#0000fc 11.77%,#0000f6 12.84%,#0000df 13.46%,#0000a8 14.53%,#000096 15.14%,#00008d 15.9%,#000092 17.89%,#0000b2 20.03%,#0000b2 21.56%,#000092 23.7%,#00008d 24.46%,#00008d 29.66%,#00009b 33.03%,#0000b4 34.86%,#0000bd 39.14%,#0000bd 79.66%,#0000b2 81.35%,#000096 82.72%,#00008d 94.5%,#000092 94.65%,#0000bb 95.11%,#0000ff 95.72%,#0000ff 95.87%,#0020ff 96.18%,#0058ff 96.94%,#0064ff 97.4%,#005eff 98.17%,#0080ff 98.47%,#00ceff 98.78%,#16ffe1 98.93%,#6bff8c 99.08%,#ceff29 99.24%,#ffd000 99.39%,#ff9c00 99.54%,#ff7a00 100%)"></i>
<i style="left:267px;width:3px;background:linear-gradient(#00acff 0%,#00acff .76%,#0094ff 1.83%,#005cff 2.75%,#002cff 3.36%,#0000ff 4.28%,#0000ff 4.59%,#0000ad 6.12%,#00008d 7.19%,#00008d 8.26%,#000096 9.02%,#0000ad 9.79%,#0000e3 10.86%,#0000fa 11.77%,#0000f6 12.69%,#0000e3 13.3%,#0000ad 14.37%,#000096 15.14%,#00008d 15.9%,#00008d 17.28%,#0000af 20.49%,#0000ab 21.87%,#00008d 24.31%,#00008d 29.82%,#000096 32.57%,#0000ab 34.71%,#0000b8 39.14%,#0000b8 79.66%,#0000af 81.19%,#000096 82.72%,#00008d 94.5%,#0000ad 94.95%,#0000ff 95.72%,#0000ff 95.87%,#0020ff 96.18%,#0058ff 96.94%,#0060ff 97.25%,#005aff 98.17%,#0062ff 98.32%,#0076ff 98.47%,#00caff 98.78%,#13fce4 98.93%,#6dff8a 99.08%,#ceff29 99.24%,#ffd000 99.39%,#ff9c00 99.54%,#ff7a00 100%)"></i>
<i style="left:269px;width:3px;background:linear-gradient(#00acff 0%,#00acff .61%,#0098ff 1.68%,#0070ff 2.45%,#002cff 3.36%,#0000ff 4.28%,#0000fc 4.59%,#0000da 5.35%,#0000b2 5.96%,#00008d 7.19%,#00008d 8.26%,#000096 9.02%,#0000ad 9.79%,#0000ed 11.16%,#0000f6 11.62%,#0000f6 12.54%,#0000ed 13%,#0000ad 14.37%,#000096 15.14%,#00008d 15.9%,#000092 18.04%,#0000ab 20.18%,#0000ab 21.41%,#00008d 24.31%,#00008d 29.97%,#0000ab 35.78%,#0000b2 39.3%,#0000b2 79.51%,#0000ab 81.19%,#000096 82.57%,#00008d 94.5%,#0000af 94.95%,#0000ff 95.72%,#0002ff 95.87%,#0044ff 96.64%,#005cff 97.09%,#0060ff 97.86%,#0056ff 98.17%,#005eff 98.32%,#006eff 98.47%,#00c6ff 98.78%,#13fce4 98.93%,#ceff29 99.24%,#ffd300 99.39%,#ff9f00 99.54%,#ff8d00 99.69%,#ff7a00 100%)"></i>
<i style="left:271px;width:3px;background:linear-gradient(#00a8ff 0%,#00a4ff 1.07%,#0090ff 1.83%,#0064ff 2.6%,#0034ff 3.21%,#0000ff 4.28%,#0000e8 5.05%,#0000b2 5.96%,#00008d 7.19%,#00008d 8.26%,#000096 9.02%,#0000b2 9.94%,#0000e3 11.01%,#0000f3 11.77%,#0000ed 12.84%,#0000a2 14.68%,#00008d 15.9%,#000092 18.04%,#0000a6 20.03%,#0000a6 21.56%,#00008d 24.31%,#00008d 30.28%,#0000ab 38.07%,#0000ab 80.12%,#000096 82.42%,#00008d 94.5%,#0000bf 95.11%,#0000ff 95.72%,#0004ff 95.87%,#0044ff 96.64%,#005cff 97.09%,#0060ff 97.86%,#0052ff 98.17%,#0056ff 98.32%,#0066ff 98.47%,#008eff 98.62%,#00c2ff 98.78%,#13fce4 98.93%,#ceff29 99.24%,#ffd300 99.39%,#ff9f00 99.54%,#ff8d00 99.69%,#ff7a00 100%)"></i>
<i style="left:273px;width:3px;background:linear-gradient(#00a8ff 0%,#00a4ff 1.07%,#0090ff 1.83%,#0064ff 2.6%,#0018ff 3.67%,#0000ff 4.28%,#0000e8 5.05%,#0000b2 5.96%,#00008d 7.19%,#00008d 8.26%,#00009b 9.33%,#0000da 10.86%,#0000ed 11.47%,#0000f1 12.08%,#0000ed 12.69%,#0000da 13.3%,#00009b 14.83%,#00008d 15.9%,#00008d 17.43%,#0000a4 20.34%,#00009f 22.17%,#00008d 24.16%,#00008d 30.58%,#0000a2 36.54%,#0000a4 40.37%,#0000a4 79.05%,#0000a2 80.89%,#000096 82.11%,#00008d 94.5%,#0000b2 94.95%,#0000ff 95.72%,#0004ff 95.87%,#0044ff 96.64%,#005cff 97.09%,#0060ff 97.86%,#004eff 98.17%,#004eff 98.32%,#005aff 98.47%,#0084ff 98.62%,#00beff 98.78%,#13fce4 98.93%,#ceff29 99.24%,#ffd300 99.39%,#ff9f00 99.54%,#ff8d00 99.69%,#ff7a00 100%)"></i>
<i style="left:275px;width:3px;background:linear-gradient(#00a8ff 0%,#00a8ff .61%,#0094ff 1.68%,#006cff 2.45%,#0020ff 3.52%,#0000ff 4.28%,#0000e8 5.05%,#0000b2 5.96%,#00008d 7.19%,#00008d 8.26%,#00009b 9.33%,#0000dd 11.01%,#0000ed 11.93%,#0000e6 12.84%,#00009b 14.83%,#00008d 15.9%,#00008d 17.58%,#00009f 20.03%,#00009f 21.56%,#00008d 24.01%,#00008d 31.19%,#00009d 37.31%,#00009d 80.43%,#000094 82.11%,#000096 87.77%,#00008d 94.34%,#00009b 94.65%,#0000ff 95.72%,#0004ff 95.87%,#0044ff 96.64%,#005cff 97.09%,#0060ff 97.86%,#0046ff 98.32%,#0050ff 98.47%,#007aff 98.62%,#00baff 98.78%,#13fce4 98.93%,#ceff29 99.24%,#ffd300 99.39%,#ff9f00 99.54%,#ff8d00 99.69%,#ff7900 100%)"></i>
<i style="left:277px;width:3px;background:linear-gradient(#00a4ff 0%,#00a4ff .76%,#0098ff 1.53%,#006cff 2.45%,#0028ff 3.36%,#0000ff 4.13%,#0000ff 4.28%,#0000e8 5.05%,#0000b2 5.96%,#00008d 7.19%,#000096 9.17%,#0000ad 9.94%,#0000da 11.01%,#0000e8 11.77%,#0000df 13%,#0000ad 14.22%,#000096 14.98%,#00008d 15.9%,#00008d 17.74%,#00009b 19.72%,#00009b 21.87%,#00008d 23.85%,#00008d 31.8%,#000098 37.92%,#000098 80.28%,#000092 81.96%,#000096 87.46%,#00008d 94.34%,#00009b 94.65%,#0000ff 95.72%,#0004ff 95.87%,#0044ff 96.64%,#0060ff 97.4%,#0060ff 97.86%,#0044ff 98.17%,#003eff 98.32%,#0046ff 98.47%,#0072ff 98.62%,#00b6ff 98.78%,#13fce4 98.93%,#ceff29 99.24%,#ffd300 99.39%,#ff9f00 99.54%,#ff8b00 99.69%,#ff7700 100%)"></i>
<i style="left:279px;width:2px;background:linear-gradient(#00a4ff 0%,#00a4ff .76%,#008cff 1.83%,#0060ff 2.6%,#0028ff 3.36%,#0000ff 4.13%,#0000ff 4.28%,#0000e8 5.05%,#0000b2 5.96%,#00008d 7.19%,#00008d 8.41%,#000096 9.17%,#0000b2 10.09%,#0000c8 10.55%,#0000e3 11.62%,#0000df 12.84%,#000096 14.98%,#00008d 15.75%,#00008d 17.89%,#000096 19.11%,#000096 22.48%,#00008d 23.7%,#00008d 32.42%,#000096 36.39%,#000096 87.31%,#00008d 94.34%,#0000a8 94.8%,#0000f6 95.57%,#0000ff 95.72%,#0004ff 95.87%,#0044ff 96.64%,#0060ff 97.4%,#0060ff 97.86%,#0040ff 98.17%,#0038ff 98.32%,#003cff 98.47%,#006cff 98.62%,#00b0ff 98.78%,#13fce4 98.93%,#d1ff26 99.24%,#ffd300 99.39%,#ff9f00 99.54%,#ff8900 99.69%,#ff7700 100%)"></i>
<i style="left:280px;width:3px;background:linear-gradient(#00a4ff 0%,#00a4ff .61%,#0090ff 1.68%,#0060ff 2.6%,#0028ff 3.36%,#0000ff 4.13%,#0000ff 4.28%,#0000fa 4.59%,#0000df 5.2%,#0000b2 5.96%,#00008d 7.19%,#00008d 8.41%,#000096 9.17%,#0000d8 11.16%,#0000e1 11.77%,#0000df 12.69%,#000096 14.98%,#00008d 15.75%,#000096 20.03%,#00008d 23.55%,#000096 82.57%,#00008d 94.34%,#000092 94.5%,#0000ab 94.8%,#0000e8 95.41%,#0000ff 95.72%,#0044ff 96.64%,#0060ff 97.4%,#0060ff 97.86%,#0032ff 98.32%,#0036ff 98.47%,#0062ff 98.62%,#00aeff 98.78%,#13fce4 98.93%,#d1ff26 99.24%,#ffd300 99.39%,#ff9f00 99.54%,#ff8900 99.69%,#ff7700 100%)"></i>
<i style="left:282px;width:3px;background:linear-gradient(#00a2ff 0%,#00a0ff .92%,#0090ff 1.68%,#0068ff 2.45%,#0030ff 3.21%,#0000ff 4.13%,#0000ff 4.28%,#0000fa 4.59%,#0000df 5.2%,#0000b2 5.96%,#00008d 7.19%,#00008d 8.41%,#000096 9.17%,#0000a4 9.79%,#0000d1 11.01%,#0000dd 11.77%,#0000d8 12.84%,#00009f 14.53%,#00008d 15.75%,#000096 82.72%,#00008d 94.34%,#00009f 94.65%,#0000f8 95.57%,#0000ff 95.72%,#0044ff 96.64%,#005cff 97.25%,#005cff 97.86%,#002aff 98.32%,#002aff 98.47%,#005aff 98.62%,#00aaff 98.78%,#13fce4 98.93%,#d1ff26 99.24%,#ffd100 99.39%,#ff9f00 99.54%,#ff8900 99.69%,#ff7700 100%)"></i>
<i style="left:284px;width:3px;background:linear-gradient(#00a0ff 0%,#00a0ff .76%,#008eff 1.68%,#0068ff 2.45%,#001eff 3.52%,#0000ff 4.13%,#0000ff 4.28%,#0000fa 4.59%,#0000df 5.2%,#0000b2 5.96%,#00008d 7.19%,#00008d 8.41%,#00009b 9.48%,#0000cd 11.01%,#0000d8 11.77%,#0000d4 12.84%,#00009b 14.68%,#00008d 15.75%,#00008f 81.04%,#000096 82.87%,#00008d 94.34%,#00009f 94.65%,#0000fa 95.57%,#0000ff 95.72%,#0044ff 96.64%,#005cff 97.25%,#005cff 97.86%,#0050ff 98.01%,#0022ff 98.32%,#001eff 98.47%,#0050ff 98.62%,#00a6ff 98.78%,#13fce4 98.93%,#d1ff26 99.24%,#ffd000 99.39%,#ff9f00 99.54%,#ff8900 99.69%,#ff7700 100%)"></i>
<i style="left:286px;width:3px;background:linear-gradient(#00a0ff 0%,#00a0ff .61%,#0088ff 1.83%,#0070ff 2.29%,#001cff 3.52%,#0000ff 4.13%,#0000ff 4.28%,#0000ff 4.43%,#0000df 5.2%,#0000b2 5.96%,#00009f 6.42%,#00008d 7.19%,#00008d 8.41%,#000096 9.33%,#0000cd 11.16%,#0000d4 11.77%,#0000cd 13%,#000096 14.83%,#00008d 15.75%,#00008d 81.19%,#000096 83.03%,#00008d 94.34%,#0000ad 94.8%,#0000fa 95.57%,#0000ff 95.72%,#0044ff 96.64%,#005cff 97.25%,#005cff 97.86%,#004eff 98.01%,#001aff 98.32%,#0016ff 98.47%,#0046ff 98.62%,#00a2ff 98.78%,#16ffe1 98.93%,#7aff7d 99.08%,#d1ff26 99.24%,#ffd000 99.39%,#ffa300 99.54%,#ff8900 99.69%,#ff7700 100%)"></i>
<i style="left:288px;width:3px;background:linear-gradient(#009eff 0%,#009cff .92%,#008cff 1.68%,#005cff 2.6%,#0024ff 3.36%,#0004ff 3.98%,#0000ff 4.28%,#0000ff 4.43%,#0000df 5.2%,#0000b2 5.96%,#00009f 6.42%,#00008d 7.19%,#000092 9.02%,#0000a4 9.94%,#0000c1 10.86%,#0000cf 11.77%,#0000c8 13%,#000096 14.83%,#00008d 15.75%,#00008d 81.19%,#000096 83.33%,#00008d 94.19%,#00008f 94.34%,#0000a4 94.65%,#0000fa 95.57%,#0000ff 95.72%,#0044ff 96.64%,#005cff 97.25%,#005cff 97.86%,#004cff 98.01%,#0012ff 98.32%,#000aff 98.47%,#003eff 98.62%,#009eff 98.78%,#16ffe1 98.93%,#d4ff23 99.24%,#ffd000 99.39%,#ffa300 99.54%,#ff8900 99.69%,#ff7700 100%)"></i>
<i style="left:290px;width:3px;background:linear-gradient(#009cff 0%,#009cff .76%,#008cff 1.68%,#0064ff 2.45%,#0024ff 3.36%,#0000ff 4.13%,#0000ff 4.43%,#0000ed 4.89%,#0000a4 6.27%,#00008d 7.19%,#000092 9.02%,#00009b 9.63%,#0000c1 11.01%,#0000ca 11.77%,#0000c1 13.15%,#00009b 14.53%,#00008d 15.75%,#00008d 81.19%,#000094 83.79%,#00008d 94.19%,#0000a4 94.65%,#0000fa 95.57%,#0008ff 95.87%,#0044ff 96.64%,#005cff 97.25%,#005cff 97.86%,#004cff 98.01%,#000aff 98.32%,#0002ff 98.47%,#0036ff 98.62%,#009aff 98.78%,#16ffe1 98.93%,#7bff7b 99.08%,#d4ff23 99.24%,#ffd000 99.39%,#ffa300 99.54%,#ff8900 99.69%,#ff7500 100%)"></i>
<i style="left:292px;width:3px;background:linear-gradient(#009cff 0%,#009cff .61%,#0084ff 1.83%,#0064ff 2.45%,#002cff 3.21%,#0000ff 4.13%,#0000ff 4.43%,#0000ed 4.89%,#0000a4 6.27%,#00008d 7.19%,#000092 9.02%,#0000bb 10.86%,#0000c6 11.77%,#0000bf 13%,#00009b 14.53%,#00008d 15.6%,#00008d 94.19%,#0000b2 94.8%,#0000ff 95.57%,#0008ff 95.87%,#0044ff 96.64%,#005cff 97.25%,#005cff 97.86%,#004cff 98.01%,#0006ff 98.32%,#0000ff 98.47%,#0030ff 98.62%,#0096ff 98.78%,#16ffe1 98.93%,#7dff7a 99.08%,#d4ff23 99.24%,#ffd000 99.39%,#ffa300 99.54%,#ff8900 99.69%,#ff7300 100%)"></i>
<i style="left:294px;width:3px;background:linear-gradient(#009cff 0%,#0098ff .92%,#0088ff 1.68%,#0074ff 2.14%,#002cff 3.21%,#0000ff 4.13%,#0000ff 4.43%,#0000d6 5.35%,#0000a8 6.12%,#00008d 7.19%,#000092 9.17%,#0000b6 10.86%,#0000c1 11.77%,#0000bf 12.69%,#000096 14.68%,#00008d 15.6%,#00008d 94.19%,#00009b 94.5%,#0000ff 95.57%,#0000ff 95.72%,#0044ff 96.64%,#005cff 97.25%,#005cff 97.86%,#0048ff 98.01%,#0000ff 98.32%,#0000ff 98.47%,#002aff 98.62%,#0094ff 98.78%,#16ffe1 98.93%,#7dff7a 99.08%,#d4ff23 99.24%,#ffd000 99.39%,#ffa300 99.54%,#ff8900 99.69%,#ff7300 100%)"></i>
<i style="left:296px;width:3px;background:linear-gradient(#0098ff 0%,#0098ff .76%,#0088ff 1.68%,#0058ff 2.6%,#001aff 3.52%,#0000ff 4.13%,#0000f1 4.74%,#0000d6 5.35%,#0000a8 6.12%,#00008d 7.19%,#000092 9.17%,#0000b6 11.01%,#0000bd 11.77%,#0000b6 13.15%,#00009b 14.37%,#00008d 15.6%,#00008d 94.19%,#0000a8 94.65%,#0000ff 95.57%,#0000ff 95.72%,#0044ff 96.64%,#005cff 97.25%,#005cff 97.86%,#0048ff 98.01%,#0000ff 98.32%,#0000fc 98.47%,#0024ff 98.62%,#0090ff 98.78%,#16ffe1 98.93%,#7dff7a 99.08%,#d4ff23 99.24%,#ffd000 99.39%,#ffa300 99.54%,#ff8900 99.69%,#ff7300 100%)"></i>
<i style="left:298px;width:4px;background:linear-gradient(#0098ff 0%,#0094ff 1.07%,#0080ff 1.83%,#0057ff 2.6%,#0020ff 3.36%,#0000ff 4.13%,#0000f1 4.74%,#0000a8 6.12%,#00008d 7.19%,#000092 9.17%,#0000b8 11.62%,#0000b3 13%,#000096 14.53%,#00008d 15.6%,#00008d 94.19%,#0000b6 94.8%,#0000ff 95.57%,#0000ff 95.72%,#004cff 96.79%,#005cff 97.4%,#005cff 97.86%,#0048ff 98.01%,#001eff 98.17%,#0000ff 98.32%,#0000f4 98.47%,#001fff 98.62%,#008fff 98.78%,#16ffe1 98.93%,#80ff77 99.08%,#d4ff23 99.24%,#ffd000 99.39%,#ffa300 99.54%,#ff8900 99.69%,#ff7300 100%)"></i>
<i style="left:301px;width:4px;background:linear-gradient(#0097ff 0%,#0094ff .92%,#007fff 1.83%,#004cff 2.75%,#0020ff 3.36%,#0000ff 3.98%,#0000ff 4.13%,#0000e3 5.05%,#0000a8 6.12%,#00008d 7.19%,#000092 9.33%,#0000b0 11.47%,#0000b0 12.69%,#00008d 15.44%,#00008d 94.19%,#0000c5 94.95%,#0000ff 95.57%,#0000ff 95.72%,#004cff 96.79%,#005cff 97.4%,#005cff 97.86%,#0047ff 98.01%,#001bff 98.17%,#0000ff 98.32%,#0000eb 98.47%,#001aff 98.62%,#008cff 98.78%,#15fee2 98.93%,#80ff77 99.08%,#d4ff23 99.24%,#ffd200 99.39%,#ffa300 99.54%,#ff8900 99.69%,#ff7300 100%)"></i>
<i style="left:304px;width:4px;background:linear-gradient(#0094ff 0%,#0094ff .76%,#0084ff 1.68%,#0054ff 2.6%,#0028ff 3.21%,#0000ff 3.98%,#0000ff 4.13%,#0000e3 5.05%,#0000a8 6.12%,#00008d 7.19%,#000092 9.48%,#0000ab 11.62%,#0000aa 12.84%,#00008d 15.44%,#00008d 94.19%,#0000ad 94.65%,#0000ff 95.57%,#0000ff 95.72%,#0044ff 96.64%,#0058ff 97.25%,#0058ff 97.86%,#0044ff 98.01%,#0018ff 98.17%,#0000fa 98.32%,#0000e7 98.47%,#0014ff 98.62%,#0088ff 98.78%,#13fce4 98.93%,#80ff77 99.08%,#d4ff23 99.24%,#ffd300 99.39%,#ffa300 99.54%,#ff8900 99.69%,#ff7300 100%)"></i>
<i style="left:307px;width:5px;background:linear-gradient(#0094ff 0%,#0094ff .61%,#007cff 1.83%,#0054ff 2.6%,#0028ff 3.21%,#0000ff 3.98%,#0000ff 4.13%,#0000e3 5.05%,#0000ad 5.96%,#00008d 7.19%,#00008d 8.87%,#0000a6 11.93%,#00008d 15.29%,#00008d 94.04%,#00009a 94.34%,#0000bb 94.8%,#0000ff 95.57%,#0000ff 95.72%,#0044ff 96.64%,#0058ff 97.25%,#0058ff 97.86%,#0044ff 98.01%,#0016ff 98.17%,#0000f7 98.32%,#0000e0 98.47%,#0010ff 98.62%,#0087ff 98.78%,#13fce4 98.93%,#80ff77 99.08%,#d4ff23 99.24%,#ffd300 99.39%,#ffa400 99.54%,#ff8900 99.69%,#ff7300 100%)"></i>
<i style="left:311px;width:5px;background:linear-gradient(#0092ff 0%,#0090ff .92%,#0080ff 1.68%,#005cff 2.45%,#0014ff 3.52%,#0000ff 4.13%,#0000e2 5.05%,#0000ad 5.96%,#00008d 7.19%,#00008d 9.02%,#0000a0 11.93%,#00008d 15.14%,#00008d 94.04%,#0000a5 94.5%,#0000ff 95.57%,#0001ff 95.72%,#0044ff 96.64%,#0058ff 97.25%,#0058ff 97.86%,#0044ff 98.01%,#0014ff 98.17%,#0000f2 98.32%,#0000dc 98.47%,#000cff 98.62%,#0084ff 98.78%,#13fce4 98.93%,#80ff77 99.08%,#d4ff23 99.24%,#ffd300 99.39%,#ffa700 99.54%,#ff8900 99.69%,#ff7300 100%)"></i>
<i style="left:315px;width:9px;background:linear-gradient(#0090ff 0%,#008cff .92%,#0078ff 1.83%,#0050ff 2.6%,#001cff 3.36%,#0004ff 3.82%,#0000ff 4.13%,#0000e8 4.89%,#0000ad 5.96%,#00008d 7.19%,#00008d 9.17%,#000098 11.47%,#00008d 14.98%,#00008d 94.04%,#0000a8 94.5%,#0000f9 95.41%,#0000ff 95.57%,#0004ff 95.72%,#003cff 96.48%,#0058ff 97.25%,#0058ff 97.86%,#0042ff 98.01%,#0012ff 98.17%,#0000ef 98.32%,#0000d7 98.47%,#0008ff 98.62%,#0083ff 98.78%,#13fce4 98.93%,#80ff77 99.08%,#d4ff23 99.24%,#ffd300 99.39%,#ffa700 99.54%,#ff8900 99.69%,#ff7500 100%)"></i>
<i style="left:323px;width:9px;background:linear-gradient(#008cff 0%,#008cff .76%,#007cff 1.68%,#0058ff 2.45%,#0024ff 3.21%,#0000ff 3.98%,#0000ff 4.28%,#0000ec 4.74%,#0000ad 5.96%,#00008d 7.19%,#000093 11.47%,#00008d 14.53%,#00008d 93.88%,#0000a2 94.34%,#0000fa 95.41%,#0004ff 95.72%,#0044ff 96.64%,#0058ff 97.4%,#0058ff 97.86%,#0040ff 98.01%,#0010ff 98.17%,#0000ed 98.32%,#0000d2 98.47%,#0004ff 98.62%,#0080ff 98.78%,#13fce4 98.93%,#80ff77 99.08%,#d4ff23 99.24%,#ffd300 99.39%,#ffa700 99.54%,#ff8900 99.69%,#ff7700 100%)"></i>
<i style="left:331px;width:9px;background:linear-gradient(#008cff 0%,#0084ff 1.22%,#0074ff 1.83%,#001aff 3.36%,#0000ff 3.98%,#0000ff 4.28%,#0000ad 5.96%,#00008d 7.19%,#00008d 93.88%,#0000a4 94.34%,#0000fe 95.41%,#0008ff 95.72%,#0048ff 96.79%,#0055ff 97.4%,#0055ff 97.86%,#0040ff 98.01%,#000fff 98.17%,#0000e8 98.32%,#0000d1 98.47%,#0004ff 98.62%,#0080ff 98.78%,#12fce5 98.93%,#80ff77 99.08%,#d4ff23 99.24%,#ffd400 99.39%,#ffa700 99.54%,#ff8900 99.69%,#ff7700 100%)"></i>
<i style="left:339px;width:9px;background:linear-gradient(#0088ff 0%,#0088ff .76%,#0078ff 1.68%,#004cff 2.6%,#0018ff 3.36%,#0000ff 3.98%,#0000fe 4.28%,#0000ad 5.96%,#00008d 7.19%,#00008d 93.88%,#0000a4 94.34%,#0000ff 95.41%,#0000ff 95.57%,#0048ff 96.79%,#0054ff 97.25%,#0054ff 97.86%,#0040ff 98.01%,#000cff 98.17%,#0000e8 98.32%,#0000ce 98.47%,#0000ff 98.62%,#007eff 98.78%,#0ff8e7 98.93%,#80ff77 99.08%,#d2ff25 99.24%,#ffd700 99.39%,#ffab00 99.54%,#ff8d00 99.69%,#ff7700 100%)"></i>
<i style="left:347px;width:9px;background:linear-gradient(#0088ff 0%,#0088ff .61%,#0076ff 1.68%,#0053ff 2.45%,#0000ff 3.82%,#0000ff 3.98%,#0000f6 4.43%,#0000b2 5.81%,#00008d 7.19%,#00008d 93.88%,#0000af 94.5%,#0000fc 95.41%,#0005ff 95.72%,#0048ff 96.79%,#0054ff 97.25%,#0054ff 97.86%,#003cff 98.01%,#000cff 98.17%,#0000e8 98.32%,#0000cd 98.47%,#0000ff 98.62%,#007cff 98.78%,#0ff8e7 98.93%,#7dff7a 99.08%,#d1ff26 99.24%,#ffd700 99.39%,#ffab00 99.54%,#ff8d00 99.69%,#ff7700 100%)"></i>
<i style="left:355px;width:8px;background:linear-gradient(#0086ff 0%,#0084ff .92%,#0070ff 1.83%,#0040ff 2.75%,#0020ff 3.21%,#0000ff 3.82%,#0000ff 3.98%,#0000f6 4.43%,#0000b2 5.81%,#00008d 7.19%,#00008d 94.04%,#0000b4 94.65%,#0000ff 95.57%,#0002ff 95.72%,#0040ff 96.64%,#0054ff 97.4%,#0054ff 97.86%,#003cff 98.01%,#000cff 98.17%,#0000e7 98.32%,#0000cd 98.47%,#0000ff 98.62%,#007cff 98.78%,#0ff8e7 98.93%,#7dff7a 99.08%,#d1ff26 99.24%,#ffd700 99.39%,#ffab00 99.54%,#ff8d00 99.69%,#ff7a00 100%)"></i>
<i style="left:362px;width:7px;background:linear-gradient(#0084ff 0%,#0084ff .76%,#0074ff 1.68%,#0048ff 2.6%,#0000ff 3.82%,#0000ff 3.98%,#0000fa 4.28%,#0000b2 5.81%,#00008d 7.03%,#00008d 94.04%,#00008f 94.19%,#0000b9 94.8%,#0000ff 95.57%,#0000ff 95.72%,#0044ff 96.79%,#0054ff 97.4%,#0054ff 97.86%,#003cff 98.01%,#000cff 98.17%,#0000e3 98.32%,#0000cd 98.47%,#0000ff 98.62%,#007cff 98.78%,#0ff8e7 98.93%,#7dff7a 99.08%,#d1ff26 99.24%,#ffd700 99.39%,#ffab00 99.54%,#ff8d00 99.69%,#ff7a00 100%)"></i>
<i style="left:368px;width:6px;background:linear-gradient(#0084ff 0%,#0084ff .61%,#0074ff 1.68%,#0048ff 2.6%,#000cff 3.52%,#0000ff 3.98%,#0000fa 4.28%,#0000b2 5.81%,#00008d 7.03%,#00008d 94.19%,#0000a7 94.65%,#0000f9 95.57%,#0000ff 95.72%,#0044ff 96.79%,#0053ff 97.4%,#0053ff 97.86%,#003cff 98.01%,#000cff 98.17%,#0000e3 98.32%,#0000cd 98.47%,#0000ff 98.62%,#007cff 98.78%,#0ff8e7 98.93%,#7dff7a 99.08%,#d1ff26 99.24%,#ffd700 99.39%,#ffab00 99.54%,#ff8d00 99.69%,#ff7a00 100%)"></i>
<i style="left:373px;width:6px;background:linear-gradient(#0084ff 0%,#0080ff .92%,#006cff 1.83%,#0050ff 2.45%,#000cff 3.52%,#0000ff 3.98%,#0000fa 4.28%,#0000b2 5.81%,#00008d 7.03%,#00008d 94.19%,#00008e 94.34%,#0000a2 94.65%,#0000ff 95.72%,#0002ff 95.87%,#0042ff 96.79%,#0050ff 97.25%,#0050ff 97.86%,#003cff 98.01%,#000aff 98.17%,#0000e3 98.32%,#0000cd 98.47%,#0000ff 98.62%,#007cff 98.78%,#0ff8e7 98.93%,#7dff7a 99.08%,#d1ff26 99.24%,#ffd700 99.39%,#ffab00 99.54%,#ff8d00 99.69%,#ff7a00 100%)"></i>
<i style="left:378px;width:9px;background:linear-gradient(#0081ff 0%,#0080ff .92%,#006cff 1.83%,#0004ff 3.67%,#0000ff 3.98%,#0000fa 4.28%,#0000b2 5.81%,#00008d 7.03%,#00008d 94.34%,#0000a7 94.8%,#0000ff 95.72%,#0000ff 95.87%,#0038ff 96.64%,#0050ff 97.25%,#0050ff 97.86%,#003cff 98.01%,#0008ff 98.17%,#0000c9 98.47%,#0000ff 98.62%,#007cff 98.78%,#0ef7e9 98.93%,#7dff7a 99.08%,#d1ff26 99.24%,#ffda00 99.39%,#ffab00 99.54%,#ff8d00 99.69%,#ff7a00 100%)"></i>
<i style="left:386px;width:9px;background:linear-gradient(#0080ff 0%,#0080ff .76%,#0070ff 1.68%,#003cff 2.75%,#0004ff 3.67%,#0000ff 3.98%,#0000fa 4.28%,#0000b2 5.81%,#00008d 7.03%,#00008d 94.34%,#00008e 94.5%,#0000b0 94.95%,#0000fa 95.72%,#0008ff 96.02%,#0038ff 96.64%,#0050ff 97.25%,#0050ff 97.86%,#003cff 98.01%,#0008ff 98.17%,#0000c8 98.47%,#0000ff 98.62%,#007aff 98.78%,#0cf4eb 98.93%,#7dff7a 99.08%,#d0ff27 99.24%,#ffdb00 99.39%,#ffae00 99.54%,#ff9100 99.69%,#ff7a00 100%)"></i>
<i style="left:394px;width:10px;background:linear-gradient(#0080ff 0%,#007cff 1.07%,#0070ff 1.68%,#0000ff 3.82%,#0000ff 4.13%,#0000b2 5.81%,#00008d 7.03%,#00008d 94.5%,#0000ac 94.95%,#0000f7 95.72%,#0000ff 95.87%,#0005ff 96.02%,#0040ff 96.79%,#0050ff 97.25%,#0050ff 97.86%,#003bff 98.01%,#0008ff 98.17%,#0000c8 98.47%,#0000ff 98.62%,#0078ff 98.78%,#0cf4eb 98.93%,#7dff7a 99.08%,#ceff29 99.24%,#ffdb00 99.39%,#ffae00 99.54%,#ff9100 99.69%,#ff7a00 100%)"></i>
<i style="left:403px;width:9px;background:linear-gradient(#0080ff 0%,#0080ff .61%,#006eff 1.68%,#005cff 2.14%,#0024ff 3.06%,#0000ff 3.82%,#0000ff 4.13%,#0000a4 6.12%,#00008d 7.03%,#00008d 94.5%,#0000a8 94.95%,#0000ff 95.87%,#0004ff 96.02%,#0034ff 96.64%,#0050ff 97.25%,#0050ff 97.86%,#0038ff 98.01%,#0008ff 98.17%,#0000c8 98.47%,#0000ff 98.62%,#0078ff 98.78%,#0cf4eb 98.93%,#7cff7b 99.08%,#ceff29 99.24%,#ffdb00 99.39%,#ffae00 99.54%,#ff9100 99.69%,#ff7a00 100%)"></i>
<i style="left:411px;width:9px;background:linear-gradient(#0080ff 0%,#007cff .92%,#0068ff 1.83%,#0000ff 3.82%,#0000ff 4.13%,#0000a4 6.12%,#00008d 7.03%,#00008d 94.5%,#00008e 94.65%,#0000a4 94.95%,#0000ff 95.87%,#0000ff 96.02%,#0034ff 96.64%,#0050ff 97.25%,#0050ff 97.86%,#0038ff 98.01%,#0008ff 98.17%,#0000c8 98.47%,#0000ff 98.62%,#0078ff 98.78%,#0cf4eb 98.93%,#7aff7d 99.08%,#ceff29 99.24%,#ffdb00 99.39%,#ffae00 99.54%,#ff9100 99.69%,#ff7a00 100%)"></i>
<i style="left:419px;width:9px;background:linear-gradient(#0080ff 0%,#007cff .92%,#0068ff 1.83%,#0000ff 3.82%,#0000ff 4.13%,#0000a4 6.12%,#00008d 7.03%,#00008d 94.65%,#0000ae 95.11%,#0000ff 95.87%,#0000ff 96.02%,#0034ff 96.64%,#0050ff 97.25%,#0050ff 97.86%,#0038ff 98.01%,#0008ff 98.17%,#0000c8 98.47%,#0000ff 98.62%,#0078ff 98.78%,#0cf4eb 98.93%,#7aff7d 99.08%,#ceff29 99.24%,#ffdb00 99.39%,#ffae00 99.54%,#ff9100 99.69%,#ff7a00 100%)"></i>
<i style="left:427px;width:9px;background:linear-gradient(#0080ff 0%,#007cff .92%,#0068ff 1.83%,#0000ff 3.82%,#0000ff 4.13%,#0000a4 6.12%,#00008d 7.03%,#00008d 94.65%,#000092 94.8%,#0000ab 95.11%,#0000fb 95.87%,#0000ff 96.02%,#003cff 96.79%,#0050ff 97.25%,#0050ff 97.86%,#0038ff 98.01%,#0008ff 98.17%,#0000c8 98.47%,#0000ff 98.62%,#0078ff 98.78%,#0cf4eb 98.93%,#7aff7d 99.08%,#ceff29 99.24%,#ffdb00 99.39%,#ffae00 99.54%,#ff9100 99.69%,#ff7a00 100%)"></i>
<i style="left:435px;width:9px;background:linear-gradient(#0080ff 0%,#007cff .92%,#0068ff 1.83%,#0000ff 3.82%,#0000ff 4.13%,#0000a4 6.12%,#00008d 7.03%,#00008d 94.65%,#00009b 94.95%,#0000b6 95.26%,#0000fa 95.87%,#0000ff 96.02%,#003cff 96.79%,#0050ff 97.25%,#0050ff 97.86%,#0038ff 98.01%,#0008ff 98.17%,#0000c8 98.47%,#0000ff 98.62%,#0078ff 98.78%,#0cf4eb 98.93%,#7aff7d 99.08%,#ceff29 99.24%,#ffdb00 99.39%,#ffae00 99.54%,#ff9100 99.69%,#ff7a00 100%)"></i>
<i style="left:443px;width:9px;background:linear-gradient(#0080ff 0%,#007cff .92%,#0068ff 1.83%,#0000ff 3.82%,#0000ff 4.13%,#0000a4 6.12%,#00008d 7.03%,#00008d 94.8%,#0000c4 95.41%,#0000f7 95.87%,#0000ff 96.02%,#003cff 96.79%,#0050ff 97.25%,#0050ff 97.86%,#0038ff 98.01%,#0008ff 98.17%,#0000c8 98.47%,#0000ff 98.62%,#0078ff 98.78%,#0cf4eb 98.93%,#7aff7d 99.08%,#ceff29 99.24%,#ffdb00 99.39%,#ffae00 99.54%,#ff9100 99.69%,#ff7a00 100%)"></i>
<i style="left:451px;width:11px;background:linear-gradient(#0080ff 0%,#007cff .92%,#0068ff 1.83%,#0000ff 3.82%,#0000ff 4.13%,#0000a4 6.12%,#00008d 7.03%,#00008d 94.8%,#0000b2 95.26%,#0000f6 95.87%,#0000ff 96.02%,#003cff 96.79%,#0050ff 97.25%,#0050ff 97.86%,#0038ff 98.01%,#0008ff 98.17%,#0000c8 98.47%,#0000ff 98.62%,#0078ff 98.78%,#0cf4eb 98.93%,#7aff7d 99.08%,#ceff29 99.24%,#ffdb00 99.39%,#ffae00 99.54%,#ff9100 99.69%,#ff7a00 100%)"></i>
<i style="left:461px;width:11px;background:linear-gradient(#0080ff 0%,#007cff .92%,#0068ff 1.83%,#0000ff 3.82%,#0000ff 4.13%,#0000a4 6.12%,#00008d 7.03%,#00008d 94.8%,#0000bf 95.41%,#0000f6 95.87%,#0000ff 96.02%,#003cff 96.79%,#0050ff 97.25%,#0050ff 97.86%,#0038ff 98.01%,#0008ff 98.17%,#0000c8 98.47%,#0000ff 98.62%,#0078ff 98.78%,#0cf4eb 98.93%,#7aff7d 99.08%,#ceff29 99.24%,#ffdb00 99.39%,#ffae00 99.54%,#ff9100 99.69%,#ff7a00 100%)"></i>
<i style="left:471px;width:11px;background:linear-gradient(#0080ff 0%,#0080ff .61%,#0070ff 1.68%,#0000ff 3.82%,#0000ff 4.13%,#0000a4 6.12%,#00008d 7.03%,#00008d 94.8%,#0000bf 95.41%,#0000f6 95.87%,#0000ff 96.02%,#003cff 96.79%,#0050ff 97.25%,#0050ff 97.86%,#0038ff 98.01%,#0008ff 98.17%,#0000c8 98.47%,#0000ff 98.62%,#0078ff 98.78%,#0cf4eb 98.93%,#7aff7d 99.08%,#ceff29 99.24%,#ffdb00 99.39%,#ffae00 99.54%,#ff9100 99.69%,#ff7a00 100%)"></i>
<i style="left:481px;width:11px;background:linear-gradient(#0080ff 0%,#0080ff .61%,#0070ff 1.68%,#0000ff 3.82%,#0000ff 4.13%,#0000a5 6.12%,#00008d 7.03%,#00008d 94.8%,#0000bf 95.41%,#0000f6 95.87%,#0000ff 96.02%,#003cff 96.79%,#0050ff 97.25%,#0050ff 97.86%,#0038ff 98.01%,#0008ff 98.17%,#0000c8 98.47%,#0000ff 98.62%,#0078ff 98.78%,#0cf4eb 98.93%,#7aff7d 99.08%,#ceff29 99.24%,#ffdb00 99.39%,#ffae00 99.54%,#ff9100 99.69%,#ff7a00 100%)"></i>
<i style="left:491px;width:10px;background:linear-gradient(#0080ff 0%,#0080ff .76%,#0070ff 1.68%,#0000ff 3.82%,#0000fa 4.28%,#0000b2 5.81%,#00008d 7.03%,#00008d 94.8%,#0000bf 95.41%,#0000f6 95.87%,#0000ff 96.02%,#003cff 96.79%,#0050ff 97.25%,#0050ff 97.86%,#0038ff 98.01%,#0008ff 98.17%,#0000c8 98.47%,#0000ff 98.62%,#0078ff 98.78%,#0cf4eb 98.93%,#7bff7c 99.08%,#ceff29 99.24%,#ffdb00 99.39%,#ffae00 99.54%,#ff9100 99.69%,#ff7a00 100%)"></i>
<i style="left:500px;width:11px;background:linear-gradient(#0080ff 0%,#0080ff .76%,#0070ff 1.68%,#0000ff 3.82%,#0000fa 4.28%,#0000b2 5.81%,#00008d 7.03%,#00008d 94.8%,#0000bf 95.41%,#0000f6 95.87%,#0000ff 96.02%,#003cff 96.79%,#0050ff 97.25%,#0050ff 97.86%,#0038ff 98.01%,#0008ff 98.17%,#0000c8 98.47%,#0000ff 98.62%,#0078ff 98.78%,#0cf4eb 98.93%,#7dff7a 99.08%,#ceff29 99.24%,#ffdb00 99.39%,#ffae00 99.54%,#ff9100 99.69%,#ff7a00 100%)"></i>
<i style="left:510px;width:11px;background:linear-gradient(#0080ff 0%,#0080ff .76%,#006cff 1.83%,#0004ff 3.67%,#0000ff 3.98%,#0000fa 4.28%,#0000b2 5.81%,#00008d 7.03%,#00008d 94.8%,#0000bf 95.41%,#0000f6 95.87%,#0000ff 96.02%,#003cff 96.79%,#0050ff 97.25%,#0050ff 97.86%,#0038ff 98.01%,#0008ff 98.17%,#0000c8 98.47%,#0000ff 98.62%,#0078ff 98.78%,#0cf4eb 98.93%,#7dff7a 99.08%,#ceff29 99.24%,#ffdb00 99.39%,#ffae00 99.54%,#ff9100 99.69%,#ff7a00 100%)"></i>
<i style="left:520px;width:11px;background:linear-gradient(#0080ff 0%,#0080ff .92%,#006cff 1.83%,#0004ff 3.67%,#0000ff 3.98%,#0000fa 4.28%,#0000b2 5.81%,#00008d 7.03%,#00008d 94.8%,#0000bf 95.41%,#0000f6 95.87%,#0000ff 96.02%,#003cff 96.79%,#0050ff 97.25%,#0050ff 97.86%,#003cff 98.01%,#0008ff 98.17%,#0000c8 98.47%,#0000ff 98.62%,#0078ff 98.78%,#0cf4eb 98.93%,#7dff7a 99.08%,#ceff29 99.24%,#ffdb00 99.39%,#ffae00 99.54%,#ff9100 99.69%,#ff7a00 100%)"></i>
<i style="left:530px;width:11px;background:linear-gradient(#0083ff 0%,#0080ff .92%,#006cff 1.83%,#004fff 2.45%,#000cff 3.52%,#0000ff 3.98%,#0000fa 4.28%,#0000b2 5.81%,#00008d 7.03%,#00008d 94.8%,#0000bf 95.41%,#0000f6 95.87%,#0000ff 96.02%,#003cff 96.79%,#0050ff 97.25%,#0050ff 97.86%,#003cff 98.01%,#0008ff 98.17%,#0000c8 98.47%,#0000ff 98.62%,#0078ff 98.78%,#0cf4eb 98.93%,#7dff7a 99.08%,#ceff28 99.24%,#ffdb00 99.39%,#ffae00 99.54%,#ff9100 99.69%,#ff7a00 100%)"></i>
<i style="left:540px;width:11px;background:linear-gradient(#0084ff 0%,#0084ff .61%,#0073ff 1.68%,#0048ff 2.6%,#000cff 3.52%,#0000ff 3.98%,#0000fa 4.28%,#0000b2 5.81%,#00008d 7.03%,#00008d 94.8%,#0000bf 95.41%,#0000f6 95.87%,#0000ff 96.02%,#003cff 96.79%,#0050ff 97.25%,#0050ff 97.86%,#003cff 98.01%,#0008ff 98.17%,#0000c8 98.47%,#0000ff 98.62%,#007aff 98.78%,#0cf4eb 98.93%,#7dff7a 99.08%,#d1ff26 99.24%,#ffdb00 99.39%,#ffae00 99.54%,#ff9100 99.69%,#ff7a00 100%)"></i>
<i style="left:550px;width:11px;background:linear-gradient(#0084ff 0%,#0084ff .76%,#0074ff 1.68%,#0048ff 2.6%,#0017ff 3.36%,#0000ff 3.82%,#0000ff 3.98%,#0000fa 4.28%,#0000b2 5.81%,#00008d 7.03%,#00008d 94.8%,#0000b2 95.26%,#0000f6 95.87%,#0000ff 96.02%,#003cff 96.79%,#0050ff 97.25%,#0050ff 97.86%,#003cff 98.01%,#0008ff 98.17%,#0000c8 98.47%,#0000ff 98.62%,#007cff 98.78%,#0df6ea 98.93%,#7dff7a 99.08%,#d1ff26 99.24%,#ffdb00 99.39%,#ffab00 99.54%,#ff8d00 99.69%,#ff7a00 100%)"></i>
<i style="left:560px;width:9px;background:linear-gradient(#0084ff 0%,#0084ff .92%,#0070ff 1.83%,#0028ff 3.06%,#0000ff 3.82%,#0000ff 3.98%,#0000f5 4.43%,#0000b2 5.81%,#00008d 7.19%,#00008d 94.8%,#0000b2 95.26%,#0000f6 95.87%,#0000ff 96.02%,#003cff 96.79%,#0050ff 97.25%,#0050ff 97.86%,#003cff 98.01%,#0008ff 98.17%,#0000cb 98.47%,#0000ff 98.62%,#007cff 98.78%,#0ff8e7 98.93%,#7dff7a 99.08%,#d1ff26 99.24%,#ffd800 99.39%,#ffab00 99.54%,#ff8d00 99.69%,#ff7a00 100%)"></i>
<i style="left:568px;width:11px;background:linear-gradient(#0088ff 0%,#0084ff .92%,#0070ff 1.83%,#0040ff 2.75%,#0020ff 3.21%,#0000ff 3.82%,#0000ff 3.98%,#0000f6 4.43%,#0000b2 5.81%,#00008d 7.19%,#00008d 94.8%,#0000b2 95.26%,#0000f6 95.87%,#0000ff 96.02%,#003cff 96.79%,#0050ff 97.25%,#0050ff 97.86%,#003cff 98.01%,#000aff 98.17%,#0000e3 98.32%,#0000cd 98.47%,#0000ff 98.62%,#007cff 98.78%,#0ff8e7 98.93%,#7dff7a 99.08%,#d1ff26 99.24%,#ffd700 99.39%,#ffab00 99.54%,#ff8d00 99.69%,#ff7a00 100%)"></i>
<i style="left:578px;width:10px;background:linear-gradient(#0088ff 0%,#0088ff .76%,#0078ff 1.68%,#0054ff 2.45%,#0020ff 3.21%,#0000ff 3.82%,#0000ff 3.98%,#0000f6 4.43%,#0000b2 5.81%,#00008d 7.19%,#00008d 94.8%,#0000b2 95.26%,#0000f6 95.87%,#0000ff 96.02%,#003cff 96.79%,#0053ff 97.4%,#0053ff 97.86%,#003cff 98.01%,#000cff 98.17%,#0000e3 98.32%,#0000cd 98.47%,#0000ff 98.62%,#007cff 98.78%,#0ff8e7 98.93%,#7dff7a 99.08%,#d1ff26 99.24%,#ffd700 99.39%,#ffab00 99.54%,#ff8d00 99.69%,#ff7a00 100%)"></i>
<i style="left:587px;width:11px;background:linear-gradient(#0088ff 0%,#0087ff .92%,#0073ff 1.83%,#004cff 2.6%,#0018ff 3.36%,#0000ff 3.98%,#0000fe 4.28%,#0000ad 5.96%,#00008d 7.19%,#00008d 94.8%,#0000b2 95.26%,#0000f6 95.87%,#0000ff 96.02%,#003cff 96.79%,#0054ff 97.4%,#0054ff 97.86%,#003cff 98.01%,#000cff 98.17%,#0000e3 98.32%,#0000cd 98.47%,#0000ff 98.62%,#007cff 98.78%,#0ff8e7 98.93%,#7dff7a 99.08%,#d1ff26 99.24%,#ffd700 99.39%,#ffab00 99.54%,#ff8d00 99.69%,#ff7a00 100%)"></i>
<i style="left:597px;width:10px;background:linear-gradient(#008cff 0%,#0084ff 1.22%,#0074ff 1.83%,#0012ff 3.52%,#0000ff 3.98%,#0000ff 4.28%,#0000ad 5.96%,#00008d 7.19%,#00008d 94.8%,#0000b3 95.26%,#0000f8 95.87%,#0000ff 96.02%,#0048ff 96.94%,#0054ff 97.4%,#0054ff 97.86%,#003cff 98.01%,#000cff 98.17%,#0000e6 98.32%,#0000cd 98.47%,#0000ff 98.62%,#007cff 98.78%,#0ff8e7 98.93%,#7dff7a 99.08%,#d1ff26 99.24%,#ffd700 99.39%,#ffab00 99.54%,#ff8d00 99.69%,#ff7a00 100%)"></i>
<i style="left:606px;width:10px;background:linear-gradient(#008cff 0%,#008cff .76%,#007cff 1.68%,#0058ff 2.45%,#0024ff 3.21%,#0000ff 3.98%,#0000ff 4.28%,#0000ad 5.96%,#00008d 7.19%,#00008d 94.8%,#0000a4 95.11%,#0000fa 95.87%,#0009ff 96.18%,#0028ff 96.48%,#0048ff 96.94%,#0054ff 97.4%,#0054ff 97.86%,#003cff 98.01%,#000cff 98.17%,#0000e8 98.32%,#0000cd 98.47%,#0000ff 98.62%,#007cff 98.78%,#0ff8e7 98.93%,#7dff7a 99.08%,#d1ff26 99.24%,#ffd700 99.39%,#ffab00 99.54%,#ff8d00 99.69%,#ff7800 100%)"></i>
<i style="left:615px;width:9px;background:linear-gradient(#008fff 0%,#008cff .92%,#0078ff 1.83%,#0050ff 2.6%,#0024ff 3.21%,#0004ff 3.82%,#0000ff 4.13%,#0000ff 4.28%,#0000d6 5.2%,#0000ad 5.96%,#00008d 7.19%,#00008d 94.8%,#0000c4 95.41%,#0000fa 95.87%,#0000ff 96.02%,#0040ff 96.79%,#0054ff 97.25%,#0054ff 97.86%,#003cff 98.01%,#000cff 98.17%,#0000e8 98.32%,#0000cd 98.47%,#0000ff 98.62%,#007cff 98.78%,#0ff8e7 98.93%,#7dff7a 99.08%,#d1ff26 99.24%,#ffd700 99.39%,#ffab00 99.54%,#ff8d00 99.69%,#ff7700 100%)"></i>
<i style="left:623px;width:9px;background:linear-gradient(#0090ff 0%,#0090ff .76%,#007fff 1.68%,#0050ff 2.6%,#000cff 3.67%,#0000ff 4.13%,#0000fa 4.43%,#0000ad 5.96%,#00008d 7.19%,#00008d 94.8%,#0000c4 95.41%,#0000fa 95.87%,#0000ff 96.02%,#0040ff 96.79%,#0054ff 97.25%,#0054ff 97.86%,#003eff 98.01%,#000cff 98.17%,#0000e8 98.32%,#0000cd 98.47%,#0000ff 98.62%,#007cff 98.78%,#0ff8e7 98.93%,#80ff77 99.08%,#d1ff26 99.24%,#ffd700 99.39%,#ffab00 99.54%,#ff8d00 99.69%,#ff7700 100%)"></i>
<i style="left:631px;width:10px;background:linear-gradient(#0092ff 0%,#0090ff .92%,#0080ff 1.68%,#005cff 2.45%,#0016ff 3.52%,#0000ff 4.13%,#0000fa 4.43%,#0000ad 5.96%,#00008d 7.19%,#00008d 94.65%,#000090 94.8%,#0000b6 95.26%,#0000fa 95.87%,#0000ff 96.02%,#0040ff 96.79%,#0054ff 97.25%,#0054ff 97.86%,#0040ff 98.01%,#000cff 98.17%,#0000e8 98.32%,#0000cd 98.47%,#0000ff 98.62%,#007fff 98.78%,#10f9e7 98.93%,#80ff77 99.08%,#d4ff23 99.24%,#ffd700 99.39%,#ffa900 99.54%,#ff8b00 99.69%,#ff7700 100%)"></i>
<i style="left:640px;width:9px;background:linear-gradient(#0094ff 0%,#0094ff .76%,#0082ff 1.68%,#0054ff 2.6%,#0028ff 3.21%,#0000ff 3.98%,#0000ff 4.13%,#0000fa 4.43%,#0000ae 5.96%,#00008d 7.19%,#00008d 94.65%,#00009b 94.95%,#0000b6 95.26%,#0000fa 95.87%,#0000ff 96.02%,#0040ff 96.79%,#0054ff 97.25%,#0054ff 97.86%,#0040ff 98.01%,#000eff 98.17%,#0000e8 98.32%,#0000d1 98.47%,#0002ff 98.62%,#0080ff 98.78%,#13fce4 98.93%,#80ff77 99.08%,#d4ff23 99.24%,#ffd300 99.39%,#ffa700 99.54%,#ff8900 99.69%,#ff7700 100%)"></i>
<i style="left:648px;width:9px;background:linear-gradient(#0096ff 0%,#0094ff .92%,#0084ff 1.68%,#005eff 2.45%,#0020ff 3.36%,#0000ff 3.98%,#0000ff 4.13%,#0000f4 4.59%,#0000a8 6.12%,#00008d 7.19%,#00008d 94.65%,#0000a8 95.11%,#0000ff 95.87%,#0000ff 96.02%,#0037ff 96.64%,#004aff 96.94%,#0058ff 97.4%,#0058ff 97.86%,#0040ff 98.01%,#0010ff 98.17%,#0000e8 98.32%,#0000d1 98.47%,#0004ff 98.62%,#0080ff 98.78%,#13fce4 98.93%,#80ff77 99.08%,#d4ff23 99.24%,#ffd300 99.39%,#ffa700 99.54%,#ff8900 99.69%,#ff7700 100%)"></i>
<i style="left:656px;width:11px;background:linear-gradient(#0098ff 0%,#0098ff .76%,#0087ff 1.68%,#0058ff 2.6%,#0019ff 3.52%,#0000ff 4.13%,#0000f6 4.59%,#0000a8 6.12%,#00008d 7.19%,#00008d 94.65%,#0000aa 95.11%,#0000ff 95.87%,#0000ff 96.02%,#002cff 96.48%,#004cff 96.94%,#0058ff 97.4%,#0058ff 97.86%,#0040ff 98.01%,#0010ff 98.17%,#0000eb 98.32%,#0000d1 98.47%,#0004ff 98.62%,#0080ff 98.78%,#13fce4 98.93%,#80ff77 99.08%,#d4ff23 99.24%,#ffd300 99.39%,#ffa700 99.54%,#ff8900 99.69%,#ff7600 100%)"></i>
<i style="left:666px;width:9px;background:linear-gradient(#009cff 0%,#0098ff .92%,#0084ff 1.83%,#0062ff 2.45%,#002cff 3.21%,#0000ff 4.13%,#0000ff 4.43%,#0000aa 6.12%,#00008d 7.19%,#00008d 94.65%,#000092 94.8%,#0000bb 95.26%,#0000ff 95.87%,#0000ff 96.02%,#0044ff 96.79%,#0058ff 97.25%,#0058ff 97.86%,#0040ff 98.01%,#0010ff 98.17%,#0000ed 98.32%,#0000d1 98.47%,#0004ff 98.62%,#0080ff 98.78%,#13fce4 98.93%,#81ff76 99.08%,#d4ff23 99.24%,#ffd300 99.39%,#ffa700 99.54%,#ff8900 99.69%,#ff7300 100%)"></i>
<i style="left:674px;width:9px;background:linear-gradient(#009eff 0%,#009bff .92%,#008cff 1.68%,#005cff 2.6%,#0024ff 3.36%,#0004ff 3.98%,#0000ff 4.28%,#0000f1 4.74%,#0000b6 5.81%,#00008d 7.19%,#00008d 94.65%,#000092 94.8%,#0000bb 95.26%,#0000ff 95.87%,#0001ff 96.02%,#0044ff 96.79%,#0058ff 97.25%,#0058ff 97.86%,#0044ff 98.01%,#0010ff 98.17%,#0000ed 98.32%,#0000d1 98.47%,#0004ff 98.62%,#0082ff 98.78%,#13fce4 98.93%,#83ff73 99.08%,#d6ff21 99.24%,#ffd300 99.39%,#ffa600 99.54%,#ff8800 99.69%,#ff7300 100%)"></i>
<i style="left:682px;width:9px;background:linear-gradient(#00a0ff 0%,#009cff 1.07%,#0088ff 1.83%,#001eff 3.52%,#0000ff 4.13%,#0000ff 4.28%,#0000f1 4.74%,#0000b2 5.96%,#00008d 7.19%,#00008d 94.65%,#0000ad 95.11%,#0000ff 95.87%,#0004ff 96.02%,#0044ff 96.79%,#0058ff 97.25%,#0058ff 97.86%,#0044ff 98.01%,#0012ff 98.17%,#0000ed 98.32%,#0000d5 98.47%,#0006ff 98.62%,#0084ff 98.78%,#16ffe1 98.93%,#83ff73 99.08%,#d7ff1f 99.24%,#ffd100 99.39%,#ffa300 99.54%,#ff8600 99.69%,#ff7300 100%)"></i>
<i style="left:690px;width:10px;background:linear-gradient(#00a0ff 0%,#00a0ff .92%,#0090ff 1.68%,#0068ff 2.45%,#0030ff 3.21%,#0000ff 4.13%,#0000ff 4.28%,#0000fa 4.59%,#0000b2 5.96%,#00008d 7.19%,#00008d 94.65%,#0000ad 95.11%,#0000ff 95.87%,#0004ff 96.02%,#003cff 96.64%,#005cff 97.4%,#005cff 97.86%,#0044ff 98.01%,#0014ff 98.17%,#0000ed 98.32%,#0000d6 98.47%,#0008ff 98.62%,#0084ff 98.78%,#16ffe1 98.93%,#83ff73 99.08%,#d7ff1f 99.24%,#ffd000 99.39%,#ffa300 99.54%,#ff8600 99.69%,#ff7300 100%)"></i>
</div></div>
<svg width="1025" height="1855" viewBox="0 0 1025 1855" font-family="'Liberation Serif', 'DejaVu Serif', serif" fill="#000">
<defs>
<filter id="hb" x="0" y="0" width="100%" height="100%" color-interpolation-filters="sRGB"><feGaussianBlur stdDeviation="1.5 0"/></filter>
<clipPath id="clipa"><rect x="183" y="180" width="682.5" height="652.8"/></clipPath>
<clipPath id="clipb"><rect x="183" y="1060.8" width="682.5" height="652.6"/></clipPath>
<linearGradient id="cba" x1="0" y1="0" x2="1" y2="0"><stop offset="0" stop-color="#000080"/><stop offset=".0312" stop-color="#0000a4"/><stop offset=".0625" stop-color="#0000c8"/><stop offset=".0938" stop-color="#0000ed"/><stop offset=".125" stop-color="#0000ff"/><stop offset=".1562" stop-color="#0020ff"/><stop offset=".1875" stop-color="#0040ff"/><stop offset=".2188" stop-color="#0060ff"/><stop offset=".25" stop-color="#0080ff"/><stop offset=".2812" stop-color="#00a0ff"/><stop offset=".3125" stop-color="#00c0ff"/><stop offset=".3438" stop-color="#00e0fb"/><stop offset=".375" stop-color="#16ffe1"/><stop offset=".4062" stop-color="#30ffc7"/><stop offset=".4375" stop-color="#49ffad"/><stop offset=".4688" stop-color="#63ff94"/><stop offset=".5" stop-color="#7dff7a"/><stop offset=".5312" stop-color="#97ff60"/><stop offset=".5625" stop-color="#b1ff46"/><stop offset=".5938" stop-color="#caff2c"/><stop offset=".625" stop-color="#e4ff13"/><stop offset=".6562" stop-color="#feed00"/><stop offset=".6875" stop-color="#ffd000"/><stop offset=".7188" stop-color="#ffb200"/><stop offset=".75" stop-color="#ff9400"/><stop offset=".7812" stop-color="#ff7700"/><stop offset=".8125" stop-color="#ff5900"/><stop offset=".8438" stop-color="#ff3b00"/><stop offset=".875" stop-color="#ff1e00"/><stop offset=".9062" stop-color="#e80000"/><stop offset=".9375" stop-color="#c40000"/><stop offset=".9688" stop-color="#9f0000"/><stop offset="1" stop-color="#800000"/></linearGradient>
<linearGradient id="cbb" x1="0" y1="0" x2="1" y2="0"><stop offset="0" stop-color="#000080"/><stop offset=".0312" stop-color="#0000a4"/><stop offset=".0625" stop-color="#0000c8"/><stop offset=".0938" stop-color="#0000ed"/><stop offset=".125" stop-color="#0000ff"/><stop offset=".1562" stop-color="#0020ff"/><stop offset=".1875" stop-color="#0040ff"/><stop offset=".2188" stop-color="#0060ff"/><stop offset=".25" stop-color="#0080ff"/><stop offset=".2812" stop-color="#00a0ff"/><stop offset=".3125" stop-color="#00c0ff"/><stop offset=".3438" stop-color="#00e0fb"/><stop offset=".375" stop-color="#16ffe1"/><stop offset=".4062" stop-color="#30ffc7"/><stop offset=".4375" stop-color="#49ffad"/><stop offset=".4688" stop-color="#63ff94"/><stop offset=".5" stop-color="#7dff7a"/><stop offset=".5312" stop-color="#97ff60"/><stop offset=".5625" stop-color="#b1ff46"/><stop offset=".5938" stop-color="#caff2c"/><stop offset=".625" stop-color="#e4ff13"/><stop offset=".6562" stop-color="#feed00"/><stop offset=".6875" stop-color="#ffd000"/><stop offset=".7188" stop-color="#ffb200"/><stop offset=".75" stop-color="#ff9400"/><stop offset=".7812" stop-color="#ff7700"/><stop offset=".8125" stop-color="#ff5900"/><stop offset=".8438" stop-color="#ff3b00"/><stop offset=".875" stop-color="#ff1e00"/><stop offset=".9062" stop-color="#e80000"/><stop offset=".9375" stop-color="#c40000"/><stop offset=".9688" stop-color="#9f0000"/><stop offset="1" stop-color="#800000"/></linearGradient>
</defs>
<g clip-path="url(#clipa)">
<path d="M183 812.7C185.2 812.3 190.77 811.25 196.2 810.3C201.63 809.35 208.32 808.27 215.6 807C222.88 805.73 231.82 804.23 239.9 802.7C247.98 801.17 256.82 799.62 264.1 797.8C271.38 795.98 278.47 793.68 283.6 791.8C288.73 789.92 291.67 788.6 294.9 786.5C298.13 784.4 300.85 782.3 303 779.2C305.15 776.1 306.58 771.68 307.8 767.9C309.02 764.12 309.62 761.08 310.3 756.5C310.98 751.92 311.45 745.78 311.9 740.4C312.35 735.02 312.65 732.3 313 724.2C313.35 716.1 313.73 705.28 314 691.8C314.27 678.32 314.42 659.48 314.6 643.3C314.78 627.12 314.93 610.88 315.1 594.7C315.27 578.52 315.47 556.98 315.6 546.2C315.73 535.42 315.68 535.7 315.9 530C316.12 524.3 316.28 517.73 316.9 512C317.52 506.27 318.55 501.07 319.6 495.6C320.65 490.13 321.38 484.88 323.2 479.2C325.02 473.52 327.92 466.5 330.5 461.5C333.08 456.5 335.73 452.85 338.7 449.2C341.67 445.55 344.88 442.25 348.3 439.6C351.72 436.95 355.1 434.98 359.2 433.3C363.3 431.62 367.88 430.87 372.9 429.5C377.92 428.13 384.28 426.47 389.3 425.1C394.32 423.73 398.45 422.3 403 421.3C407.55 420.3 412.52 419.32 416.6 419.1C420.68 418.88 423.85 419.08 427.5 420C431.15 420.92 434.85 422.47 438.5 424.6C442.15 426.73 445.77 429.38 449.4 432.8C453.03 436.22 456.65 440.78 460.3 445.1C463.95 449.42 467.65 454.38 471.3 458.7C474.95 463.02 478.57 467.12 482.2 471C485.83 474.88 489.47 479.03 493.1 482C496.73 484.97 499.9 486.98 504 488.8C508.1 490.62 513.13 492.03 517.7 492.9C522.27 493.77 524.57 493.82 531.4 494C538.23 494.18 549.93 494.03 558.7 494C567.47 493.97 570.82 493.97 584 493.8C597.18 493.63 620.97 493.33 637.8 493C654.63 492.67 668.18 491.8 685 491.8C701.82 491.8 721.87 492.13 738.7 493C755.53 493.87 771.45 495.67 786 497C800.55 498.33 812.75 499.62 826 501C839.25 502.38 858.92 504.58 865.5 505.3" fill="none" stroke="#f01414" stroke-width="5" stroke-dasharray="17.4 7.5"/>
</g>
<line x1="166.72" y1="832.8" x2="183" y2="832.8" stroke="#000" stroke-width="3.75"/>
<text x="147" y="848.4" font-size="47" text-anchor="end" letter-spacing="0.3">0.00</text>
<line x1="174.03" y1="778.4" x2="183" y2="778.4" stroke="#000" stroke-width="2.75"/>
<line x1="166.72" y1="724" x2="183" y2="724" stroke="#000" stroke-width="3.75"/>
<text x="147" y="739.6" font-size="47" text-anchor="end" letter-spacing="0.3">0.25</text>
<line x1="174.03" y1="669.6" x2="183" y2="669.6" stroke="#000" stroke-width="2.75"/>
<line x1="166.72" y1="615.2" x2="183" y2="615.2" stroke="#000" stroke-width="3.75"/>
<text x="147" y="630.8" font-size="47" text-anchor="end" letter-spacing="0.3">0.50</text>
<line x1="174.03" y1="560.8" x2="183" y2="560.8" stroke="#000" stroke-width="2.75"/>
<line x1="166.72" y1="506.4" x2="183" y2="506.4" stroke="#000" stroke-width="3.75"/>
<text x="147" y="522" font-size="47" text-anchor="end" letter-spacing="0.3">0.75</text>
<line x1="174.03" y1="452" x2="183" y2="452" stroke="#000" stroke-width="2.75"/>
<line x1="166.72" y1="397.6" x2="183" y2="397.6" stroke="#000" stroke-width="3.75"/>
<text x="147" y="413.2" font-size="47" text-anchor="end" letter-spacing="0.3">1.00</text>
<line x1="174.03" y1="343.2" x2="183" y2="343.2" stroke="#000" stroke-width="2.75"/>
<line x1="166.72" y1="288.8" x2="183" y2="288.8" stroke="#000" stroke-width="3.75"/>
<text x="147" y="304.4" font-size="47" text-anchor="end" letter-spacing="0.3">1.25</text>
<line x1="174.03" y1="234.4" x2="183" y2="234.4" stroke="#000" stroke-width="2.75"/>
<line x1="166.72" y1="180" x2="183" y2="180" stroke="#000" stroke-width="3.75"/>
<text x="147" y="195.6" font-size="47" text-anchor="end" letter-spacing="0.3">1.50</text>
<line x1="183" y1="832.8" x2="183" y2="849.07" stroke="#000" stroke-width="3.75"/>
<line x1="268.31" y1="832.8" x2="268.31" y2="841.77" stroke="#000" stroke-width="2.75"/>
<line x1="353.62" y1="832.8" x2="353.62" y2="849.07" stroke="#000" stroke-width="3.75"/>
<line x1="438.94" y1="832.8" x2="438.94" y2="841.77" stroke="#000" stroke-width="2.75"/>
<line x1="524.25" y1="832.8" x2="524.25" y2="849.07" stroke="#000" stroke-width="3.75"/>
<line x1="609.56" y1="832.8" x2="609.56" y2="841.77" stroke="#000" stroke-width="2.75"/>
<line x1="694.88" y1="832.8" x2="694.88" y2="849.07" stroke="#000" stroke-width="3.75"/>
<line x1="780.19" y1="832.8" x2="780.19" y2="841.77" stroke="#000" stroke-width="2.75"/>
<line x1="865.5" y1="832.8" x2="865.5" y2="849.07" stroke="#000" stroke-width="3.75"/>
<line x1="865.5" y1="762.07" x2="881.77" y2="762.07" stroke="#000" stroke-width="3.75"/>
<text x="895.5" y="777.67" font-size="47" text-anchor="start" letter-spacing="0.6">0.1</text>
<line x1="865.5" y1="527.09" x2="881.77" y2="527.09" stroke="#000" stroke-width="3.75"/>
<text x="893.5" y="542.69" font-size="47" text-anchor="start" letter-spacing="0.6">1</text>
<line x1="865.5" y1="292.11" x2="881.77" y2="292.11" stroke="#000" stroke-width="3.75"/>
<text x="893.5" y="307.71" font-size="47" text-anchor="start" letter-spacing="0.6">10</text>
<line x1="865.5" y1="832.8" x2="874.48" y2="832.8" stroke="#000" stroke-width="2.75"/>
<line x1="865.5" y1="814.19" x2="874.48" y2="814.19" stroke="#000" stroke-width="2.75"/>
<line x1="865.5" y1="798.46" x2="874.48" y2="798.46" stroke="#000" stroke-width="2.75"/>
<line x1="865.5" y1="784.84" x2="874.48" y2="784.84" stroke="#000" stroke-width="2.75"/>
<line x1="865.5" y1="772.82" x2="874.48" y2="772.82" stroke="#000" stroke-width="2.75"/>
<line x1="865.5" y1="691.33" x2="874.48" y2="691.33" stroke="#000" stroke-width="2.75"/>
<line x1="865.5" y1="649.95" x2="874.48" y2="649.95" stroke="#000" stroke-width="2.75"/>
<line x1="865.5" y1="620.6" x2="874.48" y2="620.6" stroke="#000" stroke-width="2.75"/>
<line x1="865.5" y1="597.82" x2="874.48" y2="597.82" stroke="#000" stroke-width="2.75"/>
<line x1="865.5" y1="579.22" x2="874.48" y2="579.22" stroke="#000" stroke-width="2.75"/>
<line x1="865.5" y1="563.49" x2="874.48" y2="563.49" stroke="#000" stroke-width="2.75"/>
<line x1="865.5" y1="549.86" x2="874.48" y2="549.86" stroke="#000" stroke-width="2.75"/>
<line x1="865.5" y1="537.84" x2="874.48" y2="537.84" stroke="#000" stroke-width="2.75"/>
<line x1="865.5" y1="456.35" x2="874.48" y2="456.35" stroke="#000" stroke-width="2.75"/>
<line x1="865.5" y1="414.98" x2="874.48" y2="414.98" stroke="#000" stroke-width="2.75"/>
<line x1="865.5" y1="385.62" x2="874.48" y2="385.62" stroke="#000" stroke-width="2.75"/>
<line x1="865.5" y1="362.85" x2="874.48" y2="362.85" stroke="#000" stroke-width="2.75"/>
<line x1="865.5" y1="344.24" x2="874.48" y2="344.24" stroke="#000" stroke-width="2.75"/>
<line x1="865.5" y1="328.51" x2="874.48" y2="328.51" stroke="#000" stroke-width="2.75"/>
<line x1="865.5" y1="314.88" x2="874.48" y2="314.88" stroke="#000" stroke-width="2.75"/>
<line x1="865.5" y1="302.86" x2="874.48" y2="302.86" stroke="#000" stroke-width="2.75"/>
<line x1="865.5" y1="221.38" x2="874.48" y2="221.38" stroke="#000" stroke-width="2.75"/>
<line x1="865.5" y1="180" x2="874.48" y2="180" stroke="#000" stroke-width="2.75"/>
<rect x="183" y="180" width="682.5" height="652.8" fill="none" stroke="#000" stroke-width="3.75"/>
<text transform="translate(36.5 573.9) rotate(-90)" font-size="47"><tspan font-style="italic">z</tspan> <tspan dx="-3.75" dy="3.5" font-size="56">[</tspan><tspan dy="-3.5" dx="-1">mm</tspan><tspan dy="3.5" dx="-2" font-size="56">]</tspan></text>
<text transform="translate(45.5 200.5) rotate(-90)" font-size="50">D<tspan font-size="60" dx="1" dy="3.5">+</tspan></text>
<text transform="translate(45.5 853.3) rotate(-90)" font-size="48">M-</text>
<text transform="translate(1012.5 590) rotate(-90)" font-size="47"><tspan x="0.2" y="3.5" font-size="56">|</tspan><tspan x="10.5" y="0" font-style="italic" textLength="20" lengthAdjust="spacingAndGlyphs">I</tspan><tspan x="38" y="3.5" font-size="56">| </tspan><tspan x="58.5" y="3.5" font-size="56">[</tspan><tspan x="71.5" y="0">m</tspan><tspan x="112" y="0" font-size="45">A</tspan><tspan x="140.5" y="3.5" font-size="56">]</tspan></text>
<g clip-path="url(#clipb)">
<path d="M183 1693.5C185.2 1693.1 190.77 1692.05 196.2 1691.1C201.63 1690.15 208.32 1689.07 215.6 1687.8C222.88 1686.53 231.82 1685.03 239.9 1683.5C247.98 1681.97 256.82 1680.42 264.1 1678.6C271.38 1676.78 278.47 1674.48 283.6 1672.6C288.73 1670.72 291.67 1669.4 294.9 1667.3C298.13 1665.2 300.85 1663.1 303 1660C305.15 1656.9 306.58 1652.48 307.8 1648.7C309.02 1644.92 309.62 1641.88 310.3 1637.3C310.98 1632.72 311.45 1626.58 311.9 1621.2C312.35 1615.82 312.65 1613.1 313 1605C313.35 1596.9 313.73 1586.08 314 1572.6C314.27 1559.12 314.42 1540.28 314.6 1524.1C314.78 1507.92 314.93 1491.68 315.1 1475.5C315.27 1459.32 315.47 1437.78 315.6 1427C315.73 1416.22 315.68 1416.5 315.9 1410.8C316.12 1405.1 316.28 1398.53 316.9 1392.8C317.52 1387.07 318.55 1381.87 319.6 1376.4C320.65 1370.93 321.38 1365.68 323.2 1360C325.02 1354.32 327.92 1347.3 330.5 1342.3C333.08 1337.3 335.73 1333.65 338.7 1330C341.67 1326.35 344.88 1323.05 348.3 1320.4C351.72 1317.75 355.1 1315.78 359.2 1314.1C363.3 1312.42 367.88 1311.67 372.9 1310.3C377.92 1308.93 384.28 1307.27 389.3 1305.9C394.32 1304.53 398.45 1303.1 403 1302.1C407.55 1301.1 412.52 1300.12 416.6 1299.9C420.68 1299.68 423.85 1299.88 427.5 1300.8C431.15 1301.72 434.85 1303.27 438.5 1305.4C442.15 1307.53 445.77 1310.18 449.4 1313.6C453.03 1317.02 456.65 1321.58 460.3 1325.9C463.95 1330.22 467.65 1335.18 471.3 1339.5C474.95 1343.82 478.57 1347.92 482.2 1351.8C485.83 1355.68 489.47 1359.83 493.1 1362.8C496.73 1365.77 499.9 1367.78 504 1369.6C508.1 1371.42 513.13 1372.83 517.7 1373.7C522.27 1374.57 524.57 1374.62 531.4 1374.8C538.23 1374.98 549.93 1374.83 558.7 1374.8C567.47 1374.77 570.82 1374.77 584 1374.6C597.18 1374.43 620.97 1374.13 637.8 1373.8C654.63 1373.47 668.18 1372.6 685 1372.6C701.82 1372.6 721.87 1372.93 738.7 1373.8C755.53 1374.67 771.45 1376.47 786 1377.8C800.55 1379.13 812.75 1380.42 826 1381.8C839.25 1383.18 858.92 1385.38 865.5 1386.1" fill="none" stroke="#f01414" stroke-width="5" stroke-dasharray="17.4 7.5"/>
</g>
<line x1="166.72" y1="1713.4" x2="183" y2="1713.4" stroke="#000" stroke-width="3.75"/>
<text x="147" y="1729" font-size="47" text-anchor="end" letter-spacing="0.3">0.00</text>
<line x1="174.03" y1="1659.02" x2="183" y2="1659.02" stroke="#000" stroke-width="2.75"/>
<line x1="166.72" y1="1604.63" x2="183" y2="1604.63" stroke="#000" stroke-width="3.75"/>
<text x="147" y="1620.23" font-size="47" text-anchor="end" letter-spacing="0.3">0.25</text>
<line x1="174.03" y1="1550.25" x2="183" y2="1550.25" stroke="#000" stroke-width="2.75"/>
<line x1="166.72" y1="1495.87" x2="183" y2="1495.87" stroke="#000" stroke-width="3.75"/>
<text x="147" y="1511.47" font-size="47" text-anchor="end" letter-spacing="0.3">0.50</text>
<line x1="174.03" y1="1441.48" x2="183" y2="1441.48" stroke="#000" stroke-width="2.75"/>
<line x1="166.72" y1="1387.1" x2="183" y2="1387.1" stroke="#000" stroke-width="3.75"/>
<text x="147" y="1402.7" font-size="47" text-anchor="end" letter-spacing="0.3">0.75</text>
<line x1="174.03" y1="1332.72" x2="183" y2="1332.72" stroke="#000" stroke-width="2.75"/>
<line x1="166.72" y1="1278.33" x2="183" y2="1278.33" stroke="#000" stroke-width="3.75"/>
<text x="147" y="1293.93" font-size="47" text-anchor="end" letter-spacing="0.3">1.00</text>
<line x1="174.03" y1="1223.95" x2="183" y2="1223.95" stroke="#000" stroke-width="2.75"/>
<line x1="166.72" y1="1169.57" x2="183" y2="1169.57" stroke="#000" stroke-width="3.75"/>
<text x="147" y="1185.17" font-size="47" text-anchor="end" letter-spacing="0.3">1.25</text>
<line x1="174.03" y1="1115.18" x2="183" y2="1115.18" stroke="#000" stroke-width="2.75"/>
<line x1="166.72" y1="1060.8" x2="183" y2="1060.8" stroke="#000" stroke-width="3.75"/>
<text x="147" y="1076.4" font-size="47" text-anchor="end" letter-spacing="0.3">1.50</text>
<line x1="183" y1="1713.4" x2="183" y2="1729.68" stroke="#000" stroke-width="3.75"/>
<text x="180.4" y="1779" font-size="47" text-anchor="middle" letter-spacing="0.6">56</text>
<line x1="268.31" y1="1713.4" x2="268.31" y2="1722.38" stroke="#000" stroke-width="2.75"/>
<line x1="353.62" y1="1713.4" x2="353.62" y2="1729.68" stroke="#000" stroke-width="3.75"/>
<text x="351.02" y="1779" font-size="47" text-anchor="middle" letter-spacing="0.6">57</text>
<line x1="438.94" y1="1713.4" x2="438.94" y2="1722.38" stroke="#000" stroke-width="2.75"/>
<line x1="524.25" y1="1713.4" x2="524.25" y2="1729.68" stroke="#000" stroke-width="3.75"/>
<text x="521.65" y="1779" font-size="47" text-anchor="middle" letter-spacing="0.6">58</text>
<line x1="609.56" y1="1713.4" x2="609.56" y2="1722.38" stroke="#000" stroke-width="2.75"/>
<line x1="694.88" y1="1713.4" x2="694.88" y2="1729.68" stroke="#000" stroke-width="3.75"/>
<text x="692.27" y="1779" font-size="47" text-anchor="middle" letter-spacing="0.6">59</text>
<line x1="780.19" y1="1713.4" x2="780.19" y2="1722.38" stroke="#000" stroke-width="2.75"/>
<line x1="865.5" y1="1713.4" x2="865.5" y2="1729.68" stroke="#000" stroke-width="3.75"/>
<text x="862.9" y="1779" font-size="47" text-anchor="middle" letter-spacing="0.6">60</text>
<line x1="865.5" y1="1642.69" x2="881.77" y2="1642.69" stroke="#000" stroke-width="3.75"/>
<text x="895.5" y="1658.29" font-size="47" text-anchor="start" letter-spacing="0.6">0.1</text>
<line x1="865.5" y1="1407.78" x2="881.77" y2="1407.78" stroke="#000" stroke-width="3.75"/>
<text x="893.5" y="1423.38" font-size="47" text-anchor="start" letter-spacing="0.6">1</text>
<line x1="865.5" y1="1172.88" x2="881.77" y2="1172.88" stroke="#000" stroke-width="3.75"/>
<text x="893.5" y="1188.48" font-size="47" text-anchor="start" letter-spacing="0.6">10</text>
<line x1="865.5" y1="1713.4" x2="874.48" y2="1713.4" stroke="#000" stroke-width="2.75"/>
<line x1="865.5" y1="1694.8" x2="874.48" y2="1694.8" stroke="#000" stroke-width="2.75"/>
<line x1="865.5" y1="1679.07" x2="874.48" y2="1679.07" stroke="#000" stroke-width="2.75"/>
<line x1="865.5" y1="1665.45" x2="874.48" y2="1665.45" stroke="#000" stroke-width="2.75"/>
<line x1="865.5" y1="1653.44" x2="874.48" y2="1653.44" stroke="#000" stroke-width="2.75"/>
<line x1="865.5" y1="1571.97" x2="874.48" y2="1571.97" stroke="#000" stroke-width="2.75"/>
<line x1="865.5" y1="1530.61" x2="874.48" y2="1530.61" stroke="#000" stroke-width="2.75"/>
<line x1="865.5" y1="1501.26" x2="874.48" y2="1501.26" stroke="#000" stroke-width="2.75"/>
<line x1="865.5" y1="1478.5" x2="874.48" y2="1478.5" stroke="#000" stroke-width="2.75"/>
<line x1="865.5" y1="1459.9" x2="874.48" y2="1459.9" stroke="#000" stroke-width="2.75"/>
<line x1="865.5" y1="1444.17" x2="874.48" y2="1444.17" stroke="#000" stroke-width="2.75"/>
<line x1="865.5" y1="1430.55" x2="874.48" y2="1430.55" stroke="#000" stroke-width="2.75"/>
<line x1="865.5" y1="1418.53" x2="874.48" y2="1418.53" stroke="#000" stroke-width="2.75"/>
<line x1="865.5" y1="1337.07" x2="874.48" y2="1337.07" stroke="#000" stroke-width="2.75"/>
<line x1="865.5" y1="1295.7" x2="874.48" y2="1295.7" stroke="#000" stroke-width="2.75"/>
<line x1="865.5" y1="1266.36" x2="874.48" y2="1266.36" stroke="#000" stroke-width="2.75"/>
<line x1="865.5" y1="1243.59" x2="874.48" y2="1243.59" stroke="#000" stroke-width="2.75"/>
<line x1="865.5" y1="1224.99" x2="874.48" y2="1224.99" stroke="#000" stroke-width="2.75"/>
<line x1="865.5" y1="1209.27" x2="874.48" y2="1209.27" stroke="#000" stroke-width="2.75"/>
<line x1="865.5" y1="1195.64" x2="874.48" y2="1195.64" stroke="#000" stroke-width="2.75"/>
<line x1="865.5" y1="1183.63" x2="874.48" y2="1183.63" stroke="#000" stroke-width="2.75"/>
<line x1="865.5" y1="1102.16" x2="874.48" y2="1102.16" stroke="#000" stroke-width="2.75"/>
<line x1="865.5" y1="1060.8" x2="874.48" y2="1060.8" stroke="#000" stroke-width="2.75"/>
<rect x="183" y="1060.8" width="682.5" height="652.6" fill="none" stroke="#000" stroke-width="3.75"/>
<text transform="translate(36.5 1454.6) rotate(-90)" font-size="47"><tspan font-style="italic">z</tspan> <tspan dx="-3.75" dy="3.5" font-size="56">[</tspan><tspan dy="-3.5" dx="-1">mm</tspan><tspan dy="3.5" dx="-2" font-size="56">]</tspan></text>
<text transform="translate(45.5 1081.3) rotate(-90)" font-size="50">D<tspan font-size="60" dx="1" dy="3.5">+</tspan></text>
<text transform="translate(45.5 1733.9) rotate(-90)" font-size="48">M-</text>
<text transform="translate(1012.5 1470.7) rotate(-90)" font-size="47"><tspan x="0.2" y="3.5" font-size="56">|</tspan><tspan x="10.5" y="0" font-style="italic" textLength="20" lengthAdjust="spacingAndGlyphs">I</tspan><tspan x="38" y="3.5" font-size="56">| </tspan><tspan x="58.5" y="3.5" font-size="56">[</tspan><tspan x="71.5" y="0">m</tspan><tspan x="112" y="0" font-size="45">A</tspan><tspan x="140.5" y="3.5" font-size="56">]</tspan></text>
<rect x="183" y="63" width="682.5" height="23.6" fill="url(#cba)" stroke="#000" stroke-width="3.75"/>
<line x1="183" y1="86.6" x2="183" y2="102.88" stroke="#000" stroke-width="3.75"/>
<text x="180.6" y="152" font-size="47" text-anchor="middle" letter-spacing="0.6">16</text>
<line x1="410.5" y1="86.6" x2="410.5" y2="102.88" stroke="#000" stroke-width="3.75"/>
<text x="408.1" y="152" font-size="47" text-anchor="middle" letter-spacing="0.6">18</text>
<line x1="638" y1="86.6" x2="638" y2="102.88" stroke="#000" stroke-width="3.75"/>
<text x="635.6" y="152" font-size="47" text-anchor="middle" letter-spacing="0.6">20</text>
<line x1="865.5" y1="86.6" x2="865.5" y2="102.88" stroke="#000" stroke-width="3.75"/>
<text x="863.1" y="152" font-size="47" text-anchor="middle" letter-spacing="0.6">22</text>
<rect x="183" y="961.2" width="682.5" height="23" fill="url(#cbb)" stroke="#000" stroke-width="3.75"/>
<line x1="183" y1="984.2" x2="183" y2="1000.48" stroke="#000" stroke-width="3.75"/>
<text x="180.6" y="1049.6" font-size="47" text-anchor="middle" letter-spacing="0.6">0</text>
<line x1="368.46" y1="984.2" x2="368.46" y2="1000.48" stroke="#000" stroke-width="3.75"/>
<text x="366.06" y="1049.6" font-size="47" text-anchor="middle" letter-spacing="0.6">1</text>
<line x1="553.92" y1="984.2" x2="553.92" y2="1000.48" stroke="#000" stroke-width="3.75"/>
<text x="551.52" y="1049.6" font-size="47" text-anchor="middle" letter-spacing="0.6">2</text>
<line x1="739.39" y1="984.2" x2="739.39" y2="1000.48" stroke="#000" stroke-width="3.75"/>
<text x="736.99" y="1049.6" font-size="47" text-anchor="middle" letter-spacing="0.6">3</text>
<text x="9.5" y="93" font-size="47" text-anchor="start">(a)</text>
<text x="9" y="974" font-size="47" text-anchor="start">(b)</text>
<text font-size="47"><tspan x="368.5" y="38.8" font-size="47"><tspan letter-spacing="1.2">log</tspan></tspan><tspan x="431.5" y="49.8" font-size="33">10</tspan><tspan x="469.5" y="37.3" font-size="47">(</tspan><tspan x="488" y="38.8" font-size="47" font-style="italic">n</tspan><tspan x="514.5" y="46.3" font-size="33">e </tspan><tspan x="543.5" y="37.3" font-size="47">[</tspan><tspan x="555.5" y="38.8" font-size="47">m</tspan><tspan x="593.5" y="22.8" font-size="38">−</tspan><tspan x="617" y="24.3" font-size="33">3</tspan><tspan x="642.5" y="37.3" font-size="47">]</tspan><tspan x="656" y="37.3" font-size="47">)</tspan></text>
<text font-size="47"><tspan x="357" y="936.6" font-size="47"><tspan letter-spacing="1.2">log</tspan></tspan><tspan x="419" y="947.6" font-size="33">10</tspan><tspan x="456.5" y="935.1" font-size="47">(</tspan><tspan x="477" y="936.6" font-size="49" font-style="italic"><tspan textLength="35" lengthAdjust="spacingAndGlyphs">E</tspan></tspan><tspan x="514" y="942.1" font-size="68">/</tspan><tspan x="535.5" y="936.6" font-size="49" font-style="italic"><tspan textLength="42" lengthAdjust="spacingAndGlyphs">N</tspan> </tspan><tspan x="589" y="935.1" font-size="47">[</tspan><tspan x="603" y="936.6" font-size="47">T</tspan><tspan x="633.5" y="936.6" font-size="47">d</tspan><tspan x="656" y="935.1" font-size="47">]</tspan><tspan x="670.5" y="935.1" font-size="47">)</tspan></text>
<text x="473.5" y="1842.5" font-size="47"><tspan font-style="italic">t</tspan> <tspan dx="-0.75" dy="3.5" font-size="56">[</tspan><tspan dy="-3.5" dx="-2">μs</tspan><tspan dy="3.5" dx="-3" font-size="56">]</tspan></text>
</svg>
</div>
</body>
</html>
